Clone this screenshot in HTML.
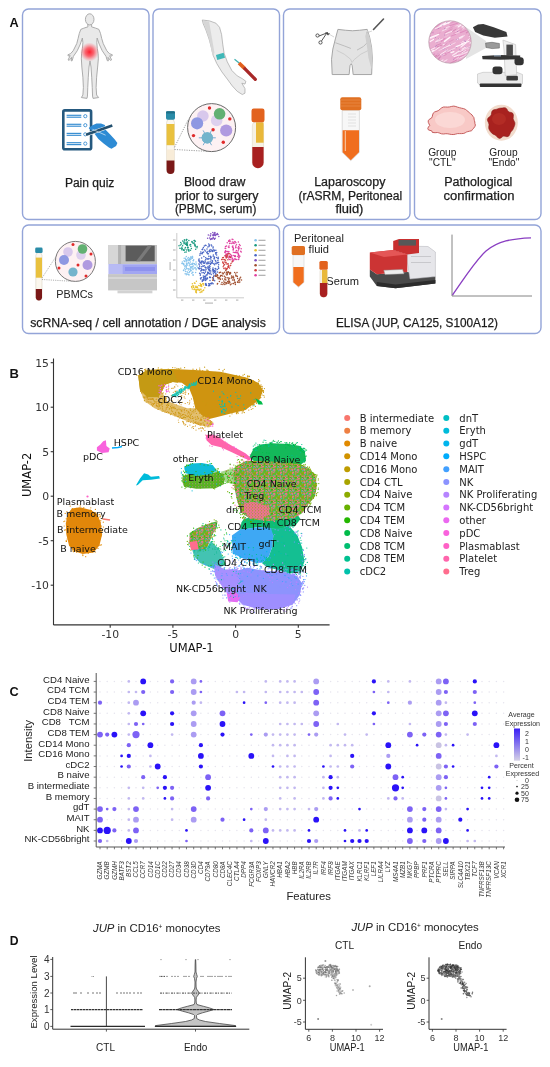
<!DOCTYPE html><html><head><meta charset="utf-8"><style>html,body{margin:0;padding:0;background:#fff;width:550px;height:1067px;overflow:hidden}svg{display:block}</style></head><body>
<svg width="550" height="1067" viewBox="0 0 550 1067">
<rect x="22.5" y="9" width="126.5" height="210.5" rx="6" fill="#fff" stroke="#93a4d8" stroke-width="1.4"/>
<rect x="153" y="9" width="126.5" height="210.5" rx="6" fill="#fff" stroke="#93a4d8" stroke-width="1.4"/>
<rect x="283.5" y="9" width="126.5" height="210.5" rx="6" fill="#fff" stroke="#93a4d8" stroke-width="1.4"/>
<rect x="414.5" y="9" width="126.5" height="210.5" rx="6" fill="#fff" stroke="#93a4d8" stroke-width="1.4"/>
<rect x="22.5" y="225" width="257.0" height="108.5" rx="6" fill="#fff" stroke="#93a4d8" stroke-width="1.4"/>
<rect x="283.5" y="225" width="257.5" height="108.5" rx="6" fill="#fff" stroke="#93a4d8" stroke-width="1.4"/>
<text x="9.6" y="27" font-size="12.5" text-anchor="start" font-family="Liberation Sans, Arial, sans-serif" font-weight="bold" fill="#111" textLength="9.2" lengthAdjust="spacingAndGlyphs">A</text>
<g transform="translate(62,10) scale(0.10183)"><polygon points="252.0,140.0 255.0,165.0 215.0,178.0 185.0,190.0 170.0,230.0 158.0,280.0 145.0,330.0 110.0,400.0 85.0,428.0 58.0,440.0 62.0,452.0 80.0,448.0 60.0,490.0 70.0,495.0 95.0,465.0 90.0,500.0 100.0,498.0 112.0,455.0 150.0,400.0 180.0,335.0 200.0,275.0 205.0,320.0 200.0,380.0 192.0,430.0 190.0,480.0 195.0,560.0 205.0,660.0 210.0,760.0 205.0,835.0 190.0,860.0 245.0,868.0 250.0,845.0 253.0,760.0 258.0,660.0 265.0,560.0 275.0,500.0 285.0,560.0 292.0,660.0 297.0,760.0 300.0,845.0 305.0,868.0 360.0,860.0 340.0,835.0 335.0,760.0 340.0,660.0 350.0,560.0 357.0,480.0 355.0,430.0 347.0,380.0 342.0,320.0 345.0,275.0 365.0,335.0 395.0,400.0 432.0,455.0 445.0,498.0 455.0,500.0 452.0,465.0 475.0,495.0 487.0,490.0 468.0,450.0 490.0,452.0 495.0,440.0 465.0,428.0 440.0,400.0 405.0,330.0 390.0,280.0 378.0,230.0 362.0,190.0 330.0,178.0 290.0,165.0 292.0,140.0" fill="#e9e9e9" stroke="#a5a5a5" stroke-width="9" stroke-linejoin="round"/><ellipse cx="272" cy="92" rx="42" ry="55" fill="#e9e9e9" stroke="#a5a5a5" stroke-width="9"/></g>
<defs><radialGradient id="glow"><stop offset="0" stop-color="#ff1e2e" stop-opacity="1"/><stop offset="0.45" stop-color="#ff3a48" stop-opacity="0.75"/><stop offset="1" stop-color="#ff6070" stop-opacity="0"/></radialGradient></defs>
<circle cx="89.5" cy="52" r="9.5" fill="url(#glow)"/>
<rect x="63.3" y="110.4" width="27.8" height="38.9" rx="1.5" fill="#fff" stroke="#25597f" stroke-width="2.6"/>
<line x1="66.6" y1="115.3" x2="81.3" y2="115.3" stroke="#3a8fd2" stroke-width="1.2"/>
<line x1="66.6" y1="117.2" x2="81.3" y2="117.2" stroke="#3a8fd2" stroke-width="1.2"/>
<circle cx="85.3" cy="116.2" r="1.6" fill="none" stroke="#3a8fd2" stroke-width="0.9"/>
<line x1="66.6" y1="124.3" x2="81.3" y2="124.3" stroke="#3a8fd2" stroke-width="1.2"/>
<line x1="66.6" y1="126.2" x2="81.3" y2="126.2" stroke="#3a8fd2" stroke-width="1.2"/>
<circle cx="85.3" cy="125.2" r="1.6" fill="none" stroke="#3a8fd2" stroke-width="0.9"/>
<line x1="66.6" y1="133.4" x2="81.3" y2="133.4" stroke="#3a8fd2" stroke-width="1.2"/>
<line x1="66.6" y1="135.3" x2="81.3" y2="135.3" stroke="#3a8fd2" stroke-width="1.2"/>
<circle cx="85.3" cy="134.3" r="1.6" fill="none" stroke="#3a8fd2" stroke-width="0.9"/>
<line x1="66.6" y1="142.7" x2="81.3" y2="142.7" stroke="#3a8fd2" stroke-width="1.2"/>
<line x1="66.6" y1="144.6" x2="81.3" y2="144.6" stroke="#3a8fd2" stroke-width="1.2"/>
<circle cx="85.3" cy="143.6" r="1.6" fill="none" stroke="#3a8fd2" stroke-width="0.9"/>
<polygon points="88.9,127.8 92.5,125.2 96.4,123.6 101.0,123.6 104.9,124.9 105.6,129.8 110.2,134.4 114.8,139.6 117.4,142.9 116.1,146.1 111.5,148.8 108.9,147.5 103.6,143.5 98.4,138.9 94.5,133.7 91.9,130.4 88.9,128.5" fill="#2e8bd4" stroke="none" stroke-width="0.8" stroke-linejoin="round"/>
<line x1="86" y1="134.8" x2="112.3" y2="125.6" stroke="#fff" stroke-width="3.6"/><line x1="86" y1="134.8" x2="112.3" y2="125.6" stroke="#23506f" stroke-width="2.6"/>
<line x1="92.5" y1="129.3" x2="105.6" y2="135.2" stroke="#fff" stroke-width="0.6"/>
<g transform="translate(155,10) scale(0.22727)"><polygon points="208.0,44.0 240.0,48.0 268.0,58.0 284.0,76.0 293.0,108.0 298.0,150.0 304.0,190.0 318.0,228.0 338.0,266.0 362.0,290.0 384.0,302.0 400.0,314.0 396.0,326.0 382.0,322.0 396.0,346.0 396.0,366.0 384.0,372.0 362.0,358.0 340.0,334.0 318.0,304.0 294.0,272.0 272.0,236.0 256.0,200.0 248.0,165.0 238.0,128.0 224.0,88.0 212.0,60.0" fill="#ececec" stroke="#a0a0a0" stroke-width="3" stroke-linejoin="round"/><polygon points="210,46 238,52 250,120 262,190 252,196 238,128 222,80" fill="#d6d6d6"/><polygon points="268,198 302,188 308,210 274,220" fill="#3fb8b8"/></g>
<line x1="234.5" y1="59.2" x2="239.5" y2="63.3" stroke="#3fb0b0" stroke-width="1.2"/>
<line x1="239" y1="63" x2="244.8" y2="68.6" stroke="#e2601e" stroke-width="3.6"/>
<line x1="245" y1="68.8" x2="255.3" y2="79.3" stroke="#a82828" stroke-width="3.3" stroke-linecap="round"/>
<rect x="166.6" y="119" width="7.8" height="54.5" rx="3.5" fill="#fbf7ee" stroke="#d0c8b8" stroke-width="0.5"/>
<rect x="166.6" y="124" width="7.8" height="21.2" fill="#e9c13e"/>
<rect x="166.6" y="149.5" width="7.8" height="11" fill="#f8ecd8"/>
<path d="M166.6,160.4 h7.8 v9.6 a3.9,3.9 0 0 1 -7.8,0 Z" fill="#7a1818"/>
<rect x="166" y="111.3" width="9" height="8.4" rx="1.6" fill="#2a8ca8"/><rect x="166" y="111.3" width="9" height="2.2" rx="1" fill="#1f6f88"/>
<line x1="174.5" y1="147.3" x2="188" y2="120" stroke="#777" stroke-width="0.7" stroke-dasharray="1.2,1.2"/>
<line x1="174.5" y1="149.5" x2="207" y2="151.3" stroke="#777" stroke-width="0.7" stroke-dasharray="1.2,1.2"/>
<circle cx="211.6" cy="127.6" r="24" fill="#fdf1f3" stroke="#6a6a6a" stroke-width="1"/>
<circle cx="202.9" cy="116" r="5.8" fill="#d8c8ec"/>
<circle cx="216.7" cy="120.4" r="5.8" fill="#ddd0ee"/>
<circle cx="219.6" cy="113.8" r="5.8" fill="#62b072"/>
<circle cx="197.1" cy="123.3" r="6.1" fill="#8e98e2"/>
<circle cx="226.2" cy="130.5" r="6.1" fill="#b09ae0"/>
<circle cx="207.3" cy="137.8" r="5.6" fill="#74b4cc"/>
<circle cx="209.5" cy="108" r="1.7" fill="#e02a2a"/>
<circle cx="229.8" cy="118.9" r="1.7" fill="#e02a2a"/>
<circle cx="213.1" cy="129.8" r="1.7" fill="#e02a2a"/>
<circle cx="193.5" cy="135.6" r="1.7" fill="#e02a2a"/>
<circle cx="223.3" cy="142.2" r="1.7" fill="#e02a2a"/>
<line x1="207.3" y1="137.8" x2="215.8" y2="137.8" stroke="#5a9ac8" stroke-width="0.8"/>
<line x1="207.3" y1="137.8" x2="211.6" y2="145.2" stroke="#5a9ac8" stroke-width="0.8"/>
<line x1="207.3" y1="137.8" x2="203.1" y2="145.2" stroke="#5a9ac8" stroke-width="0.8"/>
<line x1="207.3" y1="137.8" x2="198.8" y2="137.8" stroke="#5a9ac8" stroke-width="0.8"/>
<line x1="207.3" y1="137.8" x2="203.1" y2="130.4" stroke="#5a9ac8" stroke-width="0.8"/>
<line x1="207.3" y1="137.8" x2="211.6" y2="130.4" stroke="#5a9ac8" stroke-width="0.8"/>
<circle cx="207.3" cy="137.8" r="5.6" fill="#74b4cc"/>
<rect x="252.3" y="121" width="11.3" height="46.7" rx="5" fill="#f6f1e4" stroke="#d8d0c0" stroke-width="0.5"/>
<rect x="256" y="122.3" width="7.6" height="20.4" fill="#e9b83a"/>
<path d="M252.3,147 h11.3 v15.5 a5.65,5.65 0 0 1 -11.3,0 Z" fill="#a82020"/>
<rect x="251.5" y="108.6" width="13" height="13.7" rx="2.2" fill="#e2621e"/>
<g transform="translate(315,16) scale(0.12728)"><polygon points="180.0,105.0 240.0,112.0 295.0,116.0 350.0,112.0 410.0,105.0 430.0,170.0 445.0,250.0 450.0,330.0 445.0,460.0 300.0,460.0 292.0,390.0 285.0,375.0 275.0,390.0 268.0,460.0 135.0,460.0 130.0,340.0 140.0,260.0 160.0,180.0" fill="#e3e3e3" stroke="#9c9c9c" stroke-width="7" stroke-linejoin="round"/><polyline points="160,210 230,235 282,255" fill="none" stroke="#b0b0b0" stroke-width="6"/><polyline points="425,195 380,240 330,268" fill="none" stroke="#b0b0b0" stroke-width="6"/><polyline points="170,270 230,300 280,340 290,365" fill="none" stroke="#c0c0c0" stroke-width="5"/><polyline points="420,270 360,300 305,345 292,365" fill="none" stroke="#c0c0c0" stroke-width="5"/><polygon points="410,105 430,170 445,250 450,330 445,420 420,330 410,250 395,160" fill="#cfcfcf"/></g>
<g stroke="#444" stroke-width="0.9" fill="none"><circle cx="317.5" cy="35.5" r="1.6"/><circle cx="320.5" cy="42.5" r="1.6"/><line x1="319" y1="36" x2="328" y2="32.5"/><line x1="321.5" y1="41" x2="326.5" y2="33.5"/></g>
<path d="M325,32 L330,33.5 L328,35.5 Z" fill="#444"/><line x1="328" y1="33.5" x2="334" y2="37" stroke="#bbb" stroke-width="0.6"/>
<line x1="373.5" y1="29.5" x2="383.5" y2="19" stroke="#555" stroke-width="1.6" stroke-linecap="round"/><line x1="372" y1="31" x2="366" y2="33" stroke="#bbb" stroke-width="0.6"/>
<path d="M342.2,110.3 h17.2 v42 L350.8,160.7 L342.2,152.3 Z" fill="#f7f7f7" stroke="#c8c8c8" stroke-width="0.6"/>
<path d="M342.6,130.2 h16.4 v22.1 L350.8,160.2 L342.6,152.3 Z" fill="#f06e1e"/>
<line x1="345.3" y1="131" x2="345.3" y2="151" stroke="#fbd0b0" stroke-width="1"/>
<line x1="348" y1="114" x2="356" y2="114" stroke="#c8c8c8" stroke-width="0.5"/>
<line x1="348" y1="117" x2="356" y2="117" stroke="#c8c8c8" stroke-width="0.5"/>
<line x1="348" y1="120" x2="356" y2="120" stroke="#c8c8c8" stroke-width="0.5"/>
<line x1="348" y1="123" x2="356" y2="123" stroke="#c8c8c8" stroke-width="0.5"/>
<line x1="348" y1="126" x2="356" y2="126" stroke="#c8c8c8" stroke-width="0.5"/>
<rect x="340.3" y="97.3" width="21" height="13" rx="2" fill="#e07022"/>
<line x1="341" y1="100" x2="360.6" y2="100" stroke="#ea8a48" stroke-width="0.8"/>
<line x1="341" y1="103" x2="360.6" y2="103" stroke="#ea8a48" stroke-width="0.8"/>
<line x1="341" y1="106" x2="360.6" y2="106" stroke="#ea8a48" stroke-width="0.8"/>
<polygon points="463,25 486,41 486,48 466,59" fill="#e4e4e4"/>
<defs><clipPath id="tcl"><circle cx="450" cy="42" r="21.2"/></clipPath></defs><g clip-path="url(#tcl)"><rect x="428" y="20" width="44" height="44" fill="#eaaed0"/><line x1="433.9" y1="51.1" x2="439.5" y2="47.2" stroke="#fff4fa" stroke-width="0.9" stroke-linecap="round"/><line x1="464.8" y1="42.6" x2="469.4" y2="38.7" stroke="#fff4fa" stroke-width="0.7" stroke-linecap="round"/><line x1="470.8" y1="38.6" x2="474.5" y2="37.4" stroke="#e090c0" stroke-width="1.2" stroke-linecap="round"/><line x1="428.0" y1="65.9" x2="434.8" y2="62.7" stroke="#fbe8f3" stroke-width="1.3" stroke-linecap="round"/><line x1="471.9" y1="43.9" x2="478.8" y2="41.8" stroke="#fbe8f3" stroke-width="1.1" stroke-linecap="round"/><line x1="433.4" y1="57.2" x2="436.7" y2="55.4" stroke="#d98ab8" stroke-width="1.3" stroke-linecap="round"/><line x1="461.0" y1="37.3" x2="464.4" y2="35.4" stroke="#f6d2e6" stroke-width="1.1" stroke-linecap="round"/><line x1="429.6" y1="27.5" x2="436.0" y2="24.6" stroke="#d98ab8" stroke-width="1.2" stroke-linecap="round"/><line x1="473.5" y1="21.4" x2="478.9" y2="18.2" stroke="#fff4fa" stroke-width="1.0" stroke-linecap="round"/><line x1="470.3" y1="60.6" x2="475.1" y2="57.9" stroke="#fff4fa" stroke-width="0.8" stroke-linecap="round"/><line x1="441.3" y1="41.3" x2="445.0" y2="38.5" stroke="#e090c0" stroke-width="1.3" stroke-linecap="round"/><line x1="473.7" y1="41.8" x2="479.2" y2="39.6" stroke="#f6d2e6" stroke-width="1.0" stroke-linecap="round"/><line x1="453.4" y1="33.3" x2="461.5" y2="29.7" stroke="#e090c0" stroke-width="0.6" stroke-linecap="round"/><line x1="442.7" y1="62.5" x2="447.0" y2="59.8" stroke="#fbe8f3" stroke-width="1.0" stroke-linecap="round"/><line x1="434.1" y1="62.3" x2="437.4" y2="59.9" stroke="#fbe8f3" stroke-width="0.9" stroke-linecap="round"/><line x1="458.4" y1="61.1" x2="466.8" y2="58.7" stroke="#e090c0" stroke-width="0.9" stroke-linecap="round"/><line x1="454.3" y1="60.4" x2="459.3" y2="57.1" stroke="#f6d2e6" stroke-width="0.8" stroke-linecap="round"/><line x1="433.8" y1="21.3" x2="440.7" y2="17.6" stroke="#fff4fa" stroke-width="1.2" stroke-linecap="round"/><line x1="428.5" y1="30.4" x2="432.3" y2="27.6" stroke="#fbe8f3" stroke-width="0.9" stroke-linecap="round"/><line x1="467.8" y1="49.0" x2="471.4" y2="47.5" stroke="#fbe8f3" stroke-width="0.6" stroke-linecap="round"/><line x1="438.1" y1="64.0" x2="442.9" y2="60.1" stroke="#f6d2e6" stroke-width="1.2" stroke-linecap="round"/><line x1="469.2" y1="35.6" x2="472.8" y2="34.1" stroke="#fff4fa" stroke-width="0.8" stroke-linecap="round"/><line x1="453.9" y1="58.8" x2="457.9" y2="56.1" stroke="#e090c0" stroke-width="1.0" stroke-linecap="round"/><line x1="426.5" y1="50.9" x2="434.3" y2="47.1" stroke="#e090c0" stroke-width="0.5" stroke-linecap="round"/><line x1="438.0" y1="63.9" x2="443.1" y2="61.8" stroke="#f6d2e6" stroke-width="1.1" stroke-linecap="round"/><line x1="432.4" y1="22.6" x2="435.5" y2="20.8" stroke="#f6d2e6" stroke-width="0.5" stroke-linecap="round"/><line x1="429.5" y1="23.7" x2="433.9" y2="22.3" stroke="#fff4fa" stroke-width="0.8" stroke-linecap="round"/><line x1="449.7" y1="28.5" x2="453.1" y2="26.5" stroke="#e090c0" stroke-width="0.7" stroke-linecap="round"/><line x1="461.7" y1="54.3" x2="467.9" y2="51.8" stroke="#fbe8f3" stroke-width="1.0" stroke-linecap="round"/><line x1="464.0" y1="18.4" x2="469.3" y2="16.2" stroke="#f6d2e6" stroke-width="0.6" stroke-linecap="round"/><line x1="467.0" y1="29.2" x2="475.2" y2="25.9" stroke="#f6d2e6" stroke-width="1.0" stroke-linecap="round"/><line x1="444.7" y1="32.9" x2="452.1" y2="28.9" stroke="#d98ab8" stroke-width="0.8" stroke-linecap="round"/><line x1="449.5" y1="45.5" x2="455.2" y2="42.8" stroke="#fff4fa" stroke-width="0.6" stroke-linecap="round"/><line x1="472.4" y1="32.9" x2="478.9" y2="29.7" stroke="#fbe8f3" stroke-width="1.0" stroke-linecap="round"/><line x1="455.6" y1="33.6" x2="459.4" y2="31.9" stroke="#fff4fa" stroke-width="0.6" stroke-linecap="round"/><line x1="431.2" y1="21.7" x2="434.4" y2="20.4" stroke="#fff4fa" stroke-width="1.2" stroke-linecap="round"/><line x1="450.2" y1="63.5" x2="456.5" y2="60.1" stroke="#d98ab8" stroke-width="1.1" stroke-linecap="round"/><line x1="444.7" y1="37.3" x2="448.5" y2="35.1" stroke="#f6d2e6" stroke-width="0.5" stroke-linecap="round"/><line x1="439.2" y1="46.3" x2="444.3" y2="44.4" stroke="#fff4fa" stroke-width="0.9" stroke-linecap="round"/><line x1="444.5" y1="41.4" x2="449.9" y2="37.2" stroke="#fff4fa" stroke-width="1.4" stroke-linecap="round"/><line x1="434.3" y1="35.9" x2="440.1" y2="32.7" stroke="#e090c0" stroke-width="0.7" stroke-linecap="round"/><line x1="462.4" y1="50.1" x2="469.9" y2="46.8" stroke="#f6d2e6" stroke-width="1.1" stroke-linecap="round"/><line x1="449.1" y1="41.9" x2="453.4" y2="39.7" stroke="#e090c0" stroke-width="0.8" stroke-linecap="round"/><line x1="473.5" y1="18.3" x2="477.7" y2="15.8" stroke="#f6d2e6" stroke-width="0.8" stroke-linecap="round"/><line x1="430.4" y1="26.4" x2="435.6" y2="23.3" stroke="#e090c0" stroke-width="1.1" stroke-linecap="round"/><line x1="448.2" y1="23.2" x2="455.3" y2="18.2" stroke="#fff4fa" stroke-width="1.1" stroke-linecap="round"/><line x1="443.9" y1="45.9" x2="447.1" y2="43.3" stroke="#d98ab8" stroke-width="0.6" stroke-linecap="round"/><line x1="438.2" y1="58.6" x2="441.4" y2="56.3" stroke="#d98ab8" stroke-width="1.1" stroke-linecap="round"/><line x1="459.0" y1="52.4" x2="462.4" y2="50.4" stroke="#fff4fa" stroke-width="0.9" stroke-linecap="round"/><line x1="455.6" y1="31.5" x2="459.0" y2="29.2" stroke="#f6d2e6" stroke-width="0.8" stroke-linecap="round"/><line x1="472.8" y1="28.3" x2="477.6" y2="26.7" stroke="#fff4fa" stroke-width="1.1" stroke-linecap="round"/><line x1="426.9" y1="42.1" x2="429.9" y2="40.8" stroke="#f6d2e6" stroke-width="1.0" stroke-linecap="round"/><line x1="473.6" y1="63.2" x2="476.7" y2="60.9" stroke="#fff4fa" stroke-width="1.4" stroke-linecap="round"/><line x1="468.9" y1="35.8" x2="472.5" y2="34.4" stroke="#d98ab8" stroke-width="1.2" stroke-linecap="round"/><line x1="466.4" y1="32.8" x2="470.9" y2="29.7" stroke="#d98ab8" stroke-width="1.3" stroke-linecap="round"/><line x1="464.5" y1="58.5" x2="471.1" y2="53.0" stroke="#d98ab8" stroke-width="1.3" stroke-linecap="round"/><line x1="429.5" y1="38.9" x2="436.8" y2="35.6" stroke="#f6d2e6" stroke-width="1.4" stroke-linecap="round"/><line x1="428.9" y1="57.1" x2="434.7" y2="53.9" stroke="#e090c0" stroke-width="1.1" stroke-linecap="round"/><line x1="442.2" y1="30.9" x2="446.9" y2="28.8" stroke="#fbe8f3" stroke-width="0.8" stroke-linecap="round"/><line x1="458.1" y1="26.9" x2="461.1" y2="25.1" stroke="#fff4fa" stroke-width="1.2" stroke-linecap="round"/><line x1="428.8" y1="19.8" x2="434.3" y2="17.3" stroke="#f6d2e6" stroke-width="1.1" stroke-linecap="round"/><line x1="427.6" y1="29.2" x2="431.8" y2="26.2" stroke="#f6d2e6" stroke-width="0.7" stroke-linecap="round"/><line x1="460.9" y1="43.2" x2="463.8" y2="41.2" stroke="#fbe8f3" stroke-width="1.2" stroke-linecap="round"/><line x1="460.9" y1="47.1" x2="466.2" y2="42.8" stroke="#fff4fa" stroke-width="1.1" stroke-linecap="round"/><line x1="449.7" y1="25.8" x2="457.4" y2="23.2" stroke="#e090c0" stroke-width="1.2" stroke-linecap="round"/><line x1="428.7" y1="50.7" x2="434.9" y2="47.7" stroke="#fbe8f3" stroke-width="1.1" stroke-linecap="round"/><line x1="472.6" y1="36.7" x2="480.6" y2="33.6" stroke="#fbe8f3" stroke-width="1.3" stroke-linecap="round"/><line x1="469.8" y1="26.3" x2="473.8" y2="24.0" stroke="#e090c0" stroke-width="0.5" stroke-linecap="round"/><line x1="433.8" y1="62.7" x2="438.8" y2="59.1" stroke="#d98ab8" stroke-width="1.3" stroke-linecap="round"/><line x1="452.6" y1="55.2" x2="459.0" y2="51.4" stroke="#fbe8f3" stroke-width="1.3" stroke-linecap="round"/><line x1="437.5" y1="46.8" x2="442.3" y2="45.1" stroke="#d98ab8" stroke-width="1.1" stroke-linecap="round"/><line x1="432.3" y1="19.3" x2="436.6" y2="15.8" stroke="#e090c0" stroke-width="1.0" stroke-linecap="round"/><line x1="461.5" y1="53.6" x2="465.2" y2="51.4" stroke="#d98ab8" stroke-width="1.0" stroke-linecap="round"/><line x1="440.2" y1="25.7" x2="446.3" y2="22.4" stroke="#fff4fa" stroke-width="1.1" stroke-linecap="round"/><line x1="462.1" y1="49.2" x2="465.9" y2="46.9" stroke="#fff4fa" stroke-width="0.9" stroke-linecap="round"/><line x1="448.9" y1="19.9" x2="456.5" y2="17.0" stroke="#fff4fa" stroke-width="0.7" stroke-linecap="round"/><line x1="454.1" y1="56.5" x2="461.3" y2="54.5" stroke="#fff4fa" stroke-width="1.2" stroke-linecap="round"/><line x1="432.8" y1="19.6" x2="439.3" y2="15.4" stroke="#fff4fa" stroke-width="1.3" stroke-linecap="round"/><line x1="435.5" y1="28.9" x2="442.0" y2="25.4" stroke="#fbe8f3" stroke-width="1.2" stroke-linecap="round"/><line x1="427.3" y1="62.0" x2="430.5" y2="60.0" stroke="#d98ab8" stroke-width="0.8" stroke-linecap="round"/><line x1="456.2" y1="46.7" x2="462.8" y2="44.0" stroke="#fff4fa" stroke-width="1.3" stroke-linecap="round"/><line x1="457.5" y1="53.2" x2="462.9" y2="51.4" stroke="#d98ab8" stroke-width="0.6" stroke-linecap="round"/><line x1="466.7" y1="60.7" x2="469.8" y2="59.3" stroke="#f6d2e6" stroke-width="0.8" stroke-linecap="round"/><line x1="462.1" y1="62.9" x2="465.4" y2="61.4" stroke="#d98ab8" stroke-width="1.1" stroke-linecap="round"/><line x1="435.9" y1="41.9" x2="442.6" y2="39.0" stroke="#fff4fa" stroke-width="0.7" stroke-linecap="round"/><line x1="470.2" y1="43.1" x2="472.8" y2="41.4" stroke="#fff4fa" stroke-width="1.3" stroke-linecap="round"/><line x1="459.4" y1="37.9" x2="462.8" y2="36.3" stroke="#fbe8f3" stroke-width="1.3" stroke-linecap="round"/><line x1="473.8" y1="29.2" x2="480.3" y2="25.9" stroke="#d98ab8" stroke-width="0.9" stroke-linecap="round"/><line x1="443.9" y1="48.5" x2="449.7" y2="45.0" stroke="#fff4fa" stroke-width="0.8" stroke-linecap="round"/><line x1="456.5" y1="39.9" x2="462.2" y2="37.7" stroke="#fbe8f3" stroke-width="0.7" stroke-linecap="round"/><line x1="466.9" y1="61.1" x2="474.6" y2="58.5" stroke="#e090c0" stroke-width="1.2" stroke-linecap="round"/><line x1="430.2" y1="41.5" x2="433.5" y2="39.4" stroke="#fff4fa" stroke-width="1.2" stroke-linecap="round"/><line x1="440.4" y1="64.3" x2="444.8" y2="60.6" stroke="#f6d2e6" stroke-width="0.7" stroke-linecap="round"/><line x1="466.7" y1="28.6" x2="469.6" y2="26.4" stroke="#fff4fa" stroke-width="1.0" stroke-linecap="round"/><line x1="431.9" y1="23.9" x2="437.4" y2="19.4" stroke="#f6d2e6" stroke-width="0.7" stroke-linecap="round"/><line x1="436.5" y1="45.3" x2="440.7" y2="43.7" stroke="#d98ab8" stroke-width="0.9" stroke-linecap="round"/><line x1="459.5" y1="57.0" x2="464.6" y2="55.1" stroke="#e090c0" stroke-width="1.4" stroke-linecap="round"/><line x1="443.2" y1="55.7" x2="446.2" y2="54.6" stroke="#d98ab8" stroke-width="0.9" stroke-linecap="round"/><line x1="449.1" y1="19.8" x2="454.8" y2="16.0" stroke="#fff4fa" stroke-width="1.2" stroke-linecap="round"/><line x1="460.5" y1="43.5" x2="464.2" y2="41.8" stroke="#e090c0" stroke-width="0.8" stroke-linecap="round"/><line x1="438.7" y1="62.0" x2="443.0" y2="59.9" stroke="#fff4fa" stroke-width="0.6" stroke-linecap="round"/><line x1="441.6" y1="56.1" x2="447.9" y2="52.0" stroke="#fbe8f3" stroke-width="0.6" stroke-linecap="round"/><line x1="438.9" y1="50.5" x2="446.8" y2="47.3" stroke="#fff4fa" stroke-width="0.5" stroke-linecap="round"/><line x1="450.6" y1="23.1" x2="459.0" y2="20.3" stroke="#e090c0" stroke-width="0.7" stroke-linecap="round"/><line x1="435.5" y1="41.7" x2="439.5" y2="38.9" stroke="#fbe8f3" stroke-width="0.8" stroke-linecap="round"/><line x1="446.4" y1="27.6" x2="449.4" y2="26.6" stroke="#fff4fa" stroke-width="0.7" stroke-linecap="round"/><line x1="426.6" y1="55.1" x2="433.3" y2="50.6" stroke="#fff4fa" stroke-width="1.4" stroke-linecap="round"/><line x1="451.4" y1="36.0" x2="455.8" y2="34.4" stroke="#e090c0" stroke-width="1.0" stroke-linecap="round"/><line x1="443.7" y1="24.9" x2="448.4" y2="22.7" stroke="#fff4fa" stroke-width="1.3" stroke-linecap="round"/><line x1="458.6" y1="55.1" x2="465.3" y2="52.8" stroke="#f6d2e6" stroke-width="1.4" stroke-linecap="round"/><line x1="460.5" y1="32.6" x2="466.4" y2="30.3" stroke="#e090c0" stroke-width="1.2" stroke-linecap="round"/><line x1="445.0" y1="48.0" x2="449.3" y2="46.4" stroke="#d98ab8" stroke-width="0.7" stroke-linecap="round"/><line x1="462.8" y1="29.1" x2="465.9" y2="26.9" stroke="#fff4fa" stroke-width="0.5" stroke-linecap="round"/><line x1="473.0" y1="42.0" x2="479.9" y2="39.9" stroke="#e090c0" stroke-width="1.0" stroke-linecap="round"/><line x1="469.3" y1="36.3" x2="476.9" y2="32.3" stroke="#fbe8f3" stroke-width="1.2" stroke-linecap="round"/><line x1="432.6" y1="18.2" x2="435.9" y2="16.9" stroke="#fbe8f3" stroke-width="0.9" stroke-linecap="round"/><line x1="429.6" y1="33.7" x2="433.3" y2="32.1" stroke="#e090c0" stroke-width="1.0" stroke-linecap="round"/><line x1="440.0" y1="54.8" x2="447.3" y2="50.0" stroke="#fbe8f3" stroke-width="1.0" stroke-linecap="round"/><line x1="459.7" y1="58.1" x2="467.7" y2="54.3" stroke="#fff4fa" stroke-width="0.7" stroke-linecap="round"/><line x1="468.3" y1="30.7" x2="472.9" y2="28.6" stroke="#e090c0" stroke-width="1.0" stroke-linecap="round"/><line x1="442.9" y1="48.3" x2="450.3" y2="45.5" stroke="#fbe8f3" stroke-width="0.8" stroke-linecap="round"/><line x1="472.5" y1="20.1" x2="479.3" y2="16.5" stroke="#fbe8f3" stroke-width="1.1" stroke-linecap="round"/><line x1="464.6" y1="26.3" x2="470.6" y2="24.2" stroke="#fff4fa" stroke-width="1.0" stroke-linecap="round"/><line x1="455.8" y1="26.1" x2="463.0" y2="23.8" stroke="#fff4fa" stroke-width="0.6" stroke-linecap="round"/><line x1="445.8" y1="33.7" x2="452.7" y2="31.0" stroke="#fff4fa" stroke-width="0.8" stroke-linecap="round"/><line x1="461.8" y1="53.0" x2="465.6" y2="50.6" stroke="#fff4fa" stroke-width="0.8" stroke-linecap="round"/><line x1="462.9" y1="27.1" x2="471.2" y2="24.3" stroke="#fff4fa" stroke-width="1.1" stroke-linecap="round"/><line x1="448.1" y1="51.3" x2="455.1" y2="48.0" stroke="#fbe8f3" stroke-width="0.7" stroke-linecap="round"/><line x1="468.3" y1="61.8" x2="471.3" y2="60.1" stroke="#f6d2e6" stroke-width="1.1" stroke-linecap="round"/><line x1="465.2" y1="61.7" x2="471.5" y2="59.2" stroke="#fff4fa" stroke-width="0.5" stroke-linecap="round"/><line x1="451.0" y1="52.6" x2="453.9" y2="51.7" stroke="#fff4fa" stroke-width="1.3" stroke-linecap="round"/><line x1="430.3" y1="37.6" x2="438.6" y2="34.4" stroke="#fff4fa" stroke-width="1.3" stroke-linecap="round"/><line x1="462.0" y1="26.9" x2="465.9" y2="24.2" stroke="#fbe8f3" stroke-width="1.2" stroke-linecap="round"/><line x1="470.5" y1="24.8" x2="478.1" y2="21.0" stroke="#fff4fa" stroke-width="1.1" stroke-linecap="round"/><line x1="444.8" y1="53.7" x2="449.8" y2="52.1" stroke="#e090c0" stroke-width="1.0" stroke-linecap="round"/><line x1="435.7" y1="29.5" x2="440.5" y2="27.8" stroke="#e090c0" stroke-width="0.8" stroke-linecap="round"/><line x1="452.5" y1="31.4" x2="456.0" y2="29.2" stroke="#d98ab8" stroke-width="1.0" stroke-linecap="round"/><line x1="461.8" y1="43.6" x2="468.9" y2="41.4" stroke="#fff4fa" stroke-width="1.1" stroke-linecap="round"/><line x1="435.8" y1="26.6" x2="440.8" y2="23.0" stroke="#e090c0" stroke-width="1.4" stroke-linecap="round"/><line x1="434.9" y1="58.0" x2="439.8" y2="54.7" stroke="#d98ab8" stroke-width="1.0" stroke-linecap="round"/><circle cx="439.3" cy="58.1" r="0.45" fill="#9a70c0"/><circle cx="456.3" cy="47.7" r="0.45" fill="#9a70c0"/><circle cx="433.1" cy="32.9" r="0.45" fill="#9a70c0"/><circle cx="470.6" cy="28.9" r="0.45" fill="#9a70c0"/><circle cx="451.7" cy="50.6" r="0.45" fill="#9a70c0"/><circle cx="450.5" cy="44.4" r="0.45" fill="#9a70c0"/><circle cx="470.7" cy="54.4" r="0.45" fill="#9a70c0"/><circle cx="438.4" cy="38.9" r="0.45" fill="#9a70c0"/><circle cx="446.5" cy="50.1" r="0.45" fill="#9a70c0"/><circle cx="457.7" cy="31.5" r="0.45" fill="#9a70c0"/><circle cx="458.5" cy="39.0" r="0.45" fill="#9a70c0"/><circle cx="428.7" cy="32.8" r="0.45" fill="#9a70c0"/><circle cx="444.6" cy="28.7" r="0.45" fill="#9a70c0"/><circle cx="457.5" cy="63.7" r="0.45" fill="#9a70c0"/><circle cx="469.0" cy="47.7" r="0.45" fill="#9a70c0"/><circle cx="465.7" cy="41.6" r="0.45" fill="#9a70c0"/><circle cx="453.8" cy="59.3" r="0.45" fill="#9a70c0"/><circle cx="430.6" cy="35.9" r="0.45" fill="#9a70c0"/><circle cx="444.5" cy="35.0" r="0.45" fill="#9a70c0"/><circle cx="446.8" cy="22.5" r="0.45" fill="#9a70c0"/><circle cx="457.9" cy="62.1" r="0.45" fill="#9a70c0"/><circle cx="438.3" cy="28.2" r="0.45" fill="#9a70c0"/><circle cx="442.7" cy="55.0" r="0.45" fill="#9a70c0"/><circle cx="438.0" cy="53.9" r="0.45" fill="#9a70c0"/><circle cx="435.6" cy="46.2" r="0.45" fill="#9a70c0"/><circle cx="459.7" cy="49.6" r="0.45" fill="#9a70c0"/><circle cx="431.7" cy="62.1" r="0.45" fill="#9a70c0"/><circle cx="465.3" cy="41.2" r="0.45" fill="#9a70c0"/><circle cx="465.8" cy="46.4" r="0.45" fill="#9a70c0"/><circle cx="435.4" cy="37.5" r="0.45" fill="#9a70c0"/><circle cx="464.1" cy="40.4" r="0.45" fill="#9a70c0"/><circle cx="429.8" cy="27.3" r="0.45" fill="#9a70c0"/><circle cx="436.2" cy="45.8" r="0.45" fill="#9a70c0"/><circle cx="456.3" cy="39.7" r="0.45" fill="#9a70c0"/><circle cx="445.8" cy="62.4" r="0.45" fill="#9a70c0"/><circle cx="443.1" cy="49.6" r="0.45" fill="#9a70c0"/><circle cx="437.0" cy="42.6" r="0.45" fill="#9a70c0"/><circle cx="435.9" cy="25.0" r="0.45" fill="#9a70c0"/><circle cx="442.8" cy="25.1" r="0.45" fill="#9a70c0"/><circle cx="444.8" cy="48.7" r="0.45" fill="#9a70c0"/></g><circle cx="450" cy="42" r="21.2" fill="none" stroke="#b89aa8" stroke-width="0.7"/>
<polygon points="477.5,74.0 483.0,72.3 517.0,72.3 522.5,74.5 522.5,83.5 519.0,85.0 480.0,85.0 477.5,83.0" fill="#ececec" stroke="#b4b4b4" stroke-width="0.5" stroke-linejoin="round"/>
<rect x="479.8" y="83.4" width="41.6" height="3.6" rx="0.8" fill="#333"/>
<rect x="506.4" y="75.8" width="11.5" height="4.6" rx="1.2" fill="#3c3c3c"/>
<polygon points="502.9,40.0 515.6,44.6 516.7,74.7 505.2,75.8 504.0,50.0" fill="#efefef" stroke="#b4b4b4" stroke-width="0.5" stroke-linejoin="round"/>
<rect x="506.4" y="44.6" width="6.5" height="11" fill="#4a4a4a"/>
<rect x="492.5" y="66.6" width="10" height="7.6" rx="3" fill="#333"/>
<rect x="514.5" y="57.3" width="9.2" height="8" rx="3" fill="#333"/>
<polygon points="482.1,56.0 500.0,55.0 520.2,55.6 520.2,59.2 500.0,59.8 482.6,59.2" fill="#353535" stroke="none" stroke-width="0.8" stroke-linejoin="round"/>
<rect x="494" y="55.2" width="7" height="1.2" fill="#99aabb"/>
<polygon points="485.6,43.0 492.0,42.3 499.4,43.5 499.4,48.1 492.0,48.6 486.0,47.5" fill="#9a9a9a" stroke="#555" stroke-width="0.5" stroke-linejoin="round"/>
<polygon points="472.9,27.3 478.0,24.5 483.3,23.9 493.7,27.3 506.4,31.9 507.5,36.6 494.8,37.7 483.3,35.4 475.2,31.9" fill="#383838" stroke="none" stroke-width="0.8" stroke-linejoin="round"/>
<polygon points="474.9,123.5 475.4,125.0 474.9,126.5 474.0,127.9 473.2,128.6 472.5,129.3 472.3,130.1 471.3,130.8 469.6,131.2 467.8,131.6 466.3,132.1 465.2,132.8 463.8,133.4 461.7,133.6 459.5,133.6 457.5,133.6 455.7,134.1 453.8,134.5 451.7,134.5 449.7,134.2 447.8,133.8 445.8,133.7 443.5,134.0 441.4,133.8 439.9,133.2 438.8,132.8 437.4,132.5 435.1,132.7 433.0,132.5 432.0,132.1 431.9,131.4 431.7,130.8 430.0,130.4 428.4,129.9 427.8,128.5 428.4,127.0 429.7,125.5 429.1,124.0 428.3,122.4 428.2,120.8 429.3,119.3 431.4,118.2 432.2,116.8 432.6,115.0 433.2,113.2 434.7,111.9 437.0,111.2 438.8,110.3 440.2,109.0 441.7,107.8 443.5,107.0 445.6,107.0 447.7,107.1 449.7,106.9 451.7,106.4 453.8,106.1 455.8,106.5 457.7,107.2 459.6,107.7 461.5,108.2 463.5,108.6 465.3,109.3 466.7,110.4 468.1,111.5 469.4,112.7 470.7,113.8 472.0,114.9 472.9,116.3 473.9,117.6 474.1,119.1 474.4,120.6 474.8,122.0" fill="#f8c9c6" stroke="#c05050" stroke-width="0.9" stroke-linejoin="round"/>
<ellipse cx="450" cy="120" rx="15" ry="8" fill="#fbdcd8" opacity="0.8"/>
<defs><radialGradient id="endo"><stop offset="0.6" stop-color="#a01c1c"/><stop offset="0.8" stop-color="#b0402c"/><stop offset="1" stop-color="#f0d8c8" stop-opacity="0"/></radialGradient></defs>
<ellipse cx="501.3" cy="122.7" rx="16.5" ry="18" fill="#f2dccd"/>
<polygon points="514.9,122.7 514.9,124.3 514.5,125.8 513.9,127.3 513.3,128.7 512.6,130.0 511.6,131.1 510.7,132.2 510.1,133.6 509.4,135.2 508.3,136.4 506.9,136.7 505.2,136.3 503.8,136.0 502.6,136.6 501.3,137.7 499.8,138.4 498.4,138.1 497.2,136.9 496.1,135.7 495.0,134.9 493.7,134.4 492.4,133.7 491.4,132.7 490.4,131.6 489.6,130.3 488.9,128.9 488.7,127.3 488.9,125.7 489.0,124.2 488.5,122.7 487.7,121.1 487.4,119.4 488.1,117.9 489.5,116.8 490.7,115.8 491.3,114.5 491.5,112.8 492.0,111.2 493.1,110.1 494.6,109.6 496.0,109.4 497.3,109.0 498.6,108.5 499.9,108.2 501.3,108.1 502.7,107.9 504.1,107.7 505.6,107.9 506.8,108.9 507.6,110.4 508.5,111.6 509.7,112.2 511.4,112.5 512.8,113.3 513.4,114.9 513.3,116.7 513.1,118.4 513.5,119.8 514.2,121.2" fill="#a8221f" stroke="#8a1a1a" stroke-width="0.6" stroke-linejoin="round"/>
<ellipse cx="499" cy="119" rx="7" ry="6" fill="#b83028" opacity="0.7"/>
<text x="442.3" y="155.5" font-size="10.2" text-anchor="middle" font-family="Liberation Sans, Arial, sans-serif" fill="#222">Group</text>
<text x="442.3" y="165.6" font-size="10.2" text-anchor="middle" font-family="Liberation Sans, Arial, sans-serif" fill="#222">"CTL"</text>
<text x="503.4" y="155.5" font-size="10.2" text-anchor="middle" font-family="Liberation Sans, Arial, sans-serif" fill="#222">Group</text>
<text x="503.9" y="165.6" font-size="10.2" text-anchor="middle" font-family="Liberation Sans, Arial, sans-serif" fill="#222">"Endo"</text>
<rect x="35.8" y="252.6" width="6.2" height="47.7" rx="3" fill="#fbf7ee" stroke="#d0c8b8" stroke-width="0.5"/>
<rect x="35.8" y="257.6" width="6.2" height="20.1" fill="#e9c13e"/>
<path d="M35.8,289 h6.2 v8.3 a3.1,3.1 0 0 1 -6.2,0 Z" fill="#7a1818"/>
<rect x="35.2" y="247.6" width="7.4" height="5.4" rx="1.3" fill="#2a8ca8"/>
<line x1="42" y1="278" x2="57" y2="255" stroke="#777" stroke-width="0.6" stroke-dasharray="1.1,1.1"/>
<line x1="42" y1="279.5" x2="72" y2="281.3" stroke="#777" stroke-width="0.6" stroke-dasharray="1.1,1.1"/>
<circle cx="75.4" cy="261.4" r="20" fill="#fdf1f3" stroke="#6a6a6a" stroke-width="0.9"/>
<circle cx="68" cy="252" r="4.8" fill="#d8c8ec"/>
<circle cx="81" cy="255" r="4.8" fill="#ddd0ee"/>
<circle cx="82.5" cy="249" r="4.8" fill="#62b072"/>
<circle cx="64" cy="260" r="5" fill="#8e98e2"/>
<circle cx="87.5" cy="265" r="5" fill="#b09ae0"/>
<circle cx="73" cy="272" r="4.6" fill="#74b4cc"/>
<circle cx="73" cy="244.5" r="1.5" fill="#e02a2a"/>
<circle cx="91" cy="254" r="1.5" fill="#e02a2a"/>
<circle cx="78" cy="265" r="1.5" fill="#e02a2a"/>
<circle cx="59" cy="268" r="1.5" fill="#e02a2a"/>
<circle cx="86" cy="276" r="1.5" fill="#e02a2a"/>
<text x="74.6" y="298.4" font-size="10.8" text-anchor="middle" font-family="Liberation Sans, Arial, sans-serif" fill="#222">PBMCs</text>
<rect x="108.1" y="245" width="48.9" height="19.2" fill="#c4c4c4"/>
<rect x="108.1" y="245" width="10" height="19.2" fill="#d6d6d6"/>
<rect x="118.1" y="245" width="3" height="19.2" fill="#b0b0b0"/>
<rect x="125.6" y="245.6" width="29.1" height="15.7" fill="#5c5c5c"/>
<polygon points="136,261.3 148,245.6 152,245.6 140,261.3" fill="#7a7a7a"/>
<rect x="108.7" y="264.2" width="48.3" height="9.9" fill="#a2a6f2"/>
<rect x="108.7" y="264.2" width="14" height="9.9" fill="#b8bbf4"/>
<rect x="125" y="267" width="30" height="4" fill="#8e92ee"/>
<rect x="108.1" y="274.1" width="48.9" height="16.3" fill="#c6c6c6"/>
<rect x="108.1" y="277" width="48.9" height="2" fill="#d6d6d6"/>
<rect x="117.5" y="290.4" width="34.9" height="2.9" fill="#d2d2d2"/>
<line x1="176.8" y1="233" x2="176.8" y2="297.8" stroke="#999" stroke-width="0.5"/><line x1="176.8" y1="297.8" x2="244" y2="297.8" stroke="#999" stroke-width="0.5"/>
<circle cx="189.0" cy="251.1" r="0.75" fill="#1a9a80"/>
<circle cx="183.4" cy="250.0" r="0.75" fill="#1a9a80"/>
<circle cx="186.8" cy="244.7" r="0.75" fill="#1a9a80"/>
<circle cx="197.2" cy="246.5" r="0.75" fill="#1a9a80"/>
<circle cx="188.2" cy="249.4" r="0.75" fill="#1a9a80"/>
<circle cx="195.0" cy="245.9" r="0.75" fill="#1a9a80"/>
<circle cx="191.9" cy="241.9" r="0.75" fill="#1a9a80"/>
<circle cx="186.1" cy="243.9" r="0.75" fill="#1a9a80"/>
<circle cx="182.6" cy="241.1" r="0.75" fill="#1a9a80"/>
<circle cx="180.4" cy="245.1" r="0.75" fill="#1a9a80"/>
<circle cx="187.4" cy="244.4" r="0.75" fill="#1a9a80"/>
<circle cx="188.9" cy="240.6" r="0.75" fill="#1a9a80"/>
<circle cx="188.0" cy="247.2" r="0.75" fill="#1a9a80"/>
<circle cx="192.8" cy="242.4" r="0.75" fill="#1a9a80"/>
<circle cx="186.8" cy="239.6" r="0.75" fill="#1a9a80"/>
<circle cx="186.5" cy="239.5" r="0.75" fill="#1a9a80"/>
<circle cx="181.8" cy="249.8" r="0.75" fill="#1a9a80"/>
<circle cx="179.9" cy="248.3" r="0.75" fill="#1a9a80"/>
<circle cx="190.6" cy="244.5" r="0.75" fill="#1a9a80"/>
<circle cx="191.4" cy="248.5" r="0.75" fill="#1a9a80"/>
<circle cx="194.6" cy="245.0" r="0.75" fill="#1a9a80"/>
<circle cx="184.9" cy="243.3" r="0.75" fill="#1a9a80"/>
<circle cx="182.6" cy="245.8" r="0.75" fill="#1a9a80"/>
<circle cx="184.2" cy="250.3" r="0.75" fill="#1a9a80"/>
<circle cx="180.7" cy="242.6" r="0.75" fill="#1a9a80"/>
<circle cx="184.7" cy="239.9" r="0.75" fill="#1a9a80"/>
<circle cx="194.4" cy="240.5" r="0.75" fill="#1a9a80"/>
<circle cx="186.7" cy="243.5" r="0.75" fill="#1a9a80"/>
<circle cx="194.5" cy="240.7" r="0.75" fill="#1a9a80"/>
<circle cx="194.4" cy="243.0" r="0.75" fill="#1a9a80"/>
<circle cx="187.5" cy="242.9" r="0.75" fill="#1a9a80"/>
<circle cx="192.0" cy="241.4" r="0.75" fill="#1a9a80"/>
<circle cx="188.0" cy="247.7" r="0.75" fill="#1a9a80"/>
<circle cx="194.2" cy="240.5" r="0.75" fill="#1a9a80"/>
<circle cx="195.7" cy="249.3" r="0.75" fill="#1a9a80"/>
<circle cx="185.4" cy="247.4" r="0.75" fill="#1a9a80"/>
<circle cx="186.2" cy="251.9" r="0.75" fill="#1a9a80"/>
<circle cx="189.9" cy="244.9" r="0.75" fill="#1a9a80"/>
<circle cx="187.0" cy="245.0" r="0.75" fill="#1a9a80"/>
<circle cx="187.4" cy="242.1" r="0.75" fill="#1a9a80"/>
<circle cx="195.4" cy="241.3" r="0.75" fill="#1a9a80"/>
<circle cx="179.0" cy="245.8" r="0.75" fill="#1a9a80"/>
<circle cx="187.5" cy="247.8" r="0.75" fill="#1a9a80"/>
<circle cx="187.1" cy="245.3" r="0.75" fill="#1a9a80"/>
<circle cx="190.5" cy="250.2" r="0.75" fill="#1a9a80"/>
<circle cx="185.6" cy="244.2" r="0.75" fill="#1a9a80"/>
<circle cx="197.0" cy="247.7" r="0.75" fill="#1a9a80"/>
<circle cx="184.9" cy="252.3" r="0.75" fill="#1a9a80"/>
<circle cx="193.2" cy="243.4" r="0.75" fill="#1a9a80"/>
<circle cx="181.9" cy="247.2" r="0.75" fill="#1a9a80"/>
<circle cx="184.0" cy="241.8" r="0.75" fill="#1a9a80"/>
<circle cx="181.5" cy="244.0" r="0.75" fill="#1a9a80"/>
<circle cx="194.8" cy="244.2" r="0.75" fill="#1a9a80"/>
<circle cx="181.2" cy="248.5" r="0.75" fill="#1a9a80"/>
<circle cx="188.9" cy="249.8" r="0.75" fill="#1a9a80"/>
<circle cx="195.3" cy="245.3" r="0.75" fill="#1a9a80"/>
<circle cx="187.5" cy="245.8" r="0.75" fill="#1a9a80"/>
<circle cx="182.3" cy="248.7" r="0.75" fill="#1a9a80"/>
<circle cx="195.9" cy="246.7" r="0.75" fill="#1a9a80"/>
<circle cx="186.9" cy="244.7" r="0.75" fill="#1a9a80"/>
<circle cx="184.0" cy="242.6" r="0.75" fill="#1a9a80"/>
<circle cx="186.1" cy="242.2" r="0.75" fill="#1a9a80"/>
<circle cx="186.3" cy="240.2" r="0.75" fill="#1a9a80"/>
<circle cx="190.8" cy="246.2" r="0.75" fill="#1a9a80"/>
<circle cx="184.3" cy="239.9" r="0.75" fill="#1a9a80"/>
<circle cx="188.5" cy="250.7" r="0.75" fill="#1a9a80"/>
<circle cx="184.0" cy="243.8" r="0.75" fill="#1a9a80"/>
<circle cx="185.0" cy="249.0" r="0.75" fill="#1a9a80"/>
<circle cx="183.5" cy="250.0" r="0.75" fill="#1a9a80"/>
<circle cx="186.7" cy="250.1" r="0.75" fill="#1a9a80"/>
<circle cx="213.1" cy="235.8" r="0.75" fill="#8050c0"/>
<circle cx="208.3" cy="234.9" r="0.75" fill="#8050c0"/>
<circle cx="212.0" cy="238.5" r="0.75" fill="#8050c0"/>
<circle cx="214.0" cy="234.4" r="0.75" fill="#8050c0"/>
<circle cx="214.5" cy="239.2" r="0.75" fill="#8050c0"/>
<circle cx="212.4" cy="235.1" r="0.75" fill="#8050c0"/>
<circle cx="211.5" cy="238.8" r="0.75" fill="#8050c0"/>
<circle cx="215.0" cy="233.9" r="0.75" fill="#8050c0"/>
<circle cx="214.5" cy="235.0" r="0.75" fill="#8050c0"/>
<circle cx="210.5" cy="239.6" r="0.75" fill="#8050c0"/>
<circle cx="216.0" cy="234.5" r="0.75" fill="#8050c0"/>
<circle cx="213.3" cy="238.0" r="0.75" fill="#8050c0"/>
<circle cx="210.4" cy="236.1" r="0.75" fill="#8050c0"/>
<circle cx="214.9" cy="232.6" r="0.75" fill="#8050c0"/>
<circle cx="214.3" cy="238.7" r="0.75" fill="#8050c0"/>
<circle cx="214.7" cy="233.1" r="0.75" fill="#8050c0"/>
<circle cx="214.2" cy="234.0" r="0.75" fill="#8050c0"/>
<circle cx="215.2" cy="238.3" r="0.75" fill="#8050c0"/>
<circle cx="213.8" cy="234.2" r="0.75" fill="#8050c0"/>
<circle cx="210.8" cy="238.9" r="0.75" fill="#8050c0"/>
<circle cx="209.6" cy="237.9" r="0.75" fill="#8050c0"/>
<circle cx="215.1" cy="235.6" r="0.75" fill="#8050c0"/>
<circle cx="218.8" cy="236.6" r="0.75" fill="#8050c0"/>
<circle cx="217.3" cy="233.4" r="0.75" fill="#8050c0"/>
<circle cx="207.6" cy="238.3" r="0.75" fill="#8050c0"/>
<circle cx="215.5" cy="235.6" r="0.75" fill="#8050c0"/>
<circle cx="212.8" cy="232.4" r="0.75" fill="#8050c0"/>
<circle cx="210.8" cy="233.7" r="0.75" fill="#8050c0"/>
<circle cx="212.1" cy="239.0" r="0.75" fill="#8050c0"/>
<circle cx="213.2" cy="237.7" r="0.75" fill="#8050c0"/>
<circle cx="210.3" cy="235.2" r="0.75" fill="#8050c0"/>
<circle cx="213.5" cy="235.6" r="0.75" fill="#8050c0"/>
<circle cx="217.1" cy="234.4" r="0.75" fill="#8050c0"/>
<circle cx="218.0" cy="234.5" r="0.75" fill="#8050c0"/>
<circle cx="216.7" cy="234.5" r="0.75" fill="#8050c0"/>
<circle cx="240.7" cy="251.3" r="0.75" fill="#e040a0"/>
<circle cx="235.3" cy="256.1" r="0.75" fill="#e040a0"/>
<circle cx="229.6" cy="243.4" r="0.75" fill="#e040a0"/>
<circle cx="225.5" cy="256.2" r="0.75" fill="#e040a0"/>
<circle cx="229.0" cy="246.1" r="0.75" fill="#e040a0"/>
<circle cx="232.9" cy="261.2" r="0.75" fill="#e040a0"/>
<circle cx="225.1" cy="252.0" r="0.75" fill="#e040a0"/>
<circle cx="230.6" cy="254.6" r="0.75" fill="#e040a0"/>
<circle cx="225.1" cy="248.3" r="0.75" fill="#e040a0"/>
<circle cx="236.8" cy="259.5" r="0.75" fill="#e040a0"/>
<circle cx="240.1" cy="245.6" r="0.75" fill="#e040a0"/>
<circle cx="233.3" cy="249.6" r="0.75" fill="#e040a0"/>
<circle cx="227.2" cy="242.8" r="0.75" fill="#e040a0"/>
<circle cx="237.5" cy="252.3" r="0.75" fill="#e040a0"/>
<circle cx="232.2" cy="258.8" r="0.75" fill="#e040a0"/>
<circle cx="227.5" cy="254.2" r="0.75" fill="#e040a0"/>
<circle cx="233.1" cy="250.0" r="0.75" fill="#e040a0"/>
<circle cx="236.0" cy="251.9" r="0.75" fill="#e040a0"/>
<circle cx="234.7" cy="252.6" r="0.75" fill="#e040a0"/>
<circle cx="241.2" cy="248.8" r="0.75" fill="#e040a0"/>
<circle cx="238.5" cy="254.7" r="0.75" fill="#e040a0"/>
<circle cx="231.0" cy="256.4" r="0.75" fill="#e040a0"/>
<circle cx="228.7" cy="257.9" r="0.75" fill="#e040a0"/>
<circle cx="228.4" cy="246.9" r="0.75" fill="#e040a0"/>
<circle cx="234.9" cy="256.6" r="0.75" fill="#e040a0"/>
<circle cx="237.8" cy="256.5" r="0.75" fill="#e040a0"/>
<circle cx="231.8" cy="243.6" r="0.75" fill="#e040a0"/>
<circle cx="236.3" cy="252.8" r="0.75" fill="#e040a0"/>
<circle cx="228.1" cy="256.9" r="0.75" fill="#e040a0"/>
<circle cx="234.1" cy="243.6" r="0.75" fill="#e040a0"/>
<circle cx="235.2" cy="241.9" r="0.75" fill="#e040a0"/>
<circle cx="228.0" cy="253.4" r="0.75" fill="#e040a0"/>
<circle cx="225.5" cy="250.7" r="0.75" fill="#e040a0"/>
<circle cx="226.4" cy="255.1" r="0.75" fill="#e040a0"/>
<circle cx="228.7" cy="251.9" r="0.75" fill="#e040a0"/>
<circle cx="225.7" cy="248.4" r="0.75" fill="#e040a0"/>
<circle cx="238.3" cy="253.8" r="0.75" fill="#e040a0"/>
<circle cx="225.5" cy="255.3" r="0.75" fill="#e040a0"/>
<circle cx="238.1" cy="247.8" r="0.75" fill="#e040a0"/>
<circle cx="239.4" cy="244.4" r="0.75" fill="#e040a0"/>
<circle cx="232.5" cy="258.3" r="0.75" fill="#e040a0"/>
<circle cx="238.8" cy="257.7" r="0.75" fill="#e040a0"/>
<circle cx="228.6" cy="241.3" r="0.75" fill="#e040a0"/>
<circle cx="234.9" cy="241.4" r="0.75" fill="#e040a0"/>
<circle cx="232.3" cy="241.9" r="0.75" fill="#e040a0"/>
<circle cx="238.5" cy="255.8" r="0.75" fill="#e040a0"/>
<circle cx="236.4" cy="250.6" r="0.75" fill="#e040a0"/>
<circle cx="233.3" cy="248.1" r="0.75" fill="#e040a0"/>
<circle cx="235.4" cy="252.5" r="0.75" fill="#e040a0"/>
<circle cx="235.8" cy="247.2" r="0.75" fill="#e040a0"/>
<circle cx="241.2" cy="252.1" r="0.75" fill="#e040a0"/>
<circle cx="239.0" cy="257.8" r="0.75" fill="#e040a0"/>
<circle cx="229.2" cy="241.2" r="0.75" fill="#e040a0"/>
<circle cx="239.5" cy="247.9" r="0.75" fill="#e040a0"/>
<circle cx="233.5" cy="248.4" r="0.75" fill="#e040a0"/>
<circle cx="233.7" cy="242.3" r="0.75" fill="#e040a0"/>
<circle cx="232.4" cy="246.8" r="0.75" fill="#e040a0"/>
<circle cx="232.9" cy="239.4" r="0.75" fill="#e040a0"/>
<circle cx="237.8" cy="253.0" r="0.75" fill="#e040a0"/>
<circle cx="225.5" cy="246.4" r="0.75" fill="#e040a0"/>
<circle cx="233.2" cy="255.4" r="0.75" fill="#e040a0"/>
<circle cx="233.0" cy="259.5" r="0.75" fill="#e040a0"/>
<circle cx="233.1" cy="243.3" r="0.75" fill="#e040a0"/>
<circle cx="229.2" cy="255.9" r="0.75" fill="#e040a0"/>
<circle cx="229.6" cy="256.5" r="0.75" fill="#e040a0"/>
<circle cx="238.5" cy="254.6" r="0.75" fill="#e040a0"/>
<circle cx="238.7" cy="249.3" r="0.75" fill="#e040a0"/>
<circle cx="232.9" cy="245.9" r="0.75" fill="#e040a0"/>
<circle cx="230.2" cy="241.2" r="0.75" fill="#e040a0"/>
<circle cx="230.0" cy="243.2" r="0.75" fill="#e040a0"/>
<circle cx="225.8" cy="251.4" r="0.75" fill="#e040a0"/>
<circle cx="235.8" cy="247.8" r="0.75" fill="#e040a0"/>
<circle cx="239.4" cy="256.1" r="0.75" fill="#e040a0"/>
<circle cx="238.6" cy="246.4" r="0.75" fill="#e040a0"/>
<circle cx="225.9" cy="253.9" r="0.75" fill="#e040a0"/>
<circle cx="234.8" cy="256.0" r="0.75" fill="#e040a0"/>
<circle cx="235.2" cy="258.9" r="0.75" fill="#e040a0"/>
<circle cx="231.3" cy="255.6" r="0.75" fill="#e040a0"/>
<circle cx="229.8" cy="240.0" r="0.75" fill="#e040a0"/>
<circle cx="230.9" cy="259.8" r="0.75" fill="#e040a0"/>
<circle cx="225.9" cy="256.0" r="0.75" fill="#e040a0"/>
<circle cx="229.0" cy="247.5" r="0.75" fill="#e040a0"/>
<circle cx="233.3" cy="252.2" r="0.75" fill="#e040a0"/>
<circle cx="227.5" cy="251.4" r="0.75" fill="#e040a0"/>
<circle cx="235.5" cy="256.6" r="0.75" fill="#e040a0"/>
<circle cx="229.5" cy="259.6" r="0.75" fill="#e040a0"/>
<circle cx="238.6" cy="259.5" r="0.75" fill="#e040a0"/>
<circle cx="226.1" cy="251.6" r="0.75" fill="#e040a0"/>
<circle cx="224.9" cy="252.6" r="0.75" fill="#e040a0"/>
<circle cx="235.9" cy="242.8" r="0.75" fill="#e040a0"/>
<circle cx="225.4" cy="251.6" r="0.75" fill="#e040a0"/>
<circle cx="236.5" cy="244.8" r="0.75" fill="#e040a0"/>
<circle cx="232.1" cy="239.3" r="0.75" fill="#e040a0"/>
<circle cx="228.8" cy="251.6" r="0.75" fill="#e040a0"/>
<circle cx="233.7" cy="260.2" r="0.75" fill="#e040a0"/>
<circle cx="229.0" cy="240.5" r="0.75" fill="#e040a0"/>
<circle cx="235.7" cy="246.0" r="0.75" fill="#e040a0"/>
<circle cx="234.7" cy="255.9" r="0.75" fill="#e040a0"/>
<circle cx="235.9" cy="259.4" r="0.75" fill="#e040a0"/>
<circle cx="238.4" cy="242.0" r="0.75" fill="#e040a0"/>
<circle cx="232.7" cy="261.2" r="0.75" fill="#e040a0"/>
<circle cx="230.7" cy="257.4" r="0.75" fill="#e040a0"/>
<circle cx="232.7" cy="247.2" r="0.75" fill="#e040a0"/>
<circle cx="239.9" cy="256.3" r="0.75" fill="#e040a0"/>
<circle cx="231.6" cy="257.1" r="0.75" fill="#e040a0"/>
<circle cx="226.5" cy="245.9" r="0.75" fill="#e040a0"/>
<circle cx="238.2" cy="250.8" r="0.75" fill="#e040a0"/>
<circle cx="227.2" cy="253.6" r="0.75" fill="#e040a0"/>
<circle cx="234.7" cy="259.0" r="0.75" fill="#e040a0"/>
<circle cx="238.4" cy="248.5" r="0.75" fill="#e040a0"/>
<circle cx="186.9" cy="265.0" r="0.75" fill="#88c4ec"/>
<circle cx="188.7" cy="274.5" r="0.75" fill="#88c4ec"/>
<circle cx="195.6" cy="272.4" r="0.75" fill="#88c4ec"/>
<circle cx="191.9" cy="264.2" r="0.75" fill="#88c4ec"/>
<circle cx="194.4" cy="263.7" r="0.75" fill="#88c4ec"/>
<circle cx="190.7" cy="257.0" r="0.75" fill="#88c4ec"/>
<circle cx="187.8" cy="274.3" r="0.75" fill="#88c4ec"/>
<circle cx="185.5" cy="258.2" r="0.75" fill="#88c4ec"/>
<circle cx="189.0" cy="275.1" r="0.75" fill="#88c4ec"/>
<circle cx="196.3" cy="263.9" r="0.75" fill="#88c4ec"/>
<circle cx="187.0" cy="265.2" r="0.75" fill="#88c4ec"/>
<circle cx="184.8" cy="266.2" r="0.75" fill="#88c4ec"/>
<circle cx="188.3" cy="257.5" r="0.75" fill="#88c4ec"/>
<circle cx="186.5" cy="264.2" r="0.75" fill="#88c4ec"/>
<circle cx="185.7" cy="259.4" r="0.75" fill="#88c4ec"/>
<circle cx="193.1" cy="274.9" r="0.75" fill="#88c4ec"/>
<circle cx="188.1" cy="262.9" r="0.75" fill="#88c4ec"/>
<circle cx="192.5" cy="264.4" r="0.75" fill="#88c4ec"/>
<circle cx="186.2" cy="273.8" r="0.75" fill="#88c4ec"/>
<circle cx="184.6" cy="261.5" r="0.75" fill="#88c4ec"/>
<circle cx="186.3" cy="260.3" r="0.75" fill="#88c4ec"/>
<circle cx="188.4" cy="270.1" r="0.75" fill="#88c4ec"/>
<circle cx="196.1" cy="269.7" r="0.75" fill="#88c4ec"/>
<circle cx="189.9" cy="258.3" r="0.75" fill="#88c4ec"/>
<circle cx="189.4" cy="259.7" r="0.75" fill="#88c4ec"/>
<circle cx="189.2" cy="272.5" r="0.75" fill="#88c4ec"/>
<circle cx="190.9" cy="264.5" r="0.75" fill="#88c4ec"/>
<circle cx="185.6" cy="265.8" r="0.75" fill="#88c4ec"/>
<circle cx="190.3" cy="259.8" r="0.75" fill="#88c4ec"/>
<circle cx="187.1" cy="271.8" r="0.75" fill="#88c4ec"/>
<circle cx="182.7" cy="263.6" r="0.75" fill="#88c4ec"/>
<circle cx="185.1" cy="273.7" r="0.75" fill="#88c4ec"/>
<circle cx="193.0" cy="269.5" r="0.75" fill="#88c4ec"/>
<circle cx="192.0" cy="268.1" r="0.75" fill="#88c4ec"/>
<circle cx="191.0" cy="257.2" r="0.75" fill="#88c4ec"/>
<circle cx="191.1" cy="270.2" r="0.75" fill="#88c4ec"/>
<circle cx="183.5" cy="270.5" r="0.75" fill="#88c4ec"/>
<circle cx="192.6" cy="257.7" r="0.75" fill="#88c4ec"/>
<circle cx="187.0" cy="263.8" r="0.75" fill="#88c4ec"/>
<circle cx="186.8" cy="268.8" r="0.75" fill="#88c4ec"/>
<circle cx="183.5" cy="264.6" r="0.75" fill="#88c4ec"/>
<circle cx="190.9" cy="271.0" r="0.75" fill="#88c4ec"/>
<circle cx="190.0" cy="264.2" r="0.75" fill="#88c4ec"/>
<circle cx="192.3" cy="256.6" r="0.75" fill="#88c4ec"/>
<circle cx="194.6" cy="264.0" r="0.75" fill="#88c4ec"/>
<circle cx="183.7" cy="263.4" r="0.75" fill="#88c4ec"/>
<circle cx="184.2" cy="258.3" r="0.75" fill="#88c4ec"/>
<circle cx="187.9" cy="260.7" r="0.75" fill="#88c4ec"/>
<circle cx="193.4" cy="260.4" r="0.75" fill="#88c4ec"/>
<circle cx="184.0" cy="260.7" r="0.75" fill="#88c4ec"/>
<circle cx="197.0" cy="266.1" r="0.75" fill="#88c4ec"/>
<circle cx="186.6" cy="259.7" r="0.75" fill="#88c4ec"/>
<circle cx="184.1" cy="264.9" r="0.75" fill="#88c4ec"/>
<circle cx="191.8" cy="273.2" r="0.75" fill="#88c4ec"/>
<circle cx="195.4" cy="267.7" r="0.75" fill="#88c4ec"/>
<circle cx="186.3" cy="260.4" r="0.75" fill="#88c4ec"/>
<circle cx="182.3" cy="261.9" r="0.75" fill="#88c4ec"/>
<circle cx="192.1" cy="263.6" r="0.75" fill="#88c4ec"/>
<circle cx="191.4" cy="258.0" r="0.75" fill="#88c4ec"/>
<circle cx="194.4" cy="268.0" r="0.75" fill="#88c4ec"/>
<circle cx="189.9" cy="268.9" r="0.75" fill="#88c4ec"/>
<circle cx="181.9" cy="263.6" r="0.75" fill="#88c4ec"/>
<circle cx="186.3" cy="274.8" r="0.75" fill="#88c4ec"/>
<circle cx="188.7" cy="262.4" r="0.75" fill="#88c4ec"/>
<circle cx="193.7" cy="259.7" r="0.75" fill="#88c4ec"/>
<circle cx="196.0" cy="262.1" r="0.75" fill="#88c4ec"/>
<circle cx="189.4" cy="259.9" r="0.75" fill="#88c4ec"/>
<circle cx="192.5" cy="256.5" r="0.75" fill="#88c4ec"/>
<circle cx="193.2" cy="260.7" r="0.75" fill="#88c4ec"/>
<circle cx="189.9" cy="258.7" r="0.75" fill="#88c4ec"/>
<circle cx="191.0" cy="267.4" r="0.75" fill="#88c4ec"/>
<circle cx="193.0" cy="268.2" r="0.75" fill="#88c4ec"/>
<circle cx="192.8" cy="272.3" r="0.75" fill="#88c4ec"/>
<circle cx="187.8" cy="258.7" r="0.75" fill="#88c4ec"/>
<circle cx="183.8" cy="270.0" r="0.75" fill="#88c4ec"/>
<circle cx="187.8" cy="272.7" r="0.75" fill="#88c4ec"/>
<circle cx="189.9" cy="259.4" r="0.75" fill="#88c4ec"/>
<circle cx="193.0" cy="275.0" r="0.75" fill="#88c4ec"/>
<circle cx="188.7" cy="259.8" r="0.75" fill="#88c4ec"/>
<circle cx="185.5" cy="271.5" r="0.75" fill="#88c4ec"/>
<circle cx="186.5" cy="263.2" r="0.75" fill="#88c4ec"/>
<circle cx="193.5" cy="266.1" r="0.75" fill="#88c4ec"/>
<circle cx="190.4" cy="262.1" r="0.75" fill="#88c4ec"/>
<circle cx="186.1" cy="267.2" r="0.75" fill="#88c4ec"/>
<circle cx="190.6" cy="270.2" r="0.75" fill="#88c4ec"/>
<circle cx="186.9" cy="268.4" r="0.75" fill="#88c4ec"/>
<circle cx="192.4" cy="266.6" r="0.75" fill="#88c4ec"/>
<circle cx="192.6" cy="272.4" r="0.75" fill="#88c4ec"/>
<circle cx="190.9" cy="266.6" r="0.75" fill="#88c4ec"/>
<circle cx="184.7" cy="268.2" r="0.75" fill="#88c4ec"/>
<circle cx="189.2" cy="263.7" r="0.75" fill="#88c4ec"/>
<circle cx="185.4" cy="269.8" r="0.75" fill="#88c4ec"/>
<circle cx="197.7" cy="267.7" r="0.75" fill="#88c4ec"/>
<circle cx="190.2" cy="269.2" r="0.75" fill="#88c4ec"/>
<circle cx="186.4" cy="266.7" r="0.75" fill="#88c4ec"/>
<circle cx="186.2" cy="261.7" r="0.75" fill="#88c4ec"/>
<circle cx="191.0" cy="267.7" r="0.75" fill="#88c4ec"/>
<circle cx="189.1" cy="260.5" r="0.75" fill="#88c4ec"/>
<circle cx="191.0" cy="259.0" r="0.75" fill="#88c4ec"/>
<circle cx="193.9" cy="263.6" r="0.75" fill="#88c4ec"/>
<circle cx="189.7" cy="271.4" r="0.75" fill="#88c4ec"/>
<circle cx="192.3" cy="258.3" r="0.75" fill="#88c4ec"/>
<circle cx="188.3" cy="268.7" r="0.75" fill="#88c4ec"/>
<circle cx="186.3" cy="256.6" r="0.75" fill="#88c4ec"/>
<circle cx="189.3" cy="265.7" r="0.75" fill="#88c4ec"/>
<circle cx="192.2" cy="266.6" r="0.75" fill="#88c4ec"/>
<circle cx="190.5" cy="267.8" r="0.75" fill="#88c4ec"/>
<circle cx="196.0" cy="268.8" r="0.75" fill="#88c4ec"/>
<circle cx="192.7" cy="263.2" r="0.75" fill="#88c4ec"/>
<circle cx="195.4" cy="264.8" r="0.75" fill="#88c4ec"/>
<circle cx="211.8" cy="246.0" r="0.75" fill="#4a66c4"/>
<circle cx="210.3" cy="263.6" r="0.75" fill="#4a66c4"/>
<circle cx="205.7" cy="280.4" r="0.75" fill="#4a66c4"/>
<circle cx="211.4" cy="262.9" r="0.75" fill="#4a66c4"/>
<circle cx="205.9" cy="283.6" r="0.75" fill="#4a66c4"/>
<circle cx="213.4" cy="273.7" r="0.75" fill="#4a66c4"/>
<circle cx="204.1" cy="280.0" r="0.75" fill="#4a66c4"/>
<circle cx="212.5" cy="261.2" r="0.75" fill="#4a66c4"/>
<circle cx="207.9" cy="247.0" r="0.75" fill="#4a66c4"/>
<circle cx="212.5" cy="251.6" r="0.75" fill="#4a66c4"/>
<circle cx="214.1" cy="259.1" r="0.75" fill="#4a66c4"/>
<circle cx="204.2" cy="270.1" r="0.75" fill="#4a66c4"/>
<circle cx="209.8" cy="250.7" r="0.75" fill="#4a66c4"/>
<circle cx="208.0" cy="273.6" r="0.75" fill="#4a66c4"/>
<circle cx="207.0" cy="248.9" r="0.75" fill="#4a66c4"/>
<circle cx="206.9" cy="252.3" r="0.75" fill="#4a66c4"/>
<circle cx="204.4" cy="265.7" r="0.75" fill="#4a66c4"/>
<circle cx="208.1" cy="261.9" r="0.75" fill="#4a66c4"/>
<circle cx="199.6" cy="268.8" r="0.75" fill="#4a66c4"/>
<circle cx="207.1" cy="259.1" r="0.75" fill="#4a66c4"/>
<circle cx="209.3" cy="284.2" r="0.75" fill="#4a66c4"/>
<circle cx="202.3" cy="249.6" r="0.75" fill="#4a66c4"/>
<circle cx="213.4" cy="254.9" r="0.75" fill="#4a66c4"/>
<circle cx="215.7" cy="254.1" r="0.75" fill="#4a66c4"/>
<circle cx="205.3" cy="276.0" r="0.75" fill="#4a66c4"/>
<circle cx="214.5" cy="270.8" r="0.75" fill="#4a66c4"/>
<circle cx="211.8" cy="263.1" r="0.75" fill="#4a66c4"/>
<circle cx="205.3" cy="262.1" r="0.75" fill="#4a66c4"/>
<circle cx="215.9" cy="273.2" r="0.75" fill="#4a66c4"/>
<circle cx="208.6" cy="269.6" r="0.75" fill="#4a66c4"/>
<circle cx="213.3" cy="278.8" r="0.75" fill="#4a66c4"/>
<circle cx="207.5" cy="263.8" r="0.75" fill="#4a66c4"/>
<circle cx="209.8" cy="285.5" r="0.75" fill="#4a66c4"/>
<circle cx="210.0" cy="280.5" r="0.75" fill="#4a66c4"/>
<circle cx="200.4" cy="274.0" r="0.75" fill="#4a66c4"/>
<circle cx="201.1" cy="253.6" r="0.75" fill="#4a66c4"/>
<circle cx="204.1" cy="263.0" r="0.75" fill="#4a66c4"/>
<circle cx="209.8" cy="270.3" r="0.75" fill="#4a66c4"/>
<circle cx="210.1" cy="258.7" r="0.75" fill="#4a66c4"/>
<circle cx="218.7" cy="268.1" r="0.75" fill="#4a66c4"/>
<circle cx="211.6" cy="283.8" r="0.75" fill="#4a66c4"/>
<circle cx="214.6" cy="272.4" r="0.75" fill="#4a66c4"/>
<circle cx="210.1" cy="283.8" r="0.75" fill="#4a66c4"/>
<circle cx="202.2" cy="253.8" r="0.75" fill="#4a66c4"/>
<circle cx="209.2" cy="245.4" r="0.75" fill="#4a66c4"/>
<circle cx="203.9" cy="278.4" r="0.75" fill="#4a66c4"/>
<circle cx="205.2" cy="267.3" r="0.75" fill="#4a66c4"/>
<circle cx="212.6" cy="251.1" r="0.75" fill="#4a66c4"/>
<circle cx="210.4" cy="256.2" r="0.75" fill="#4a66c4"/>
<circle cx="201.6" cy="261.5" r="0.75" fill="#4a66c4"/>
<circle cx="208.1" cy="259.2" r="0.75" fill="#4a66c4"/>
<circle cx="204.3" cy="277.0" r="0.75" fill="#4a66c4"/>
<circle cx="215.5" cy="271.8" r="0.75" fill="#4a66c4"/>
<circle cx="207.9" cy="251.4" r="0.75" fill="#4a66c4"/>
<circle cx="203.6" cy="251.9" r="0.75" fill="#4a66c4"/>
<circle cx="209.9" cy="277.1" r="0.75" fill="#4a66c4"/>
<circle cx="214.6" cy="264.7" r="0.75" fill="#4a66c4"/>
<circle cx="205.7" cy="267.6" r="0.75" fill="#4a66c4"/>
<circle cx="209.4" cy="273.4" r="0.75" fill="#4a66c4"/>
<circle cx="216.6" cy="257.5" r="0.75" fill="#4a66c4"/>
<circle cx="215.9" cy="250.2" r="0.75" fill="#4a66c4"/>
<circle cx="200.8" cy="251.9" r="0.75" fill="#4a66c4"/>
<circle cx="201.9" cy="262.0" r="0.75" fill="#4a66c4"/>
<circle cx="218.0" cy="258.6" r="0.75" fill="#4a66c4"/>
<circle cx="215.4" cy="260.4" r="0.75" fill="#4a66c4"/>
<circle cx="209.5" cy="251.7" r="0.75" fill="#4a66c4"/>
<circle cx="218.6" cy="264.7" r="0.75" fill="#4a66c4"/>
<circle cx="205.9" cy="284.6" r="0.75" fill="#4a66c4"/>
<circle cx="209.8" cy="271.0" r="0.75" fill="#4a66c4"/>
<circle cx="207.5" cy="253.8" r="0.75" fill="#4a66c4"/>
<circle cx="200.2" cy="263.0" r="0.75" fill="#4a66c4"/>
<circle cx="217.3" cy="269.6" r="0.75" fill="#4a66c4"/>
<circle cx="207.4" cy="278.6" r="0.75" fill="#4a66c4"/>
<circle cx="203.4" cy="280.0" r="0.75" fill="#4a66c4"/>
<circle cx="208.4" cy="253.7" r="0.75" fill="#4a66c4"/>
<circle cx="213.1" cy="271.9" r="0.75" fill="#4a66c4"/>
<circle cx="206.0" cy="268.1" r="0.75" fill="#4a66c4"/>
<circle cx="213.7" cy="280.1" r="0.75" fill="#4a66c4"/>
<circle cx="205.3" cy="245.2" r="0.75" fill="#4a66c4"/>
<circle cx="218.2" cy="262.5" r="0.75" fill="#4a66c4"/>
<circle cx="205.6" cy="271.1" r="0.75" fill="#4a66c4"/>
<circle cx="205.8" cy="278.2" r="0.75" fill="#4a66c4"/>
<circle cx="200.9" cy="262.5" r="0.75" fill="#4a66c4"/>
<circle cx="202.3" cy="280.0" r="0.75" fill="#4a66c4"/>
<circle cx="206.9" cy="278.9" r="0.75" fill="#4a66c4"/>
<circle cx="215.6" cy="252.7" r="0.75" fill="#4a66c4"/>
<circle cx="207.0" cy="274.9" r="0.75" fill="#4a66c4"/>
<circle cx="208.9" cy="263.0" r="0.75" fill="#4a66c4"/>
<circle cx="213.7" cy="276.3" r="0.75" fill="#4a66c4"/>
<circle cx="204.3" cy="263.1" r="0.75" fill="#4a66c4"/>
<circle cx="213.0" cy="267.9" r="0.75" fill="#4a66c4"/>
<circle cx="209.4" cy="250.8" r="0.75" fill="#4a66c4"/>
<circle cx="217.7" cy="262.6" r="0.75" fill="#4a66c4"/>
<circle cx="210.5" cy="264.5" r="0.75" fill="#4a66c4"/>
<circle cx="209.0" cy="267.2" r="0.75" fill="#4a66c4"/>
<circle cx="202.9" cy="270.0" r="0.75" fill="#4a66c4"/>
<circle cx="215.9" cy="269.9" r="0.75" fill="#4a66c4"/>
<circle cx="213.4" cy="271.5" r="0.75" fill="#4a66c4"/>
<circle cx="208.7" cy="283.8" r="0.75" fill="#4a66c4"/>
<circle cx="203.8" cy="270.3" r="0.75" fill="#4a66c4"/>
<circle cx="215.1" cy="268.8" r="0.75" fill="#4a66c4"/>
<circle cx="202.5" cy="252.6" r="0.75" fill="#4a66c4"/>
<circle cx="216.6" cy="255.1" r="0.75" fill="#4a66c4"/>
<circle cx="208.6" cy="272.7" r="0.75" fill="#4a66c4"/>
<circle cx="209.0" cy="246.4" r="0.75" fill="#4a66c4"/>
<circle cx="198.9" cy="263.9" r="0.75" fill="#4a66c4"/>
<circle cx="203.2" cy="261.4" r="0.75" fill="#4a66c4"/>
<circle cx="209.2" cy="267.4" r="0.75" fill="#4a66c4"/>
<circle cx="202.3" cy="249.4" r="0.75" fill="#4a66c4"/>
<circle cx="214.5" cy="257.0" r="0.75" fill="#4a66c4"/>
<circle cx="203.4" cy="247.6" r="0.75" fill="#4a66c4"/>
<circle cx="211.7" cy="250.0" r="0.75" fill="#4a66c4"/>
<circle cx="202.0" cy="272.7" r="0.75" fill="#4a66c4"/>
<circle cx="210.6" cy="272.9" r="0.75" fill="#4a66c4"/>
<circle cx="204.3" cy="245.9" r="0.75" fill="#4a66c4"/>
<circle cx="202.1" cy="261.1" r="0.75" fill="#4a66c4"/>
<circle cx="204.3" cy="276.4" r="0.75" fill="#4a66c4"/>
<circle cx="210.8" cy="251.6" r="0.75" fill="#4a66c4"/>
<circle cx="212.5" cy="262.9" r="0.75" fill="#4a66c4"/>
<circle cx="205.5" cy="278.9" r="0.75" fill="#4a66c4"/>
<circle cx="200.3" cy="275.2" r="0.75" fill="#4a66c4"/>
<circle cx="213.2" cy="247.1" r="0.75" fill="#4a66c4"/>
<circle cx="207.1" cy="262.6" r="0.75" fill="#4a66c4"/>
<circle cx="201.6" cy="258.0" r="0.75" fill="#4a66c4"/>
<circle cx="203.0" cy="265.9" r="0.75" fill="#4a66c4"/>
<circle cx="206.0" cy="245.6" r="0.75" fill="#4a66c4"/>
<circle cx="215.4" cy="275.3" r="0.75" fill="#4a66c4"/>
<circle cx="203.3" cy="275.9" r="0.75" fill="#4a66c4"/>
<circle cx="216.7" cy="252.5" r="0.75" fill="#4a66c4"/>
<circle cx="205.6" cy="257.7" r="0.75" fill="#4a66c4"/>
<circle cx="212.4" cy="260.7" r="0.75" fill="#4a66c4"/>
<circle cx="201.4" cy="277.8" r="0.75" fill="#4a66c4"/>
<circle cx="206.3" cy="275.0" r="0.75" fill="#4a66c4"/>
<circle cx="218.2" cy="258.7" r="0.75" fill="#4a66c4"/>
<circle cx="205.8" cy="277.0" r="0.75" fill="#4a66c4"/>
<circle cx="207.7" cy="272.5" r="0.75" fill="#4a66c4"/>
<circle cx="208.5" cy="285.8" r="0.75" fill="#4a66c4"/>
<circle cx="212.9" cy="269.8" r="0.75" fill="#4a66c4"/>
<circle cx="209.4" cy="270.6" r="0.75" fill="#4a66c4"/>
<circle cx="199.6" cy="262.0" r="0.75" fill="#4a66c4"/>
<circle cx="212.9" cy="250.8" r="0.75" fill="#4a66c4"/>
<circle cx="208.8" cy="263.6" r="0.75" fill="#4a66c4"/>
<circle cx="206.4" cy="285.2" r="0.75" fill="#4a66c4"/>
<circle cx="213.4" cy="269.6" r="0.75" fill="#4a66c4"/>
<circle cx="203.1" cy="266.2" r="0.75" fill="#4a66c4"/>
<circle cx="206.3" cy="263.7" r="0.75" fill="#4a66c4"/>
<circle cx="209.4" cy="285.5" r="0.75" fill="#4a66c4"/>
<circle cx="214.7" cy="280.7" r="0.75" fill="#4a66c4"/>
<circle cx="213.1" cy="283.8" r="0.75" fill="#4a66c4"/>
<circle cx="204.6" cy="250.0" r="0.75" fill="#4a66c4"/>
<circle cx="210.0" cy="268.8" r="0.75" fill="#4a66c4"/>
<circle cx="208.8" cy="256.2" r="0.75" fill="#4a66c4"/>
<circle cx="212.0" cy="282.7" r="0.75" fill="#4a66c4"/>
<circle cx="210.1" cy="261.7" r="0.75" fill="#4a66c4"/>
<circle cx="215.9" cy="261.3" r="0.75" fill="#4a66c4"/>
<circle cx="206.0" cy="269.6" r="0.75" fill="#4a66c4"/>
<circle cx="200.5" cy="278.3" r="0.75" fill="#4a66c4"/>
<circle cx="207.8" cy="272.5" r="0.75" fill="#4a66c4"/>
<circle cx="210.8" cy="270.9" r="0.75" fill="#4a66c4"/>
<circle cx="202.5" cy="281.1" r="0.75" fill="#4a66c4"/>
<circle cx="212.6" cy="269.3" r="0.75" fill="#4a66c4"/>
<circle cx="218.2" cy="257.2" r="0.75" fill="#4a66c4"/>
<circle cx="213.7" cy="263.7" r="0.75" fill="#4a66c4"/>
<circle cx="202.3" cy="281.2" r="0.75" fill="#4a66c4"/>
<circle cx="199.7" cy="266.7" r="0.75" fill="#4a66c4"/>
<circle cx="207.9" cy="267.8" r="0.75" fill="#4a66c4"/>
<circle cx="203.4" cy="280.0" r="0.75" fill="#4a66c4"/>
<circle cx="210.1" cy="249.5" r="0.75" fill="#4a66c4"/>
<circle cx="201.0" cy="268.4" r="0.75" fill="#4a66c4"/>
<circle cx="201.3" cy="270.4" r="0.75" fill="#4a66c4"/>
<circle cx="210.8" cy="256.8" r="0.75" fill="#4a66c4"/>
<circle cx="200.1" cy="253.7" r="0.75" fill="#4a66c4"/>
<circle cx="211.1" cy="257.7" r="0.75" fill="#4a66c4"/>
<circle cx="217.9" cy="260.6" r="0.75" fill="#4a66c4"/>
<circle cx="211.2" cy="274.4" r="0.75" fill="#4a66c4"/>
<circle cx="209.2" cy="269.6" r="0.75" fill="#4a66c4"/>
<circle cx="215.2" cy="263.2" r="0.75" fill="#4a66c4"/>
<circle cx="211.0" cy="259.9" r="0.75" fill="#4a66c4"/>
<circle cx="218.3" cy="266.7" r="0.75" fill="#4a66c4"/>
<circle cx="211.4" cy="244.9" r="0.75" fill="#4a66c4"/>
<circle cx="205.5" cy="251.0" r="0.75" fill="#4a66c4"/>
<circle cx="208.8" cy="258.6" r="0.75" fill="#4a66c4"/>
<circle cx="201.7" cy="261.5" r="0.75" fill="#4a66c4"/>
<circle cx="213.4" cy="277.9" r="0.75" fill="#4a66c4"/>
<circle cx="205.2" cy="278.4" r="0.75" fill="#4a66c4"/>
<circle cx="204.4" cy="273.5" r="0.75" fill="#4a66c4"/>
<circle cx="203.4" cy="277.6" r="0.75" fill="#4a66c4"/>
<circle cx="218.6" cy="262.5" r="0.75" fill="#4a66c4"/>
<circle cx="214.7" cy="250.4" r="0.75" fill="#4a66c4"/>
<circle cx="206.1" cy="285.2" r="0.75" fill="#4a66c4"/>
<circle cx="208.0" cy="272.3" r="0.75" fill="#4a66c4"/>
<circle cx="199.5" cy="264.9" r="0.75" fill="#4a66c4"/>
<circle cx="203.9" cy="279.2" r="0.75" fill="#4a66c4"/>
<circle cx="206.4" cy="285.2" r="0.75" fill="#4a66c4"/>
<circle cx="201.6" cy="269.2" r="0.75" fill="#4a66c4"/>
<circle cx="198.9" cy="261.1" r="0.75" fill="#4a66c4"/>
<circle cx="216.1" cy="263.7" r="0.75" fill="#4a66c4"/>
<circle cx="200.8" cy="270.9" r="0.75" fill="#4a66c4"/>
<circle cx="214.7" cy="270.8" r="0.75" fill="#4a66c4"/>
<circle cx="213.8" cy="249.8" r="0.75" fill="#4a66c4"/>
<circle cx="217.5" cy="272.1" r="0.75" fill="#4a66c4"/>
<circle cx="200.7" cy="278.9" r="0.75" fill="#4a66c4"/>
<circle cx="205.2" cy="272.2" r="0.75" fill="#4a66c4"/>
<circle cx="199.1" cy="259.1" r="0.75" fill="#4a66c4"/>
<circle cx="199.6" cy="273.2" r="0.75" fill="#4a66c4"/>
<circle cx="207.0" cy="252.7" r="0.75" fill="#4a66c4"/>
<circle cx="206.2" cy="279.2" r="0.75" fill="#4a66c4"/>
<circle cx="203.3" cy="272.6" r="0.75" fill="#4a66c4"/>
<circle cx="202.8" cy="249.0" r="0.75" fill="#4a66c4"/>
<circle cx="205.0" cy="260.9" r="0.75" fill="#4a66c4"/>
<circle cx="209.7" cy="277.6" r="0.75" fill="#4a66c4"/>
<circle cx="205.6" cy="259.8" r="0.75" fill="#4a66c4"/>
<circle cx="213.7" cy="270.8" r="0.75" fill="#4a66c4"/>
<circle cx="208.1" cy="268.5" r="0.75" fill="#4a66c4"/>
<circle cx="198.7" cy="260.1" r="0.75" fill="#4a66c4"/>
<circle cx="199.7" cy="261.1" r="0.75" fill="#4a66c4"/>
<circle cx="213.0" cy="248.1" r="0.75" fill="#4a66c4"/>
<circle cx="214.5" cy="257.7" r="0.75" fill="#4a66c4"/>
<circle cx="207.0" cy="258.4" r="0.75" fill="#4a66c4"/>
<circle cx="213.2" cy="256.2" r="0.75" fill="#4a66c4"/>
<circle cx="198.7" cy="268.1" r="0.75" fill="#4a66c4"/>
<circle cx="207.5" cy="273.9" r="0.75" fill="#4a66c4"/>
<circle cx="212.1" cy="250.5" r="0.75" fill="#4a66c4"/>
<circle cx="210.0" cy="266.8" r="0.75" fill="#4a66c4"/>
<circle cx="208.0" cy="266.5" r="0.75" fill="#4a66c4"/>
<circle cx="210.7" cy="257.2" r="0.75" fill="#4a66c4"/>
<circle cx="207.5" cy="277.9" r="0.75" fill="#4a66c4"/>
<circle cx="201.6" cy="264.0" r="0.75" fill="#4a66c4"/>
<circle cx="202.6" cy="252.7" r="0.75" fill="#4a66c4"/>
<circle cx="205.5" cy="267.6" r="0.75" fill="#4a66c4"/>
<circle cx="217.2" cy="262.7" r="0.75" fill="#4a66c4"/>
<circle cx="214.5" cy="272.0" r="0.75" fill="#4a66c4"/>
<circle cx="208.7" cy="244.1" r="0.75" fill="#4a66c4"/>
<circle cx="209.4" cy="265.8" r="0.75" fill="#4a66c4"/>
<circle cx="201.7" cy="266.7" r="0.75" fill="#4a66c4"/>
<circle cx="216.0" cy="253.2" r="0.75" fill="#4a66c4"/>
<circle cx="205.2" cy="276.8" r="0.75" fill="#4a66c4"/>
<circle cx="199.9" cy="255.2" r="0.75" fill="#4a66c4"/>
<circle cx="210.5" cy="277.6" r="0.75" fill="#4a66c4"/>
<circle cx="215.6" cy="273.9" r="0.75" fill="#4a66c4"/>
<circle cx="218.5" cy="268.4" r="0.75" fill="#4a66c4"/>
<circle cx="200.6" cy="262.6" r="0.75" fill="#4a66c4"/>
<circle cx="212.9" cy="270.2" r="0.75" fill="#4a66c4"/>
<circle cx="199.0" cy="268.8" r="0.75" fill="#4a66c4"/>
<circle cx="203.1" cy="262.3" r="0.75" fill="#4a66c4"/>
<circle cx="217.0" cy="263.1" r="0.75" fill="#4a66c4"/>
<circle cx="203.9" cy="263.3" r="0.75" fill="#4a66c4"/>
<circle cx="205.5" cy="284.0" r="0.75" fill="#4a66c4"/>
<circle cx="213.6" cy="276.3" r="0.75" fill="#4a66c4"/>
<circle cx="203.9" cy="256.4" r="0.75" fill="#4a66c4"/>
<circle cx="209.7" cy="245.1" r="0.75" fill="#4a66c4"/>
<circle cx="214.1" cy="250.9" r="0.75" fill="#4a66c4"/>
<circle cx="209.2" cy="269.9" r="0.75" fill="#4a66c4"/>
<circle cx="203.1" cy="269.8" r="0.75" fill="#4a66c4"/>
<circle cx="211.9" cy="283.4" r="0.75" fill="#4a66c4"/>
<circle cx="210.5" cy="283.6" r="0.75" fill="#4a66c4"/>
<circle cx="211.9" cy="262.2" r="0.75" fill="#4a66c4"/>
<circle cx="214.2" cy="258.2" r="0.75" fill="#4a66c4"/>
<circle cx="209.6" cy="273.8" r="0.75" fill="#4a66c4"/>
<circle cx="215.7" cy="268.5" r="0.75" fill="#4a66c4"/>
<circle cx="223.2" cy="266.7" r="0.75" fill="#d04040"/>
<circle cx="227.9" cy="259.7" r="0.75" fill="#d04040"/>
<circle cx="224.3" cy="264.6" r="0.75" fill="#d04040"/>
<circle cx="228.5" cy="265.3" r="0.75" fill="#d04040"/>
<circle cx="226.8" cy="268.6" r="0.75" fill="#d04040"/>
<circle cx="226.2" cy="263.9" r="0.75" fill="#d04040"/>
<circle cx="227.9" cy="267.1" r="0.75" fill="#d04040"/>
<circle cx="224.6" cy="259.8" r="0.75" fill="#d04040"/>
<circle cx="226.4" cy="257.8" r="0.75" fill="#d04040"/>
<circle cx="225.0" cy="255.7" r="0.75" fill="#d04040"/>
<circle cx="229.5" cy="268.1" r="0.75" fill="#d04040"/>
<circle cx="223.8" cy="265.4" r="0.75" fill="#d04040"/>
<circle cx="223.4" cy="257.6" r="0.75" fill="#d04040"/>
<circle cx="225.9" cy="262.2" r="0.75" fill="#d04040"/>
<circle cx="228.4" cy="253.8" r="0.75" fill="#d04040"/>
<circle cx="222.8" cy="261.9" r="0.75" fill="#d04040"/>
<circle cx="226.6" cy="269.5" r="0.75" fill="#d04040"/>
<circle cx="226.1" cy="257.8" r="0.75" fill="#d04040"/>
<circle cx="229.6" cy="253.8" r="0.75" fill="#d04040"/>
<circle cx="223.9" cy="268.5" r="0.75" fill="#d04040"/>
<circle cx="224.8" cy="261.9" r="0.75" fill="#d04040"/>
<circle cx="226.5" cy="256.7" r="0.75" fill="#d04040"/>
<circle cx="226.7" cy="255.0" r="0.75" fill="#d04040"/>
<circle cx="230.5" cy="265.4" r="0.75" fill="#d04040"/>
<circle cx="229.6" cy="256.8" r="0.75" fill="#d04040"/>
<circle cx="222.0" cy="259.6" r="0.75" fill="#d04040"/>
<circle cx="223.4" cy="263.5" r="0.75" fill="#d04040"/>
<circle cx="222.6" cy="257.7" r="0.75" fill="#d04040"/>
<circle cx="227.7" cy="264.0" r="0.75" fill="#d04040"/>
<circle cx="227.5" cy="255.2" r="0.75" fill="#d04040"/>
<circle cx="225.4" cy="269.1" r="0.75" fill="#d04040"/>
<circle cx="230.4" cy="257.4" r="0.75" fill="#d04040"/>
<circle cx="232.5" cy="260.9" r="0.75" fill="#d04040"/>
<circle cx="227.2" cy="256.9" r="0.75" fill="#d04040"/>
<circle cx="232.0" cy="262.0" r="0.75" fill="#d04040"/>
<circle cx="226.9" cy="256.5" r="0.75" fill="#d04040"/>
<circle cx="222.9" cy="262.4" r="0.75" fill="#d04040"/>
<circle cx="227.2" cy="268.6" r="0.75" fill="#d04040"/>
<circle cx="223.9" cy="259.5" r="0.75" fill="#d04040"/>
<circle cx="230.5" cy="265.5" r="0.75" fill="#d04040"/>
<circle cx="225.1" cy="268.1" r="0.75" fill="#d04040"/>
<circle cx="228.9" cy="266.2" r="0.75" fill="#d04040"/>
<circle cx="228.4" cy="266.6" r="0.75" fill="#d04040"/>
<circle cx="225.5" cy="260.2" r="0.75" fill="#d04040"/>
<circle cx="231.0" cy="263.5" r="0.75" fill="#d04040"/>
<circle cx="228.4" cy="267.3" r="0.75" fill="#d04040"/>
<circle cx="228.1" cy="263.8" r="0.75" fill="#d04040"/>
<circle cx="221.8" cy="259.6" r="0.75" fill="#d04040"/>
<circle cx="230.0" cy="257.0" r="0.75" fill="#d04040"/>
<circle cx="226.0" cy="262.8" r="0.75" fill="#d04040"/>
<circle cx="225.9" cy="282.4" r="0.75" fill="#a05030"/>
<circle cx="232.1" cy="277.0" r="0.75" fill="#a05030"/>
<circle cx="237.1" cy="276.2" r="0.75" fill="#a05030"/>
<circle cx="220.3" cy="279.6" r="0.75" fill="#a05030"/>
<circle cx="233.6" cy="277.2" r="0.75" fill="#a05030"/>
<circle cx="217.6" cy="275.5" r="0.75" fill="#a05030"/>
<circle cx="229.5" cy="281.6" r="0.75" fill="#a05030"/>
<circle cx="240.6" cy="277.3" r="0.75" fill="#a05030"/>
<circle cx="225.8" cy="270.4" r="0.75" fill="#a05030"/>
<circle cx="237.5" cy="281.9" r="0.75" fill="#a05030"/>
<circle cx="227.3" cy="274.2" r="0.75" fill="#a05030"/>
<circle cx="213.0" cy="280.1" r="0.75" fill="#a05030"/>
<circle cx="221.2" cy="284.2" r="0.75" fill="#a05030"/>
<circle cx="233.5" cy="283.6" r="0.75" fill="#a05030"/>
<circle cx="226.0" cy="283.7" r="0.75" fill="#a05030"/>
<circle cx="217.6" cy="283.4" r="0.75" fill="#a05030"/>
<circle cx="227.0" cy="272.3" r="0.75" fill="#a05030"/>
<circle cx="223.5" cy="273.2" r="0.75" fill="#a05030"/>
<circle cx="229.8" cy="274.2" r="0.75" fill="#a05030"/>
<circle cx="216.3" cy="276.3" r="0.75" fill="#a05030"/>
<circle cx="224.8" cy="279.1" r="0.75" fill="#a05030"/>
<circle cx="233.1" cy="283.6" r="0.75" fill="#a05030"/>
<circle cx="230.4" cy="284.8" r="0.75" fill="#a05030"/>
<circle cx="212.7" cy="277.8" r="0.75" fill="#a05030"/>
<circle cx="234.7" cy="272.4" r="0.75" fill="#a05030"/>
<circle cx="225.1" cy="279.2" r="0.75" fill="#a05030"/>
<circle cx="215.2" cy="275.6" r="0.75" fill="#a05030"/>
<circle cx="233.2" cy="276.3" r="0.75" fill="#a05030"/>
<circle cx="235.4" cy="284.6" r="0.75" fill="#a05030"/>
<circle cx="226.6" cy="272.4" r="0.75" fill="#a05030"/>
<circle cx="226.9" cy="274.9" r="0.75" fill="#a05030"/>
<circle cx="215.5" cy="276.2" r="0.75" fill="#a05030"/>
<circle cx="222.5" cy="276.1" r="0.75" fill="#a05030"/>
<circle cx="235.0" cy="282.8" r="0.75" fill="#a05030"/>
<circle cx="231.5" cy="276.0" r="0.75" fill="#a05030"/>
<circle cx="231.6" cy="278.1" r="0.75" fill="#a05030"/>
<circle cx="229.4" cy="273.1" r="0.75" fill="#a05030"/>
<circle cx="212.9" cy="280.2" r="0.75" fill="#a05030"/>
<circle cx="221.4" cy="275.4" r="0.75" fill="#a05030"/>
<circle cx="227.1" cy="277.7" r="0.75" fill="#a05030"/>
<circle cx="224.8" cy="284.6" r="0.75" fill="#a05030"/>
<circle cx="228.6" cy="279.3" r="0.75" fill="#a05030"/>
<circle cx="218.8" cy="277.5" r="0.75" fill="#a05030"/>
<circle cx="232.0" cy="277.5" r="0.75" fill="#a05030"/>
<circle cx="230.3" cy="273.3" r="0.75" fill="#a05030"/>
<circle cx="230.7" cy="273.0" r="0.75" fill="#a05030"/>
<circle cx="223.0" cy="274.0" r="0.75" fill="#a05030"/>
<circle cx="228.9" cy="283.3" r="0.75" fill="#a05030"/>
<circle cx="230.0" cy="273.5" r="0.75" fill="#a05030"/>
<circle cx="228.5" cy="283.1" r="0.75" fill="#a05030"/>
<circle cx="234.2" cy="280.5" r="0.75" fill="#a05030"/>
<circle cx="217.4" cy="275.4" r="0.75" fill="#a05030"/>
<circle cx="220.7" cy="275.5" r="0.75" fill="#a05030"/>
<circle cx="229.7" cy="278.2" r="0.75" fill="#a05030"/>
<circle cx="223.8" cy="281.0" r="0.75" fill="#a05030"/>
<circle cx="220.3" cy="276.3" r="0.75" fill="#a05030"/>
<circle cx="228.2" cy="271.8" r="0.75" fill="#a05030"/>
<circle cx="220.6" cy="272.2" r="0.75" fill="#a05030"/>
<circle cx="217.6" cy="277.3" r="0.75" fill="#a05030"/>
<circle cx="225.9" cy="279.9" r="0.75" fill="#a05030"/>
<circle cx="230.2" cy="272.6" r="0.75" fill="#a05030"/>
<circle cx="239.0" cy="282.5" r="0.75" fill="#a05030"/>
<circle cx="217.0" cy="274.9" r="0.75" fill="#a05030"/>
<circle cx="222.4" cy="279.1" r="0.75" fill="#a05030"/>
<circle cx="233.5" cy="278.0" r="0.75" fill="#a05030"/>
<circle cx="217.3" cy="284.0" r="0.75" fill="#a05030"/>
<circle cx="234.9" cy="281.9" r="0.75" fill="#a05030"/>
<circle cx="219.9" cy="278.5" r="0.75" fill="#a05030"/>
<circle cx="235.9" cy="275.7" r="0.75" fill="#a05030"/>
<circle cx="237.6" cy="278.4" r="0.75" fill="#a05030"/>
<circle cx="239.9" cy="278.2" r="0.75" fill="#a05030"/>
<circle cx="237.0" cy="272.4" r="0.75" fill="#a05030"/>
<circle cx="239.1" cy="279.9" r="0.75" fill="#a05030"/>
<circle cx="223.8" cy="283.2" r="0.75" fill="#a05030"/>
<circle cx="224.7" cy="282.2" r="0.75" fill="#a05030"/>
<circle cx="235.3" cy="282.7" r="0.75" fill="#a05030"/>
<circle cx="239.8" cy="282.1" r="0.75" fill="#a05030"/>
<circle cx="241.5" cy="280.1" r="0.75" fill="#a05030"/>
<circle cx="228.9" cy="280.2" r="0.75" fill="#a05030"/>
<circle cx="226.9" cy="272.2" r="0.75" fill="#a05030"/>
<circle cx="228.6" cy="272.3" r="0.75" fill="#a05030"/>
<circle cx="224.4" cy="276.3" r="0.75" fill="#a05030"/>
<circle cx="222.4" cy="272.9" r="0.75" fill="#a05030"/>
<circle cx="228.4" cy="277.9" r="0.75" fill="#a05030"/>
<circle cx="238.5" cy="280.7" r="0.75" fill="#a05030"/>
<circle cx="236.0" cy="275.7" r="0.75" fill="#a05030"/>
<circle cx="224.6" cy="272.2" r="0.75" fill="#a05030"/>
<circle cx="219.4" cy="281.5" r="0.75" fill="#a05030"/>
<circle cx="225.3" cy="277.2" r="0.75" fill="#a05030"/>
<circle cx="222.9" cy="284.5" r="0.75" fill="#a05030"/>
<circle cx="226.8" cy="283.5" r="0.75" fill="#a05030"/>
<circle cx="226.9" cy="282.8" r="0.75" fill="#a05030"/>
<circle cx="219.7" cy="272.4" r="0.75" fill="#a05030"/>
<circle cx="237.3" cy="276.5" r="0.75" fill="#a05030"/>
<circle cx="229.8" cy="282.4" r="0.75" fill="#a05030"/>
<circle cx="234.2" cy="279.4" r="0.75" fill="#a05030"/>
<circle cx="217.2" cy="274.8" r="0.75" fill="#a05030"/>
<circle cx="227.6" cy="281.4" r="0.75" fill="#a05030"/>
<circle cx="232.5" cy="280.0" r="0.75" fill="#a05030"/>
<circle cx="219.7" cy="278.0" r="0.75" fill="#a05030"/>
<circle cx="235.7" cy="274.0" r="0.75" fill="#a05030"/>
<circle cx="222.0" cy="282.4" r="0.75" fill="#a05030"/>
<circle cx="239.7" cy="279.7" r="0.75" fill="#a05030"/>
<circle cx="227.4" cy="273.2" r="0.75" fill="#a05030"/>
<circle cx="226.1" cy="273.9" r="0.75" fill="#a05030"/>
<circle cx="228.7" cy="281.8" r="0.75" fill="#a05030"/>
<circle cx="231.1" cy="283.9" r="0.75" fill="#a05030"/>
<circle cx="219.3" cy="272.7" r="0.75" fill="#a05030"/>
<circle cx="237.7" cy="282.2" r="0.75" fill="#a05030"/>
<circle cx="218.2" cy="278.7" r="0.75" fill="#a05030"/>
<circle cx="193.4" cy="286.9" r="0.75" fill="#e8c030"/>
<circle cx="199.4" cy="290.6" r="0.75" fill="#e8c030"/>
<circle cx="194.4" cy="283.0" r="0.75" fill="#e8c030"/>
<circle cx="200.7" cy="285.7" r="0.75" fill="#e8c030"/>
<circle cx="202.8" cy="283.6" r="0.75" fill="#e8c030"/>
<circle cx="196.4" cy="281.2" r="0.75" fill="#e8c030"/>
<circle cx="202.0" cy="291.0" r="0.75" fill="#e8c030"/>
<circle cx="200.0" cy="285.8" r="0.75" fill="#e8c030"/>
<circle cx="192.4" cy="283.7" r="0.75" fill="#e8c030"/>
<circle cx="196.3" cy="292.3" r="0.75" fill="#e8c030"/>
<circle cx="201.8" cy="284.8" r="0.75" fill="#e8c030"/>
<circle cx="200.0" cy="289.2" r="0.75" fill="#e8c030"/>
<circle cx="200.2" cy="283.6" r="0.75" fill="#e8c030"/>
<circle cx="196.1" cy="290.7" r="0.75" fill="#e8c030"/>
<circle cx="201.2" cy="285.7" r="0.75" fill="#e8c030"/>
<circle cx="204.8" cy="287.7" r="0.75" fill="#e8c030"/>
<circle cx="196.2" cy="290.4" r="0.75" fill="#e8c030"/>
<circle cx="201.7" cy="286.5" r="0.75" fill="#e8c030"/>
<circle cx="203.7" cy="289.9" r="0.75" fill="#e8c030"/>
<circle cx="198.1" cy="289.8" r="0.75" fill="#e8c030"/>
<circle cx="201.1" cy="285.9" r="0.75" fill="#e8c030"/>
<circle cx="201.3" cy="285.0" r="0.75" fill="#e8c030"/>
<circle cx="196.9" cy="289.6" r="0.75" fill="#e8c030"/>
<circle cx="192.9" cy="285.8" r="0.75" fill="#e8c030"/>
<circle cx="194.0" cy="289.5" r="0.75" fill="#e8c030"/>
<circle cx="196.1" cy="292.2" r="0.75" fill="#e8c030"/>
<circle cx="203.6" cy="284.9" r="0.75" fill="#e8c030"/>
<circle cx="198.8" cy="285.6" r="0.75" fill="#e8c030"/>
<circle cx="198.0" cy="289.7" r="0.75" fill="#e8c030"/>
<circle cx="201.9" cy="291.9" r="0.75" fill="#e8c030"/>
<circle cx="203.5" cy="283.8" r="0.75" fill="#e8c030"/>
<circle cx="195.8" cy="286.3" r="0.75" fill="#e8c030"/>
<circle cx="196.5" cy="287.6" r="0.75" fill="#e8c030"/>
<circle cx="201.0" cy="285.3" r="0.75" fill="#e8c030"/>
<circle cx="196.4" cy="292.7" r="0.75" fill="#e8c030"/>
<circle cx="200.1" cy="292.5" r="0.75" fill="#e8c030"/>
<circle cx="195.9" cy="291.5" r="0.75" fill="#e8c030"/>
<circle cx="203.2" cy="290.5" r="0.75" fill="#e8c030"/>
<circle cx="194.7" cy="289.1" r="0.75" fill="#e8c030"/>
<circle cx="195.0" cy="283.2" r="0.75" fill="#e8c030"/>
<circle cx="198.0" cy="289.1" r="0.75" fill="#e8c030"/>
<circle cx="197.0" cy="286.6" r="0.75" fill="#e8c030"/>
<circle cx="200.8" cy="284.5" r="0.75" fill="#e8c030"/>
<circle cx="199.9" cy="290.0" r="0.75" fill="#e8c030"/>
<circle cx="201.0" cy="289.2" r="0.75" fill="#e8c030"/>
<circle cx="193.7" cy="286.0" r="0.75" fill="#e8c030"/>
<circle cx="196.1" cy="289.8" r="0.75" fill="#e8c030"/>
<circle cx="191.8" cy="287.4" r="0.75" fill="#e8c030"/>
<circle cx="192.3" cy="289.0" r="0.75" fill="#e8c030"/>
<circle cx="195.6" cy="287.2" r="0.75" fill="#e8c030"/>
<circle cx="201.1" cy="291.8" r="0.75" fill="#e8c030"/>
<circle cx="193.7" cy="287.5" r="0.75" fill="#e8c030"/>
<circle cx="191.6" cy="286.5" r="0.75" fill="#e8c030"/>
<circle cx="195.0" cy="289.5" r="0.75" fill="#e8c030"/>
<circle cx="197.5" cy="287.5" r="0.75" fill="#e8c030"/>
<rect x="181" y="299.5" width="2.4" height="1.2" fill="#bbb"/>
<rect x="192" y="299.5" width="2.4" height="1.2" fill="#bbb"/>
<rect x="203" y="299.5" width="2.4" height="1.2" fill="#bbb"/>
<rect x="214" y="299.5" width="2.4" height="1.2" fill="#bbb"/>
<rect x="225" y="299.5" width="2.4" height="1.2" fill="#bbb"/>
<rect x="236" y="299.5" width="2.4" height="1.2" fill="#bbb"/>
<rect x="173" y="239.4" width="2.6" height="1.2" fill="#bbb"/>
<rect x="173" y="249.4" width="2.6" height="1.2" fill="#bbb"/>
<rect x="173" y="259.4" width="2.6" height="1.2" fill="#bbb"/>
<rect x="173" y="269.4" width="2.6" height="1.2" fill="#bbb"/>
<rect x="173" y="279.4" width="2.6" height="1.2" fill="#bbb"/>
<rect x="173" y="289.4" width="2.6" height="1.2" fill="#bbb"/>
<rect x="205" y="302.5" width="8" height="1.2" fill="#bbb"/><rect x="169.5" y="262" width="1.2" height="8" fill="#bbb"/>
<circle cx="255.6" cy="240.3" r="1.3" fill="#88c4ec"/><rect x="258.5" y="239.70000000000002" width="7" height="1.3" fill="#b4b4b4"/>
<circle cx="255.6" cy="245.3" r="1.3" fill="#1a9a80"/><rect x="258.5" y="244.70000000000002" width="7" height="1.3" fill="#b4b4b4"/>
<circle cx="255.6" cy="250.3" r="1.3" fill="#e8c030"/><rect x="258.5" y="249.70000000000002" width="7" height="1.3" fill="#b4b4b4"/>
<circle cx="255.6" cy="255.3" r="1.3" fill="#4a66c4"/><rect x="258.5" y="254.70000000000002" width="7" height="1.3" fill="#b4b4b4"/>
<circle cx="255.6" cy="260.3" r="1.3" fill="#8050c0"/><rect x="258.5" y="259.7" width="7" height="1.3" fill="#b4b4b4"/>
<circle cx="255.6" cy="265.3" r="1.3" fill="#a05030"/><rect x="258.5" y="264.7" width="7" height="1.3" fill="#b4b4b4"/>
<circle cx="255.6" cy="270.3" r="1.3" fill="#d04040"/><rect x="258.5" y="269.7" width="7" height="1.3" fill="#b4b4b4"/>
<circle cx="255.6" cy="275.3" r="1.3" fill="#e040a0"/><rect x="258.5" y="274.7" width="7" height="1.3" fill="#b4b4b4"/>
<text x="318.9" y="242.1" font-size="11.1" text-anchor="middle" font-family="Liberation Sans, Arial, sans-serif" fill="#222">Peritoneal</text>
<text x="318.8" y="253" font-size="11.1" text-anchor="middle" font-family="Liberation Sans, Arial, sans-serif" fill="#222">fluid</text>
<text x="342.7" y="284.9" font-size="11.1" text-anchor="middle" font-family="Liberation Sans, Arial, sans-serif" fill="#222">Serum</text>
<path d="M293,255 h11 v27.3 L298.5,287.2 L293,282.3 Z" fill="#f7f7f7" stroke="#c8c8c8" stroke-width="0.5"/>
<path d="M293.3,267 h10.4 v15.3 L298.5,286.8 L293.3,282.3 Z" fill="#f06e1e"/>
<rect x="291.7" y="246" width="13.3" height="9" rx="1.6" fill="#e07022"/>
<rect x="319.9" y="268" width="7.4" height="29.2" rx="3.4" fill="#f6f1e4" stroke="#d8d0c0" stroke-width="0.4"/>
<rect x="322" y="270" width="5.3" height="13" fill="#e9b83a"/>
<path d="M319.9,283 h7.4 v10.5 a3.7,3.7 0 0 1 -7.4,0 Z" fill="#a82020"/>
<rect x="319.4" y="261" width="8.4" height="8.8" rx="1.5" fill="#e2621e"/>
<polygon points="369.8,269.6 376.8,274.2 407.3,271.9 435.4,276.6 435.4,283.6 395.6,288.3 376.8,286.0 369.8,276.6" fill="#4a4a4a" stroke="none" stroke-width="0.8" stroke-linejoin="round"/>
<polygon points="376.8,282.0 395.6,284.5 435.4,280.0 435.4,283.6 395.6,288.3 376.8,286.0" fill="#2c2c2c" stroke="none" stroke-width="0.8" stroke-linejoin="round"/>
<polygon points="407.3,246.1 428.0,246.5 435.4,252.0 435.4,276.6 410.0,279.0 407.3,262.0" fill="#e6e6ea" stroke="#b0b0b6" stroke-width="0.5" stroke-linejoin="round"/>
<rect x="411" y="256" width="20" height="1" fill="#c8c8cc"/><rect x="411" y="262" width="20" height="1" fill="#c8c8cc"/>
<polygon points="369.8,252.5 393.2,250.0 407.3,254.5 407.3,271.9 376.8,274.2 369.8,269.6" fill="#cc3434" stroke="none" stroke-width="0.8" stroke-linejoin="round"/>
<polygon points="369.8,252.5 393.2,250.0 407.3,254.5 384.0,257.0" fill="#e45656" stroke="none" stroke-width="0.8" stroke-linejoin="round"/>
<polygon points="393.2,241.0 399.0,239.1 419.0,239.1 419.0,253.1 407.3,254.5 393.2,250.0" fill="#c83030" stroke="none" stroke-width="0.8" stroke-linejoin="round"/>
<rect x="398.5" y="240" width="17.5" height="5.6" fill="#585858"/>
<polygon points="383.8,270.3 402.6,269.4 404.0,273.8 385.0,274.6" fill="#eeeeee" stroke="#999" stroke-width="0.5" stroke-linejoin="round"/>
<line x1="452" y1="234.6" x2="452" y2="296" stroke="#666" stroke-width="0.8"/><line x1="452" y1="296" x2="532" y2="296" stroke="#666" stroke-width="0.8"/>
<path d="M452.5,295 C462,282 474,262 486,251 C498,241 512,238.5 531,237.8" fill="none" stroke="#8a3fc2" stroke-width="1.3"/>
<text x="64.9" y="187" font-size="12" font-family="Liberation Sans, Arial, sans-serif" fill="#1c1c1c" stroke="#1c1c1c" stroke-width="0.25" textLength="49.5" lengthAdjust="spacingAndGlyphs">Pain quiz</text>
<text x="183.9" y="186.3" font-size="12" font-family="Liberation Sans, Arial, sans-serif" fill="#1c1c1c" stroke="#1c1c1c" stroke-width="0.25" textLength="61.5" lengthAdjust="spacingAndGlyphs">Blood draw</text>
<text x="174.9" y="199.5" font-size="12" font-family="Liberation Sans, Arial, sans-serif" fill="#1c1c1c" stroke="#1c1c1c" stroke-width="0.25" textLength="83.5" lengthAdjust="spacingAndGlyphs">prior to surgery</text>
<text x="174.9" y="212.7" font-size="12" font-family="Liberation Sans, Arial, sans-serif" fill="#1c1c1c" stroke="#1c1c1c" stroke-width="0.25" textLength="81.5" lengthAdjust="spacingAndGlyphs">(PBMC, serum)</text>
<text x="314.2" y="186.3" font-size="12" font-family="Liberation Sans, Arial, sans-serif" fill="#1c1c1c" stroke="#1c1c1c" stroke-width="0.25" textLength="71.2" lengthAdjust="spacingAndGlyphs">Laparoscopy</text>
<text x="298.4" y="199.5" font-size="12" font-family="Liberation Sans, Arial, sans-serif" fill="#1c1c1c" stroke="#1c1c1c" stroke-width="0.25" textLength="103.8" lengthAdjust="spacingAndGlyphs">(rASRM, Peritoneal</text>
<text x="335.4" y="212.7" font-size="12" font-family="Liberation Sans, Arial, sans-serif" fill="#1c1c1c" stroke="#1c1c1c" stroke-width="0.25" textLength="28.0" lengthAdjust="spacingAndGlyphs">fluid)</text>
<text x="444.2" y="186.3" font-size="12" font-family="Liberation Sans, Arial, sans-serif" fill="#1c1c1c" stroke="#1c1c1c" stroke-width="0.25" textLength="68.2" lengthAdjust="spacingAndGlyphs">Pathological</text>
<text x="443.4" y="199.5" font-size="12" font-family="Liberation Sans, Arial, sans-serif" fill="#1c1c1c" stroke="#1c1c1c" stroke-width="0.25" textLength="71.0" lengthAdjust="spacingAndGlyphs">confirmation</text>
<text x="30.2" y="327" font-size="12" font-family="Liberation Sans, Arial, sans-serif" fill="#1c1c1c" stroke="#1c1c1c" stroke-width="0.25" textLength="235.7" lengthAdjust="spacingAndGlyphs">scRNA-seq / cell annotation / DGE analysis</text>
<text x="335.9" y="327" font-size="12" font-family="Liberation Sans, Arial, sans-serif" fill="#1c1c1c" stroke="#1c1c1c" stroke-width="0.25" textLength="162.0" lengthAdjust="spacingAndGlyphs">ELISA (JUP, CA125, S100A12)</text>
<text x="9.4" y="378.2" font-size="12.5" text-anchor="start" font-family="Liberation Sans, Arial, sans-serif" font-weight="bold" fill="#111" textLength="9.4" lengthAdjust="spacingAndGlyphs">B</text>
<line x1="53.5" y1="358.5" x2="53.5" y2="624.9" stroke="#333" stroke-width="1.1"/>
<line x1="53.5" y1="624.9" x2="329.6" y2="624.9" stroke="#333" stroke-width="1.1"/>
<line x1="50.7" y1="362.7" x2="53.5" y2="362.7" stroke="#333" stroke-width="1.1"/>
<text x="49.0" y="366.59999999999997" font-size="10.8" text-anchor="end" font-family="DejaVu Sans, sans-serif" font-weight="normal" fill="#333">15</text>
<line x1="50.7" y1="407.2" x2="53.5" y2="407.2" stroke="#333" stroke-width="1.1"/>
<text x="49.0" y="411.09999999999997" font-size="10.8" text-anchor="end" font-family="DejaVu Sans, sans-serif" font-weight="normal" fill="#333">10</text>
<line x1="50.7" y1="451.7" x2="53.5" y2="451.7" stroke="#333" stroke-width="1.1"/>
<text x="49.0" y="455.59999999999997" font-size="10.8" text-anchor="end" font-family="DejaVu Sans, sans-serif" font-weight="normal" fill="#333">5</text>
<line x1="50.7" y1="496.2" x2="53.5" y2="496.2" stroke="#333" stroke-width="1.1"/>
<text x="49.0" y="500.09999999999997" font-size="10.8" text-anchor="end" font-family="DejaVu Sans, sans-serif" font-weight="normal" fill="#333">0</text>
<line x1="50.7" y1="540.7" x2="53.5" y2="540.7" stroke="#333" stroke-width="1.1"/>
<text x="49.0" y="544.6" font-size="10.8" text-anchor="end" font-family="DejaVu Sans, sans-serif" font-weight="normal" fill="#333">-5</text>
<line x1="50.7" y1="585.2" x2="53.5" y2="585.2" stroke="#333" stroke-width="1.1"/>
<text x="49.0" y="589.1" font-size="10.8" text-anchor="end" font-family="DejaVu Sans, sans-serif" font-weight="normal" fill="#333">-10</text>
<line x1="110.2" y1="624.9" x2="110.2" y2="627.6999999999999" stroke="#333" stroke-width="1.1"/>
<text x="110.2" y="637.9" font-size="10.8" text-anchor="middle" font-family="DejaVu Sans, sans-serif" font-weight="normal" fill="#333">-10</text>
<line x1="172.9" y1="624.9" x2="172.9" y2="627.6999999999999" stroke="#333" stroke-width="1.1"/>
<text x="172.9" y="637.9" font-size="10.8" text-anchor="middle" font-family="DejaVu Sans, sans-serif" font-weight="normal" fill="#333">-5</text>
<line x1="235.6" y1="624.9" x2="235.6" y2="627.6999999999999" stroke="#333" stroke-width="1.1"/>
<text x="235.6" y="637.9" font-size="10.8" text-anchor="middle" font-family="DejaVu Sans, sans-serif" font-weight="normal" fill="#333">0</text>
<line x1="298.3" y1="624.9" x2="298.3" y2="627.6999999999999" stroke="#333" stroke-width="1.1"/>
<text x="298.3" y="637.9" font-size="10.8" text-anchor="middle" font-family="DejaVu Sans, sans-serif" font-weight="normal" fill="#333">5</text>
<text x="191.5" y="651.5" font-size="11.5" text-anchor="middle" font-family="DejaVu Sans, sans-serif" font-weight="normal" fill="#111">UMAP-1</text>
<text x="0" y="0" font-size="11.5" text-anchor="middle" font-family="DejaVu Sans, sans-serif" fill="#111" transform="translate(30.8,474.9) rotate(-90)">UMAP-2</text>
<circle cx="347.2" cy="418.0" r="3" fill="#f8766d"/>
<text x="359.7" y="421.6" font-size="10" text-anchor="start" font-family="DejaVu Sans, sans-serif" font-weight="normal" fill="#222">B intermediate</text>
<circle cx="347.2" cy="430.79" r="3" fill="#ee8043"/>
<text x="359.7" y="434.39000000000004" font-size="10" text-anchor="start" font-family="DejaVu Sans, sans-serif" font-weight="normal" fill="#222">B memory</text>
<circle cx="347.2" cy="443.58" r="3" fill="#e18a00"/>
<text x="359.7" y="447.18" font-size="10" text-anchor="start" font-family="DejaVu Sans, sans-serif" font-weight="normal" fill="#222">B naive</text>
<circle cx="347.2" cy="456.37" r="3" fill="#d19300"/>
<text x="359.7" y="459.97" font-size="10" text-anchor="start" font-family="DejaVu Sans, sans-serif" font-weight="normal" fill="#222">CD14 Mono</text>
<circle cx="347.2" cy="469.15999999999997" r="3" fill="#be9c00"/>
<text x="359.7" y="472.76" font-size="10" text-anchor="start" font-family="DejaVu Sans, sans-serif" font-weight="normal" fill="#222">CD16 Mono</text>
<circle cx="347.2" cy="481.95" r="3" fill="#a8a400"/>
<text x="359.7" y="485.55" font-size="10" text-anchor="start" font-family="DejaVu Sans, sans-serif" font-weight="normal" fill="#222">CD4 CTL</text>
<circle cx="347.2" cy="494.74" r="3" fill="#8cab00"/>
<text x="359.7" y="498.34000000000003" font-size="10" text-anchor="start" font-family="DejaVu Sans, sans-serif" font-weight="normal" fill="#222">CD4 Naive</text>
<circle cx="347.2" cy="507.53" r="3" fill="#68b100"/>
<text x="359.7" y="511.13" font-size="10" text-anchor="start" font-family="DejaVu Sans, sans-serif" font-weight="normal" fill="#222">CD4 TCM</text>
<circle cx="347.2" cy="520.3199999999999" r="3" fill="#24b700"/>
<text x="359.7" y="523.92" font-size="10" text-anchor="start" font-family="DejaVu Sans, sans-serif" font-weight="normal" fill="#222">CD4 TEM</text>
<circle cx="347.2" cy="533.11" r="3" fill="#00bb49"/>
<text x="359.7" y="536.71" font-size="10" text-anchor="start" font-family="DejaVu Sans, sans-serif" font-weight="normal" fill="#222">CD8 Naive</text>
<circle cx="347.2" cy="545.9" r="3" fill="#00be70"/>
<text x="359.7" y="549.5" font-size="10" text-anchor="start" font-family="DejaVu Sans, sans-serif" font-weight="normal" fill="#222">CD8 TCM</text>
<circle cx="347.2" cy="558.69" r="3" fill="#00c090"/>
<text x="359.7" y="562.2900000000001" font-size="10" text-anchor="start" font-family="DejaVu Sans, sans-serif" font-weight="normal" fill="#222">CD8 TEM</text>
<circle cx="347.2" cy="571.48" r="3" fill="#00c1ab"/>
<text x="359.7" y="575.08" font-size="10" text-anchor="start" font-family="DejaVu Sans, sans-serif" font-weight="normal" fill="#222">cDC2</text>
<circle cx="446.3" cy="418.0" r="3" fill="#00bfc4"/>
<text x="459.3" y="421.6" font-size="10" text-anchor="start" font-family="DejaVu Sans, sans-serif" font-weight="normal" fill="#222">dnT</text>
<circle cx="446.3" cy="430.79" r="3" fill="#00bbda"/>
<text x="459.3" y="434.39000000000004" font-size="10" text-anchor="start" font-family="DejaVu Sans, sans-serif" font-weight="normal" fill="#222">Eryth</text>
<circle cx="446.3" cy="443.58" r="3" fill="#00b5ed"/>
<text x="459.3" y="447.18" font-size="10" text-anchor="start" font-family="DejaVu Sans, sans-serif" font-weight="normal" fill="#222">gdT</text>
<circle cx="446.3" cy="456.37" r="3" fill="#00acfc"/>
<text x="459.3" y="459.97" font-size="10" text-anchor="start" font-family="DejaVu Sans, sans-serif" font-weight="normal" fill="#222">HSPC</text>
<circle cx="446.3" cy="469.15999999999997" r="3" fill="#42a0ff"/>
<text x="459.3" y="472.76" font-size="10" text-anchor="start" font-family="DejaVu Sans, sans-serif" font-weight="normal" fill="#222">MAIT</text>
<circle cx="446.3" cy="481.95" r="3" fill="#8b93ff"/>
<text x="459.3" y="485.55" font-size="10" text-anchor="start" font-family="DejaVu Sans, sans-serif" font-weight="normal" fill="#222">NK</text>
<circle cx="446.3" cy="494.74" r="3" fill="#b684ff"/>
<text x="459.3" y="498.34000000000003" font-size="10" text-anchor="start" font-family="DejaVu Sans, sans-serif" font-weight="normal" fill="#222">NK Proliferating</text>
<circle cx="446.3" cy="507.53" r="3" fill="#d575fe"/>
<text x="459.3" y="511.13" font-size="10" text-anchor="start" font-family="DejaVu Sans, sans-serif" font-weight="normal" fill="#222">NK-CD56bright</text>
<circle cx="446.3" cy="520.3199999999999" r="3" fill="#eb69f0"/>
<text x="459.3" y="523.92" font-size="10" text-anchor="start" font-family="DejaVu Sans, sans-serif" font-weight="normal" fill="#222">other</text>
<circle cx="446.3" cy="533.11" r="3" fill="#f962dd"/>
<text x="459.3" y="536.71" font-size="10" text-anchor="start" font-family="DejaVu Sans, sans-serif" font-weight="normal" fill="#222">pDC</text>
<circle cx="446.3" cy="545.9" r="3" fill="#ff61c6"/>
<text x="459.3" y="549.5" font-size="10" text-anchor="start" font-family="DejaVu Sans, sans-serif" font-weight="normal" fill="#222">Plasmablast</text>
<circle cx="446.3" cy="558.69" r="3" fill="#ff65ac"/>
<text x="459.3" y="562.2900000000001" font-size="10" text-anchor="start" font-family="DejaVu Sans, sans-serif" font-weight="normal" fill="#222">Platelet</text>
<circle cx="446.3" cy="571.48" r="3" fill="#ff6d8e"/>
<text x="459.3" y="575.08" font-size="10" text-anchor="start" font-family="DejaVu Sans, sans-serif" font-weight="normal" fill="#222">Treg</text>
<defs><pattern id="tpat2" width="3" height="3" patternUnits="userSpaceOnUse"><rect width="3" height="3" fill="#4cb428"/><circle cx="0.7" cy="0.8" r="0.5" fill="#f07a8a"/><circle cx="2.2" cy="2.1" r="0.6" fill="#8cab00"/></pattern><pattern id="ppat" width="3" height="3" patternUnits="userSpaceOnUse"><rect width="3" height="3" fill="#f4728e"/><circle cx="0.7" cy="0.8" r="0.5" fill="#68b100"/><circle cx="2.2" cy="2.1" r="0.45" fill="#00bb49"/></pattern><pattern id="tpat" width="12" height="12" patternUnits="userSpaceOnUse"><rect width="12" height="12" fill="#58bc30"/><circle cx="4.6" cy="7.2" r="0.53" fill="#3ab8c8"/><circle cx="9.1" cy="3.0" r="0.58" fill="#f2708a"/><circle cx="1.1" cy="7.5" r="0.52" fill="#68b100"/><circle cx="9.5" cy="9.5" r="0.74" fill="#ee7890"/><circle cx="1.8" cy="7.9" r="0.75" fill="#ee7890"/><circle cx="1.0" cy="8.6" r="0.69" fill="#24b700"/><circle cx="5.6" cy="4.8" r="0.54" fill="#f2708a"/><circle cx="5.1" cy="4.4" r="0.78" fill="#f2708a"/><circle cx="5.5" cy="10.8" r="0.66" fill="#f2708a"/><circle cx="4.3" cy="2.6" r="0.77" fill="#f2708a"/><circle cx="9.0" cy="5.3" r="0.77" fill="#f2708a"/><circle cx="11.3" cy="7.9" r="0.46" fill="#f2708a"/><circle cx="2.1" cy="8.2" r="0.60" fill="#f2708a"/><circle cx="7.6" cy="1.7" r="0.67" fill="#3ab8c8"/><circle cx="4.0" cy="6.3" r="0.52" fill="#3ab8c8"/><circle cx="7.7" cy="5.3" r="0.64" fill="#f2708a"/><circle cx="4.2" cy="8.3" r="0.77" fill="#f2708a"/><circle cx="8.9" cy="8.6" r="0.72" fill="#f2708a"/><circle cx="7.3" cy="4.9" r="0.48" fill="#f2708a"/><circle cx="3.6" cy="11.9" r="0.59" fill="#f2708a"/><circle cx="10.6" cy="3.8" r="0.62" fill="#ee7890"/><circle cx="10.2" cy="1.4" r="0.74" fill="#ee7890"/><circle cx="8.1" cy="6.0" r="0.45" fill="#f2708a"/><circle cx="4.0" cy="4.5" r="0.57" fill="#f2708a"/><circle cx="4.6" cy="9.8" r="0.64" fill="#3ab8c8"/><circle cx="10.6" cy="11.1" r="0.70" fill="#f2708a"/><circle cx="9.2" cy="2.8" r="0.75" fill="#3ab8c8"/><circle cx="7.8" cy="3.7" r="0.76" fill="#ee7890"/><circle cx="2.6" cy="9.7" r="0.69" fill="#24b700"/><circle cx="4.6" cy="5.3" r="0.79" fill="#ee7890"/><circle cx="5.1" cy="10.9" r="0.47" fill="#f2708a"/><circle cx="10.9" cy="10.5" r="0.73" fill="#8cab00"/><circle cx="1.5" cy="10.8" r="0.60" fill="#68b100"/><circle cx="4.9" cy="7.9" r="0.66" fill="#8cab00"/><circle cx="4.5" cy="8.1" r="0.75" fill="#8cab00"/><circle cx="2.3" cy="4.0" r="0.52" fill="#f2708a"/><circle cx="8.0" cy="8.3" r="0.79" fill="#f2708a"/><circle cx="10.7" cy="8.0" r="0.73" fill="#ee7890"/><circle cx="7.9" cy="8.9" r="0.75" fill="#8cab00"/><circle cx="4.9" cy="10.3" r="0.68" fill="#ee7890"/><circle cx="1.3" cy="6.4" r="0.45" fill="#f2708a"/><circle cx="11.4" cy="11.7" r="0.80" fill="#8cab00"/><circle cx="9.4" cy="5.3" r="0.52" fill="#68b100"/><circle cx="5.6" cy="6.4" r="0.67" fill="#3ab8c8"/><circle cx="2.4" cy="0.2" r="0.49" fill="#8cab00"/><circle cx="0.9" cy="0.4" r="0.47" fill="#8cab00"/><circle cx="4.4" cy="6.7" r="0.78" fill="#8cab00"/><circle cx="2.3" cy="1.2" r="0.75" fill="#8cab00"/><circle cx="4.8" cy="2.1" r="0.61" fill="#3ab8c8"/><circle cx="10.5" cy="10.8" r="0.75" fill="#f2708a"/><circle cx="5.0" cy="11.5" r="0.51" fill="#3ab8c8"/><circle cx="2.5" cy="5.6" r="0.75" fill="#8cab00"/><circle cx="2.2" cy="11.0" r="0.80" fill="#3ab8c8"/><circle cx="8.0" cy="11.8" r="0.64" fill="#f2708a"/><circle cx="6.3" cy="1.4" r="0.73" fill="#f2708a"/><circle cx="4.0" cy="8.8" r="0.65" fill="#f2708a"/><circle cx="3.3" cy="0.1" r="0.56" fill="#68b100"/><circle cx="2.0" cy="7.1" r="0.47" fill="#8cab00"/><circle cx="0.6" cy="6.1" r="0.64" fill="#f2708a"/><circle cx="1.9" cy="5.3" r="0.69" fill="#8cab00"/><circle cx="2.8" cy="2.3" r="0.62" fill="#3ab8c8"/><circle cx="3.3" cy="4.4" r="0.65" fill="#8cab00"/><circle cx="9.3" cy="2.1" r="0.57" fill="#ee7890"/><circle cx="1.0" cy="8.1" r="0.70" fill="#68b100"/><circle cx="1.8" cy="1.0" r="0.72" fill="#f2708a"/><circle cx="2.0" cy="10.5" r="0.70" fill="#3ab8c8"/><circle cx="4.1" cy="0.6" r="0.57" fill="#f2708a"/><circle cx="2.3" cy="2.2" r="0.49" fill="#3ab8c8"/><circle cx="7.7" cy="6.3" r="0.78" fill="#f2708a"/><circle cx="4.5" cy="8.2" r="0.48" fill="#ee7890"/><circle cx="6.8" cy="8.8" r="0.66" fill="#ee7890"/><circle cx="10.5" cy="1.9" r="0.76" fill="#f2708a"/><circle cx="9.3" cy="4.5" r="0.56" fill="#f2708a"/><circle cx="7.0" cy="0.2" r="0.78" fill="#f2708a"/><circle cx="11.3" cy="10.6" r="0.73" fill="#f2708a"/><circle cx="3.5" cy="5.9" r="0.73" fill="#8cab00"/><circle cx="4.2" cy="7.3" r="0.56" fill="#f2708a"/><circle cx="8.0" cy="9.7" r="0.79" fill="#24b700"/><circle cx="9.8" cy="7.3" r="0.64" fill="#3ab8c8"/><circle cx="9.2" cy="11.3" r="0.71" fill="#f2708a"/><circle cx="6.1" cy="10.8" r="0.53" fill="#3ab8c8"/><circle cx="4.9" cy="0.7" r="0.53" fill="#68b100"/><circle cx="2.0" cy="6.8" r="0.60" fill="#8cab00"/><circle cx="10.1" cy="1.6" r="0.78" fill="#f2708a"/><circle cx="0.7" cy="10.6" r="0.51" fill="#8cab00"/><circle cx="1.8" cy="11.2" r="0.46" fill="#3ab8c8"/><circle cx="11.2" cy="11.7" r="0.48" fill="#3ab8c8"/><circle cx="4.1" cy="1.6" r="0.77" fill="#ee7890"/><circle cx="4.4" cy="1.9" r="0.71" fill="#f2708a"/><circle cx="2.5" cy="10.3" r="0.60" fill="#f2708a"/><circle cx="10.9" cy="2.1" r="0.62" fill="#ee7890"/><circle cx="2.1" cy="8.2" r="0.51" fill="#ee7890"/><circle cx="8.1" cy="6.1" r="0.75" fill="#68b100"/><circle cx="0.9" cy="2.9" r="0.53" fill="#68b100"/><circle cx="4.7" cy="6.7" r="0.53" fill="#3ab8c8"/></pattern></defs>
<path d="M140.0,390.0 L147.3,397.3 L158.2,397.3 L161.8,391.8 L167.3,400.9 L176.4,404.5 L187.3,408.2 L195.3,408.2 L201.8,415.5 L209.1,419.1 L213.5,423.5 L209.1,427.1 L198.2,424.9 L183.6,419.8 L169.1,414.0 L154.5,408.2 L144.4,400.9Z" fill="#d4a02c"  opacity="0.68"/>
<circle cx="163.8" cy="410.9" r="0.6" fill="#c99a10"/>
<circle cx="144.6" cy="397.0" r="0.6" fill="#cf9410"/>
<circle cx="154.4" cy="403.5" r="0.6" fill="#cf9410"/>
<circle cx="162.4" cy="399.7" r="0.6" fill="#c99a10"/>
<circle cx="165.2" cy="399.5" r="0.6" fill="#cf9410"/>
<circle cx="202.0" cy="417.0" r="0.6" fill="#c99a10"/>
<circle cx="196.4" cy="423.5" r="0.6" fill="#c99a10"/>
<circle cx="164.0" cy="402.8" r="0.6" fill="#cf9410"/>
<circle cx="160.1" cy="399.0" r="0.6" fill="#cf9410"/>
<circle cx="156.1" cy="402.1" r="0.6" fill="#cf9410"/>
<circle cx="159.9" cy="401.4" r="0.6" fill="#d8a030"/>
<circle cx="157.9" cy="406.4" r="0.6" fill="#c99a10"/>
<circle cx="178.3" cy="412.3" r="0.6" fill="#c99a10"/>
<circle cx="196.2" cy="423.5" r="0.6" fill="#d8a030"/>
<circle cx="195.4" cy="408.9" r="0.6" fill="#cf9410"/>
<circle cx="184.4" cy="409.8" r="0.6" fill="#cf9410"/>
<circle cx="164.9" cy="412.1" r="0.6" fill="#d8a030"/>
<circle cx="188.3" cy="411.5" r="0.6" fill="#cf9410"/>
<circle cx="148.9" cy="401.9" r="0.6" fill="#cf9410"/>
<circle cx="201.5" cy="420.4" r="0.6" fill="#d8a030"/>
<circle cx="161.1" cy="396.6" r="0.6" fill="#c99a10"/>
<circle cx="147.1" cy="400.0" r="0.6" fill="#d8a030"/>
<circle cx="193.4" cy="417.9" r="0.6" fill="#d8a030"/>
<circle cx="162.5" cy="406.6" r="0.6" fill="#d8a030"/>
<circle cx="158.6" cy="396.8" r="0.6" fill="#c99a10"/>
<circle cx="150.9" cy="402.2" r="0.6" fill="#cf9410"/>
<circle cx="166.1" cy="409.1" r="0.6" fill="#cf9410"/>
<circle cx="146.1" cy="397.2" r="0.6" fill="#cf9410"/>
<circle cx="180.8" cy="413.8" r="0.6" fill="#cf9410"/>
<circle cx="169.7" cy="408.7" r="0.6" fill="#c99a10"/>
<circle cx="209.3" cy="423.9" r="0.6" fill="#cf9410"/>
<circle cx="199.6" cy="413.3" r="0.6" fill="#d8a030"/>
<circle cx="171.2" cy="407.7" r="0.6" fill="#cf9410"/>
<circle cx="184.3" cy="410.7" r="0.6" fill="#d8a030"/>
<circle cx="161.5" cy="403.5" r="0.6" fill="#d8a030"/>
<circle cx="190.6" cy="417.0" r="0.6" fill="#c99a10"/>
<circle cx="171.1" cy="413.6" r="0.6" fill="#cf9410"/>
<circle cx="163.0" cy="398.8" r="0.6" fill="#cf9410"/>
<circle cx="205.1" cy="421.2" r="0.6" fill="#c99a10"/>
<circle cx="180.3" cy="409.8" r="0.6" fill="#cf9410"/>
<circle cx="158.1" cy="409.4" r="0.6" fill="#cf9410"/>
<circle cx="159.5" cy="406.1" r="0.6" fill="#c99a10"/>
<circle cx="173.7" cy="413.6" r="0.6" fill="#cf9410"/>
<circle cx="211.3" cy="424.0" r="0.6" fill="#d8a030"/>
<circle cx="185.9" cy="415.5" r="0.6" fill="#d8a030"/>
<circle cx="168.9" cy="403.8" r="0.6" fill="#c99a10"/>
<circle cx="153.0" cy="399.4" r="0.6" fill="#cf9410"/>
<circle cx="168.6" cy="405.3" r="0.6" fill="#c99a10"/>
<circle cx="156.3" cy="399.5" r="0.6" fill="#c99a10"/>
<circle cx="177.0" cy="410.6" r="0.6" fill="#d8a030"/>
<circle cx="164.1" cy="398.0" r="0.6" fill="#cf9410"/>
<circle cx="195.7" cy="419.5" r="0.6" fill="#c99a10"/>
<circle cx="151.5" cy="399.1" r="0.6" fill="#c99a10"/>
<circle cx="159.2" cy="402.6" r="0.6" fill="#cf9410"/>
<circle cx="181.8" cy="415.6" r="0.6" fill="#cf9410"/>
<circle cx="174.1" cy="406.9" r="0.6" fill="#d8a030"/>
<circle cx="175.8" cy="412.1" r="0.6" fill="#d8a030"/>
<circle cx="172.8" cy="407.2" r="0.6" fill="#cf9410"/>
<circle cx="171.6" cy="410.1" r="0.6" fill="#cf9410"/>
<circle cx="173.9" cy="407.7" r="0.6" fill="#c99a10"/>
<circle cx="210.2" cy="420.5" r="0.6" fill="#cf9410"/>
<circle cx="198.5" cy="418.6" r="0.6" fill="#c99a10"/>
<circle cx="174.6" cy="414.3" r="0.6" fill="#d8a030"/>
<circle cx="175.3" cy="408.3" r="0.6" fill="#c99a10"/>
<circle cx="208.6" cy="425.3" r="0.6" fill="#d8a030"/>
<circle cx="152.8" cy="403.3" r="0.6" fill="#d8a030"/>
<circle cx="164.9" cy="400.0" r="0.6" fill="#c99a10"/>
<circle cx="207.4" cy="423.2" r="0.6" fill="#c99a10"/>
<circle cx="168.7" cy="412.4" r="0.6" fill="#cf9410"/>
<circle cx="188.9" cy="421.0" r="0.6" fill="#d8a030"/>
<circle cx="154.9" cy="402.8" r="0.6" fill="#c99a10"/>
<circle cx="211.8" cy="421.8" r="0.6" fill="#cf9410"/>
<circle cx="141.7" cy="392.3" r="0.6" fill="#cf9410"/>
<circle cx="162.4" cy="403.1" r="0.6" fill="#cf9410"/>
<circle cx="144.4" cy="400.7" r="0.6" fill="#c99a10"/>
<circle cx="208.3" cy="420.2" r="0.6" fill="#c99a10"/>
<circle cx="178.1" cy="416.5" r="0.6" fill="#c99a10"/>
<circle cx="207.6" cy="419.6" r="0.6" fill="#c99a10"/>
<circle cx="152.6" cy="405.8" r="0.6" fill="#cf9410"/>
<circle cx="185.3" cy="415.2" r="0.6" fill="#c99a10"/>
<circle cx="185.5" cy="417.6" r="0.6" fill="#c99a10"/>
<circle cx="195.2" cy="417.8" r="0.6" fill="#d8a030"/>
<circle cx="160.4" cy="398.2" r="0.6" fill="#d8a030"/>
<circle cx="183.6" cy="417.1" r="0.6" fill="#c99a10"/>
<circle cx="160.4" cy="399.5" r="0.6" fill="#cf9410"/>
<circle cx="195.2" cy="409.4" r="0.6" fill="#c99a10"/>
<circle cx="195.9" cy="421.4" r="0.6" fill="#d8a030"/>
<circle cx="153.3" cy="403.8" r="0.6" fill="#cf9410"/>
<circle cx="200.8" cy="419.5" r="0.6" fill="#cf9410"/>
<circle cx="175.4" cy="412.5" r="0.6" fill="#c99a10"/>
<circle cx="162.4" cy="408.8" r="0.6" fill="#c99a10"/>
<circle cx="197.1" cy="422.5" r="0.6" fill="#d8a030"/>
<circle cx="189.8" cy="413.9" r="0.6" fill="#cf9410"/>
<circle cx="198.0" cy="417.7" r="0.6" fill="#d8a030"/>
<circle cx="201.6" cy="423.9" r="0.6" fill="#d8a030"/>
<circle cx="144.2" cy="397.7" r="0.6" fill="#cf9410"/>
<circle cx="146.1" cy="396.8" r="0.6" fill="#c99a10"/>
<circle cx="169.3" cy="409.0" r="0.6" fill="#c99a10"/>
<circle cx="193.7" cy="411.8" r="0.6" fill="#d8a030"/>
<circle cx="184.4" cy="417.2" r="0.6" fill="#c99a10"/>
<circle cx="150.0" cy="398.6" r="0.6" fill="#c99a10"/>
<circle cx="167.5" cy="404.1" r="0.6" fill="#cf9410"/>
<circle cx="176.0" cy="415.1" r="0.6" fill="#cf9410"/>
<circle cx="179.0" cy="415.0" r="0.6" fill="#cf9410"/>
<circle cx="156.5" cy="399.2" r="0.6" fill="#d8a030"/>
<circle cx="156.5" cy="404.2" r="0.6" fill="#d8a030"/>
<circle cx="188.4" cy="415.8" r="0.6" fill="#d8a030"/>
<circle cx="196.4" cy="413.5" r="0.6" fill="#cf9410"/>
<circle cx="163.2" cy="401.9" r="0.6" fill="#c99a10"/>
<circle cx="161.7" cy="403.7" r="0.6" fill="#c99a10"/>
<circle cx="143.3" cy="396.9" r="0.6" fill="#c99a10"/>
<circle cx="182.0" cy="411.1" r="0.6" fill="#d8a030"/>
<circle cx="150.5" cy="399.5" r="0.6" fill="#c99a10"/>
<circle cx="162.8" cy="409.1" r="0.6" fill="#d8a030"/>
<circle cx="208.3" cy="420.1" r="0.6" fill="#d8a030"/>
<circle cx="197.4" cy="416.7" r="0.6" fill="#c99a10"/>
<circle cx="203.9" cy="418.5" r="0.6" fill="#cf9410"/>
<circle cx="162.1" cy="393.6" r="0.6" fill="#c99a10"/>
<circle cx="192.2" cy="411.7" r="0.6" fill="#c99a10"/>
<circle cx="144.9" cy="398.5" r="0.6" fill="#d8a030"/>
<circle cx="183.3" cy="417.6" r="0.6" fill="#c99a10"/>
<circle cx="156.7" cy="405.9" r="0.6" fill="#cf9410"/>
<circle cx="159.0" cy="403.8" r="0.6" fill="#d8a030"/>
<circle cx="156.4" cy="405.6" r="0.6" fill="#d8a030"/>
<circle cx="184.7" cy="412.5" r="0.6" fill="#d8a030"/>
<circle cx="154.9" cy="401.4" r="0.6" fill="#c99a10"/>
<circle cx="184.2" cy="409.3" r="0.6" fill="#d8a030"/>
<circle cx="175.8" cy="413.8" r="0.6" fill="#cf9410"/>
<circle cx="167.4" cy="411.5" r="0.6" fill="#d8a030"/>
<circle cx="170.7" cy="414.6" r="0.6" fill="#c99a10"/>
<circle cx="159.1" cy="400.7" r="0.6" fill="#c99a10"/>
<circle cx="181.3" cy="411.6" r="0.6" fill="#d8a030"/>
<circle cx="147.9" cy="401.7" r="0.6" fill="#d8a030"/>
<circle cx="157.0" cy="401.4" r="0.6" fill="#d8a030"/>
<circle cx="179.0" cy="413.6" r="0.6" fill="#c99a10"/>
<circle cx="207.1" cy="423.0" r="0.6" fill="#d8a030"/>
<circle cx="153.9" cy="400.7" r="0.6" fill="#c99a10"/>
<circle cx="185.3" cy="408.5" r="0.6" fill="#d8a030"/>
<circle cx="204.4" cy="420.8" r="0.6" fill="#cf9410"/>
<circle cx="183.8" cy="414.4" r="0.6" fill="#cf9410"/>
<circle cx="156.6" cy="403.2" r="0.6" fill="#d8a030"/>
<circle cx="194.9" cy="422.4" r="0.6" fill="#cf9410"/>
<circle cx="177.9" cy="416.4" r="0.6" fill="#cf9410"/>
<circle cx="166.3" cy="412.4" r="0.6" fill="#cf9410"/>
<circle cx="172.8" cy="411.8" r="0.6" fill="#d8a030"/>
<circle cx="197.0" cy="419.0" r="0.6" fill="#c99a10"/>
<circle cx="165.7" cy="402.1" r="0.6" fill="#cf9410"/>
<circle cx="162.2" cy="411.2" r="0.6" fill="#c99a10"/>
<circle cx="198.2" cy="424.5" r="0.6" fill="#d8a030"/>
<circle cx="191.2" cy="421.3" r="0.6" fill="#d8a030"/>
<circle cx="140.7" cy="391.5" r="0.6" fill="#c99a10"/>
<circle cx="162.2" cy="396.4" r="0.6" fill="#c99a10"/>
<circle cx="188.2" cy="416.2" r="0.6" fill="#cf9410"/>
<circle cx="171.9" cy="405.3" r="0.6" fill="#d8a030"/>
<circle cx="189.7" cy="412.3" r="0.6" fill="#d8a030"/>
<circle cx="177.1" cy="409.5" r="0.6" fill="#c99a10"/>
<circle cx="158.4" cy="397.0" r="0.6" fill="#cf9410"/>
<circle cx="210.8" cy="424.4" r="0.6" fill="#c99a10"/>
<circle cx="166.8" cy="405.5" r="0.6" fill="#cf9410"/>
<circle cx="189.5" cy="417.2" r="0.6" fill="#c99a10"/>
<circle cx="147.1" cy="398.9" r="0.6" fill="#c99a10"/>
<circle cx="180.4" cy="416.9" r="0.6" fill="#cf9410"/>
<circle cx="200.0" cy="424.9" r="0.6" fill="#cf9410"/>
<circle cx="167.3" cy="406.9" r="0.6" fill="#cf9410"/>
<circle cx="151.3" cy="399.0" r="0.6" fill="#cf9410"/>
<circle cx="191.3" cy="414.5" r="0.6" fill="#c99a10"/>
<circle cx="198.9" cy="422.2" r="0.6" fill="#d8a030"/>
<circle cx="187.1" cy="416.7" r="0.6" fill="#c99a10"/>
<circle cx="159.5" cy="402.3" r="0.6" fill="#cf9410"/>
<circle cx="199.0" cy="423.4" r="0.6" fill="#d8a030"/>
<circle cx="162.0" cy="404.7" r="0.6" fill="#cf9410"/>
<circle cx="158.3" cy="407.8" r="0.6" fill="#d8a030"/>
<circle cx="212.9" cy="423.0" r="0.6" fill="#cf9410"/>
<circle cx="161.7" cy="396.4" r="0.6" fill="#d8a030"/>
<circle cx="200.9" cy="425.0" r="0.6" fill="#cf9410"/>
<circle cx="157.9" cy="405.6" r="0.6" fill="#d8a030"/>
<circle cx="141.9" cy="393.1" r="0.6" fill="#cf9410"/>
<circle cx="210.6" cy="422.2" r="0.6" fill="#c99a10"/>
<circle cx="211.0" cy="421.7" r="0.6" fill="#c99a10"/>
<circle cx="187.6" cy="413.8" r="0.6" fill="#d8a030"/>
<circle cx="205.5" cy="418.1" r="0.6" fill="#c99a10"/>
<circle cx="179.4" cy="418.0" r="0.6" fill="#d8a030"/>
<circle cx="182.6" cy="414.7" r="0.6" fill="#cf9410"/>
<circle cx="165.3" cy="410.8" r="0.6" fill="#d8a030"/>
<circle cx="175.0" cy="408.7" r="0.6" fill="#c99a10"/>
<circle cx="170.6" cy="406.3" r="0.6" fill="#c99a10"/>
<circle cx="171.7" cy="408.2" r="0.6" fill="#c99a10"/>
<circle cx="167.0" cy="405.0" r="0.6" fill="#c99a10"/>
<circle cx="210.2" cy="424.4" r="0.6" fill="#d8a030"/>
<circle cx="204.4" cy="425.5" r="0.6" fill="#d8a030"/>
<circle cx="167.9" cy="407.3" r="0.6" fill="#d8a030"/>
<circle cx="172.1" cy="411.3" r="0.6" fill="#c99a10"/>
<circle cx="158.6" cy="402.9" r="0.6" fill="#cf9410"/>
<circle cx="208.9" cy="426.8" r="0.6" fill="#d8a030"/>
<circle cx="150.7" cy="399.1" r="0.6" fill="#d8a030"/>
<circle cx="203.9" cy="424.7" r="0.6" fill="#c99a10"/>
<circle cx="182.0" cy="409.3" r="0.6" fill="#d8a030"/>
<circle cx="153.4" cy="404.3" r="0.6" fill="#cf9410"/>
<circle cx="195.3" cy="411.1" r="0.6" fill="#cf9410"/>
<circle cx="174.8" cy="414.3" r="0.6" fill="#d8a030"/>
<circle cx="152.6" cy="398.6" r="0.6" fill="#d8a030"/>
<circle cx="147.6" cy="397.6" r="0.6" fill="#c99a10"/>
<circle cx="190.5" cy="410.3" r="0.6" fill="#c99a10"/>
<circle cx="181.6" cy="418.2" r="0.6" fill="#cf9410"/>
<circle cx="193.7" cy="410.3" r="0.6" fill="#c99a10"/>
<circle cx="190.8" cy="418.3" r="0.6" fill="#cf9410"/>
<circle cx="140.6" cy="390.8" r="0.6" fill="#cf9410"/>
<circle cx="160.1" cy="408.1" r="0.6" fill="#c99a10"/>
<circle cx="180.3" cy="415.0" r="0.6" fill="#c99a10"/>
<circle cx="160.9" cy="405.1" r="0.6" fill="#cf9410"/>
<circle cx="191.8" cy="413.2" r="0.6" fill="#d8a030"/>
<circle cx="156.4" cy="405.5" r="0.6" fill="#cf9410"/>
<circle cx="166.3" cy="407.7" r="0.6" fill="#d8a030"/>
<circle cx="200.4" cy="420.4" r="0.6" fill="#cf9410"/>
<circle cx="186.6" cy="416.0" r="0.6" fill="#d8a030"/>
<circle cx="178.9" cy="412.3" r="0.6" fill="#c99a10"/>
<circle cx="147.6" cy="398.6" r="0.6" fill="#d8a030"/>
<circle cx="200.2" cy="420.4" r="0.6" fill="#d8a030"/>
<circle cx="195.3" cy="416.9" r="0.6" fill="#d8a030"/>
<circle cx="200.8" cy="423.3" r="0.6" fill="#cf9410"/>
<circle cx="181.6" cy="410.7" r="0.6" fill="#c99a10"/>
<circle cx="188.3" cy="412.7" r="0.6" fill="#c99a10"/>
<circle cx="152.8" cy="398.6" r="0.6" fill="#cf9410"/>
<circle cx="197.4" cy="423.4" r="0.6" fill="#d8a030"/>
<circle cx="211.0" cy="423.7" r="0.6" fill="#c99a10"/>
<circle cx="200.9" cy="423.8" r="0.6" fill="#d8a030"/>
<circle cx="174.9" cy="415.8" r="0.6" fill="#d8a030"/>
<circle cx="190.4" cy="415.3" r="0.6" fill="#c99a10"/>
<circle cx="165.6" cy="398.2" r="0.6" fill="#cf9410"/>
<circle cx="159.0" cy="404.7" r="0.6" fill="#cf9410"/>
<circle cx="186.7" cy="410.7" r="0.6" fill="#cf9410"/>
<circle cx="188.8" cy="419.3" r="0.6" fill="#d8a030"/>
<circle cx="211.8" cy="424.3" r="0.6" fill="#c99a10"/>
<circle cx="182.6" cy="418.3" r="0.6" fill="#cf9410"/>
<circle cx="192.6" cy="418.4" r="0.6" fill="#c99a10"/>
<circle cx="151.7" cy="404.2" r="0.6" fill="#cf9410"/>
<circle cx="173.2" cy="408.0" r="0.6" fill="#cf9410"/>
<circle cx="146.2" cy="402.1" r="0.6" fill="#c99a10"/>
<circle cx="200.9" cy="418.1" r="0.6" fill="#cf9410"/>
<circle cx="157.8" cy="403.5" r="0.6" fill="#d8a030"/>
<circle cx="153.1" cy="399.2" r="0.6" fill="#c99a10"/>
<circle cx="203.3" cy="416.5" r="0.6" fill="#cf9410"/>
<circle cx="179.0" cy="409.1" r="0.6" fill="#c99a10"/>
<circle cx="193.4" cy="420.8" r="0.6" fill="#c99a10"/>
<circle cx="193.9" cy="412.8" r="0.6" fill="#d8a030"/>
<circle cx="203.1" cy="416.8" r="0.6" fill="#cf9410"/>
<circle cx="203.1" cy="422.9" r="0.6" fill="#c99a10"/>
<circle cx="159.4" cy="405.8" r="0.6" fill="#c99a10"/>
<circle cx="201.5" cy="419.6" r="0.6" fill="#cf9410"/>
<circle cx="190.2" cy="408.9" r="0.6" fill="#c99a10"/>
<circle cx="192.4" cy="416.5" r="0.6" fill="#cf9410"/>
<circle cx="149.0" cy="399.4" r="0.6" fill="#cf9410"/>
<circle cx="179.2" cy="413.4" r="0.6" fill="#c99a10"/>
<circle cx="166.5" cy="407.8" r="0.6" fill="#d8a030"/>
<circle cx="163.3" cy="400.5" r="0.6" fill="#c99a10"/>
<circle cx="176.5" cy="404.8" r="0.6" fill="#d8a030"/>
<circle cx="164.5" cy="396.4" r="0.6" fill="#cf9410"/>
<circle cx="168.5" cy="405.3" r="0.6" fill="#c99a10"/>
<circle cx="162.3" cy="406.8" r="0.6" fill="#cf9410"/>
<circle cx="148.6" cy="399.2" r="0.6" fill="#cf9410"/>
<circle cx="181.4" cy="392.7" r="0.55" fill="#d8a030"/>
<circle cx="176.3" cy="394.0" r="0.55" fill="#d8a030"/>
<circle cx="177.8" cy="386.0" r="0.55" fill="#cf9410"/>
<circle cx="182.3" cy="402.4" r="0.55" fill="#d8a030"/>
<circle cx="166.0" cy="397.7" r="0.55" fill="#cf9410"/>
<circle cx="189.8" cy="402.1" r="0.55" fill="#d8a030"/>
<circle cx="181.1" cy="404.7" r="0.55" fill="#cf9410"/>
<circle cx="184.2" cy="396.9" r="0.55" fill="#cf9410"/>
<circle cx="189.7" cy="400.2" r="0.55" fill="#d8a030"/>
<circle cx="168.7" cy="388.3" r="0.55" fill="#d8a030"/>
<circle cx="179.5" cy="403.6" r="0.55" fill="#cf9410"/>
<circle cx="182.9" cy="393.2" r="0.55" fill="#cf9410"/>
<circle cx="181.8" cy="391.9" r="0.55" fill="#d8a030"/>
<circle cx="193.6" cy="406.7" r="0.55" fill="#cf9410"/>
<circle cx="185.7" cy="390.9" r="0.55" fill="#cf9410"/>
<circle cx="168.1" cy="389.4" r="0.55" fill="#d8a030"/>
<circle cx="184.9" cy="392.5" r="0.55" fill="#d8a030"/>
<circle cx="180.7" cy="396.3" r="0.55" fill="#cf9410"/>
<circle cx="181.8" cy="395.6" r="0.55" fill="#cf9410"/>
<circle cx="188.4" cy="394.1" r="0.55" fill="#d8a030"/>
<circle cx="180.5" cy="393.6" r="0.55" fill="#cf9410"/>
<circle cx="180.3" cy="402.4" r="0.55" fill="#d8a030"/>
<circle cx="185.0" cy="398.2" r="0.55" fill="#d8a030"/>
<circle cx="168.7" cy="385.1" r="0.55" fill="#cf9410"/>
<circle cx="173.3" cy="392.3" r="0.55" fill="#cf9410"/>
<circle cx="172.3" cy="401.2" r="0.55" fill="#cf9410"/>
<circle cx="182.4" cy="385.5" r="0.55" fill="#d8a030"/>
<circle cx="166.4" cy="389.5" r="0.55" fill="#d8a030"/>
<circle cx="178.2" cy="392.0" r="0.55" fill="#d8a030"/>
<circle cx="185.2" cy="403.5" r="0.55" fill="#cf9410"/>
<circle cx="171.3" cy="395.4" r="0.55" fill="#cf9410"/>
<circle cx="166.7" cy="391.0" r="0.55" fill="#cf9410"/>
<circle cx="174.7" cy="386.5" r="0.55" fill="#cf9410"/>
<circle cx="187.7" cy="402.6" r="0.55" fill="#cf9410"/>
<circle cx="194.1" cy="403.7" r="0.55" fill="#d8a030"/>
<circle cx="186.2" cy="387.0" r="0.55" fill="#d8a030"/>
<circle cx="166.2" cy="398.3" r="0.55" fill="#d8a030"/>
<circle cx="189.1" cy="404.3" r="0.55" fill="#d8a030"/>
<circle cx="176.1" cy="384.8" r="0.55" fill="#cf9410"/>
<circle cx="181.7" cy="397.4" r="0.55" fill="#cf9410"/>
<circle cx="181.2" cy="391.9" r="0.55" fill="#d8a030"/>
<circle cx="185.8" cy="392.2" r="0.55" fill="#cf9410"/>
<circle cx="183.3" cy="391.6" r="0.55" fill="#cf9410"/>
<circle cx="163.3" cy="392.9" r="0.55" fill="#cf9410"/>
<circle cx="181.5" cy="390.2" r="0.55" fill="#cf9410"/>
<circle cx="171.0" cy="400.2" r="0.55" fill="#d8a030"/>
<circle cx="189.5" cy="403.3" r="0.55" fill="#d8a030"/>
<circle cx="172.9" cy="403.1" r="0.55" fill="#d8a030"/>
<circle cx="179.5" cy="391.6" r="0.55" fill="#d8a030"/>
<circle cx="191.5" cy="398.9" r="0.55" fill="#d8a030"/>
<circle cx="165.6" cy="397.8" r="0.55" fill="#cf9410"/>
<circle cx="188.6" cy="393.5" r="0.55" fill="#cf9410"/>
<circle cx="172.0" cy="400.5" r="0.55" fill="#d8a030"/>
<circle cx="185.4" cy="387.9" r="0.55" fill="#d8a030"/>
<circle cx="176.5" cy="393.6" r="0.55" fill="#cf9410"/>
<circle cx="172.2" cy="397.0" r="0.55" fill="#d8a030"/>
<circle cx="182.8" cy="387.9" r="0.55" fill="#d8a030"/>
<circle cx="183.8" cy="393.3" r="0.55" fill="#d8a030"/>
<circle cx="188.1" cy="389.8" r="0.55" fill="#d8a030"/>
<circle cx="169.5" cy="400.5" r="0.55" fill="#d8a030"/>
<circle cx="185.8" cy="387.7" r="0.55" fill="#cf9410"/>
<circle cx="169.4" cy="392.0" r="0.55" fill="#d8a030"/>
<circle cx="177.0" cy="390.8" r="0.55" fill="#d8a030"/>
<circle cx="178.1" cy="392.4" r="0.55" fill="#cf9410"/>
<circle cx="178.1" cy="400.0" r="0.55" fill="#d8a030"/>
<circle cx="180.9" cy="402.5" r="0.55" fill="#d8a030"/>
<circle cx="180.8" cy="388.5" r="0.55" fill="#cf9410"/>
<circle cx="174.8" cy="387.6" r="0.55" fill="#d8a030"/>
<circle cx="171.8" cy="388.4" r="0.55" fill="#cf9410"/>
<circle cx="165.7" cy="393.9" r="0.55" fill="#d8a030"/>
<circle cx="198.8" cy="424.5" r="0.55" fill="#cf9410"/>
<circle cx="188.4" cy="421.6" r="0.55" fill="#cf9410"/>
<circle cx="185.0" cy="425.2" r="0.55" fill="#d8a030"/>
<circle cx="195.6" cy="422.6" r="0.55" fill="#cf9410"/>
<circle cx="193.8" cy="426.5" r="0.55" fill="#cf9410"/>
<circle cx="185.8" cy="424.3" r="0.55" fill="#d8a030"/>
<circle cx="198.2" cy="423.5" r="0.55" fill="#d8a030"/>
<circle cx="195.5" cy="425.9" r="0.55" fill="#d8a030"/>
<circle cx="202.7" cy="428.2" r="0.55" fill="#cf9410"/>
<circle cx="178.7" cy="422.2" r="0.55" fill="#cf9410"/>
<circle cx="198.9" cy="428.7" r="0.55" fill="#d8a030"/>
<circle cx="201.1" cy="428.3" r="0.55" fill="#d8a030"/>
<circle cx="207.3" cy="426.8" r="0.55" fill="#cf9410"/>
<circle cx="192.5" cy="426.7" r="0.55" fill="#d8a030"/>
<circle cx="204.3" cy="425.4" r="0.55" fill="#cf9410"/>
<circle cx="205.0" cy="426.9" r="0.55" fill="#cf9410"/>
<circle cx="196.0" cy="430.1" r="0.55" fill="#d8a030"/>
<circle cx="183.7" cy="423.9" r="0.55" fill="#d8a030"/>
<circle cx="190.3" cy="422.5" r="0.55" fill="#cf9410"/>
<circle cx="193.5" cy="428.4" r="0.55" fill="#d8a030"/>
<circle cx="186.8" cy="421.8" r="0.55" fill="#cf9410"/>
<circle cx="187.5" cy="426.3" r="0.55" fill="#cf9410"/>
<circle cx="203.5" cy="428.9" r="0.55" fill="#d8a030"/>
<circle cx="185.2" cy="424.5" r="0.55" fill="#d8a030"/>
<circle cx="183.3" cy="422.4" r="0.55" fill="#cf9410"/>
<circle cx="189.9" cy="425.1" r="0.55" fill="#d8a030"/>
<circle cx="182.8" cy="421.4" r="0.55" fill="#cf9410"/>
<circle cx="193.3" cy="423.5" r="0.55" fill="#cf9410"/>
<circle cx="178.3" cy="420.0" r="0.55" fill="#d8a030"/>
<circle cx="191.9" cy="427.8" r="0.55" fill="#cf9410"/>
<circle cx="204.2" cy="424.3" r="0.55" fill="#d8a030"/>
<circle cx="208.7" cy="431.3" r="0.55" fill="#d8a030"/>
<circle cx="200.7" cy="427.9" r="0.55" fill="#d8a030"/>
<circle cx="199.0" cy="428.6" r="0.55" fill="#d8a030"/>
<circle cx="183.2" cy="421.8" r="0.55" fill="#d8a030"/>
<circle cx="187.3" cy="421.3" r="0.55" fill="#d8a030"/>
<circle cx="204.9" cy="430.5" r="0.55" fill="#cf9410"/>
<circle cx="201.3" cy="430.9" r="0.55" fill="#d8a030"/>
<circle cx="183.9" cy="423.5" r="0.55" fill="#cf9410"/>
<circle cx="202.3" cy="427.5" r="0.55" fill="#cf9410"/>
<path d="M138.2,375.5 L147.3,370.0 L172.7,368.9 L194.5,370.0 L220.0,371.8 L245.5,377.3 L258.2,382.7 L262.9,390.0 L260.0,399.1 L252.7,404.5 L245.5,410.0 L230.9,413.6 L216.4,417.3 L209.1,419.1 L201.8,415.5 L195.3,408.2 L192.7,397.3 L189.1,388.2 L181.8,382.7 L172.7,382.0 L165.5,384.5 L161.8,391.8 L158.2,397.3 L147.3,397.3 L140.0,390.0Z" fill="#cf9410"/>
<path d="M138.2,375.5 L147.3,370.0 L172.7,368.9 L178.2,382.7 L172.7,382.0 L165.5,384.5 L161.8,391.8 L158.2,397.3 L147.3,397.3 L140.0,390.0Z" fill="#c49a14"/>
<circle cx="250.6" cy="407.0" r="0.6" fill="#c99a10"/>
<circle cx="223.0" cy="370.8" r="0.6" fill="#c99a10"/>
<circle cx="260.7" cy="385.9" r="0.6" fill="#cf9410"/>
<circle cx="159.7" cy="380.9" r="0.6" fill="#cf9410"/>
<circle cx="253.0" cy="400.4" r="0.6" fill="#cf9410"/>
<circle cx="262.5" cy="390.6" r="0.6" fill="#c99a10"/>
<circle cx="248.9" cy="376.2" r="0.6" fill="#cf9410"/>
<circle cx="258.5" cy="381.8" r="0.6" fill="#c99a10"/>
<circle cx="159.7" cy="384.2" r="0.6" fill="#cf9410"/>
<circle cx="258.7" cy="399.1" r="0.6" fill="#cf9410"/>
<circle cx="252.4" cy="404.7" r="0.6" fill="#cf9410"/>
<circle cx="257.4" cy="394.6" r="0.6" fill="#cf9410"/>
<circle cx="239.2" cy="407.5" r="0.6" fill="#cf9410"/>
<circle cx="257.1" cy="401.1" r="0.6" fill="#cf9410"/>
<circle cx="208.2" cy="370.8" r="0.6" fill="#cf9410"/>
<circle cx="250.3" cy="403.9" r="0.6" fill="#c99a10"/>
<circle cx="236.8" cy="413.7" r="0.6" fill="#cf9410"/>
<circle cx="252.8" cy="403.9" r="0.6" fill="#cf9410"/>
<circle cx="248.9" cy="379.9" r="0.6" fill="#cf9410"/>
<circle cx="245.8" cy="407.5" r="0.6" fill="#c99a10"/>
<circle cx="203.2" cy="401.5" r="0.6" fill="#c99a10"/>
<circle cx="140.4" cy="376.7" r="0.6" fill="#c99a10"/>
<circle cx="145.4" cy="369.9" r="0.6" fill="#c99a10"/>
<circle cx="175.0" cy="367.8" r="0.6" fill="#c99a10"/>
<circle cx="182.6" cy="372.8" r="0.6" fill="#c99a10"/>
<circle cx="261.1" cy="386.7" r="0.6" fill="#c99a10"/>
<circle cx="257.8" cy="397.3" r="0.6" fill="#c99a10"/>
<circle cx="258.5" cy="383.7" r="0.6" fill="#cf9410"/>
<circle cx="263.0" cy="391.4" r="0.6" fill="#cf9410"/>
<circle cx="204.6" cy="367.2" r="0.6" fill="#c99a10"/>
<circle cx="155.9" cy="371.6" r="0.6" fill="#cf9410"/>
<circle cx="258.6" cy="379.7" r="0.6" fill="#cf9410"/>
<circle cx="212.4" cy="406.5" r="0.6" fill="#c99a10"/>
<circle cx="253.0" cy="401.2" r="0.6" fill="#c99a10"/>
<circle cx="224.3" cy="369.3" r="0.6" fill="#c99a10"/>
<circle cx="193.0" cy="369.2" r="0.6" fill="#cf9410"/>
<circle cx="238.4" cy="413.1" r="0.6" fill="#cf9410"/>
<circle cx="254.7" cy="398.0" r="0.6" fill="#c99a10"/>
<circle cx="253.6" cy="380.9" r="0.6" fill="#c99a10"/>
<circle cx="237.6" cy="411.8" r="0.6" fill="#c99a10"/>
<circle cx="243.4" cy="410.6" r="0.6" fill="#c99a10"/>
<circle cx="217.7" cy="407.0" r="0.6" fill="#cf9410"/>
<circle cx="215.4" cy="372.8" r="0.6" fill="#cf9410"/>
<circle cx="147.2" cy="373.1" r="0.6" fill="#cf9410"/>
<circle cx="214.7" cy="374.0" r="0.6" fill="#c99a10"/>
<circle cx="252.6" cy="381.3" r="0.6" fill="#c99a10"/>
<circle cx="158.3" cy="371.4" r="0.6" fill="#c99a10"/>
<circle cx="247.5" cy="376.3" r="0.6" fill="#c99a10"/>
<circle cx="204.5" cy="371.6" r="0.6" fill="#cf9410"/>
<circle cx="136.9" cy="375.5" r="0.6" fill="#cf9410"/>
<circle cx="259.2" cy="385.8" r="0.6" fill="#cf9410"/>
<circle cx="189.9" cy="372.8" r="0.6" fill="#c99a10"/>
<circle cx="179.3" cy="369.1" r="0.6" fill="#c99a10"/>
<circle cx="161.0" cy="369.2" r="0.6" fill="#c99a10"/>
<circle cx="254.5" cy="404.1" r="0.6" fill="#cf9410"/>
<circle cx="244.4" cy="412.6" r="0.6" fill="#c99a10"/>
<circle cx="232.0" cy="413.8" r="0.6" fill="#c99a10"/>
<circle cx="230.0" cy="410.7" r="0.6" fill="#cf9410"/>
<circle cx="247.2" cy="407.3" r="0.6" fill="#cf9410"/>
<circle cx="263.4" cy="392.4" r="0.6" fill="#c99a10"/>
<circle cx="227.2" cy="412.8" r="0.6" fill="#c99a10"/>
<circle cx="158.3" cy="367.9" r="0.6" fill="#c99a10"/>
<circle cx="242.9" cy="411.1" r="0.6" fill="#cf9410"/>
<circle cx="252.9" cy="408.6" r="0.6" fill="#c99a10"/>
<circle cx="207.6" cy="370.2" r="0.6" fill="#c99a10"/>
<circle cx="257.2" cy="401.5" r="0.6" fill="#c99a10"/>
<circle cx="247.7" cy="377.9" r="0.6" fill="#c99a10"/>
<circle cx="212.5" cy="409.9" r="0.6" fill="#cf9410"/>
<circle cx="153.2" cy="370.6" r="0.6" fill="#cf9410"/>
<circle cx="260.1" cy="386.5" r="0.6" fill="#cf9410"/>
<circle cx="264.3" cy="397.1" r="0.6" fill="#c99a10"/>
<circle cx="180.8" cy="368.2" r="0.6" fill="#c99a10"/>
<circle cx="139.9" cy="374.8" r="0.6" fill="#c99a10"/>
<circle cx="148.5" cy="371.0" r="0.6" fill="#c99a10"/>
<circle cx="255.9" cy="385.1" r="0.6" fill="#cf9410"/>
<circle cx="259.7" cy="380.9" r="0.6" fill="#c99a10"/>
<circle cx="175.5" cy="391.7" r="0.6" fill="#cf9410"/>
<circle cx="148.1" cy="369.4" r="0.6" fill="#c99a10"/>
<circle cx="254.9" cy="401.6" r="0.6" fill="#c99a10"/>
<circle cx="243.0" cy="412.0" r="0.6" fill="#cf9410"/>
<circle cx="263.8" cy="395.5" r="0.6" fill="#c99a10"/>
<circle cx="261.0" cy="384.8" r="0.6" fill="#cf9410"/>
<circle cx="242.1" cy="413.0" r="0.6" fill="#c99a10"/>
<circle cx="160.6" cy="372.1" r="0.6" fill="#cf9410"/>
<circle cx="207.6" cy="373.6" r="0.6" fill="#cf9410"/>
<circle cx="254.7" cy="382.0" r="0.6" fill="#cf9410"/>
<circle cx="199.9" cy="370.2" r="0.6" fill="#cf9410"/>
<circle cx="223.0" cy="373.2" r="0.6" fill="#cf9410"/>
<circle cx="259.2" cy="395.8" r="0.6" fill="#c99a10"/>
<circle cx="217.5" cy="373.6" r="0.6" fill="#c99a10"/>
<circle cx="225.5" cy="373.3" r="0.6" fill="#c99a10"/>
<circle cx="262.4" cy="388.2" r="0.6" fill="#cf9410"/>
<circle cx="226.1" cy="374.3" r="0.6" fill="#cf9410"/>
<circle cx="204.4" cy="372.5" r="0.6" fill="#cf9410"/>
<circle cx="264.4" cy="388.6" r="0.6" fill="#c99a10"/>
<circle cx="139.7" cy="376.9" r="0.6" fill="#c99a10"/>
<circle cx="199.2" cy="371.7" r="0.6" fill="#cf9410"/>
<circle cx="249.0" cy="376.7" r="0.6" fill="#cf9410"/>
<circle cx="248.1" cy="379.9" r="0.6" fill="#c99a10"/>
<circle cx="158.1" cy="369.5" r="0.6" fill="#c99a10"/>
<circle cx="236.4" cy="413.5" r="0.6" fill="#cf9410"/>
<circle cx="247.6" cy="375.9" r="0.6" fill="#c99a10"/>
<circle cx="207.8" cy="372.4" r="0.6" fill="#cf9410"/>
<circle cx="263.6" cy="391.0" r="0.6" fill="#c99a10"/>
<circle cx="248.8" cy="410.1" r="0.6" fill="#cf9410"/>
<circle cx="178.2" cy="368.6" r="0.6" fill="#c99a10"/>
<circle cx="239.5" cy="376.3" r="0.6" fill="#c99a10"/>
<circle cx="236.4" cy="409.7" r="0.6" fill="#c99a10"/>
<circle cx="263.4" cy="390.6" r="0.6" fill="#cf9410"/>
<circle cx="254.4" cy="381.8" r="0.6" fill="#cf9410"/>
<circle cx="257.4" cy="399.9" r="0.6" fill="#cf9410"/>
<circle cx="220.0" cy="410.2" r="0.6" fill="#c99a10"/>
<circle cx="249.5" cy="379.4" r="0.6" fill="#cf9410"/>
<circle cx="139.7" cy="372.6" r="0.6" fill="#cf9410"/>
<circle cx="222.9" cy="371.0" r="0.6" fill="#c99a10"/>
<circle cx="251.0" cy="381.6" r="0.6" fill="#c99a10"/>
<circle cx="221.5" cy="372.9" r="0.6" fill="#c99a10"/>
<circle cx="141.7" cy="373.7" r="0.6" fill="#cf9410"/>
<circle cx="258.3" cy="403.0" r="0.6" fill="#cf9410"/>
<circle cx="245.8" cy="409.0" r="0.6" fill="#c99a10"/>
<circle cx="234.4" cy="375.8" r="0.6" fill="#c99a10"/>
<circle cx="256.4" cy="403.5" r="0.6" fill="#cf9410"/>
<circle cx="260.8" cy="388.5" r="0.6" fill="#c99a10"/>
<circle cx="253.5" cy="404.2" r="0.6" fill="#cf9410"/>
<circle cx="185.4" cy="394.2" r="0.6" fill="#cf9410"/>
<circle cx="244.7" cy="378.7" r="0.6" fill="#cf9410"/>
<circle cx="257.3" cy="400.0" r="0.6" fill="#cf9410"/>
<circle cx="239.6" cy="375.9" r="0.6" fill="#cf9410"/>
<circle cx="253.2" cy="404.2" r="0.6" fill="#c99a10"/>
<circle cx="164.1" cy="385.4" r="0.6" fill="#cf9410"/>
<circle cx="185.3" cy="371.6" r="0.6" fill="#cf9410"/>
<circle cx="199.8" cy="369.9" r="0.6" fill="#c99a10"/>
<circle cx="237.4" cy="412.6" r="0.6" fill="#c99a10"/>
<circle cx="144.6" cy="369.7" r="0.6" fill="#cf9410"/>
<circle cx="229.0" cy="411.1" r="0.6" fill="#cf9410"/>
<circle cx="206.5" cy="370.1" r="0.6" fill="#c99a10"/>
<circle cx="195.7" cy="371.2" r="0.6" fill="#c99a10"/>
<circle cx="153.4" cy="370.2" r="0.6" fill="#cf9410"/>
<circle cx="258.4" cy="383.6" r="0.6" fill="#cf9410"/>
<circle cx="173.1" cy="388.2" r="0.6" fill="#cf9410"/>
<circle cx="252.3" cy="382.4" r="0.6" fill="#cf9410"/>
<circle cx="184.6" cy="367.6" r="0.6" fill="#c99a10"/>
<circle cx="236.2" cy="375.4" r="0.6" fill="#c99a10"/>
<circle cx="168.2" cy="369.2" r="0.6" fill="#c99a10"/>
<circle cx="206.4" cy="405.2" r="0.6" fill="#cf9410"/>
<circle cx="244.4" cy="374.3" r="0.6" fill="#c99a10"/>
<circle cx="241.7" cy="410.7" r="0.6" fill="#c99a10"/>
<circle cx="161.9" cy="369.1" r="0.6" fill="#c99a10"/>
<circle cx="252.9" cy="405.8" r="0.6" fill="#cf9410"/>
<circle cx="229.9" cy="416.1" r="0.6" fill="#c99a10"/>
<circle cx="258.9" cy="387.8" r="0.6" fill="#cf9410"/>
<circle cx="207.3" cy="403.1" r="0.6" fill="#c99a10"/>
<circle cx="191.7" cy="372.4" r="0.6" fill="#c99a10"/>
<circle cx="215.1" cy="372.4" r="0.6" fill="#c99a10"/>
<circle cx="175.1" cy="391.1" r="0.6" fill="#c99a10"/>
<circle cx="254.9" cy="402.4" r="0.6" fill="#cf9410"/>
<circle cx="260.3" cy="397.8" r="0.6" fill="#cf9410"/>
<circle cx="236.5" cy="412.3" r="0.6" fill="#cf9410"/>
<circle cx="243.0" cy="375.2" r="0.6" fill="#c99a10"/>
<circle cx="249.5" cy="376.3" r="0.6" fill="#c99a10"/>
<circle cx="194.1" cy="370.4" r="0.6" fill="#cf9410"/>
<circle cx="150.2" cy="371.4" r="0.6" fill="#cf9410"/>
<circle cx="175.4" cy="370.2" r="0.6" fill="#c99a10"/>
<circle cx="261.7" cy="393.3" r="0.6" fill="#c99a10"/>
<circle cx="172.7" cy="367.6" r="0.6" fill="#cf9410"/>
<circle cx="255.4" cy="383.5" r="0.6" fill="#c99a10"/>
<circle cx="152.8" cy="381.1" r="0.6" fill="#cf9410"/>
<circle cx="251.3" cy="409.3" r="0.6" fill="#c99a10"/>
<circle cx="262.1" cy="386.4" r="0.6" fill="#cf9410"/>
<circle cx="164.7" cy="384.8" r="0.6" fill="#cf9410"/>
<circle cx="237.8" cy="377.0" r="0.6" fill="#c99a10"/>
<circle cx="141.9" cy="370.6" r="0.6" fill="#c99a10"/>
<circle cx="199.7" cy="368.0" r="0.6" fill="#cf9410"/>
<circle cx="173.3" cy="370.7" r="0.6" fill="#c99a10"/>
<circle cx="221.2" cy="373.0" r="0.6" fill="#cf9410"/>
<circle cx="178.9" cy="369.1" r="0.6" fill="#c99a10"/>
<circle cx="176.9" cy="368.3" r="0.6" fill="#c99a10"/>
<circle cx="179.5" cy="391.9" r="0.6" fill="#c99a10"/>
<circle cx="202.5" cy="371.0" r="0.6" fill="#c99a10"/>
<circle cx="196.6" cy="369.3" r="0.6" fill="#cf9410"/>
<circle cx="251.0" cy="404.7" r="0.6" fill="#c99a10"/>
<circle cx="258.7" cy="385.2" r="0.6" fill="#c99a10"/>
<circle cx="202.8" cy="370.9" r="0.6" fill="#cf9410"/>
<circle cx="237.5" cy="409.1" r="0.6" fill="#cf9410"/>
<circle cx="219.1" cy="369.4" r="0.6" fill="#cf9410"/>
<circle cx="252.5" cy="401.5" r="0.6" fill="#cf9410"/>
<circle cx="247.3" cy="379.7" r="0.6" fill="#cf9410"/>
<circle cx="253.8" cy="400.6" r="0.6" fill="#c99a10"/>
<circle cx="247.5" cy="406.7" r="0.6" fill="#c99a10"/>
<circle cx="244.1" cy="409.1" r="0.6" fill="#cf9410"/>
<circle cx="260.8" cy="397.4" r="0.6" fill="#cf9410"/>
<circle cx="252.8" cy="380.7" r="0.6" fill="#cf9410"/>
<circle cx="145.9" cy="369.0" r="0.6" fill="#cf9410"/>
<circle cx="145.5" cy="370.7" r="0.6" fill="#cf9410"/>
<circle cx="256.7" cy="402.6" r="0.6" fill="#c99a10"/>
<circle cx="262.2" cy="395.0" r="0.6" fill="#c99a10"/>
<circle cx="258.6" cy="384.6" r="0.6" fill="#c99a10"/>
<circle cx="255.4" cy="406.4" r="0.6" fill="#c99a10"/>
<circle cx="177.0" cy="370.2" r="0.6" fill="#c99a10"/>
<circle cx="251.7" cy="380.1" r="0.6" fill="#cf9410"/>
<circle cx="179.4" cy="390.4" r="0.65" fill="#14c0b0"/>
<circle cx="181.0" cy="389.5" r="0.65" fill="#00c1ab"/>
<circle cx="180.1" cy="393.2" r="0.65" fill="#14c0b0"/>
<circle cx="196.5" cy="381.3" r="0.65" fill="#00c1ab"/>
<circle cx="179.6" cy="389.9" r="0.65" fill="#00c1ab"/>
<circle cx="188.8" cy="386.2" r="0.65" fill="#14c0b0"/>
<circle cx="180.3" cy="391.2" r="0.65" fill="#14c0b0"/>
<circle cx="178.7" cy="394.5" r="0.65" fill="#00c1ab"/>
<circle cx="173.1" cy="394.6" r="0.65" fill="#14c0b0"/>
<circle cx="191.3" cy="383.5" r="0.65" fill="#14c0b0"/>
<circle cx="196.5" cy="384.2" r="0.65" fill="#00bfc4"/>
<circle cx="189.7" cy="385.6" r="0.65" fill="#14c0b0"/>
<circle cx="184.0" cy="389.0" r="0.65" fill="#00bfc4"/>
<circle cx="184.1" cy="390.2" r="0.65" fill="#14c0b0"/>
<circle cx="181.5" cy="390.6" r="0.65" fill="#00bfc4"/>
<circle cx="184.7" cy="386.8" r="0.65" fill="#00bfc4"/>
<circle cx="181.6" cy="392.6" r="0.65" fill="#00bfc4"/>
<circle cx="194.9" cy="385.2" r="0.65" fill="#14c0b0"/>
<circle cx="180.3" cy="392.2" r="0.65" fill="#00bfc4"/>
<circle cx="188.8" cy="387.3" r="0.65" fill="#14c0b0"/>
<circle cx="192.6" cy="384.9" r="0.65" fill="#00bfc4"/>
<circle cx="185.0" cy="389.4" r="0.65" fill="#14c0b0"/>
<circle cx="176.3" cy="393.3" r="0.65" fill="#00c1ab"/>
<circle cx="181.6" cy="388.9" r="0.65" fill="#00bfc4"/>
<circle cx="187.3" cy="388.0" r="0.65" fill="#00c1ab"/>
<circle cx="175.2" cy="395.9" r="0.65" fill="#00c1ab"/>
<circle cx="174.3" cy="394.2" r="0.65" fill="#00c1ab"/>
<circle cx="185.8" cy="386.5" r="0.65" fill="#00bfc4"/>
<circle cx="173.0" cy="394.7" r="0.65" fill="#14c0b0"/>
<circle cx="181.2" cy="389.8" r="0.65" fill="#00bfc4"/>
<circle cx="172.4" cy="395.6" r="0.65" fill="#00bfc4"/>
<circle cx="176.9" cy="391.9" r="0.65" fill="#00c1ab"/>
<circle cx="189.5" cy="387.1" r="0.65" fill="#14c0b0"/>
<circle cx="193.6" cy="384.5" r="0.65" fill="#00bfc4"/>
<circle cx="195.9" cy="383.4" r="0.65" fill="#14c0b0"/>
<circle cx="192.2" cy="384.1" r="0.65" fill="#14c0b0"/>
<circle cx="179.3" cy="390.0" r="0.65" fill="#00bfc4"/>
<circle cx="193.6" cy="382.6" r="0.65" fill="#00c1ab"/>
<circle cx="175.4" cy="395.1" r="0.65" fill="#00bfc4"/>
<circle cx="188.8" cy="386.4" r="0.65" fill="#00bfc4"/>
<circle cx="188.3" cy="388.4" r="0.65" fill="#14c0b0"/>
<circle cx="195.9" cy="382.5" r="0.65" fill="#14c0b0"/>
<circle cx="189.6" cy="386.7" r="0.65" fill="#14c0b0"/>
<circle cx="175.3" cy="393.2" r="0.65" fill="#00c1ab"/>
<circle cx="179.0" cy="391.1" r="0.65" fill="#00bfc4"/>
<circle cx="175.7" cy="396.6" r="0.65" fill="#00bfc4"/>
<circle cx="174.3" cy="394.3" r="0.65" fill="#14c0b0"/>
<circle cx="195.2" cy="384.9" r="0.65" fill="#00c1ab"/>
<circle cx="172.0" cy="395.9" r="0.65" fill="#14c0b0"/>
<circle cx="189.3" cy="384.9" r="0.65" fill="#00bfc4"/>
<circle cx="174.4" cy="395.3" r="0.65" fill="#14c0b0"/>
<circle cx="195.2" cy="384.9" r="0.65" fill="#14c0b0"/>
<circle cx="176.2" cy="395.0" r="0.65" fill="#14c0b0"/>
<circle cx="177.6" cy="393.7" r="0.65" fill="#14c0b0"/>
<circle cx="186.8" cy="387.4" r="0.65" fill="#00bfc4"/>
<circle cx="176.7" cy="392.2" r="0.65" fill="#14c0b0"/>
<circle cx="181.1" cy="389.1" r="0.65" fill="#14c0b0"/>
<circle cx="189.4" cy="384.2" r="0.65" fill="#00bfc4"/>
<circle cx="173.2" cy="395.9" r="0.65" fill="#14c0b0"/>
<circle cx="177.5" cy="395.5" r="0.65" fill="#00bfc4"/>
<circle cx="175.3" cy="395.8" r="0.65" fill="#00bfc4"/>
<circle cx="194.0" cy="383.8" r="0.65" fill="#00c1ab"/>
<circle cx="185.0" cy="387.3" r="0.65" fill="#00c1ab"/>
<circle cx="177.7" cy="392.2" r="0.65" fill="#00bfc4"/>
<circle cx="192.9" cy="385.0" r="0.65" fill="#14c0b0"/>
<circle cx="193.8" cy="384.8" r="0.65" fill="#00bfc4"/>
<circle cx="189.8" cy="387.8" r="0.65" fill="#14c0b0"/>
<circle cx="182.0" cy="391.4" r="0.65" fill="#00bfc4"/>
<circle cx="184.9" cy="387.9" r="0.65" fill="#00bfc4"/>
<circle cx="188.8" cy="388.0" r="0.65" fill="#00bfc4"/>
<path d="M172.7,395.8 L184.4,387.8 L196.4,382.0 L197.5,383.1 L185.8,388.9 L173.8,396.9Z" fill="#14c0b0"  opacity="0.8"/>
<circle cx="223.0" cy="412.8" r="0.6" fill="#00bfc4"/>
<circle cx="224.5" cy="409.6" r="0.6" fill="#00bfc4"/>
<circle cx="224.9" cy="403.5" r="0.6" fill="#00c1ab"/>
<circle cx="221.6" cy="411.4" r="0.6" fill="#00c1ab"/>
<circle cx="225.0" cy="406.3" r="0.6" fill="#00c1ab"/>
<circle cx="224.7" cy="404.7" r="0.6" fill="#00bfc4"/>
<circle cx="224.7" cy="413.4" r="0.6" fill="#00c1ab"/>
<circle cx="221.9" cy="407.2" r="0.6" fill="#00bfc4"/>
<circle cx="221.6" cy="412.7" r="0.6" fill="#00bfc4"/>
<circle cx="225.8" cy="410.6" r="0.6" fill="#00bfc4"/>
<circle cx="225.2" cy="410.9" r="0.6" fill="#00bfc4"/>
<circle cx="223.6" cy="409.4" r="0.6" fill="#00bfc4"/>
<circle cx="221.5" cy="404.5" r="0.6" fill="#00bfc4"/>
<circle cx="222.1" cy="401.8" r="0.6" fill="#00c1ab"/>
<circle cx="222.1" cy="400.9" r="0.6" fill="#00bfc4"/>
<circle cx="222.2" cy="411.3" r="0.6" fill="#00c1ab"/>
<circle cx="223.3" cy="409.0" r="0.6" fill="#00c1ab"/>
<circle cx="224.4" cy="405.9" r="0.6" fill="#00bfc4"/>
<circle cx="221.4" cy="407.0" r="0.6" fill="#00bfc4"/>
<circle cx="224.5" cy="404.9" r="0.6" fill="#00bfc4"/>
<circle cx="222.3" cy="401.2" r="0.6" fill="#00c1ab"/>
<circle cx="222.3" cy="403.0" r="0.6" fill="#00c1ab"/>
<circle cx="222.6" cy="405.8" r="0.6" fill="#00c1ab"/>
<circle cx="223.1" cy="409.5" r="0.6" fill="#00bfc4"/>
<circle cx="223.3" cy="406.5" r="0.6" fill="#00c1ab"/>
<circle cx="239.9" cy="398.5" r="0.6" fill="#00c1ab"/>
<circle cx="224.0" cy="394.5" r="0.6" fill="#00bfc4"/>
<circle cx="219.6" cy="397.0" r="0.6" fill="#00c1ab"/>
<circle cx="235.8" cy="392.3" r="0.6" fill="#00bfc4"/>
<circle cx="213.5" cy="391.2" r="0.6" fill="#00bfc4"/>
<circle cx="254.0" cy="405.6" r="0.6" fill="#00c1ab"/>
<circle cx="223.2" cy="393.3" r="0.6" fill="#00c1ab"/>
<circle cx="230.6" cy="396.1" r="0.6" fill="#00bfc4"/>
<circle cx="243.8" cy="404.8" r="0.6" fill="#00bfc4"/>
<circle cx="228.9" cy="401.4" r="0.6" fill="#00bfc4"/>
<circle cx="222.0" cy="391.8" r="0.6" fill="#00bfc4"/>
<circle cx="230.8" cy="395.5" r="0.6" fill="#00bfc4"/>
<circle cx="219.6" cy="404.3" r="0.6" fill="#00c1ab"/>
<circle cx="231.9" cy="406.9" r="0.6" fill="#00c1ab"/>
<circle cx="250.8" cy="392.9" r="0.6" fill="#00c1ab"/>
<circle cx="220.1" cy="396.9" r="0.6" fill="#00c1ab"/>
<circle cx="230.6" cy="403.1" r="0.6" fill="#00bfc4"/>
<circle cx="220.4" cy="406.6" r="0.6" fill="#00c1ab"/>
<circle cx="240.6" cy="395.9" r="0.6" fill="#00bfc4"/>
<circle cx="221.9" cy="410.6" r="0.6" fill="#00bfc4"/>
<circle cx="238.0" cy="398.4" r="0.6" fill="#00c1ab"/>
<circle cx="254.2" cy="399.5" r="0.6" fill="#00bfc4"/>
<circle cx="229.5" cy="401.9" r="0.6" fill="#00c1ab"/>
<circle cx="235.9" cy="404.1" r="0.6" fill="#00bfc4"/>
<circle cx="237.1" cy="396.0" r="0.6" fill="#00c1ab"/>
<circle cx="226.5" cy="408.9" r="0.6" fill="#00bfc4"/>
<circle cx="227.5" cy="397.7" r="0.6" fill="#00bfc4"/>
<circle cx="218.9" cy="400.5" r="0.6" fill="#00bfc4"/>
<circle cx="238.1" cy="405.6" r="0.6" fill="#00bfc4"/>
<circle cx="244.5" cy="408.3" r="0.6" fill="#00bfc4"/>
<circle cx="161.8" cy="385.2" r="0.7" fill="#eb69f0"/>
<circle cx="160.7" cy="390.8" r="0.7" fill="#eb69f0"/>
<circle cx="160.4" cy="388.5" r="0.7" fill="#eb69f0"/>
<circle cx="160.3" cy="393.2" r="0.7" fill="#f962dd"/>
<circle cx="161.0" cy="391.2" r="0.7" fill="#f962dd"/>
<circle cx="160.5" cy="386.1" r="0.7" fill="#f962dd"/>
<circle cx="168.5" cy="386.7" r="0.7" fill="#eb69f0"/>
<circle cx="166.2" cy="390.2" r="0.7" fill="#f962dd"/>
<circle cx="159.2" cy="390.1" r="0.7" fill="#eb69f0"/>
<circle cx="159.2" cy="392.4" r="0.7" fill="#eb69f0"/>
<circle cx="168.5" cy="391.0" r="0.7" fill="#f962dd"/>
<circle cx="163.5" cy="388.0" r="0.7" fill="#f962dd"/>
<circle cx="166.6" cy="391.3" r="0.7" fill="#f962dd"/>
<circle cx="167.0" cy="391.6" r="0.7" fill="#f962dd"/>
<circle cx="164.6" cy="384.7" r="0.7" fill="#f962dd"/>
<circle cx="166.6" cy="391.7" r="0.7" fill="#eb69f0"/>
<circle cx="166.3" cy="387.2" r="0.7" fill="#f962dd"/>
<circle cx="159.0" cy="385.7" r="0.7" fill="#eb69f0"/>
<circle cx="208.1" cy="420.7" r="0.7" fill="#f962dd"/>
<circle cx="212.9" cy="424.3" r="0.7" fill="#f962dd"/>
<circle cx="205.8" cy="420.0" r="0.7" fill="#f962dd"/>
<circle cx="212.4" cy="424.3" r="0.7" fill="#f962dd"/>
<circle cx="209.8" cy="421.1" r="0.7" fill="#ff65ac"/>
<circle cx="212.7" cy="426.1" r="0.7" fill="#ff65ac"/>
<circle cx="210.8" cy="426.3" r="0.7" fill="#f962dd"/>
<circle cx="208.0" cy="417.9" r="0.7" fill="#ff65ac"/>
<circle cx="207.4" cy="424.6" r="0.7" fill="#f962dd"/>
<circle cx="212.6" cy="424.5" r="0.7" fill="#f962dd"/>
<path d="M255.3,398.3 L261.5,401.4 L263.0,404.5 L258.4,404.5Z" fill="#00bb49"/>
<path d="M205.9,435.0 L211.4,434.2 L218.2,436.4 L225.0,441.8 L234.5,447.3 L245.4,453.3 L251.4,458.2 L249.5,460.4 L242.7,457.6 L231.8,452.2 L220.9,447.3 L211.4,445.1 L206.7,440.5Z" fill="#ff65ac"/>
<circle cx="213.4" cy="435.0" r="0.6" fill="#f962dd"/>
<circle cx="247.1" cy="460.9" r="0.6" fill="#ff65ac"/>
<circle cx="225.2" cy="441.9" r="0.6" fill="#ff65ac"/>
<circle cx="212.1" cy="446.4" r="0.6" fill="#f962dd"/>
<circle cx="223.4" cy="449.8" r="0.6" fill="#f962dd"/>
<circle cx="239.3" cy="452.3" r="0.6" fill="#ff65ac"/>
<circle cx="248.9" cy="461.6" r="0.6" fill="#f962dd"/>
<circle cx="250.5" cy="460.2" r="0.6" fill="#ff65ac"/>
<circle cx="209.8" cy="445.8" r="0.6" fill="#ff65ac"/>
<circle cx="226.8" cy="442.9" r="0.6" fill="#f962dd"/>
<circle cx="242.4" cy="459.5" r="0.6" fill="#f962dd"/>
<circle cx="234.2" cy="447.4" r="0.6" fill="#f962dd"/>
<circle cx="207.2" cy="439.7" r="0.6" fill="#ff65ac"/>
<circle cx="247.9" cy="461.3" r="0.6" fill="#f962dd"/>
<circle cx="233.9" cy="446.6" r="0.6" fill="#f962dd"/>
<circle cx="245.0" cy="457.7" r="0.6" fill="#f962dd"/>
<circle cx="208.7" cy="441.2" r="0.6" fill="#ff65ac"/>
<circle cx="248.1" cy="459.7" r="0.6" fill="#ff65ac"/>
<circle cx="236.2" cy="448.4" r="0.6" fill="#f962dd"/>
<circle cx="206.6" cy="436.8" r="0.6" fill="#ff65ac"/>
<circle cx="250.3" cy="454.5" r="0.6" fill="#f962dd"/>
<circle cx="244.9" cy="454.6" r="0.6" fill="#f962dd"/>
<circle cx="237.1" cy="456.5" r="0.6" fill="#ff65ac"/>
<circle cx="207.1" cy="436.4" r="0.6" fill="#ff65ac"/>
<circle cx="223.0" cy="438.3" r="0.6" fill="#f962dd"/>
<circle cx="228.6" cy="446.1" r="0.6" fill="#f962dd"/>
<circle cx="214.2" cy="436.3" r="0.6" fill="#ff65ac"/>
<circle cx="220.2" cy="439.6" r="0.6" fill="#f962dd"/>
<circle cx="219.9" cy="439.0" r="0.6" fill="#ff65ac"/>
<circle cx="246.1" cy="457.0" r="0.6" fill="#f962dd"/>
<circle cx="206.2" cy="438.6" r="0.6" fill="#f962dd"/>
<circle cx="217.2" cy="434.6" r="0.6" fill="#f962dd"/>
<circle cx="205.6" cy="435.0" r="0.6" fill="#ff65ac"/>
<circle cx="230.5" cy="449.3" r="0.6" fill="#f962dd"/>
<circle cx="222.5" cy="448.2" r="0.6" fill="#ff65ac"/>
<circle cx="206.3" cy="437.6" r="0.6" fill="#f962dd"/>
<circle cx="222.0" cy="440.3" r="0.6" fill="#ff65ac"/>
<circle cx="250.1" cy="457.4" r="0.6" fill="#f962dd"/>
<circle cx="233.8" cy="451.9" r="0.6" fill="#ff65ac"/>
<circle cx="248.4" cy="459.8" r="0.6" fill="#ff65ac"/>
<path d="M182.7,475.9 L190.9,473.2 L210.0,473.2 L218.2,471.8 L223.6,474.5 L224.2,484.1 L215.5,488.2 L196.4,488.7 L184.1,486.8 L182.2,481.4Z" fill="url(#tpat2)"/>
<path d="M184.1,466.4 L190.9,463.6 L201.8,463.1 L212.7,465.0 L216.8,470.4 L210.0,474.5 L196.4,475.9 L185.5,473.2Z" fill="#10bcd8"/>
<circle cx="200.4" cy="487.9" r="0.6" fill="#68b100"/>
<circle cx="212.7" cy="471.9" r="0.6" fill="#24b700"/>
<circle cx="217.9" cy="469.0" r="0.6" fill="#68b100"/>
<circle cx="189.3" cy="461.4" r="0.6" fill="#68b100"/>
<circle cx="211.4" cy="472.5" r="0.6" fill="#00bbda"/>
<circle cx="210.2" cy="473.9" r="0.6" fill="#24b700"/>
<circle cx="197.4" cy="475.2" r="0.6" fill="#68b100"/>
<circle cx="186.0" cy="487.5" r="0.6" fill="#24b700"/>
<circle cx="190.3" cy="487.4" r="0.6" fill="#68b100"/>
<circle cx="189.0" cy="465.3" r="0.6" fill="#00bbda"/>
<circle cx="185.0" cy="468.9" r="0.6" fill="#00bbda"/>
<circle cx="194.0" cy="474.3" r="0.6" fill="#24b700"/>
<circle cx="188.7" cy="476.7" r="0.6" fill="#68b100"/>
<circle cx="192.6" cy="463.5" r="0.6" fill="#24b700"/>
<circle cx="181.9" cy="487.1" r="0.6" fill="#24b700"/>
<circle cx="215.9" cy="469.0" r="0.6" fill="#68b100"/>
<circle cx="207.3" cy="461.8" r="0.6" fill="#68b100"/>
<circle cx="184.6" cy="472.7" r="0.6" fill="#68b100"/>
<circle cx="188.6" cy="465.4" r="0.6" fill="#24b700"/>
<circle cx="192.1" cy="475.6" r="0.6" fill="#68b100"/>
<circle cx="219.6" cy="471.6" r="0.6" fill="#00bbda"/>
<circle cx="184.8" cy="476.6" r="0.6" fill="#68b100"/>
<circle cx="185.7" cy="474.9" r="0.6" fill="#24b700"/>
<circle cx="215.3" cy="469.8" r="0.6" fill="#24b700"/>
<circle cx="220.3" cy="485.8" r="0.6" fill="#00bbda"/>
<circle cx="196.0" cy="471.6" r="0.6" fill="#24b700"/>
<circle cx="220.1" cy="485.6" r="0.6" fill="#24b700"/>
<circle cx="200.3" cy="464.0" r="0.6" fill="#68b100"/>
<circle cx="212.2" cy="473.4" r="0.6" fill="#24b700"/>
<circle cx="185.6" cy="481.6" r="0.6" fill="#00bbda"/>
<circle cx="210.8" cy="463.8" r="0.6" fill="#00bbda"/>
<circle cx="185.7" cy="466.6" r="0.6" fill="#68b100"/>
<circle cx="190.1" cy="486.8" r="0.6" fill="#00bbda"/>
<circle cx="219.4" cy="472.3" r="0.6" fill="#00bbda"/>
<circle cx="218.5" cy="474.3" r="0.6" fill="#24b700"/>
<circle cx="181.3" cy="473.1" r="0.6" fill="#00bbda"/>
<circle cx="193.9" cy="460.1" r="0.6" fill="#24b700"/>
<circle cx="209.5" cy="461.0" r="0.6" fill="#24b700"/>
<circle cx="213.5" cy="488.3" r="0.6" fill="#68b100"/>
<circle cx="214.6" cy="488.8" r="0.6" fill="#68b100"/>
<circle cx="218.0" cy="471.7" r="0.6" fill="#24b700"/>
<circle cx="181.8" cy="480.8" r="0.6" fill="#24b700"/>
<circle cx="208.0" cy="465.1" r="0.6" fill="#24b700"/>
<circle cx="184.3" cy="482.6" r="0.6" fill="#24b700"/>
<circle cx="192.1" cy="490.8" r="0.6" fill="#00bbda"/>
<circle cx="200.9" cy="475.0" r="0.6" fill="#24b700"/>
<circle cx="221.9" cy="476.4" r="0.6" fill="#00bbda"/>
<circle cx="182.6" cy="474.7" r="0.6" fill="#24b700"/>
<circle cx="187.0" cy="464.8" r="0.6" fill="#24b700"/>
<circle cx="211.6" cy="463.5" r="0.6" fill="#24b700"/>
<circle cx="184.6" cy="472.5" r="0.6" fill="#24b700"/>
<circle cx="181.4" cy="468.5" r="0.6" fill="#00bbda"/>
<circle cx="185.7" cy="466.5" r="0.6" fill="#68b100"/>
<circle cx="186.2" cy="471.5" r="0.6" fill="#68b100"/>
<circle cx="224.0" cy="478.9" r="0.6" fill="#68b100"/>
<circle cx="224.2" cy="479.7" r="0.6" fill="#24b700"/>
<circle cx="185.0" cy="488.6" r="0.6" fill="#68b100"/>
<circle cx="222.1" cy="481.3" r="0.6" fill="#24b700"/>
<circle cx="190.7" cy="487.7" r="0.6" fill="#68b100"/>
<circle cx="211.5" cy="471.4" r="0.6" fill="#68b100"/>
<circle cx="213.0" cy="486.8" r="0.6" fill="#68b100"/>
<circle cx="217.5" cy="470.9" r="0.6" fill="#68b100"/>
<circle cx="184.7" cy="477.9" r="0.6" fill="#00bbda"/>
<circle cx="204.9" cy="464.8" r="0.6" fill="#00bbda"/>
<circle cx="211.7" cy="473.7" r="0.6" fill="#00bbda"/>
<circle cx="207.2" cy="466.3" r="0.6" fill="#00bbda"/>
<circle cx="215.9" cy="471.0" r="0.6" fill="#68b100"/>
<circle cx="213.2" cy="471.5" r="0.6" fill="#24b700"/>
<circle cx="218.0" cy="471.6" r="0.6" fill="#68b100"/>
<circle cx="186.7" cy="465.4" r="0.6" fill="#24b700"/>
<circle cx="210.0" cy="463.7" r="0.6" fill="#00bbda"/>
<circle cx="204.1" cy="465.0" r="0.6" fill="#24b700"/>
<circle cx="181.4" cy="472.0" r="0.6" fill="#00bbda"/>
<circle cx="211.2" cy="473.2" r="0.6" fill="#00bbda"/>
<circle cx="218.1" cy="468.6" r="0.6" fill="#68b100"/>
<circle cx="183.3" cy="475.2" r="0.6" fill="#24b700"/>
<circle cx="182.2" cy="475.1" r="0.6" fill="#00bbda"/>
<circle cx="181.8" cy="478.0" r="0.6" fill="#24b700"/>
<circle cx="185.1" cy="486.3" r="0.6" fill="#68b100"/>
<circle cx="183.7" cy="471.2" r="0.6" fill="#24b700"/>
<circle cx="225.1" cy="483.4" r="0.6" fill="#24b700"/>
<circle cx="205.1" cy="466.2" r="0.6" fill="#00bbda"/>
<circle cx="190.5" cy="464.1" r="0.6" fill="#68b100"/>
<circle cx="216.2" cy="471.2" r="0.6" fill="#00bbda"/>
<circle cx="186.5" cy="483.6" r="0.6" fill="#68b100"/>
<circle cx="216.6" cy="484.1" r="0.6" fill="#00bbda"/>
<circle cx="213.0" cy="469.1" r="0.6" fill="#00bbda"/>
<circle cx="204.8" cy="472.6" r="0.6" fill="#68b100"/>
<circle cx="196.3" cy="474.9" r="0.6" fill="#00bbda"/>
<circle cx="202.9" cy="475.7" r="0.6" fill="#68b100"/>
<path d="M220.9,471.8 L234.5,467.7 L245.4,466.4 L248.2,482.7 L237.3,485.4 L223.6,481.4Z" fill="#5cb43a"  opacity="0.55"/>
<circle cx="247.2" cy="481.6" r="0.6" fill="#8cab00"/>
<circle cx="227.5" cy="477.9" r="0.6" fill="#24b700"/>
<circle cx="247.9" cy="482.5" r="0.6" fill="#24b700"/>
<circle cx="234.9" cy="470.6" r="0.6" fill="#68b100"/>
<circle cx="244.6" cy="471.1" r="0.6" fill="#68b100"/>
<circle cx="240.7" cy="467.7" r="0.6" fill="#24b700"/>
<circle cx="246.2" cy="476.1" r="0.6" fill="#68b100"/>
<circle cx="231.5" cy="482.0" r="0.6" fill="#24b700"/>
<circle cx="225.8" cy="473.9" r="0.6" fill="#8cab00"/>
<circle cx="245.5" cy="477.1" r="0.6" fill="#8cab00"/>
<circle cx="243.1" cy="471.3" r="0.6" fill="#24b700"/>
<circle cx="237.1" cy="484.8" r="0.6" fill="#24b700"/>
<circle cx="228.6" cy="479.6" r="0.6" fill="#68b100"/>
<circle cx="232.4" cy="474.8" r="0.6" fill="#68b100"/>
<circle cx="228.1" cy="475.6" r="0.6" fill="#68b100"/>
<circle cx="238.1" cy="483.2" r="0.6" fill="#24b700"/>
<circle cx="237.0" cy="476.0" r="0.6" fill="#24b700"/>
<circle cx="236.9" cy="481.4" r="0.6" fill="#8cab00"/>
<circle cx="243.6" cy="468.4" r="0.6" fill="#8cab00"/>
<circle cx="226.3" cy="474.4" r="0.6" fill="#24b700"/>
<circle cx="232.2" cy="478.8" r="0.6" fill="#8cab00"/>
<circle cx="237.1" cy="484.2" r="0.6" fill="#68b100"/>
<circle cx="225.9" cy="472.1" r="0.6" fill="#68b100"/>
<circle cx="233.6" cy="483.0" r="0.6" fill="#8cab00"/>
<circle cx="235.2" cy="471.9" r="0.6" fill="#8cab00"/>
<circle cx="228.2" cy="473.2" r="0.6" fill="#68b100"/>
<circle cx="236.7" cy="478.6" r="0.6" fill="#68b100"/>
<circle cx="235.6" cy="469.8" r="0.6" fill="#68b100"/>
<circle cx="228.5" cy="476.1" r="0.6" fill="#68b100"/>
<circle cx="231.6" cy="481.5" r="0.6" fill="#8cab00"/>
<circle cx="246.2" cy="480.7" r="0.6" fill="#24b700"/>
<circle cx="227.7" cy="481.1" r="0.6" fill="#24b700"/>
<circle cx="232.3" cy="470.0" r="0.6" fill="#68b100"/>
<circle cx="231.1" cy="482.8" r="0.6" fill="#24b700"/>
<circle cx="243.0" cy="483.6" r="0.6" fill="#68b100"/>
<circle cx="240.1" cy="472.4" r="0.6" fill="#68b100"/>
<circle cx="238.5" cy="484.7" r="0.6" fill="#8cab00"/>
<circle cx="240.9" cy="468.5" r="0.6" fill="#8cab00"/>
<circle cx="247.4" cy="481.3" r="0.6" fill="#68b100"/>
<circle cx="235.2" cy="468.4" r="0.6" fill="#24b700"/>
<circle cx="245.3" cy="479.6" r="0.6" fill="#24b700"/>
<circle cx="243.6" cy="476.1" r="0.6" fill="#24b700"/>
<circle cx="226.6" cy="471.5" r="0.6" fill="#68b100"/>
<circle cx="244.4" cy="467.9" r="0.6" fill="#68b100"/>
<circle cx="222.1" cy="473.8" r="0.6" fill="#68b100"/>
<circle cx="223.3" cy="474.6" r="0.6" fill="#24b700"/>
<circle cx="240.2" cy="481.3" r="0.6" fill="#24b700"/>
<circle cx="227.3" cy="476.3" r="0.6" fill="#24b700"/>
<circle cx="241.1" cy="475.6" r="0.6" fill="#24b700"/>
<circle cx="240.5" cy="468.8" r="0.6" fill="#24b700"/>
<circle cx="245.7" cy="477.8" r="0.6" fill="#24b700"/>
<circle cx="230.9" cy="474.3" r="0.6" fill="#24b700"/>
<circle cx="225.6" cy="473.4" r="0.6" fill="#24b700"/>
<circle cx="244.7" cy="472.7" r="0.6" fill="#68b100"/>
<circle cx="236.4" cy="481.4" r="0.6" fill="#8cab00"/>
<circle cx="224.0" cy="474.4" r="0.6" fill="#68b100"/>
<circle cx="240.0" cy="473.9" r="0.6" fill="#24b700"/>
<circle cx="239.5" cy="478.7" r="0.6" fill="#68b100"/>
<circle cx="230.9" cy="482.5" r="0.6" fill="#8cab00"/>
<circle cx="239.2" cy="473.5" r="0.6" fill="#68b100"/>
<circle cx="231.7" cy="482.4" r="0.6" fill="#24b700"/>
<circle cx="241.5" cy="476.7" r="0.6" fill="#24b700"/>
<circle cx="236.1" cy="477.5" r="0.6" fill="#68b100"/>
<circle cx="242.9" cy="470.1" r="0.6" fill="#24b700"/>
<circle cx="229.4" cy="477.6" r="0.6" fill="#24b700"/>
<circle cx="236.0" cy="470.9" r="0.6" fill="#8cab00"/>
<circle cx="226.5" cy="471.1" r="0.6" fill="#24b700"/>
<circle cx="222.1" cy="475.7" r="0.6" fill="#68b100"/>
<circle cx="223.5" cy="479.8" r="0.6" fill="#8cab00"/>
<circle cx="245.9" cy="473.4" r="0.6" fill="#24b700"/>
<path d="M249.5,456.8 L253.6,448.6 L260.4,444.5 L272.7,443.2 L289.1,444.0 L300.0,445.9 L304.9,451.4 L306.0,460.9 L300.0,465.0 L275.4,463.6 L256.4,463.6Z" fill="#14b95a"/>
<circle cx="306.6" cy="450.1" r="0.6" fill="#00bb49"/>
<circle cx="259.4" cy="444.6" r="0.6" fill="#00bb49"/>
<circle cx="291.9" cy="443.5" r="0.6" fill="#00bb49"/>
<circle cx="300.8" cy="446.8" r="0.6" fill="#00bb49"/>
<circle cx="303.8" cy="450.6" r="0.6" fill="#00c090"/>
<circle cx="301.8" cy="444.5" r="0.6" fill="#00c090"/>
<circle cx="270.5" cy="443.4" r="0.6" fill="#00bb49"/>
<circle cx="279.6" cy="442.5" r="0.6" fill="#00bb49"/>
<circle cx="293.9" cy="445.7" r="0.6" fill="#00bb49"/>
<circle cx="303.2" cy="452.5" r="0.6" fill="#00bb49"/>
<circle cx="278.4" cy="440.9" r="0.6" fill="#00bb49"/>
<circle cx="255.9" cy="443.1" r="0.6" fill="#00c090"/>
<circle cx="256.9" cy="450.2" r="0.6" fill="#00c090"/>
<circle cx="292.2" cy="443.2" r="0.6" fill="#00bb49"/>
<circle cx="305.0" cy="456.1" r="0.6" fill="#00bb49"/>
<circle cx="285.7" cy="444.1" r="0.6" fill="#00bb49"/>
<circle cx="293.4" cy="457.8" r="0.6" fill="#00c090"/>
<circle cx="300.9" cy="448.5" r="0.6" fill="#00bb49"/>
<circle cx="255.6" cy="450.4" r="0.6" fill="#00c090"/>
<circle cx="271.4" cy="443.8" r="0.6" fill="#00bb49"/>
<circle cx="269.0" cy="453.1" r="0.6" fill="#00bb49"/>
<circle cx="281.1" cy="441.6" r="0.6" fill="#00bb49"/>
<circle cx="274.8" cy="441.4" r="0.6" fill="#00bb49"/>
<circle cx="253.3" cy="446.1" r="0.6" fill="#00c090"/>
<circle cx="272.0" cy="443.9" r="0.6" fill="#00bb49"/>
<circle cx="305.0" cy="451.2" r="0.6" fill="#00c090"/>
<circle cx="301.3" cy="449.6" r="0.6" fill="#00bb49"/>
<circle cx="263.8" cy="444.6" r="0.6" fill="#00c090"/>
<circle cx="277.1" cy="442.5" r="0.6" fill="#00c090"/>
<circle cx="303.4" cy="461.3" r="0.6" fill="#00c090"/>
<circle cx="271.3" cy="442.3" r="0.6" fill="#00bb49"/>
<circle cx="292.0" cy="455.5" r="0.6" fill="#00c090"/>
<circle cx="257.0" cy="448.1" r="0.6" fill="#00bb49"/>
<circle cx="300.3" cy="446.7" r="0.6" fill="#00c090"/>
<circle cx="303.4" cy="448.5" r="0.6" fill="#00bb49"/>
<circle cx="287.6" cy="444.7" r="0.6" fill="#00bb49"/>
<circle cx="262.5" cy="445.4" r="0.6" fill="#00bb49"/>
<circle cx="304.0" cy="448.7" r="0.6" fill="#00c090"/>
<circle cx="255.1" cy="448.2" r="0.6" fill="#00c090"/>
<circle cx="304.2" cy="459.4" r="0.6" fill="#00bb49"/>
<circle cx="304.1" cy="452.5" r="0.6" fill="#00bb49"/>
<circle cx="304.8" cy="459.6" r="0.6" fill="#00c090"/>
<circle cx="305.2" cy="449.9" r="0.6" fill="#00bb49"/>
<circle cx="270.1" cy="443.3" r="0.6" fill="#00bb49"/>
<circle cx="293.4" cy="446.9" r="0.6" fill="#00bb49"/>
<circle cx="292.5" cy="445.1" r="0.6" fill="#00c090"/>
<circle cx="260.5" cy="446.3" r="0.6" fill="#00bb49"/>
<circle cx="294.9" cy="444.3" r="0.6" fill="#00bb49"/>
<circle cx="295.4" cy="444.5" r="0.6" fill="#00bb49"/>
<circle cx="277.1" cy="442.1" r="0.6" fill="#00bb49"/>
<circle cx="300.6" cy="450.3" r="0.6" fill="#00bb49"/>
<circle cx="289.7" cy="442.5" r="0.6" fill="#00bb49"/>
<circle cx="293.8" cy="445.8" r="0.6" fill="#00bb49"/>
<circle cx="264.1" cy="440.2" r="0.6" fill="#00c090"/>
<circle cx="266.6" cy="452.8" r="0.6" fill="#00bb49"/>
<circle cx="293.5" cy="446.7" r="0.6" fill="#00c090"/>
<circle cx="272.1" cy="442.3" r="0.6" fill="#00c090"/>
<circle cx="265.8" cy="440.5" r="0.6" fill="#00c090"/>
<circle cx="293.6" cy="444.9" r="0.6" fill="#00bb49"/>
<circle cx="256.6" cy="447.8" r="0.6" fill="#00c090"/>
<circle cx="268.2" cy="444.4" r="0.6" fill="#00c090"/>
<circle cx="257.6" cy="448.6" r="0.6" fill="#00bb49"/>
<circle cx="297.6" cy="449.3" r="0.6" fill="#00c090"/>
<circle cx="288.5" cy="445.5" r="0.6" fill="#00bb49"/>
<circle cx="273.1" cy="441.5" r="0.6" fill="#00bb49"/>
<circle cx="295.4" cy="444.5" r="0.6" fill="#00bb49"/>
<circle cx="301.4" cy="450.3" r="0.6" fill="#00bb49"/>
<circle cx="289.6" cy="443.9" r="0.6" fill="#00bb49"/>
<circle cx="304.6" cy="461.9" r="0.6" fill="#00bb49"/>
<circle cx="305.4" cy="456.8" r="0.6" fill="#00bb49"/>
<circle cx="289.8" cy="446.0" r="0.6" fill="#00bb49"/>
<circle cx="289.6" cy="455.3" r="0.6" fill="#00c090"/>
<circle cx="285.0" cy="442.5" r="0.6" fill="#00bb49"/>
<circle cx="280.9" cy="441.6" r="0.6" fill="#00bb49"/>
<circle cx="299.9" cy="460.6" r="0.6" fill="#00bb49"/>
<circle cx="265.7" cy="444.8" r="0.6" fill="#00bb49"/>
<circle cx="286.3" cy="443.2" r="0.6" fill="#00c090"/>
<circle cx="300.4" cy="452.6" r="0.6" fill="#00c090"/>
<circle cx="270.1" cy="442.7" r="0.6" fill="#00bb49"/>
<circle cx="269.1" cy="445.9" r="0.6" fill="#00c090"/>
<circle cx="253.1" cy="449.3" r="0.6" fill="#00c090"/>
<circle cx="302.3" cy="450.2" r="0.6" fill="#00c090"/>
<circle cx="303.5" cy="450.1" r="0.6" fill="#00bb49"/>
<circle cx="303.2" cy="448.1" r="0.6" fill="#00c090"/>
<circle cx="286.8" cy="442.6" r="0.6" fill="#00bb49"/>
<circle cx="297.4" cy="442.6" r="0.6" fill="#00c090"/>
<circle cx="306.4" cy="456.0" r="0.6" fill="#00bb49"/>
<circle cx="285.7" cy="444.3" r="0.6" fill="#00bb49"/>
<circle cx="257.8" cy="444.8" r="0.6" fill="#00c090"/>
<circle cx="304.7" cy="448.3" r="0.6" fill="#00bb49"/>
<circle cx="296.3" cy="443.2" r="0.6" fill="#00bb49"/>
<circle cx="253.6" cy="449.2" r="0.6" fill="#00bb49"/>
<circle cx="304.4" cy="451.9" r="0.6" fill="#00bb49"/>
<circle cx="260.7" cy="449.2" r="0.6" fill="#00bb49"/>
<circle cx="305.0" cy="458.7" r="0.6" fill="#00bb49"/>
<circle cx="254.9" cy="444.9" r="0.6" fill="#00bb49"/>
<circle cx="260.0" cy="445.5" r="0.6" fill="#00c090"/>
<circle cx="263.1" cy="442.2" r="0.6" fill="#00bb49"/>
<circle cx="293.5" cy="444.4" r="0.6" fill="#00bb49"/>
<circle cx="289.2" cy="456.4" r="0.6" fill="#00bb49"/>
<circle cx="262.6" cy="452.5" r="0.6" fill="#00bb49"/>
<circle cx="302.5" cy="449.2" r="0.6" fill="#00bb49"/>
<circle cx="300.0" cy="450.0" r="0.6" fill="#00bb49"/>
<circle cx="287.9" cy="443.9" r="0.6" fill="#00bb49"/>
<circle cx="296.8" cy="456.1" r="0.6" fill="#00c090"/>
<circle cx="276.1" cy="445.6" r="0.6" fill="#00c090"/>
<circle cx="285.7" cy="447.8" r="0.6" fill="#00bb49"/>
<circle cx="268.6" cy="446.4" r="0.6" fill="#00c090"/>
<circle cx="301.0" cy="448.3" r="0.6" fill="#00bb49"/>
<circle cx="262.6" cy="445.8" r="0.6" fill="#00c090"/>
<circle cx="278.0" cy="443.1" r="0.6" fill="#00bb49"/>
<circle cx="302.2" cy="451.4" r="0.6" fill="#00bb49"/>
<circle cx="266.0" cy="442.8" r="0.6" fill="#00bb49"/>
<circle cx="273.3" cy="440.3" r="0.6" fill="#00bb49"/>
<circle cx="256.0" cy="447.3" r="0.6" fill="#00bb49"/>
<circle cx="299.6" cy="448.1" r="0.6" fill="#00c090"/>
<circle cx="266.9" cy="445.8" r="0.6" fill="#00bb49"/>
<circle cx="294.5" cy="445.8" r="0.6" fill="#00bb49"/>
<circle cx="296.9" cy="459.9" r="0.6" fill="#00c090"/>
<circle cx="292.7" cy="442.8" r="0.6" fill="#00bb49"/>
<path d="M243.7,518.9 L261.5,514.7 L278.0,513.7 L294.6,510.6 L300.5,518.9 L294.6,526.5 L289.8,526.5 L278.0,529.3 L259.1,527.0 L240.2,530.0 L241.4,522.5Z" fill="#10bb72"/>
<path d="M235.9,466.4 L245.4,460.9 L261.8,460.9 L283.6,462.3 L300.0,464.2 L308.2,467.7 L315.0,474.5 L316.9,485.4 L315.0,496.4 L308.2,504.5 L302.7,512.7 L294.5,518.2 L270.0,520.9 L250.9,519.5 L241.4,512.7 L237.3,501.8 L234.5,488.2 L233.2,474.5Z" fill="url(#tpat)"/>
<circle cx="251.4" cy="521.7" r="0.6" fill="#24b700"/>
<circle cx="255.4" cy="524.3" r="0.6" fill="#24b700"/>
<circle cx="243.6" cy="512.1" r="0.6" fill="#ff6d8e"/>
<circle cx="263.9" cy="522.7" r="0.6" fill="#ff6d8e"/>
<circle cx="249.6" cy="515.8" r="0.6" fill="#68b100"/>
<circle cx="245.5" cy="517.7" r="0.6" fill="#24b700"/>
<circle cx="238.3" cy="477.9" r="0.6" fill="#8cab00"/>
<circle cx="251.7" cy="472.8" r="0.6" fill="#ff6d8e"/>
<circle cx="232.4" cy="475.4" r="0.6" fill="#ff6d8e"/>
<circle cx="239.8" cy="464.1" r="0.6" fill="#8cab00"/>
<circle cx="235.9" cy="486.1" r="0.6" fill="#68b100"/>
<circle cx="243.8" cy="517.7" r="0.6" fill="#24b700"/>
<circle cx="244.4" cy="514.7" r="0.6" fill="#8cab00"/>
<circle cx="250.1" cy="484.7" r="0.6" fill="#24b700"/>
<circle cx="241.3" cy="492.6" r="0.6" fill="#ff6d8e"/>
<circle cx="251.9" cy="517.9" r="0.6" fill="#ff6d8e"/>
<circle cx="236.6" cy="512.5" r="0.6" fill="#24b700"/>
<circle cx="262.5" cy="518.2" r="0.6" fill="#ff6d8e"/>
<circle cx="232.4" cy="493.5" r="0.6" fill="#8cab00"/>
<circle cx="231.9" cy="487.6" r="0.6" fill="#ff6d8e"/>
<circle cx="243.0" cy="512.2" r="0.6" fill="#ff6d8e"/>
<circle cx="240.8" cy="514.7" r="0.6" fill="#24b700"/>
<circle cx="229.0" cy="480.6" r="0.6" fill="#68b100"/>
<circle cx="230.2" cy="464.6" r="0.6" fill="#ff6d8e"/>
<circle cx="240.2" cy="467.3" r="0.6" fill="#68b100"/>
<circle cx="245.7" cy="513.7" r="0.6" fill="#24b700"/>
<circle cx="227.0" cy="482.7" r="0.6" fill="#24b700"/>
<circle cx="239.9" cy="506.5" r="0.6" fill="#8cab00"/>
<circle cx="234.6" cy="472.1" r="0.6" fill="#24b700"/>
<circle cx="240.6" cy="494.3" r="0.6" fill="#24b700"/>
<circle cx="243.7" cy="464.9" r="0.6" fill="#68b100"/>
<circle cx="237.3" cy="465.9" r="0.6" fill="#8cab00"/>
<circle cx="234.4" cy="487.1" r="0.6" fill="#ff6d8e"/>
<circle cx="230.1" cy="464.2" r="0.6" fill="#24b700"/>
<circle cx="256.9" cy="514.5" r="0.6" fill="#24b700"/>
<circle cx="241.6" cy="507.6" r="0.6" fill="#ff6d8e"/>
<circle cx="243.8" cy="516.4" r="0.6" fill="#24b700"/>
<circle cx="230.1" cy="468.1" r="0.6" fill="#8cab00"/>
<circle cx="268.7" cy="515.6" r="0.6" fill="#68b100"/>
<circle cx="241.3" cy="459.9" r="0.6" fill="#68b100"/>
<circle cx="236.4" cy="470.3" r="0.6" fill="#24b700"/>
<circle cx="228.1" cy="470.2" r="0.6" fill="#8cab00"/>
<circle cx="241.0" cy="503.9" r="0.6" fill="#8cab00"/>
<circle cx="257.5" cy="516.5" r="0.6" fill="#68b100"/>
<circle cx="253.6" cy="520.1" r="0.6" fill="#68b100"/>
<circle cx="243.8" cy="510.2" r="0.6" fill="#24b700"/>
<circle cx="237.5" cy="460.0" r="0.6" fill="#68b100"/>
<circle cx="263.4" cy="519.5" r="0.6" fill="#ff6d8e"/>
<circle cx="238.5" cy="474.9" r="0.6" fill="#24b700"/>
<circle cx="236.6" cy="507.5" r="0.6" fill="#68b100"/>
<circle cx="256.2" cy="519.4" r="0.6" fill="#8cab00"/>
<circle cx="231.9" cy="498.1" r="0.6" fill="#8cab00"/>
<circle cx="233.8" cy="465.0" r="0.6" fill="#68b100"/>
<circle cx="228.9" cy="475.6" r="0.6" fill="#ff6d8e"/>
<circle cx="231.8" cy="475.6" r="0.6" fill="#8cab00"/>
<circle cx="239.8" cy="513.2" r="0.6" fill="#24b700"/>
<circle cx="244.6" cy="519.9" r="0.6" fill="#8cab00"/>
<circle cx="232.4" cy="478.0" r="0.6" fill="#24b700"/>
<circle cx="260.9" cy="526.3" r="0.6" fill="#8cab00"/>
<circle cx="235.3" cy="468.7" r="0.6" fill="#68b100"/>
<circle cx="237.5" cy="491.1" r="0.6" fill="#ff6d8e"/>
<circle cx="235.7" cy="479.7" r="0.6" fill="#24b700"/>
<circle cx="249.8" cy="528.6" r="0.6" fill="#ff6d8e"/>
<circle cx="265.7" cy="511.4" r="0.6" fill="#ff6d8e"/>
<circle cx="226.2" cy="470.9" r="0.6" fill="#ff6d8e"/>
<circle cx="248.1" cy="519.9" r="0.6" fill="#68b100"/>
<circle cx="259.7" cy="526.3" r="0.6" fill="#68b100"/>
<circle cx="244.1" cy="503.9" r="0.6" fill="#24b700"/>
<circle cx="244.1" cy="500.3" r="0.6" fill="#ff6d8e"/>
<circle cx="227.7" cy="491.7" r="0.6" fill="#8cab00"/>
<circle cx="234.5" cy="482.9" r="0.6" fill="#24b700"/>
<circle cx="229.7" cy="474.5" r="0.6" fill="#24b700"/>
<circle cx="244.4" cy="518.2" r="0.6" fill="#68b100"/>
<circle cx="236.8" cy="497.5" r="0.6" fill="#68b100"/>
<circle cx="238.1" cy="465.0" r="0.6" fill="#68b100"/>
<circle cx="228.7" cy="477.5" r="0.6" fill="#24b700"/>
<circle cx="234.8" cy="510.2" r="0.6" fill="#24b700"/>
<circle cx="235.6" cy="483.4" r="0.6" fill="#24b700"/>
<circle cx="246.6" cy="512.2" r="0.6" fill="#68b100"/>
<circle cx="240.8" cy="467.8" r="0.6" fill="#68b100"/>
<circle cx="240.4" cy="467.8" r="0.6" fill="#ff6d8e"/>
<circle cx="247.8" cy="467.0" r="0.6" fill="#8cab00"/>
<circle cx="235.3" cy="467.1" r="0.6" fill="#24b700"/>
<circle cx="235.0" cy="505.2" r="0.6" fill="#ff6d8e"/>
<circle cx="232.9" cy="485.3" r="0.6" fill="#ff6d8e"/>
<circle cx="235.7" cy="465.9" r="0.6" fill="#8cab00"/>
<circle cx="261.7" cy="499.7" r="0.6" fill="#ff6d8e"/>
<circle cx="243.3" cy="508.4" r="0.6" fill="#8cab00"/>
<circle cx="250.6" cy="521.9" r="0.6" fill="#8cab00"/>
<circle cx="267.1" cy="520.1" r="0.6" fill="#ff6d8e"/>
<circle cx="263.5" cy="520.4" r="0.6" fill="#ff6d8e"/>
<circle cx="273.9" cy="520.8" r="0.6" fill="#ff6d8e"/>
<circle cx="239.5" cy="490.0" r="0.6" fill="#24b700"/>
<circle cx="238.7" cy="467.2" r="0.6" fill="#ff6d8e"/>
<circle cx="240.6" cy="517.6" r="0.6" fill="#24b700"/>
<circle cx="247.5" cy="479.3" r="0.6" fill="#68b100"/>
<circle cx="259.0" cy="491.3" r="0.6" fill="#24b700"/>
<circle cx="231.0" cy="472.3" r="0.6" fill="#24b700"/>
<circle cx="235.1" cy="489.6" r="0.6" fill="#68b100"/>
<circle cx="239.3" cy="462.6" r="0.6" fill="#8cab00"/>
<circle cx="252.8" cy="496.7" r="0.6" fill="#68b100"/>
<circle cx="237.1" cy="506.3" r="0.6" fill="#ff6d8e"/>
<circle cx="244.8" cy="472.8" r="0.6" fill="#68b100"/>
<circle cx="268.4" cy="507.4" r="0.6" fill="#ff6d8e"/>
<circle cx="242.3" cy="514.4" r="0.6" fill="#8cab00"/>
<circle cx="270.9" cy="519.0" r="0.6" fill="#8cab00"/>
<circle cx="245.4" cy="509.3" r="0.6" fill="#8cab00"/>
<circle cx="266.2" cy="516.6" r="0.6" fill="#8cab00"/>
<circle cx="269.9" cy="510.4" r="0.6" fill="#68b100"/>
<circle cx="274.5" cy="521.4" r="0.6" fill="#ff6d8e"/>
<circle cx="240.1" cy="462.5" r="0.6" fill="#68b100"/>
<circle cx="247.3" cy="513.9" r="0.6" fill="#24b700"/>
<circle cx="228.3" cy="482.1" r="0.6" fill="#8cab00"/>
<circle cx="253.3" cy="518.9" r="0.6" fill="#24b700"/>
<circle cx="240.5" cy="493.3" r="0.6" fill="#24b700"/>
<circle cx="265.6" cy="513.0" r="0.6" fill="#24b700"/>
<circle cx="237.0" cy="466.5" r="0.6" fill="#24b700"/>
<circle cx="264.8" cy="522.7" r="0.6" fill="#24b700"/>
<circle cx="236.4" cy="492.2" r="0.6" fill="#ff6d8e"/>
<circle cx="247.2" cy="509.7" r="0.6" fill="#8cab00"/>
<circle cx="234.6" cy="484.4" r="0.6" fill="#ff6d8e"/>
<circle cx="236.7" cy="468.3" r="0.6" fill="#8cab00"/>
<circle cx="231.7" cy="494.4" r="0.6" fill="#ff6d8e"/>
<circle cx="242.2" cy="460.1" r="0.6" fill="#8cab00"/>
<circle cx="244.0" cy="468.5" r="0.6" fill="#68b100"/>
<circle cx="236.1" cy="474.1" r="0.6" fill="#68b100"/>
<circle cx="234.4" cy="482.8" r="0.6" fill="#24b700"/>
<circle cx="233.6" cy="485.5" r="0.6" fill="#68b100"/>
<circle cx="235.6" cy="471.1" r="0.6" fill="#8cab00"/>
<circle cx="245.1" cy="518.2" r="0.6" fill="#ff6d8e"/>
<circle cx="249.9" cy="514.1" r="0.6" fill="#24b700"/>
<circle cx="239.1" cy="506.7" r="0.6" fill="#24b700"/>
<circle cx="238.6" cy="459.5" r="0.6" fill="#24b700"/>
<circle cx="258.9" cy="519.4" r="0.6" fill="#ff6d8e"/>
<circle cx="237.2" cy="462.7" r="0.6" fill="#ff6d8e"/>
<circle cx="241.0" cy="456.1" r="0.6" fill="#8cab00"/>
<circle cx="252.1" cy="517.0" r="0.6" fill="#68b100"/>
<circle cx="233.0" cy="503.3" r="0.6" fill="#24b700"/>
<circle cx="246.8" cy="495.4" r="0.6" fill="#8cab00"/>
<circle cx="239.9" cy="502.5" r="0.6" fill="#ff6d8e"/>
<circle cx="272.4" cy="512.0" r="0.6" fill="#68b100"/>
<circle cx="243.5" cy="466.2" r="0.6" fill="#ff6d8e"/>
<circle cx="233.8" cy="502.5" r="0.6" fill="#68b100"/>
<circle cx="240.9" cy="506.7" r="0.6" fill="#ff6d8e"/>
<circle cx="243.4" cy="506.9" r="0.6" fill="#8cab00"/>
<circle cx="244.1" cy="466.4" r="0.6" fill="#8cab00"/>
<circle cx="265.5" cy="521.1" r="0.6" fill="#24b700"/>
<circle cx="245.8" cy="509.2" r="0.6" fill="#24b700"/>
<circle cx="242.0" cy="508.6" r="0.6" fill="#ff6d8e"/>
<circle cx="238.9" cy="503.4" r="0.6" fill="#8cab00"/>
<circle cx="245.8" cy="505.4" r="0.6" fill="#24b700"/>
<circle cx="252.2" cy="523.4" r="0.6" fill="#68b100"/>
<circle cx="243.8" cy="513.2" r="0.6" fill="#24b700"/>
<circle cx="233.3" cy="473.7" r="0.6" fill="#8cab00"/>
<circle cx="259.4" cy="506.4" r="0.6" fill="#68b100"/>
<circle cx="261.9" cy="500.2" r="0.6" fill="#68b100"/>
<circle cx="224.5" cy="478.0" r="0.6" fill="#68b100"/>
<circle cx="235.0" cy="471.3" r="0.6" fill="#ff6d8e"/>
<circle cx="236.9" cy="474.7" r="0.6" fill="#24b700"/>
<circle cx="243.7" cy="461.2" r="0.6" fill="#ff6d8e"/>
<circle cx="242.7" cy="517.7" r="0.6" fill="#8cab00"/>
<circle cx="235.8" cy="488.8" r="0.6" fill="#68b100"/>
<circle cx="238.2" cy="508.7" r="0.6" fill="#68b100"/>
<circle cx="230.5" cy="480.2" r="0.6" fill="#68b100"/>
<circle cx="243.3" cy="456.6" r="0.6" fill="#8cab00"/>
<circle cx="247.1" cy="471.2" r="0.6" fill="#ff6d8e"/>
<circle cx="229.4" cy="492.7" r="0.6" fill="#24b700"/>
<circle cx="235.1" cy="479.2" r="0.6" fill="#68b100"/>
<circle cx="239.5" cy="461.3" r="0.6" fill="#8cab00"/>
<circle cx="238.3" cy="501.9" r="0.6" fill="#24b700"/>
<circle cx="234.8" cy="474.5" r="0.6" fill="#8cab00"/>
<circle cx="240.0" cy="504.4" r="0.6" fill="#68b100"/>
<circle cx="251.5" cy="461.5" r="0.6" fill="#68b100"/>
<circle cx="237.8" cy="484.0" r="0.6" fill="#8cab00"/>
<circle cx="241.7" cy="511.8" r="0.6" fill="#8cab00"/>
<circle cx="230.4" cy="473.7" r="0.6" fill="#24b700"/>
<circle cx="251.4" cy="521.5" r="0.6" fill="#68b100"/>
<circle cx="231.5" cy="493.7" r="0.6" fill="#24b700"/>
<circle cx="242.1" cy="489.8" r="0.6" fill="#24b700"/>
<circle cx="252.8" cy="516.0" r="0.6" fill="#ff6d8e"/>
<circle cx="233.2" cy="488.8" r="0.6" fill="#8cab00"/>
<circle cx="237.3" cy="475.2" r="0.6" fill="#68b100"/>
<circle cx="240.5" cy="499.3" r="0.6" fill="#68b100"/>
<circle cx="235.6" cy="485.0" r="0.6" fill="#68b100"/>
<circle cx="250.5" cy="521.7" r="0.6" fill="#24b700"/>
<circle cx="246.8" cy="513.8" r="0.6" fill="#8cab00"/>
<circle cx="250.4" cy="473.8" r="0.6" fill="#ff6d8e"/>
<circle cx="229.1" cy="476.4" r="0.6" fill="#ff6d8e"/>
<circle cx="250.4" cy="515.1" r="0.6" fill="#24b700"/>
<circle cx="242.6" cy="518.1" r="0.6" fill="#8cab00"/>
<circle cx="232.3" cy="467.8" r="0.6" fill="#ff6d8e"/>
<circle cx="233.6" cy="470.9" r="0.6" fill="#ff6d8e"/>
<circle cx="231.3" cy="496.7" r="0.6" fill="#24b700"/>
<circle cx="247.2" cy="511.2" r="0.6" fill="#ff6d8e"/>
<circle cx="233.4" cy="502.9" r="0.6" fill="#8cab00"/>
<circle cx="237.4" cy="510.7" r="0.6" fill="#24b700"/>
<circle cx="250.3" cy="466.2" r="0.6" fill="#24b700"/>
<circle cx="239.9" cy="508.2" r="0.6" fill="#ff6d8e"/>
<circle cx="239.0" cy="498.2" r="0.6" fill="#ff6d8e"/>
<circle cx="238.2" cy="500.2" r="0.6" fill="#8cab00"/>
<circle cx="311.5" cy="499.6" r="0.6" fill="#68b100"/>
<circle cx="309.4" cy="467.2" r="0.6" fill="#8cab00"/>
<circle cx="299.5" cy="464.8" r="0.6" fill="#8cab00"/>
<circle cx="285.4" cy="470.2" r="0.6" fill="#8cab00"/>
<circle cx="313.5" cy="474.8" r="0.6" fill="#68b100"/>
<circle cx="317.8" cy="492.6" r="0.6" fill="#68b100"/>
<circle cx="313.3" cy="498.2" r="0.6" fill="#68b100"/>
<circle cx="318.3" cy="478.8" r="0.6" fill="#8cab00"/>
<circle cx="310.6" cy="499.9" r="0.6" fill="#68b100"/>
<circle cx="309.8" cy="505.3" r="0.6" fill="#68b100"/>
<circle cx="301.7" cy="465.3" r="0.6" fill="#8cab00"/>
<circle cx="316.0" cy="488.8" r="0.6" fill="#68b100"/>
<circle cx="310.0" cy="503.4" r="0.6" fill="#8cab00"/>
<circle cx="305.8" cy="501.0" r="0.6" fill="#68b100"/>
<circle cx="309.6" cy="471.1" r="0.6" fill="#8cab00"/>
<circle cx="310.5" cy="469.2" r="0.6" fill="#8cab00"/>
<circle cx="299.7" cy="495.0" r="0.6" fill="#68b100"/>
<circle cx="290.3" cy="463.1" r="0.6" fill="#68b100"/>
<circle cx="315.8" cy="479.7" r="0.6" fill="#8cab00"/>
<circle cx="304.9" cy="465.8" r="0.6" fill="#8cab00"/>
<circle cx="286.8" cy="464.1" r="0.6" fill="#8cab00"/>
<circle cx="294.8" cy="477.4" r="0.6" fill="#68b100"/>
<circle cx="318.3" cy="489.3" r="0.6" fill="#68b100"/>
<circle cx="311.1" cy="503.0" r="0.6" fill="#68b100"/>
<circle cx="307.5" cy="505.8" r="0.6" fill="#68b100"/>
<circle cx="297.6" cy="490.0" r="0.6" fill="#8cab00"/>
<circle cx="315.5" cy="474.5" r="0.6" fill="#68b100"/>
<circle cx="284.2" cy="468.3" r="0.6" fill="#8cab00"/>
<circle cx="297.0" cy="485.4" r="0.6" fill="#68b100"/>
<circle cx="299.6" cy="493.9" r="0.6" fill="#68b100"/>
<circle cx="309.8" cy="503.2" r="0.6" fill="#68b100"/>
<circle cx="290.0" cy="464.2" r="0.6" fill="#8cab00"/>
<circle cx="310.9" cy="470.5" r="0.6" fill="#68b100"/>
<circle cx="318.8" cy="483.6" r="0.6" fill="#68b100"/>
<circle cx="291.0" cy="463.7" r="0.6" fill="#68b100"/>
<circle cx="307.3" cy="502.0" r="0.6" fill="#68b100"/>
<circle cx="293.0" cy="475.0" r="0.6" fill="#8cab00"/>
<circle cx="285.3" cy="461.3" r="0.6" fill="#68b100"/>
<circle cx="300.5" cy="493.0" r="0.6" fill="#68b100"/>
<circle cx="310.8" cy="498.0" r="0.6" fill="#8cab00"/>
<circle cx="309.1" cy="468.1" r="0.6" fill="#68b100"/>
<circle cx="318.4" cy="488.0" r="0.6" fill="#68b100"/>
<circle cx="303.6" cy="464.9" r="0.6" fill="#68b100"/>
<circle cx="313.7" cy="473.9" r="0.6" fill="#68b100"/>
<circle cx="313.1" cy="472.8" r="0.6" fill="#68b100"/>
<circle cx="312.3" cy="472.5" r="0.6" fill="#8cab00"/>
<circle cx="292.9" cy="459.9" r="0.6" fill="#8cab00"/>
<circle cx="288.1" cy="471.5" r="0.6" fill="#8cab00"/>
<circle cx="307.7" cy="469.8" r="0.6" fill="#68b100"/>
<circle cx="309.9" cy="469.5" r="0.6" fill="#8cab00"/>
<circle cx="314.4" cy="495.4" r="0.6" fill="#68b100"/>
<circle cx="291.8" cy="481.7" r="0.6" fill="#68b100"/>
<circle cx="316.8" cy="475.8" r="0.6" fill="#68b100"/>
<circle cx="315.7" cy="486.7" r="0.6" fill="#68b100"/>
<circle cx="315.2" cy="475.9" r="0.6" fill="#8cab00"/>
<circle cx="316.7" cy="483.5" r="0.6" fill="#68b100"/>
<circle cx="316.4" cy="485.4" r="0.6" fill="#8cab00"/>
<circle cx="316.5" cy="493.6" r="0.6" fill="#8cab00"/>
<circle cx="313.6" cy="474.5" r="0.6" fill="#8cab00"/>
<circle cx="307.6" cy="466.8" r="0.6" fill="#8cab00"/>
<circle cx="292.8" cy="465.9" r="0.6" fill="#8cab00"/>
<circle cx="306.7" cy="469.4" r="0.6" fill="#8cab00"/>
<circle cx="297.9" cy="462.9" r="0.6" fill="#68b100"/>
<circle cx="299.3" cy="464.7" r="0.6" fill="#8cab00"/>
<circle cx="290.9" cy="462.1" r="0.6" fill="#8cab00"/>
<circle cx="315.7" cy="480.5" r="0.6" fill="#8cab00"/>
<circle cx="305.2" cy="464.4" r="0.6" fill="#68b100"/>
<circle cx="313.5" cy="498.0" r="0.6" fill="#8cab00"/>
<circle cx="302.4" cy="465.6" r="0.6" fill="#68b100"/>
<circle cx="289.8" cy="477.1" r="0.6" fill="#8cab00"/>
<circle cx="309.7" cy="502.0" r="0.6" fill="#68b100"/>
<circle cx="294.9" cy="462.1" r="0.6" fill="#68b100"/>
<circle cx="293.8" cy="463.5" r="0.6" fill="#68b100"/>
<circle cx="286.3" cy="463.2" r="0.6" fill="#8cab00"/>
<circle cx="310.3" cy="504.2" r="0.6" fill="#68b100"/>
<circle cx="315.7" cy="483.2" r="0.6" fill="#68b100"/>
<circle cx="314.3" cy="474.4" r="0.6" fill="#68b100"/>
<circle cx="315.9" cy="478.1" r="0.6" fill="#68b100"/>
<circle cx="316.6" cy="484.9" r="0.6" fill="#8cab00"/>
<circle cx="294.2" cy="465.4" r="0.6" fill="#68b100"/>
<circle cx="316.9" cy="474.9" r="0.6" fill="#8cab00"/>
<circle cx="316.4" cy="495.7" r="0.6" fill="#68b100"/>
<circle cx="304.8" cy="498.8" r="0.6" fill="#8cab00"/>
<circle cx="300.8" cy="464.5" r="0.6" fill="#68b100"/>
<circle cx="308.7" cy="506.6" r="0.6" fill="#68b100"/>
<circle cx="316.2" cy="476.8" r="0.6" fill="#68b100"/>
<circle cx="310.6" cy="472.2" r="0.6" fill="#8cab00"/>
<circle cx="290.0" cy="479.3" r="0.6" fill="#68b100"/>
<circle cx="296.2" cy="482.3" r="0.6" fill="#8cab00"/>
<circle cx="316.5" cy="495.0" r="0.6" fill="#8cab00"/>
<circle cx="316.1" cy="477.0" r="0.6" fill="#8cab00"/>
<circle cx="300.2" cy="491.5" r="0.6" fill="#8cab00"/>
<circle cx="318.3" cy="480.0" r="0.6" fill="#8cab00"/>
<circle cx="310.3" cy="472.7" r="0.6" fill="#8cab00"/>
<circle cx="310.0" cy="498.2" r="0.6" fill="#68b100"/>
<circle cx="308.5" cy="469.8" r="0.6" fill="#68b100"/>
<circle cx="315.3" cy="491.6" r="0.6" fill="#68b100"/>
<circle cx="305.3" cy="497.6" r="0.6" fill="#68b100"/>
<circle cx="296.6" cy="463.2" r="0.6" fill="#68b100"/>
<circle cx="287.9" cy="474.7" r="0.6" fill="#8cab00"/>
<path d="M244.1,503.2 L253.6,501.8 L267.3,505.9 L270.0,514.1 L261.8,518.7 L249.5,518.2 L244.1,511.4Z" fill="url(#ppat)"/>
<path d="M268.6,527.9 L278.0,528.4 L289.8,526.5 L297.4,535.5 L302.1,547.3 L304.5,561.5 L300.9,570.9 L289.8,573.8 L278.0,570.0 L266.2,566.7 L261.9,562.9 L268.6,556.7 L272.1,547.3 L273.3,535.5Z" fill="#14bf92"/>
<circle cx="292.3" cy="568.6" r="0.6" fill="#00c090"/>
<circle cx="277.9" cy="541.2" r="0.6" fill="#8b93ff"/>
<circle cx="298.2" cy="571.7" r="0.6" fill="#8b93ff"/>
<circle cx="289.7" cy="530.6" r="0.6" fill="#8b93ff"/>
<circle cx="296.9" cy="572.1" r="0.6" fill="#00c090"/>
<circle cx="297.3" cy="536.7" r="0.6" fill="#00c090"/>
<circle cx="294.4" cy="542.1" r="0.6" fill="#8b93ff"/>
<circle cx="298.9" cy="542.8" r="0.6" fill="#00c090"/>
<circle cx="304.1" cy="568.6" r="0.6" fill="#00c1ab"/>
<circle cx="296.1" cy="570.2" r="0.6" fill="#00c1ab"/>
<circle cx="304.6" cy="567.7" r="0.6" fill="#00c1ab"/>
<circle cx="301.9" cy="533.6" r="0.6" fill="#8b93ff"/>
<circle cx="293.0" cy="527.2" r="0.6" fill="#00c1ab"/>
<circle cx="285.8" cy="554.0" r="0.6" fill="#8b93ff"/>
<circle cx="301.1" cy="566.9" r="0.6" fill="#00c1ab"/>
<circle cx="297.3" cy="531.8" r="0.6" fill="#00c1ab"/>
<circle cx="300.4" cy="546.8" r="0.6" fill="#00c090"/>
<circle cx="295.2" cy="542.7" r="0.6" fill="#00c1ab"/>
<circle cx="295.6" cy="534.8" r="0.6" fill="#00c1ab"/>
<circle cx="292.7" cy="536.5" r="0.6" fill="#00c090"/>
<circle cx="284.9" cy="554.2" r="0.6" fill="#00c090"/>
<circle cx="306.7" cy="573.3" r="0.6" fill="#00c1ab"/>
<circle cx="301.0" cy="540.3" r="0.6" fill="#00c090"/>
<circle cx="293.8" cy="571.6" r="0.6" fill="#00c090"/>
<circle cx="298.0" cy="535.7" r="0.6" fill="#8b93ff"/>
<circle cx="287.9" cy="530.6" r="0.6" fill="#00c1ab"/>
<circle cx="292.3" cy="575.6" r="0.6" fill="#00c1ab"/>
<circle cx="300.3" cy="537.9" r="0.6" fill="#00c090"/>
<circle cx="288.7" cy="526.1" r="0.6" fill="#8b93ff"/>
<circle cx="305.6" cy="559.7" r="0.6" fill="#8b93ff"/>
<circle cx="304.3" cy="559.6" r="0.6" fill="#00c090"/>
<circle cx="300.5" cy="568.0" r="0.6" fill="#00c090"/>
<circle cx="301.9" cy="571.7" r="0.6" fill="#8b93ff"/>
<circle cx="284.5" cy="545.8" r="0.6" fill="#8b93ff"/>
<circle cx="307.3" cy="562.4" r="0.6" fill="#00c090"/>
<circle cx="298.7" cy="543.5" r="0.6" fill="#8b93ff"/>
<circle cx="303.3" cy="571.9" r="0.6" fill="#00c090"/>
<circle cx="300.3" cy="543.0" r="0.6" fill="#00c1ab"/>
<circle cx="285.1" cy="562.1" r="0.6" fill="#00c090"/>
<circle cx="303.7" cy="565.6" r="0.6" fill="#00c090"/>
<circle cx="299.6" cy="572.0" r="0.6" fill="#00c1ab"/>
<circle cx="290.1" cy="566.8" r="0.6" fill="#00c090"/>
<circle cx="293.7" cy="531.3" r="0.6" fill="#00c1ab"/>
<circle cx="300.2" cy="565.3" r="0.6" fill="#8b93ff"/>
<circle cx="301.8" cy="560.0" r="0.6" fill="#8b93ff"/>
<circle cx="285.7" cy="569.2" r="0.6" fill="#8b93ff"/>
<circle cx="289.7" cy="577.4" r="0.6" fill="#8b93ff"/>
<circle cx="289.7" cy="527.4" r="0.6" fill="#8b93ff"/>
<circle cx="291.9" cy="570.2" r="0.6" fill="#8b93ff"/>
<circle cx="273.9" cy="525.2" r="0.6" fill="#00c1ab"/>
<circle cx="280.4" cy="525.1" r="0.6" fill="#00c090"/>
<circle cx="296.1" cy="532.2" r="0.6" fill="#8b93ff"/>
<circle cx="289.4" cy="570.5" r="0.6" fill="#00c1ab"/>
<circle cx="302.9" cy="549.4" r="0.6" fill="#00c090"/>
<circle cx="296.5" cy="574.6" r="0.6" fill="#00c090"/>
<circle cx="295.8" cy="573.6" r="0.6" fill="#00c090"/>
<circle cx="300.3" cy="573.6" r="0.6" fill="#00c090"/>
<circle cx="302.8" cy="561.2" r="0.6" fill="#8b93ff"/>
<circle cx="289.4" cy="573.3" r="0.6" fill="#00c1ab"/>
<circle cx="300.8" cy="565.0" r="0.6" fill="#8b93ff"/>
<circle cx="286.5" cy="527.8" r="0.6" fill="#00c1ab"/>
<circle cx="278.1" cy="530.1" r="0.6" fill="#8b93ff"/>
<circle cx="305.8" cy="558.7" r="0.6" fill="#00c090"/>
<circle cx="292.2" cy="569.0" r="0.6" fill="#8b93ff"/>
<circle cx="287.8" cy="555.6" r="0.6" fill="#00c090"/>
<circle cx="299.0" cy="572.8" r="0.6" fill="#00c090"/>
<circle cx="304.3" cy="556.7" r="0.6" fill="#00c090"/>
<circle cx="298.1" cy="530.8" r="0.6" fill="#00c090"/>
<circle cx="285.9" cy="527.7" r="0.6" fill="#00c1ab"/>
<circle cx="300.7" cy="575.0" r="0.6" fill="#00c1ab"/>
<circle cx="303.4" cy="550.4" r="0.6" fill="#8b93ff"/>
<circle cx="281.7" cy="542.5" r="0.6" fill="#00c1ab"/>
<circle cx="288.1" cy="526.6" r="0.6" fill="#00c090"/>
<circle cx="294.2" cy="574.3" r="0.6" fill="#8b93ff"/>
<circle cx="276.7" cy="543.2" r="0.6" fill="#00c090"/>
<circle cx="304.5" cy="554.7" r="0.6" fill="#8b93ff"/>
<circle cx="290.9" cy="568.0" r="0.6" fill="#00c090"/>
<circle cx="299.3" cy="574.1" r="0.6" fill="#8b93ff"/>
<circle cx="297.7" cy="566.4" r="0.6" fill="#8b93ff"/>
<circle cx="303.8" cy="555.8" r="0.6" fill="#8b93ff"/>
<circle cx="305.5" cy="564.7" r="0.6" fill="#00c1ab"/>
<circle cx="290.1" cy="529.3" r="0.6" fill="#00c1ab"/>
<circle cx="278.9" cy="551.7" r="0.6" fill="#00c090"/>
<circle cx="275.1" cy="529.6" r="0.6" fill="#8b93ff"/>
<circle cx="301.2" cy="559.4" r="0.6" fill="#00c090"/>
<circle cx="302.2" cy="570.5" r="0.6" fill="#00c1ab"/>
<circle cx="287.0" cy="569.7" r="0.6" fill="#8b93ff"/>
<circle cx="300.4" cy="571.6" r="0.6" fill="#00c1ab"/>
<circle cx="301.2" cy="533.3" r="0.6" fill="#00c1ab"/>
<circle cx="301.7" cy="560.3" r="0.6" fill="#00c1ab"/>
<circle cx="299.0" cy="573.8" r="0.6" fill="#00c090"/>
<circle cx="296.2" cy="570.7" r="0.6" fill="#00c090"/>
<circle cx="294.5" cy="533.3" r="0.6" fill="#00c090"/>
<circle cx="284.0" cy="543.2" r="0.6" fill="#00c090"/>
<circle cx="298.9" cy="574.0" r="0.6" fill="#8b93ff"/>
<circle cx="286.8" cy="526.2" r="0.6" fill="#8b93ff"/>
<circle cx="289.1" cy="523.2" r="0.6" fill="#8b93ff"/>
<circle cx="293.9" cy="534.8" r="0.6" fill="#00c1ab"/>
<circle cx="298.8" cy="565.6" r="0.6" fill="#00c090"/>
<circle cx="274.7" cy="534.5" r="0.6" fill="#8b93ff"/>
<circle cx="295.4" cy="564.5" r="0.6" fill="#00c1ab"/>
<circle cx="282.2" cy="536.6" r="0.6" fill="#00c1ab"/>
<circle cx="295.5" cy="569.6" r="0.6" fill="#00c090"/>
<circle cx="296.9" cy="540.9" r="0.6" fill="#00c090"/>
<circle cx="291.0" cy="578.2" r="0.6" fill="#8b93ff"/>
<circle cx="294.8" cy="532.9" r="0.6" fill="#8b93ff"/>
<circle cx="295.4" cy="572.4" r="0.6" fill="#00c1ab"/>
<circle cx="301.7" cy="535.9" r="0.6" fill="#8b93ff"/>
<circle cx="285.4" cy="530.0" r="0.6" fill="#8b93ff"/>
<circle cx="301.5" cy="554.8" r="0.6" fill="#8b93ff"/>
<circle cx="301.7" cy="543.1" r="0.6" fill="#00c1ab"/>
<circle cx="288.5" cy="529.4" r="0.6" fill="#00c090"/>
<circle cx="306.8" cy="548.0" r="0.6" fill="#00c090"/>
<circle cx="302.7" cy="562.7" r="0.6" fill="#00c1ab"/>
<circle cx="294.8" cy="571.6" r="0.6" fill="#8b93ff"/>
<circle cx="281.1" cy="553.5" r="0.6" fill="#00c1ab"/>
<circle cx="300.5" cy="571.7" r="0.6" fill="#00c090"/>
<circle cx="290.3" cy="532.2" r="0.6" fill="#00c090"/>
<circle cx="296.2" cy="531.9" r="0.6" fill="#8b93ff"/>
<circle cx="297.8" cy="534.0" r="0.6" fill="#00c1ab"/>
<path d="M231.9,535.5 L240.2,529.6 L259.1,527.0 L270.9,527.9 L273.3,535.5 L272.1,547.3 L268.6,556.7 L262.9,562.4 L255.8,562.9 L243.0,558.2 L232.6,553.4Z" fill="#3ea8f4"/>
<circle cx="230.1" cy="543.9" r="0.6" fill="#00b5ed"/>
<circle cx="244.5" cy="562.2" r="0.6" fill="#42a0ff"/>
<circle cx="264.0" cy="557.6" r="0.6" fill="#00b5ed"/>
<circle cx="244.2" cy="547.2" r="0.6" fill="#00b5ed"/>
<circle cx="238.7" cy="560.0" r="0.6" fill="#42a0ff"/>
<circle cx="236.8" cy="549.6" r="0.6" fill="#00b5ed"/>
<circle cx="234.2" cy="548.5" r="0.6" fill="#42a0ff"/>
<circle cx="259.3" cy="560.2" r="0.6" fill="#42a0ff"/>
<circle cx="256.7" cy="558.9" r="0.6" fill="#00c090"/>
<circle cx="260.0" cy="568.9" r="0.6" fill="#00b5ed"/>
<circle cx="231.6" cy="540.6" r="0.6" fill="#00b5ed"/>
<circle cx="266.8" cy="551.7" r="0.6" fill="#00b5ed"/>
<circle cx="231.5" cy="550.3" r="0.6" fill="#00b5ed"/>
<circle cx="260.7" cy="557.8" r="0.6" fill="#00b5ed"/>
<circle cx="258.9" cy="562.1" r="0.6" fill="#42a0ff"/>
<circle cx="235.6" cy="555.1" r="0.6" fill="#00b5ed"/>
<circle cx="258.2" cy="560.8" r="0.6" fill="#00b5ed"/>
<circle cx="240.7" cy="562.6" r="0.6" fill="#00b5ed"/>
<circle cx="250.8" cy="542.6" r="0.6" fill="#42a0ff"/>
<circle cx="235.4" cy="557.5" r="0.6" fill="#00c090"/>
<circle cx="260.9" cy="561.8" r="0.6" fill="#00b5ed"/>
<circle cx="252.4" cy="559.8" r="0.6" fill="#00b5ed"/>
<circle cx="239.8" cy="556.5" r="0.6" fill="#42a0ff"/>
<circle cx="240.3" cy="558.0" r="0.6" fill="#42a0ff"/>
<circle cx="243.9" cy="559.9" r="0.6" fill="#42a0ff"/>
<circle cx="232.2" cy="556.1" r="0.6" fill="#00b5ed"/>
<circle cx="244.8" cy="554.2" r="0.6" fill="#00b5ed"/>
<circle cx="265.4" cy="556.6" r="0.6" fill="#42a0ff"/>
<circle cx="257.8" cy="561.0" r="0.6" fill="#00c090"/>
<circle cx="252.1" cy="555.9" r="0.6" fill="#00c090"/>
<circle cx="265.9" cy="559.7" r="0.6" fill="#00c090"/>
<circle cx="248.8" cy="557.9" r="0.6" fill="#00b5ed"/>
<circle cx="253.4" cy="550.0" r="0.6" fill="#00b5ed"/>
<circle cx="249.5" cy="554.3" r="0.6" fill="#00c090"/>
<circle cx="241.3" cy="557.5" r="0.6" fill="#00b5ed"/>
<circle cx="229.6" cy="534.6" r="0.6" fill="#42a0ff"/>
<circle cx="245.1" cy="562.0" r="0.6" fill="#42a0ff"/>
<circle cx="253.3" cy="564.1" r="0.6" fill="#42a0ff"/>
<circle cx="235.2" cy="540.5" r="0.6" fill="#00c090"/>
<circle cx="269.0" cy="560.4" r="0.6" fill="#00b5ed"/>
<circle cx="263.3" cy="560.6" r="0.6" fill="#00c090"/>
<circle cx="240.3" cy="557.2" r="0.6" fill="#00b5ed"/>
<circle cx="260.2" cy="566.2" r="0.6" fill="#00c090"/>
<circle cx="248.6" cy="560.9" r="0.6" fill="#00b5ed"/>
<circle cx="261.4" cy="555.2" r="0.6" fill="#00c090"/>
<circle cx="264.0" cy="556.2" r="0.6" fill="#00c090"/>
<circle cx="253.3" cy="564.4" r="0.6" fill="#42a0ff"/>
<circle cx="237.5" cy="552.3" r="0.6" fill="#42a0ff"/>
<circle cx="228.4" cy="545.7" r="0.6" fill="#00b5ed"/>
<circle cx="264.2" cy="557.6" r="0.6" fill="#00c090"/>
<circle cx="249.4" cy="560.1" r="0.6" fill="#00c090"/>
<circle cx="242.0" cy="561.3" r="0.6" fill="#42a0ff"/>
<circle cx="266.1" cy="560.4" r="0.6" fill="#00b5ed"/>
<circle cx="240.3" cy="534.4" r="0.6" fill="#00b5ed"/>
<circle cx="228.2" cy="554.0" r="0.6" fill="#00b5ed"/>
<circle cx="231.7" cy="552.1" r="0.6" fill="#00b5ed"/>
<circle cx="234.4" cy="545.1" r="0.6" fill="#42a0ff"/>
<circle cx="256.1" cy="563.3" r="0.6" fill="#00c090"/>
<circle cx="231.9" cy="541.1" r="0.6" fill="#00c090"/>
<circle cx="257.3" cy="562.0" r="0.6" fill="#00c090"/>
<circle cx="244.3" cy="568.4" r="0.6" fill="#00b5ed"/>
<circle cx="236.5" cy="557.6" r="0.6" fill="#00b5ed"/>
<circle cx="228.9" cy="546.8" r="0.6" fill="#42a0ff"/>
<circle cx="263.6" cy="557.4" r="0.6" fill="#42a0ff"/>
<circle cx="249.3" cy="564.6" r="0.6" fill="#00b5ed"/>
<circle cx="253.7" cy="563.2" r="0.6" fill="#00b5ed"/>
<circle cx="226.3" cy="544.9" r="0.6" fill="#42a0ff"/>
<circle cx="263.4" cy="553.0" r="0.6" fill="#42a0ff"/>
<circle cx="256.6" cy="565.1" r="0.6" fill="#00b5ed"/>
<circle cx="266.9" cy="555.8" r="0.6" fill="#42a0ff"/>
<circle cx="257.9" cy="563.0" r="0.6" fill="#00b5ed"/>
<circle cx="257.1" cy="559.2" r="0.6" fill="#00b5ed"/>
<circle cx="268.6" cy="554.9" r="0.6" fill="#42a0ff"/>
<circle cx="243.3" cy="558.9" r="0.6" fill="#42a0ff"/>
<circle cx="231.5" cy="547.4" r="0.6" fill="#00c090"/>
<circle cx="229.7" cy="545.3" r="0.6" fill="#42a0ff"/>
<circle cx="256.9" cy="557.8" r="0.6" fill="#00b5ed"/>
<circle cx="244.8" cy="561.7" r="0.6" fill="#42a0ff"/>
<circle cx="235.0" cy="537.6" r="0.6" fill="#00b5ed"/>
<circle cx="250.2" cy="556.5" r="0.6" fill="#42a0ff"/>
<circle cx="257.8" cy="564.8" r="0.6" fill="#00b5ed"/>
<circle cx="237.6" cy="558.2" r="0.6" fill="#00c090"/>
<circle cx="257.2" cy="562.3" r="0.6" fill="#00b5ed"/>
<circle cx="229.3" cy="542.5" r="0.6" fill="#42a0ff"/>
<circle cx="265.3" cy="558.4" r="0.6" fill="#00b5ed"/>
<circle cx="227.7" cy="541.7" r="0.6" fill="#00b5ed"/>
<circle cx="233.9" cy="539.9" r="0.6" fill="#42a0ff"/>
<circle cx="266.6" cy="558.9" r="0.6" fill="#00c090"/>
<circle cx="233.5" cy="553.7" r="0.6" fill="#00b5ed"/>
<circle cx="248.4" cy="547.7" r="0.6" fill="#00c090"/>
<circle cx="262.4" cy="559.9" r="0.6" fill="#00b5ed"/>
<circle cx="263.0" cy="559.0" r="0.6" fill="#42a0ff"/>
<circle cx="233.0" cy="540.7" r="0.6" fill="#00c090"/>
<circle cx="236.7" cy="543.6" r="0.6" fill="#00b5ed"/>
<circle cx="261.5" cy="560.9" r="0.6" fill="#00c090"/>
<circle cx="256.5" cy="554.5" r="0.6" fill="#00c090"/>
<circle cx="247.0" cy="563.0" r="0.6" fill="#42a0ff"/>
<circle cx="229.5" cy="549.6" r="0.6" fill="#00c090"/>
<circle cx="266.4" cy="557.4" r="0.6" fill="#00c090"/>
<circle cx="242.6" cy="557.3" r="0.6" fill="#42a0ff"/>
<circle cx="253.0" cy="563.2" r="0.6" fill="#42a0ff"/>
<circle cx="246.7" cy="543.4" r="0.6" fill="#42a0ff"/>
<circle cx="249.6" cy="547.5" r="0.6" fill="#00b5ed"/>
<circle cx="255.4" cy="565.3" r="0.6" fill="#42a0ff"/>
<circle cx="253.3" cy="547.7" r="0.6" fill="#00c090"/>
<circle cx="240.0" cy="556.4" r="0.6" fill="#00b5ed"/>
<circle cx="274.6" cy="554.8" r="0.6" fill="#00b5ed"/>
<circle cx="238.8" cy="544.5" r="0.6" fill="#00b5ed"/>
<circle cx="240.0" cy="558.0" r="0.6" fill="#00c090"/>
<circle cx="253.8" cy="565.2" r="0.6" fill="#00b5ed"/>
<circle cx="239.9" cy="551.3" r="0.6" fill="#42a0ff"/>
<circle cx="258.3" cy="561.4" r="0.6" fill="#00c090"/>
<circle cx="247.0" cy="562.8" r="0.6" fill="#00c090"/>
<circle cx="236.1" cy="557.0" r="0.6" fill="#42a0ff"/>
<circle cx="257.3" cy="559.2" r="0.6" fill="#00c090"/>
<circle cx="270.3" cy="557.8" r="0.6" fill="#42a0ff"/>
<circle cx="250.4" cy="558.6" r="0.6" fill="#42a0ff"/>
<circle cx="248.7" cy="558.6" r="0.6" fill="#00c090"/>
<circle cx="239.1" cy="550.4" r="0.6" fill="#42a0ff"/>
<circle cx="231.2" cy="540.3" r="0.6" fill="#42a0ff"/>
<path d="M235.5,570.9 L247.3,567.8 L266.2,570.9 L282.7,571.4 L296.9,576.1 L302.1,583.2 L299.8,595.0 L292.7,604.5 L278.0,609.2 L259.1,609.2 L242.6,604.5 L233.1,595.0 L237.8,585.6Z" fill="#8d93fd"/>
<circle cx="231.9" cy="579.1" r="0.6" fill="#8b93ff"/>
<circle cx="243.2" cy="571.1" r="0.6" fill="#b684ff"/>
<circle cx="290.8" cy="579.5" r="0.6" fill="#8b93ff"/>
<circle cx="296.7" cy="576.3" r="0.6" fill="#8b93ff"/>
<circle cx="298.1" cy="584.1" r="0.6" fill="#42a0ff"/>
<circle cx="268.0" cy="573.4" r="0.6" fill="#42a0ff"/>
<circle cx="294.6" cy="574.8" r="0.6" fill="#8b93ff"/>
<circle cx="273.4" cy="564.4" r="0.6" fill="#b684ff"/>
<circle cx="303.8" cy="579.8" r="0.6" fill="#b684ff"/>
<circle cx="290.6" cy="570.6" r="0.6" fill="#b684ff"/>
<circle cx="276.1" cy="571.8" r="0.6" fill="#b684ff"/>
<circle cx="284.8" cy="575.6" r="0.6" fill="#42a0ff"/>
<circle cx="269.7" cy="577.4" r="0.6" fill="#b684ff"/>
<circle cx="287.8" cy="578.6" r="0.6" fill="#b684ff"/>
<circle cx="303.6" cy="579.6" r="0.6" fill="#42a0ff"/>
<circle cx="295.2" cy="576.2" r="0.6" fill="#8b93ff"/>
<circle cx="241.4" cy="568.1" r="0.6" fill="#b684ff"/>
<circle cx="280.2" cy="569.1" r="0.6" fill="#42a0ff"/>
<circle cx="302.7" cy="584.9" r="0.6" fill="#42a0ff"/>
<circle cx="261.5" cy="566.5" r="0.6" fill="#b684ff"/>
<circle cx="251.0" cy="574.9" r="0.6" fill="#b684ff"/>
<circle cx="282.5" cy="581.6" r="0.6" fill="#42a0ff"/>
<circle cx="240.8" cy="568.9" r="0.6" fill="#b684ff"/>
<circle cx="240.8" cy="567.1" r="0.6" fill="#b684ff"/>
<circle cx="292.7" cy="585.5" r="0.6" fill="#42a0ff"/>
<circle cx="240.5" cy="573.5" r="0.6" fill="#42a0ff"/>
<circle cx="268.6" cy="575.0" r="0.6" fill="#b684ff"/>
<circle cx="305.0" cy="579.5" r="0.6" fill="#42a0ff"/>
<circle cx="281.7" cy="567.2" r="0.6" fill="#42a0ff"/>
<circle cx="289.9" cy="576.7" r="0.6" fill="#8b93ff"/>
<circle cx="263.5" cy="571.1" r="0.6" fill="#8b93ff"/>
<circle cx="282.6" cy="562.9" r="0.6" fill="#b684ff"/>
<circle cx="298.9" cy="581.2" r="0.6" fill="#8b93ff"/>
<circle cx="294.7" cy="574.8" r="0.6" fill="#b684ff"/>
<circle cx="285.5" cy="575.6" r="0.6" fill="#42a0ff"/>
<circle cx="232.6" cy="558.6" r="0.6" fill="#42a0ff"/>
<circle cx="285.1" cy="571.8" r="0.6" fill="#8b93ff"/>
<circle cx="251.0" cy="576.7" r="0.6" fill="#8b93ff"/>
<circle cx="268.1" cy="575.2" r="0.6" fill="#b684ff"/>
<circle cx="240.5" cy="564.4" r="0.6" fill="#8b93ff"/>
<circle cx="236.8" cy="578.5" r="0.6" fill="#b684ff"/>
<circle cx="292.9" cy="574.9" r="0.6" fill="#8b93ff"/>
<circle cx="260.1" cy="576.5" r="0.6" fill="#b684ff"/>
<circle cx="287.5" cy="587.6" r="0.6" fill="#b684ff"/>
<circle cx="258.5" cy="573.6" r="0.6" fill="#42a0ff"/>
<circle cx="284.0" cy="570.1" r="0.6" fill="#b684ff"/>
<circle cx="298.1" cy="578.1" r="0.6" fill="#8b93ff"/>
<circle cx="269.1" cy="567.8" r="0.6" fill="#42a0ff"/>
<circle cx="264.4" cy="577.0" r="0.6" fill="#b684ff"/>
<circle cx="249.9" cy="568.0" r="0.6" fill="#42a0ff"/>
<circle cx="284.4" cy="566.1" r="0.6" fill="#b684ff"/>
<circle cx="232.6" cy="561.1" r="0.6" fill="#8b93ff"/>
<circle cx="293.9" cy="573.9" r="0.6" fill="#b684ff"/>
<circle cx="293.2" cy="574.5" r="0.6" fill="#8b93ff"/>
<circle cx="284.7" cy="575.5" r="0.6" fill="#42a0ff"/>
<circle cx="297.4" cy="569.7" r="0.6" fill="#b684ff"/>
<circle cx="254.4" cy="566.5" r="0.6" fill="#b684ff"/>
<circle cx="296.8" cy="582.5" r="0.6" fill="#8b93ff"/>
<circle cx="249.2" cy="572.4" r="0.6" fill="#b684ff"/>
<circle cx="296.0" cy="572.1" r="0.6" fill="#42a0ff"/>
<circle cx="244.2" cy="568.1" r="0.6" fill="#8b93ff"/>
<circle cx="294.1" cy="569.3" r="0.6" fill="#b684ff"/>
<circle cx="263.4" cy="578.4" r="0.6" fill="#42a0ff"/>
<circle cx="239.2" cy="565.4" r="0.6" fill="#42a0ff"/>
<circle cx="279.9" cy="568.8" r="0.6" fill="#42a0ff"/>
<circle cx="293.3" cy="571.0" r="0.6" fill="#42a0ff"/>
<circle cx="257.8" cy="575.8" r="0.6" fill="#42a0ff"/>
<circle cx="278.6" cy="571.9" r="0.6" fill="#b684ff"/>
<circle cx="271.9" cy="578.2" r="0.6" fill="#b684ff"/>
<circle cx="253.4" cy="567.1" r="0.6" fill="#8b93ff"/>
<circle cx="266.0" cy="571.8" r="0.6" fill="#8b93ff"/>
<circle cx="292.3" cy="574.7" r="0.6" fill="#b684ff"/>
<circle cx="300.2" cy="576.2" r="0.6" fill="#b684ff"/>
<circle cx="237.0" cy="566.9" r="0.6" fill="#b684ff"/>
<circle cx="264.3" cy="573.6" r="0.6" fill="#b684ff"/>
<circle cx="259.9" cy="570.3" r="0.6" fill="#b684ff"/>
<circle cx="294.6" cy="576.9" r="0.6" fill="#42a0ff"/>
<circle cx="258.1" cy="575.0" r="0.6" fill="#8b93ff"/>
<circle cx="299.8" cy="577.8" r="0.6" fill="#b684ff"/>
<circle cx="247.4" cy="576.3" r="0.6" fill="#42a0ff"/>
<circle cx="300.0" cy="576.5" r="0.6" fill="#8b93ff"/>
<circle cx="302.0" cy="583.7" r="0.6" fill="#8b93ff"/>
<circle cx="294.3" cy="578.8" r="0.6" fill="#8b93ff"/>
<circle cx="296.9" cy="582.4" r="0.6" fill="#b684ff"/>
<circle cx="271.5" cy="572.4" r="0.6" fill="#42a0ff"/>
<circle cx="236.2" cy="562.5" r="0.6" fill="#8b93ff"/>
<circle cx="303.5" cy="583.4" r="0.6" fill="#b684ff"/>
<circle cx="258.5" cy="561.9" r="0.6" fill="#b684ff"/>
<circle cx="296.3" cy="581.9" r="0.6" fill="#b684ff"/>
<circle cx="294.1" cy="578.7" r="0.6" fill="#8b93ff"/>
<circle cx="247.4" cy="558.4" r="0.6" fill="#8b93ff"/>
<circle cx="298.0" cy="573.5" r="0.6" fill="#b684ff"/>
<circle cx="247.1" cy="570.5" r="0.6" fill="#8b93ff"/>
<circle cx="305.7" cy="569.6" r="0.6" fill="#8b93ff"/>
<circle cx="288.2" cy="577.6" r="0.6" fill="#42a0ff"/>
<circle cx="258.8" cy="573.6" r="0.6" fill="#b684ff"/>
<circle cx="237.4" cy="568.7" r="0.6" fill="#b684ff"/>
<circle cx="296.1" cy="578.5" r="0.6" fill="#42a0ff"/>
<circle cx="285.0" cy="575.1" r="0.6" fill="#42a0ff"/>
<circle cx="292.7" cy="573.5" r="0.6" fill="#8b93ff"/>
<circle cx="272.0" cy="575.5" r="0.6" fill="#42a0ff"/>
<circle cx="270.0" cy="580.7" r="0.6" fill="#b684ff"/>
<circle cx="277.1" cy="579.3" r="0.6" fill="#42a0ff"/>
<circle cx="301.3" cy="586.5" r="0.6" fill="#8b93ff"/>
<circle cx="292.6" cy="569.9" r="0.6" fill="#42a0ff"/>
<circle cx="261.7" cy="568.0" r="0.6" fill="#42a0ff"/>
<circle cx="304.2" cy="581.7" r="0.6" fill="#42a0ff"/>
<circle cx="295.9" cy="572.0" r="0.6" fill="#42a0ff"/>
<circle cx="250.5" cy="566.7" r="0.6" fill="#b684ff"/>
<circle cx="303.0" cy="581.7" r="0.6" fill="#b684ff"/>
<circle cx="237.8" cy="572.5" r="0.6" fill="#b684ff"/>
<circle cx="290.1" cy="568.7" r="0.6" fill="#42a0ff"/>
<circle cx="257.2" cy="568.5" r="0.6" fill="#42a0ff"/>
<circle cx="243.0" cy="566.9" r="0.6" fill="#42a0ff"/>
<circle cx="304.1" cy="572.1" r="0.6" fill="#b684ff"/>
<circle cx="302.9" cy="576.4" r="0.6" fill="#8b93ff"/>
<circle cx="300.2" cy="577.8" r="0.6" fill="#42a0ff"/>
<circle cx="236.0" cy="567.9" r="0.6" fill="#42a0ff"/>
<circle cx="249.7" cy="563.4" r="0.6" fill="#42a0ff"/>
<circle cx="251.4" cy="572.0" r="0.6" fill="#42a0ff"/>
<circle cx="270.8" cy="572.5" r="0.6" fill="#8b93ff"/>
<circle cx="268.1" cy="568.8" r="0.6" fill="#8b93ff"/>
<circle cx="243.9" cy="572.4" r="0.6" fill="#8b93ff"/>
<circle cx="247.5" cy="571.9" r="0.6" fill="#b684ff"/>
<circle cx="296.2" cy="584.5" r="0.6" fill="#b684ff"/>
<circle cx="270.5" cy="568.1" r="0.6" fill="#8b93ff"/>
<circle cx="285.0" cy="574.9" r="0.6" fill="#8b93ff"/>
<circle cx="280.8" cy="568.5" r="0.6" fill="#b684ff"/>
<circle cx="300.5" cy="577.9" r="0.6" fill="#b684ff"/>
<circle cx="261.0" cy="567.2" r="0.6" fill="#42a0ff"/>
<circle cx="282.6" cy="571.1" r="0.6" fill="#42a0ff"/>
<circle cx="267.1" cy="572.0" r="0.6" fill="#b684ff"/>
<circle cx="279.0" cy="580.7" r="0.6" fill="#8b93ff"/>
<circle cx="273.7" cy="573.8" r="0.6" fill="#8b93ff"/>
<circle cx="289.1" cy="578.2" r="0.6" fill="#42a0ff"/>
<circle cx="294.5" cy="569.4" r="0.6" fill="#b684ff"/>
<circle cx="291.7" cy="583.8" r="0.6" fill="#42a0ff"/>
<circle cx="277.7" cy="577.1" r="0.6" fill="#8b93ff"/>
<circle cx="275.8" cy="570.4" r="0.6" fill="#8b93ff"/>
<circle cx="277.8" cy="570.5" r="0.6" fill="#8b93ff"/>
<circle cx="243.5" cy="565.1" r="0.6" fill="#42a0ff"/>
<circle cx="277.2" cy="580.2" r="0.6" fill="#b684ff"/>
<circle cx="291.4" cy="580.0" r="0.6" fill="#42a0ff"/>
<circle cx="291.6" cy="579.6" r="0.6" fill="#8b93ff"/>
<circle cx="234.7" cy="567.7" r="0.6" fill="#42a0ff"/>
<circle cx="242.1" cy="581.3" r="0.6" fill="#42a0ff"/>
<circle cx="297.5" cy="575.9" r="0.6" fill="#b684ff"/>
<circle cx="243.9" cy="568.4" r="0.6" fill="#42a0ff"/>
<circle cx="275.6" cy="573.3" r="0.6" fill="#8b93ff"/>
<circle cx="296.3" cy="579.2" r="0.6" fill="#8b93ff"/>
<circle cx="269.0" cy="568.0" r="0.6" fill="#b684ff"/>
<circle cx="292.3" cy="576.5" r="0.6" fill="#8b93ff"/>
<circle cx="271.4" cy="578.7" r="0.6" fill="#8b93ff"/>
<circle cx="250.3" cy="569.8" r="0.6" fill="#b684ff"/>
<circle cx="249.4" cy="562.9" r="0.6" fill="#b684ff"/>
<circle cx="272.2" cy="577.2" r="0.6" fill="#b684ff"/>
<circle cx="292.1" cy="579.9" r="0.6" fill="#8b93ff"/>
<circle cx="307.5" cy="587.1" r="0.6" fill="#b684ff"/>
<circle cx="295.5" cy="589.7" r="0.6" fill="#b684ff"/>
<circle cx="302.1" cy="583.1" r="0.6" fill="#42a0ff"/>
<circle cx="239.7" cy="572.1" r="0.6" fill="#b684ff"/>
<circle cx="277.4" cy="569.9" r="0.6" fill="#42a0ff"/>
<circle cx="252.9" cy="569.9" r="0.6" fill="#42a0ff"/>
<circle cx="296.1" cy="578.0" r="0.6" fill="#42a0ff"/>
<circle cx="265.2" cy="564.8" r="0.6" fill="#b684ff"/>
<circle cx="287.8" cy="573.4" r="0.6" fill="#42a0ff"/>
<circle cx="280.0" cy="569.6" r="0.6" fill="#8b93ff"/>
<circle cx="286.4" cy="571.0" r="0.6" fill="#42a0ff"/>
<circle cx="293.2" cy="575.1" r="0.6" fill="#8b93ff"/>
<circle cx="251.1" cy="578.0" r="0.6" fill="#8b93ff"/>
<circle cx="300.4" cy="586.0" r="0.6" fill="#8b93ff"/>
<circle cx="260.9" cy="566.6" r="0.6" fill="#8b93ff"/>
<circle cx="306.4" cy="575.9" r="0.6" fill="#42a0ff"/>
<circle cx="299.2" cy="577.1" r="0.6" fill="#8b93ff"/>
<circle cx="285.9" cy="573.7" r="0.6" fill="#8b93ff"/>
<circle cx="269.8" cy="574.0" r="0.6" fill="#42a0ff"/>
<circle cx="302.4" cy="588.3" r="0.6" fill="#8b93ff"/>
<circle cx="252.6" cy="570.6" r="0.6" fill="#42a0ff"/>
<circle cx="276.2" cy="567.7" r="0.6" fill="#b684ff"/>
<circle cx="252.8" cy="569.9" r="0.6" fill="#42a0ff"/>
<circle cx="294.3" cy="575.7" r="0.6" fill="#b684ff"/>
<circle cx="244.2" cy="571.0" r="0.6" fill="#b684ff"/>
<circle cx="301.5" cy="586.1" r="0.6" fill="#b684ff"/>
<circle cx="300.2" cy="565.9" r="0.6" fill="#8b93ff"/>
<circle cx="250.8" cy="567.0" r="0.6" fill="#42a0ff"/>
<circle cx="300.5" cy="569.3" r="0.6" fill="#b684ff"/>
<circle cx="284.4" cy="576.9" r="0.6" fill="#8b93ff"/>
<circle cx="284.3" cy="577.0" r="0.6" fill="#8b93ff"/>
<circle cx="270.9" cy="567.2" r="0.6" fill="#42a0ff"/>
<circle cx="276.4" cy="573.9" r="0.6" fill="#42a0ff"/>
<circle cx="263.1" cy="570.4" r="0.6" fill="#b684ff"/>
<circle cx="276.1" cy="578.1" r="0.6" fill="#8b93ff"/>
<circle cx="253.6" cy="580.0" r="0.6" fill="#8b93ff"/>
<circle cx="289.8" cy="585.5" r="0.6" fill="#b684ff"/>
<circle cx="291.6" cy="575.7" r="0.6" fill="#8b93ff"/>
<circle cx="272.9" cy="572.7" r="0.6" fill="#42a0ff"/>
<circle cx="279.2" cy="572.7" r="0.6" fill="#8b93ff"/>
<circle cx="295.0" cy="573.9" r="0.6" fill="#8b93ff"/>
<circle cx="285.9" cy="581.9" r="0.6" fill="#42a0ff"/>
<circle cx="265.5" cy="571.4" r="0.6" fill="#42a0ff"/>
<circle cx="246.2" cy="608.5" r="0.6" fill="#b684ff"/>
<circle cx="235.0" cy="597.1" r="0.6" fill="#b684ff"/>
<circle cx="247.9" cy="608.2" r="0.6" fill="#b684ff"/>
<circle cx="233.8" cy="596.8" r="0.6" fill="#8b93ff"/>
<circle cx="280.0" cy="586.9" r="0.6" fill="#8b93ff"/>
<circle cx="300.2" cy="594.6" r="0.6" fill="#8b93ff"/>
<circle cx="239.8" cy="604.3" r="0.6" fill="#8b93ff"/>
<circle cx="273.8" cy="609.0" r="0.6" fill="#b684ff"/>
<circle cx="249.7" cy="605.6" r="0.6" fill="#8b93ff"/>
<circle cx="254.2" cy="609.6" r="0.6" fill="#8b93ff"/>
<circle cx="237.0" cy="587.8" r="0.6" fill="#b684ff"/>
<circle cx="239.3" cy="603.3" r="0.6" fill="#b684ff"/>
<circle cx="265.0" cy="607.6" r="0.6" fill="#8b93ff"/>
<circle cx="254.5" cy="608.1" r="0.6" fill="#b684ff"/>
<circle cx="279.0" cy="606.9" r="0.6" fill="#b684ff"/>
<circle cx="238.7" cy="583.8" r="0.6" fill="#8b93ff"/>
<circle cx="268.7" cy="610.0" r="0.6" fill="#8b93ff"/>
<circle cx="233.3" cy="592.4" r="0.6" fill="#b684ff"/>
<circle cx="254.1" cy="609.1" r="0.6" fill="#b684ff"/>
<circle cx="282.2" cy="583.8" r="0.6" fill="#b684ff"/>
<circle cx="270.0" cy="610.1" r="0.6" fill="#8b93ff"/>
<circle cx="242.1" cy="603.9" r="0.6" fill="#b684ff"/>
<circle cx="287.3" cy="607.8" r="0.6" fill="#b684ff"/>
<circle cx="277.8" cy="611.1" r="0.6" fill="#b684ff"/>
<circle cx="300.3" cy="595.5" r="0.6" fill="#8b93ff"/>
<circle cx="292.3" cy="584.0" r="0.6" fill="#b684ff"/>
<circle cx="241.6" cy="588.1" r="0.6" fill="#8b93ff"/>
<circle cx="298.0" cy="587.9" r="0.6" fill="#8b93ff"/>
<circle cx="285.4" cy="602.8" r="0.6" fill="#8b93ff"/>
<circle cx="235.2" cy="590.7" r="0.6" fill="#8b93ff"/>
<circle cx="237.7" cy="586.1" r="0.6" fill="#8b93ff"/>
<circle cx="284.9" cy="606.6" r="0.6" fill="#b684ff"/>
<circle cx="235.9" cy="593.3" r="0.6" fill="#8b93ff"/>
<circle cx="303.3" cy="591.9" r="0.6" fill="#8b93ff"/>
<circle cx="239.4" cy="599.7" r="0.6" fill="#8b93ff"/>
<circle cx="296.6" cy="592.1" r="0.6" fill="#8b93ff"/>
<circle cx="240.1" cy="590.7" r="0.6" fill="#8b93ff"/>
<circle cx="291.8" cy="607.9" r="0.6" fill="#8b93ff"/>
<circle cx="269.8" cy="611.6" r="0.6" fill="#b684ff"/>
<circle cx="277.7" cy="607.3" r="0.6" fill="#8b93ff"/>
<circle cx="290.2" cy="600.8" r="0.6" fill="#8b93ff"/>
<circle cx="296.8" cy="598.8" r="0.6" fill="#b684ff"/>
<circle cx="238.2" cy="600.1" r="0.6" fill="#8b93ff"/>
<circle cx="235.0" cy="598.1" r="0.6" fill="#b684ff"/>
<circle cx="247.8" cy="605.4" r="0.6" fill="#8b93ff"/>
<circle cx="237.6" cy="592.9" r="0.6" fill="#b684ff"/>
<circle cx="239.7" cy="600.6" r="0.6" fill="#8b93ff"/>
<circle cx="297.0" cy="600.2" r="0.6" fill="#b684ff"/>
<circle cx="237.2" cy="596.8" r="0.6" fill="#b684ff"/>
<circle cx="249.4" cy="607.8" r="0.6" fill="#b684ff"/>
<circle cx="251.2" cy="606.7" r="0.6" fill="#b684ff"/>
<circle cx="242.3" cy="601.9" r="0.6" fill="#b684ff"/>
<circle cx="282.9" cy="609.8" r="0.6" fill="#b684ff"/>
<circle cx="236.6" cy="588.1" r="0.6" fill="#b684ff"/>
<circle cx="283.1" cy="582.9" r="0.6" fill="#b684ff"/>
<circle cx="292.4" cy="606.5" r="0.6" fill="#b684ff"/>
<circle cx="302.8" cy="589.3" r="0.6" fill="#8b93ff"/>
<circle cx="283.6" cy="610.8" r="0.6" fill="#b684ff"/>
<circle cx="304.8" cy="585.4" r="0.6" fill="#8b93ff"/>
<circle cx="303.2" cy="588.3" r="0.6" fill="#b684ff"/>
<circle cx="232.8" cy="590.7" r="0.6" fill="#8b93ff"/>
<circle cx="296.3" cy="598.7" r="0.6" fill="#8b93ff"/>
<circle cx="281.4" cy="607.6" r="0.6" fill="#8b93ff"/>
<circle cx="294.4" cy="602.2" r="0.6" fill="#b684ff"/>
<circle cx="297.2" cy="599.3" r="0.6" fill="#8b93ff"/>
<circle cx="285.9" cy="611.5" r="0.6" fill="#b684ff"/>
<circle cx="248.2" cy="601.8" r="0.6" fill="#b684ff"/>
<circle cx="292.0" cy="606.1" r="0.6" fill="#8b93ff"/>
<circle cx="288.5" cy="606.5" r="0.6" fill="#b684ff"/>
<circle cx="251.8" cy="611.7" r="0.6" fill="#b684ff"/>
<circle cx="303.7" cy="587.8" r="0.6" fill="#8b93ff"/>
<circle cx="239.9" cy="603.1" r="0.6" fill="#8b93ff"/>
<circle cx="245.2" cy="607.9" r="0.6" fill="#b684ff"/>
<circle cx="299.1" cy="601.5" r="0.6" fill="#b684ff"/>
<circle cx="236.2" cy="586.4" r="0.6" fill="#b684ff"/>
<circle cx="247.6" cy="608.6" r="0.6" fill="#b684ff"/>
<circle cx="244.0" cy="605.8" r="0.6" fill="#8b93ff"/>
<circle cx="300.8" cy="595.3" r="0.6" fill="#8b93ff"/>
<circle cx="299.1" cy="598.5" r="0.6" fill="#8b93ff"/>
<circle cx="299.8" cy="600.0" r="0.6" fill="#8b93ff"/>
<circle cx="240.0" cy="598.5" r="0.6" fill="#8b93ff"/>
<circle cx="290.8" cy="608.2" r="0.6" fill="#8b93ff"/>
<circle cx="298.7" cy="593.8" r="0.6" fill="#8b93ff"/>
<circle cx="239.4" cy="599.9" r="0.6" fill="#8b93ff"/>
<circle cx="298.4" cy="594.4" r="0.6" fill="#8b93ff"/>
<circle cx="295.1" cy="603.6" r="0.6" fill="#8b93ff"/>
<circle cx="300.8" cy="591.8" r="0.6" fill="#b684ff"/>
<circle cx="235.2" cy="598.3" r="0.6" fill="#8b93ff"/>
<circle cx="229.8" cy="602.1" r="0.6" fill="#b684ff"/>
<circle cx="245.0" cy="607.7" r="0.6" fill="#b684ff"/>
<circle cx="296.7" cy="605.7" r="0.6" fill="#8b93ff"/>
<circle cx="254.4" cy="612.4" r="0.6" fill="#8b93ff"/>
<circle cx="254.2" cy="607.5" r="0.6" fill="#8b93ff"/>
<circle cx="235.3" cy="596.8" r="0.6" fill="#b684ff"/>
<circle cx="241.1" cy="600.3" r="0.6" fill="#b684ff"/>
<circle cx="298.4" cy="593.1" r="0.6" fill="#b684ff"/>
<circle cx="281.9" cy="583.6" r="0.6" fill="#8b93ff"/>
<circle cx="302.7" cy="582.2" r="0.6" fill="#8b93ff"/>
<circle cx="237.3" cy="592.5" r="0.6" fill="#8b93ff"/>
<circle cx="272.4" cy="582.6" r="0.6" fill="#b684ff"/>
<circle cx="236.1" cy="595.3" r="0.6" fill="#8b93ff"/>
<circle cx="252.6" cy="609.3" r="0.6" fill="#b684ff"/>
<circle cx="277.9" cy="611.0" r="0.6" fill="#b684ff"/>
<circle cx="280.5" cy="607.7" r="0.6" fill="#b684ff"/>
<circle cx="277.6" cy="585.6" r="0.6" fill="#8b93ff"/>
<circle cx="236.2" cy="598.8" r="0.6" fill="#8b93ff"/>
<circle cx="239.7" cy="598.4" r="0.6" fill="#8b93ff"/>
<circle cx="302.7" cy="581.8" r="0.6" fill="#8b93ff"/>
<circle cx="237.8" cy="585.8" r="0.6" fill="#8b93ff"/>
<circle cx="234.6" cy="596.4" r="0.6" fill="#8b93ff"/>
<circle cx="290.4" cy="582.5" r="0.6" fill="#b684ff"/>
<circle cx="232.1" cy="588.9" r="0.6" fill="#8b93ff"/>
<circle cx="286.5" cy="608.7" r="0.6" fill="#b684ff"/>
<circle cx="237.1" cy="599.8" r="0.6" fill="#8b93ff"/>
<circle cx="263.9" cy="586.5" r="0.6" fill="#b684ff"/>
<circle cx="233.7" cy="597.2" r="0.6" fill="#8b93ff"/>
<circle cx="298.7" cy="603.0" r="0.6" fill="#b684ff"/>
<circle cx="267.8" cy="611.4" r="0.6" fill="#8b93ff"/>
<circle cx="233.5" cy="588.8" r="0.6" fill="#8b93ff"/>
<circle cx="230.6" cy="597.2" r="0.6" fill="#b684ff"/>
<path d="M233.1,595.0 L247.3,592.7 L270.9,594.1 L295.7,594.6 L292.7,604.5 L278.0,609.2 L259.1,609.2 L242.6,604.5Z" fill="#a48cff"  opacity="0.75"/>
<path d="M189.6,532.9 L197.8,528.0 L207.6,523.9 L217.5,521.1 L216.6,528.0 L212.5,534.5 L209.3,542.7 L206.0,549.3 L199.5,550.9 L191.3,549.3 L189.3,542.7Z" fill="url(#tpat)"/>
<circle cx="195.3" cy="549.3" r="0.6" fill="#8cab00"/>
<circle cx="209.4" cy="545.5" r="0.6" fill="#00c090"/>
<circle cx="215.7" cy="535.6" r="0.6" fill="#00c090"/>
<circle cx="211.9" cy="523.2" r="0.6" fill="#24b700"/>
<circle cx="199.7" cy="548.1" r="0.6" fill="#00c090"/>
<circle cx="215.2" cy="530.0" r="0.6" fill="#8cab00"/>
<circle cx="203.0" cy="525.8" r="0.6" fill="#00c090"/>
<circle cx="211.6" cy="542.0" r="0.6" fill="#24b700"/>
<circle cx="189.7" cy="546.3" r="0.6" fill="#00c090"/>
<circle cx="209.7" cy="547.3" r="0.6" fill="#00c090"/>
<circle cx="211.2" cy="537.9" r="0.6" fill="#8cab00"/>
<circle cx="194.7" cy="552.0" r="0.6" fill="#00c090"/>
<circle cx="214.3" cy="535.2" r="0.6" fill="#68b100"/>
<circle cx="215.1" cy="531.7" r="0.6" fill="#68b100"/>
<circle cx="212.2" cy="530.2" r="0.6" fill="#68b100"/>
<circle cx="203.0" cy="523.6" r="0.6" fill="#00c090"/>
<circle cx="216.5" cy="526.1" r="0.6" fill="#00c090"/>
<circle cx="204.2" cy="547.7" r="0.6" fill="#8cab00"/>
<circle cx="194.4" cy="546.9" r="0.6" fill="#24b700"/>
<circle cx="211.4" cy="541.6" r="0.6" fill="#00c090"/>
<circle cx="216.2" cy="526.2" r="0.6" fill="#00c090"/>
<circle cx="199.2" cy="528.3" r="0.6" fill="#68b100"/>
<circle cx="200.6" cy="551.0" r="0.6" fill="#00c090"/>
<circle cx="208.6" cy="550.1" r="0.6" fill="#00c090"/>
<circle cx="214.0" cy="536.3" r="0.6" fill="#8cab00"/>
<circle cx="187.3" cy="541.4" r="0.6" fill="#68b100"/>
<circle cx="188.3" cy="544.8" r="0.6" fill="#68b100"/>
<circle cx="187.6" cy="544.5" r="0.6" fill="#68b100"/>
<circle cx="205.6" cy="547.7" r="0.6" fill="#00c090"/>
<circle cx="199.0" cy="551.6" r="0.6" fill="#68b100"/>
<circle cx="190.5" cy="541.7" r="0.6" fill="#68b100"/>
<circle cx="192.4" cy="548.4" r="0.6" fill="#00c090"/>
<circle cx="198.8" cy="549.1" r="0.6" fill="#24b700"/>
<circle cx="189.1" cy="542.3" r="0.6" fill="#68b100"/>
<circle cx="207.2" cy="546.1" r="0.6" fill="#68b100"/>
<circle cx="216.4" cy="523.2" r="0.6" fill="#00c090"/>
<circle cx="206.0" cy="547.4" r="0.6" fill="#00c090"/>
<circle cx="189.0" cy="543.5" r="0.6" fill="#00c090"/>
<circle cx="194.2" cy="550.2" r="0.6" fill="#00c090"/>
<circle cx="192.7" cy="531.5" r="0.6" fill="#68b100"/>
<circle cx="202.1" cy="525.3" r="0.6" fill="#24b700"/>
<circle cx="194.3" cy="549.2" r="0.6" fill="#00c090"/>
<circle cx="190.9" cy="550.2" r="0.6" fill="#8cab00"/>
<circle cx="216.4" cy="523.5" r="0.6" fill="#24b700"/>
<circle cx="187.4" cy="535.9" r="0.6" fill="#24b700"/>
<circle cx="197.8" cy="551.9" r="0.6" fill="#8cab00"/>
<circle cx="216.0" cy="520.5" r="0.6" fill="#24b700"/>
<circle cx="189.5" cy="549.3" r="0.6" fill="#68b100"/>
<circle cx="209.4" cy="537.1" r="0.6" fill="#00c090"/>
<circle cx="219.2" cy="527.4" r="0.6" fill="#68b100"/>
<circle cx="193.6" cy="528.2" r="0.6" fill="#24b700"/>
<circle cx="217.3" cy="527.9" r="0.6" fill="#24b700"/>
<circle cx="196.3" cy="529.2" r="0.6" fill="#00c090"/>
<circle cx="204.8" cy="547.1" r="0.6" fill="#00c090"/>
<circle cx="208.7" cy="547.9" r="0.6" fill="#68b100"/>
<circle cx="203.5" cy="548.2" r="0.6" fill="#8cab00"/>
<circle cx="192.3" cy="545.2" r="0.6" fill="#24b700"/>
<circle cx="192.4" cy="531.9" r="0.6" fill="#24b700"/>
<circle cx="214.2" cy="519.8" r="0.6" fill="#8cab00"/>
<circle cx="207.8" cy="548.3" r="0.6" fill="#00c090"/>
<circle cx="203.3" cy="551.2" r="0.6" fill="#68b100"/>
<circle cx="218.8" cy="525.1" r="0.6" fill="#24b700"/>
<circle cx="191.4" cy="536.4" r="0.6" fill="#24b700"/>
<circle cx="195.4" cy="549.8" r="0.6" fill="#24b700"/>
<circle cx="214.4" cy="534.8" r="0.6" fill="#24b700"/>
<circle cx="191.7" cy="539.1" r="0.6" fill="#00c090"/>
<circle cx="212.3" cy="537.2" r="0.6" fill="#8cab00"/>
<circle cx="205.8" cy="524.4" r="0.6" fill="#24b700"/>
<circle cx="198.6" cy="549.8" r="0.6" fill="#00c090"/>
<circle cx="209.5" cy="521.5" r="0.6" fill="#8cab00"/>
<circle cx="212.3" cy="541.4" r="0.55" fill="#00bb49"/>
<circle cx="214.1" cy="541.8" r="0.55" fill="#24b700"/>
<circle cx="224.1" cy="539.0" r="0.55" fill="#00c090"/>
<circle cx="231.1" cy="542.7" r="0.55" fill="#00bb49"/>
<circle cx="225.6" cy="550.4" r="0.55" fill="#00c090"/>
<circle cx="214.5" cy="554.3" r="0.55" fill="#00bb49"/>
<circle cx="219.4" cy="550.7" r="0.55" fill="#00c090"/>
<circle cx="224.8" cy="548.8" r="0.55" fill="#00bb49"/>
<circle cx="212.7" cy="548.2" r="0.55" fill="#00bb49"/>
<circle cx="227.8" cy="546.4" r="0.55" fill="#24b700"/>
<circle cx="225.0" cy="540.8" r="0.55" fill="#00bb49"/>
<circle cx="216.7" cy="553.1" r="0.55" fill="#00c090"/>
<circle cx="222.5" cy="555.3" r="0.55" fill="#24b700"/>
<circle cx="218.1" cy="548.6" r="0.55" fill="#24b700"/>
<circle cx="218.6" cy="547.7" r="0.55" fill="#00bb49"/>
<circle cx="230.4" cy="543.0" r="0.55" fill="#24b700"/>
<circle cx="218.0" cy="547.9" r="0.55" fill="#00c090"/>
<circle cx="216.5" cy="545.1" r="0.55" fill="#00bb49"/>
<circle cx="221.0" cy="541.6" r="0.55" fill="#00bb49"/>
<circle cx="219.4" cy="548.7" r="0.55" fill="#00c090"/>
<circle cx="227.0" cy="540.5" r="0.55" fill="#00bb49"/>
<circle cx="225.5" cy="529.8" r="0.55" fill="#00bb49"/>
<circle cx="226.4" cy="532.9" r="0.55" fill="#24b700"/>
<circle cx="214.5" cy="549.0" r="0.55" fill="#24b700"/>
<circle cx="216.4" cy="551.9" r="0.55" fill="#00bb49"/>
<circle cx="212.8" cy="549.2" r="0.55" fill="#24b700"/>
<circle cx="223.9" cy="550.7" r="0.55" fill="#00c090"/>
<circle cx="227.9" cy="541.1" r="0.55" fill="#00c090"/>
<circle cx="223.3" cy="544.0" r="0.55" fill="#00bb49"/>
<circle cx="220.7" cy="549.0" r="0.55" fill="#00bb49"/>
<circle cx="224.8" cy="549.3" r="0.55" fill="#24b700"/>
<circle cx="212.4" cy="534.6" r="0.55" fill="#00c090"/>
<circle cx="220.1" cy="546.5" r="0.55" fill="#24b700"/>
<circle cx="220.9" cy="529.9" r="0.55" fill="#00c090"/>
<circle cx="222.5" cy="545.4" r="0.55" fill="#00c090"/>
<circle cx="224.3" cy="534.7" r="0.55" fill="#24b700"/>
<circle cx="221.1" cy="551.2" r="0.55" fill="#00c090"/>
<circle cx="215.1" cy="547.2" r="0.55" fill="#00bb49"/>
<circle cx="227.9" cy="545.3" r="0.55" fill="#24b700"/>
<circle cx="226.8" cy="534.1" r="0.55" fill="#00c090"/>
<circle cx="223.6" cy="538.0" r="0.55" fill="#00c090"/>
<circle cx="218.2" cy="549.0" r="0.55" fill="#24b700"/>
<circle cx="227.0" cy="543.1" r="0.55" fill="#00bb49"/>
<circle cx="215.7" cy="549.3" r="0.55" fill="#00bb49"/>
<circle cx="222.8" cy="543.8" r="0.55" fill="#24b700"/>
<path d="M192.0,549.0 L206.0,549.0 L211.0,541.0 L220.0,550.0 L226.0,565.0 L214.0,569.0 L200.0,563.0 L194.0,556.0Z" fill="#22b8a4"  opacity="0.85"/>
<circle cx="193.0" cy="549.4" r="0.6" fill="#42a0ff"/>
<circle cx="215.8" cy="566.6" r="0.6" fill="#24b700"/>
<circle cx="210.6" cy="544.8" r="0.6" fill="#00c090"/>
<circle cx="223.5" cy="557.2" r="0.6" fill="#00c090"/>
<circle cx="198.0" cy="555.4" r="0.6" fill="#24b700"/>
<circle cx="209.5" cy="569.0" r="0.6" fill="#00c090"/>
<circle cx="205.6" cy="550.1" r="0.6" fill="#24b700"/>
<circle cx="192.4" cy="548.3" r="0.6" fill="#24b700"/>
<circle cx="212.4" cy="538.3" r="0.6" fill="#00c090"/>
<circle cx="220.9" cy="565.6" r="0.6" fill="#42a0ff"/>
<circle cx="193.4" cy="550.0" r="0.6" fill="#42a0ff"/>
<circle cx="217.9" cy="549.0" r="0.6" fill="#00c090"/>
<circle cx="212.7" cy="539.5" r="0.6" fill="#00c090"/>
<circle cx="198.4" cy="563.0" r="0.6" fill="#00c090"/>
<circle cx="218.6" cy="568.7" r="0.6" fill="#24b700"/>
<circle cx="209.3" cy="544.1" r="0.6" fill="#00c090"/>
<circle cx="224.8" cy="563.2" r="0.6" fill="#00c090"/>
<circle cx="215.9" cy="569.5" r="0.6" fill="#00c090"/>
<circle cx="196.3" cy="560.6" r="0.6" fill="#42a0ff"/>
<circle cx="205.0" cy="567.2" r="0.6" fill="#24b700"/>
<circle cx="220.2" cy="567.5" r="0.6" fill="#00c090"/>
<circle cx="203.1" cy="562.0" r="0.6" fill="#24b700"/>
<circle cx="218.4" cy="568.8" r="0.6" fill="#24b700"/>
<circle cx="191.0" cy="553.0" r="0.6" fill="#42a0ff"/>
<circle cx="207.9" cy="541.5" r="0.6" fill="#00c090"/>
<circle cx="200.1" cy="550.1" r="0.6" fill="#24b700"/>
<circle cx="193.7" cy="555.9" r="0.6" fill="#24b700"/>
<circle cx="195.8" cy="547.9" r="0.6" fill="#24b700"/>
<circle cx="193.9" cy="548.4" r="0.6" fill="#42a0ff"/>
<circle cx="220.6" cy="552.7" r="0.6" fill="#42a0ff"/>
<circle cx="194.4" cy="550.8" r="0.6" fill="#00c090"/>
<circle cx="196.8" cy="549.5" r="0.6" fill="#00c090"/>
<circle cx="200.4" cy="547.9" r="0.6" fill="#00c090"/>
<circle cx="224.2" cy="564.5" r="0.6" fill="#24b700"/>
<circle cx="205.0" cy="549.2" r="0.6" fill="#00c090"/>
<circle cx="214.1" cy="544.2" r="0.6" fill="#24b700"/>
<circle cx="193.6" cy="546.8" r="0.6" fill="#42a0ff"/>
<circle cx="204.2" cy="564.2" r="0.6" fill="#42a0ff"/>
<circle cx="211.0" cy="565.4" r="0.6" fill="#24b700"/>
<circle cx="194.2" cy="557.6" r="0.6" fill="#00c090"/>
<circle cx="194.6" cy="558.9" r="0.6" fill="#42a0ff"/>
<circle cx="197.9" cy="559.7" r="0.6" fill="#42a0ff"/>
<circle cx="208.8" cy="546.7" r="0.6" fill="#00c090"/>
<circle cx="221.6" cy="562.3" r="0.6" fill="#42a0ff"/>
<circle cx="209.5" cy="547.2" r="0.6" fill="#00c090"/>
<circle cx="224.7" cy="563.8" r="0.6" fill="#00c090"/>
<circle cx="224.8" cy="556.8" r="0.6" fill="#00c090"/>
<circle cx="216.7" cy="570.4" r="0.6" fill="#42a0ff"/>
<circle cx="197.4" cy="558.0" r="0.6" fill="#24b700"/>
<circle cx="194.4" cy="559.2" r="0.6" fill="#00c090"/>
<circle cx="195.7" cy="559.1" r="0.6" fill="#42a0ff"/>
<circle cx="202.2" cy="565.1" r="0.6" fill="#24b700"/>
<circle cx="220.0" cy="566.5" r="0.6" fill="#00c090"/>
<circle cx="224.0" cy="561.2" r="0.6" fill="#00c090"/>
<circle cx="205.6" cy="564.9" r="0.6" fill="#42a0ff"/>
<circle cx="198.1" cy="549.5" r="0.6" fill="#42a0ff"/>
<circle cx="219.0" cy="566.0" r="0.6" fill="#42a0ff"/>
<circle cx="199.4" cy="546.7" r="0.6" fill="#24b700"/>
<circle cx="222.3" cy="552.4" r="0.6" fill="#42a0ff"/>
<circle cx="224.4" cy="562.9" r="0.6" fill="#24b700"/>
<path d="M213.6,563.8 L225.3,569.6 L237.5,569.1 L240.4,581.3 L240.4,592.9 L228.2,594.7 L220.9,584.8 L215.1,575.5Z" fill="#a690ff"/>
<path d="M189.3,542.0 L197.0,541.0 L198.5,549.5 L191.0,550.0Z" fill="#ff6d8e"/>
<path d="M226.7,592.9 L235.7,591.7 L240.4,597.3 L237.5,602.2 L228.2,601.6Z" fill="#e56cf2"/>
<circle cx="214.3" cy="571.7" r="0.6" fill="#42a0ff"/>
<circle cx="217.7" cy="564.1" r="0.6" fill="#42a0ff"/>
<circle cx="211.0" cy="573.7" r="0.6" fill="#42a0ff"/>
<circle cx="229.1" cy="568.5" r="0.6" fill="#b684ff"/>
<circle cx="224.5" cy="568.9" r="0.6" fill="#00c090"/>
<circle cx="221.6" cy="588.0" r="0.6" fill="#8b93ff"/>
<circle cx="233.0" cy="593.9" r="0.6" fill="#00c090"/>
<circle cx="237.2" cy="580.1" r="0.6" fill="#b684ff"/>
<circle cx="237.0" cy="592.0" r="0.6" fill="#00c090"/>
<circle cx="240.1" cy="582.6" r="0.6" fill="#00c090"/>
<circle cx="235.3" cy="574.7" r="0.6" fill="#b684ff"/>
<circle cx="231.5" cy="589.6" r="0.6" fill="#b684ff"/>
<circle cx="217.1" cy="583.9" r="0.6" fill="#8b93ff"/>
<circle cx="230.1" cy="567.6" r="0.6" fill="#8b93ff"/>
<circle cx="241.7" cy="585.6" r="0.6" fill="#8b93ff"/>
<circle cx="229.3" cy="593.3" r="0.6" fill="#b684ff"/>
<circle cx="238.7" cy="591.7" r="0.6" fill="#42a0ff"/>
<circle cx="225.0" cy="592.2" r="0.6" fill="#b684ff"/>
<circle cx="239.7" cy="578.5" r="0.6" fill="#42a0ff"/>
<circle cx="236.7" cy="589.7" r="0.6" fill="#b684ff"/>
<circle cx="216.1" cy="578.9" r="0.6" fill="#b684ff"/>
<circle cx="222.5" cy="587.5" r="0.6" fill="#b684ff"/>
<circle cx="233.5" cy="597.3" r="0.6" fill="#00c090"/>
<circle cx="215.2" cy="565.9" r="0.6" fill="#b684ff"/>
<circle cx="238.1" cy="568.7" r="0.6" fill="#b684ff"/>
<circle cx="239.7" cy="586.5" r="0.6" fill="#8b93ff"/>
<circle cx="210.8" cy="566.7" r="0.6" fill="#42a0ff"/>
<circle cx="236.9" cy="587.0" r="0.6" fill="#8b93ff"/>
<circle cx="237.4" cy="576.0" r="0.6" fill="#b684ff"/>
<circle cx="215.3" cy="562.5" r="0.6" fill="#42a0ff"/>
<circle cx="239.7" cy="596.0" r="0.6" fill="#b684ff"/>
<circle cx="226.6" cy="597.8" r="0.6" fill="#42a0ff"/>
<circle cx="221.9" cy="573.4" r="0.6" fill="#8b93ff"/>
<circle cx="229.6" cy="597.6" r="0.6" fill="#8b93ff"/>
<circle cx="238.6" cy="596.2" r="0.6" fill="#42a0ff"/>
<circle cx="218.4" cy="570.0" r="0.6" fill="#42a0ff"/>
<circle cx="214.3" cy="578.1" r="0.6" fill="#42a0ff"/>
<circle cx="226.3" cy="573.6" r="0.6" fill="#42a0ff"/>
<circle cx="214.5" cy="564.7" r="0.6" fill="#42a0ff"/>
<circle cx="234.2" cy="566.8" r="0.6" fill="#b684ff"/>
<circle cx="238.3" cy="573.8" r="0.6" fill="#00c090"/>
<circle cx="212.6" cy="566.3" r="0.6" fill="#42a0ff"/>
<circle cx="230.7" cy="596.2" r="0.6" fill="#42a0ff"/>
<circle cx="238.4" cy="580.6" r="0.6" fill="#8b93ff"/>
<circle cx="219.7" cy="583.2" r="0.6" fill="#b684ff"/>
<circle cx="216.4" cy="569.6" r="0.6" fill="#8b93ff"/>
<circle cx="234.5" cy="568.3" r="0.6" fill="#42a0ff"/>
<circle cx="215.9" cy="563.4" r="0.6" fill="#00c090"/>
<circle cx="212.3" cy="567.2" r="0.6" fill="#b684ff"/>
<circle cx="229.4" cy="589.4" r="0.6" fill="#b684ff"/>
<circle cx="221.5" cy="579.7" r="0.6" fill="#00c090"/>
<circle cx="214.5" cy="566.4" r="0.6" fill="#8b93ff"/>
<circle cx="233.1" cy="595.4" r="0.6" fill="#b684ff"/>
<circle cx="233.2" cy="588.1" r="0.6" fill="#8b93ff"/>
<circle cx="212.0" cy="566.6" r="0.6" fill="#42a0ff"/>
<circle cx="222.1" cy="563.9" r="0.6" fill="#00c090"/>
<circle cx="224.7" cy="567.6" r="0.6" fill="#42a0ff"/>
<circle cx="215.1" cy="567.3" r="0.6" fill="#42a0ff"/>
<circle cx="222.0" cy="584.4" r="0.6" fill="#b684ff"/>
<circle cx="232.7" cy="592.2" r="0.6" fill="#00c090"/>
<circle cx="225.5" cy="590.8" r="0.6" fill="#b684ff"/>
<circle cx="223.9" cy="568.2" r="0.6" fill="#8b93ff"/>
<circle cx="216.5" cy="584.1" r="0.6" fill="#42a0ff"/>
<circle cx="238.5" cy="577.4" r="0.6" fill="#8b93ff"/>
<circle cx="232.4" cy="563.5" r="0.6" fill="#42a0ff"/>
<circle cx="223.8" cy="579.2" r="0.6" fill="#8b93ff"/>
<circle cx="237.3" cy="590.8" r="0.6" fill="#42a0ff"/>
<circle cx="222.8" cy="595.1" r="0.6" fill="#8b93ff"/>
<circle cx="232.3" cy="588.7" r="0.6" fill="#00c090"/>
<circle cx="216.0" cy="563.6" r="0.6" fill="#b684ff"/>
<circle cx="242.7" cy="580.9" r="0.6" fill="#42a0ff"/>
<circle cx="243.4" cy="579.2" r="0.6" fill="#8b93ff"/>
<circle cx="208.4" cy="565.8" r="0.6" fill="#00c090"/>
<circle cx="229.8" cy="569.6" r="0.6" fill="#b684ff"/>
<circle cx="243.7" cy="596.6" r="0.6" fill="#b684ff"/>
<circle cx="241.7" cy="563.6" r="0.6" fill="#b684ff"/>
<circle cx="215.6" cy="581.6" r="0.6" fill="#b684ff"/>
<circle cx="223.0" cy="598.1" r="0.6" fill="#8b93ff"/>
<circle cx="223.4" cy="586.9" r="0.6" fill="#b684ff"/>
<circle cx="239.0" cy="586.7" r="0.6" fill="#42a0ff"/>
<circle cx="245.5" cy="575.5" r="0.6" fill="#8b93ff"/>
<circle cx="243.6" cy="585.9" r="0.6" fill="#00c090"/>
<circle cx="217.5" cy="586.2" r="0.6" fill="#8b93ff"/>
<circle cx="209.0" cy="568.9" r="0.6" fill="#00c090"/>
<circle cx="240.6" cy="576.4" r="0.6" fill="#8b93ff"/>
<circle cx="214.2" cy="565.8" r="0.6" fill="#00c090"/>
<circle cx="211.0" cy="571.3" r="0.6" fill="#8b93ff"/>
<circle cx="220.1" cy="566.8" r="0.6" fill="#8b93ff"/>
<circle cx="216.0" cy="577.7" r="0.6" fill="#8b93ff"/>
<circle cx="237.3" cy="589.1" r="0.6" fill="#b684ff"/>
<circle cx="236.3" cy="571.4" r="0.6" fill="#42a0ff"/>
<circle cx="236.6" cy="573.5" r="0.6" fill="#8b93ff"/>
<circle cx="239.0" cy="566.4" r="0.6" fill="#42a0ff"/>
<circle cx="212.6" cy="570.9" r="0.6" fill="#42a0ff"/>
<circle cx="227.2" cy="575.1" r="0.6" fill="#42a0ff"/>
<circle cx="233.4" cy="571.5" r="0.6" fill="#00c090"/>
<circle cx="240.1" cy="587.1" r="0.6" fill="#42a0ff"/>
<circle cx="232.2" cy="575.2" r="0.6" fill="#42a0ff"/>
<circle cx="233.1" cy="589.2" r="0.6" fill="#42a0ff"/>
<circle cx="212.9" cy="562.1" r="0.6" fill="#8b93ff"/>
<circle cx="221.2" cy="587.9" r="0.6" fill="#00c090"/>
<circle cx="215.1" cy="566.0" r="0.6" fill="#42a0ff"/>
<circle cx="218.3" cy="580.8" r="0.6" fill="#8b93ff"/>
<circle cx="243.5" cy="593.1" r="0.6" fill="#8b93ff"/>
<circle cx="224.6" cy="595.0" r="0.6" fill="#8b93ff"/>
<circle cx="221.3" cy="591.8" r="0.6" fill="#42a0ff"/>
<circle cx="225.4" cy="590.8" r="0.6" fill="#42a0ff"/>
<circle cx="242.2" cy="574.9" r="0.6" fill="#b684ff"/>
<circle cx="236.1" cy="574.3" r="0.6" fill="#b684ff"/>
<circle cx="221.9" cy="575.7" r="0.6" fill="#42a0ff"/>
<circle cx="216.8" cy="573.2" r="0.6" fill="#b684ff"/>
<circle cx="217.5" cy="566.9" r="0.6" fill="#8b93ff"/>
<circle cx="246.8" cy="593.6" r="0.6" fill="#b684ff"/>
<circle cx="235.2" cy="596.6" r="0.6" fill="#42a0ff"/>
<circle cx="230.9" cy="600.1" r="0.6" fill="#b684ff"/>
<circle cx="217.3" cy="585.0" r="0.6" fill="#8b93ff"/>
<circle cx="236.1" cy="596.1" r="0.6" fill="#b684ff"/>
<circle cx="220.8" cy="587.5" r="0.6" fill="#b684ff"/>
<circle cx="213.3" cy="571.4" r="0.6" fill="#b684ff"/>
<circle cx="234.2" cy="592.4" r="0.6" fill="#8b93ff"/>
<circle cx="238.4" cy="596.9" r="0.6" fill="#8b93ff"/>
<circle cx="244.0" cy="587.1" r="0.6" fill="#8b93ff"/>
<circle cx="213.2" cy="575.0" r="0.6" fill="#00c090"/>
<circle cx="223.6" cy="589.5" r="0.6" fill="#00c090"/>
<circle cx="232.3" cy="569.2" r="0.6" fill="#42a0ff"/>
<circle cx="237.5" cy="582.8" r="0.6" fill="#8b93ff"/>
<circle cx="220.2" cy="562.1" r="0.6" fill="#b684ff"/>
<circle cx="216.4" cy="582.9" r="0.6" fill="#8b93ff"/>
<circle cx="233.3" cy="595.8" r="0.6" fill="#b684ff"/>
<circle cx="218.9" cy="566.2" r="0.6" fill="#b684ff"/>
<circle cx="211.0" cy="573.7" r="0.6" fill="#b684ff"/>
<circle cx="222.5" cy="573.5" r="0.6" fill="#8b93ff"/>
<circle cx="225.9" cy="573.1" r="0.6" fill="#b684ff"/>
<circle cx="237.8" cy="593.3" r="0.6" fill="#8b93ff"/>
<circle cx="241.0" cy="581.2" r="0.6" fill="#00c090"/>
<circle cx="240.9" cy="586.5" r="0.6" fill="#8b93ff"/>
<circle cx="225.8" cy="595.1" r="0.6" fill="#8b93ff"/>
<circle cx="239.0" cy="583.7" r="0.6" fill="#00c090"/>
<circle cx="240.8" cy="581.8" r="0.6" fill="#42a0ff"/>
<circle cx="217.9" cy="579.6" r="0.6" fill="#42a0ff"/>
<circle cx="236.0" cy="573.1" r="0.6" fill="#42a0ff"/>
<circle cx="220.7" cy="576.0" r="0.6" fill="#8b93ff"/>
<circle cx="227.8" cy="574.1" r="0.6" fill="#b684ff"/>
<circle cx="228.9" cy="593.2" r="0.6" fill="#42a0ff"/>
<circle cx="237.6" cy="576.3" r="0.6" fill="#8b93ff"/>
<circle cx="245.0" cy="587.3" r="0.6" fill="#8b93ff"/>
<circle cx="218.5" cy="563.8" r="0.6" fill="#b684ff"/>
<circle cx="237.1" cy="576.0" r="0.6" fill="#8b93ff"/>
<circle cx="229.7" cy="587.4" r="0.6" fill="#00c090"/>
<circle cx="216.9" cy="567.5" r="0.6" fill="#b684ff"/>
<path d="M96.9,447.3 L100.4,444.5 L103.2,441.3 L105.9,440.2 L106.4,445.9 L109.7,448.6 L108.6,452.2 L101.8,453.0 L96.9,450.5Z" fill="#f962dd"/>
<path d="M112,448 L118,447.5 L122,446.5" stroke="#00acfc" stroke-width="1.4" fill="none"/>
<path d="M135.9,485.4 L140.0,478.6 L144.1,473.2 L148.2,474.5 L150.9,476.7 L159.1,475.9 L159.9,478.6 L150.9,479.7 L142.7,480.3 L137.8,484.9Z" fill="#00bbda"/>
<path d="M67.7,514.1 L71.8,508.6 L80.0,507.3 L90.9,510.0 L96.9,514.1 L100.7,522.3 L102.1,534.5 L99.4,545.4 L93.6,552.5 L82.7,553.9 L74.5,551.2 L69.1,545.7 L66.4,534.8 L65.8,523.6Z" fill="#e2870a"/>
<circle cx="65.1" cy="529.7" r="0.6" fill="#e18a00"/>
<circle cx="77.7" cy="504.6" r="0.6" fill="#e18a00"/>
<circle cx="95.4" cy="512.7" r="0.6" fill="#e18a00"/>
<circle cx="95.4" cy="509.4" r="0.6" fill="#e18a00"/>
<circle cx="73.9" cy="550.8" r="0.6" fill="#e18a00"/>
<circle cx="91.4" cy="510.7" r="0.6" fill="#e18a00"/>
<circle cx="67.2" cy="517.5" r="0.6" fill="#e18a00"/>
<circle cx="98.5" cy="525.3" r="0.6" fill="#e18a00"/>
<circle cx="103.3" cy="522.2" r="0.6" fill="#e18a00"/>
<circle cx="66.5" cy="541.4" r="0.6" fill="#e18a00"/>
<circle cx="97.7" cy="516.3" r="0.6" fill="#e18a00"/>
<circle cx="73.6" cy="551.7" r="0.6" fill="#e18a00"/>
<circle cx="80.2" cy="505.9" r="0.6" fill="#e18a00"/>
<circle cx="96.2" cy="546.9" r="0.6" fill="#e18a00"/>
<circle cx="100.3" cy="538.8" r="0.6" fill="#e18a00"/>
<circle cx="93.8" cy="512.6" r="0.6" fill="#e18a00"/>
<circle cx="83.8" cy="507.7" r="0.6" fill="#e18a00"/>
<circle cx="99.0" cy="514.8" r="0.6" fill="#e18a00"/>
<circle cx="66.4" cy="540.8" r="0.6" fill="#e18a00"/>
<circle cx="102.3" cy="530.8" r="0.6" fill="#e18a00"/>
<circle cx="74.1" cy="509.6" r="0.6" fill="#e18a00"/>
<circle cx="90.5" cy="510.0" r="0.6" fill="#e18a00"/>
<circle cx="70.2" cy="506.1" r="0.6" fill="#e18a00"/>
<circle cx="99.3" cy="529.8" r="0.6" fill="#e18a00"/>
<circle cx="100.6" cy="516.1" r="0.6" fill="#e18a00"/>
<circle cx="72.4" cy="508.6" r="0.6" fill="#e18a00"/>
<circle cx="85.9" cy="511.5" r="0.6" fill="#e18a00"/>
<circle cx="94.4" cy="549.3" r="0.6" fill="#e18a00"/>
<circle cx="102.8" cy="529.6" r="0.6" fill="#e18a00"/>
<circle cx="98.3" cy="517.9" r="0.6" fill="#e18a00"/>
<circle cx="66.2" cy="518.8" r="0.6" fill="#e18a00"/>
<circle cx="67.1" cy="518.8" r="0.6" fill="#e18a00"/>
<circle cx="101.6" cy="526.0" r="0.6" fill="#e18a00"/>
<circle cx="82.8" cy="554.8" r="0.6" fill="#e18a00"/>
<circle cx="103.5" cy="527.0" r="0.6" fill="#e18a00"/>
<circle cx="101.0" cy="535.4" r="0.6" fill="#e18a00"/>
<circle cx="65.2" cy="513.4" r="0.6" fill="#e18a00"/>
<circle cx="95.2" cy="552.1" r="0.6" fill="#e18a00"/>
<circle cx="70.1" cy="544.3" r="0.6" fill="#e18a00"/>
<circle cx="82.9" cy="511.0" r="0.6" fill="#e18a00"/>
<circle cx="82.9" cy="555.6" r="0.6" fill="#e18a00"/>
<circle cx="67.0" cy="532.9" r="0.6" fill="#e18a00"/>
<circle cx="101.5" cy="544.8" r="0.6" fill="#e18a00"/>
<circle cx="67.1" cy="539.0" r="0.6" fill="#e18a00"/>
<circle cx="76.7" cy="508.3" r="0.6" fill="#e18a00"/>
<circle cx="67.2" cy="527.1" r="0.6" fill="#e18a00"/>
<circle cx="99.7" cy="545.0" r="0.6" fill="#e18a00"/>
<circle cx="64.2" cy="526.0" r="0.6" fill="#e18a00"/>
<circle cx="64.8" cy="521.1" r="0.6" fill="#e18a00"/>
<circle cx="63.9" cy="521.6" r="0.6" fill="#e18a00"/>
<circle cx="68.5" cy="535.1" r="0.6" fill="#e18a00"/>
<circle cx="64.8" cy="530.5" r="0.6" fill="#e18a00"/>
<circle cx="99.9" cy="516.9" r="0.6" fill="#e18a00"/>
<circle cx="98.5" cy="520.8" r="0.6" fill="#e18a00"/>
<circle cx="85.7" cy="556.7" r="0.6" fill="#e18a00"/>
<circle cx="97.1" cy="514.0" r="0.6" fill="#e18a00"/>
<circle cx="70.7" cy="545.4" r="0.6" fill="#e18a00"/>
<circle cx="99.8" cy="514.5" r="0.6" fill="#e18a00"/>
<circle cx="100.8" cy="520.7" r="0.6" fill="#e18a00"/>
<circle cx="96.6" cy="514.3" r="0.6" fill="#e18a00"/>
<circle cx="66.0" cy="541.0" r="0.6" fill="#e18a00"/>
<circle cx="80.4" cy="509.3" r="0.6" fill="#e18a00"/>
<circle cx="97.7" cy="521.7" r="0.6" fill="#e18a00"/>
<circle cx="83.4" cy="509.0" r="0.6" fill="#e18a00"/>
<circle cx="66.9" cy="511.6" r="0.6" fill="#e18a00"/>
<circle cx="90.8" cy="507.8" r="0.6" fill="#e18a00"/>
<circle cx="100.3" cy="545.1" r="0.6" fill="#e18a00"/>
<circle cx="71.1" cy="544.9" r="0.6" fill="#e18a00"/>
<circle cx="88.2" cy="553.5" r="0.6" fill="#e18a00"/>
<circle cx="72.7" cy="549.5" r="0.6" fill="#e18a00"/>
<circle cx="98.0" cy="548.4" r="0.6" fill="#e18a00"/>
<circle cx="100.9" cy="536.1" r="0.6" fill="#e18a00"/>
<circle cx="72.2" cy="547.0" r="0.6" fill="#e18a00"/>
<circle cx="102.3" cy="518.8" r="0.6" fill="#e18a00"/>
<circle cx="95.0" cy="549.1" r="0.6" fill="#e18a00"/>
<circle cx="68.5" cy="526.6" r="0.6" fill="#e18a00"/>
<circle cx="72.8" cy="550.8" r="0.6" fill="#e18a00"/>
<circle cx="76.6" cy="552.2" r="0.6" fill="#e18a00"/>
<circle cx="68.7" cy="514.2" r="0.6" fill="#e18a00"/>
<circle cx="92.4" cy="551.9" r="0.6" fill="#e18a00"/>
<path d="M103,519 L110,520" stroke="#f8766d" stroke-width="1.6"/>
<circle cx="87.5" cy="496.5" r="1.1" fill="#ff61c6"/>
<text x="9.5" y="695.8" font-size="12.5" text-anchor="start" font-family="Liberation Sans, Arial, sans-serif" font-weight="bold" fill="#111" textLength="9.2" lengthAdjust="spacingAndGlyphs">C</text>
<line x1="96.2" y1="673" x2="96.2" y2="847" stroke="#555" stroke-width="1"/>
<line x1="96.2" y1="847" x2="505" y2="847" stroke="#555" stroke-width="1"/>
<line x1="93.7" y1="681.4" x2="96.2" y2="681.4" stroke="#555" stroke-width="0.8"/>
<text x="89.5" y="682.6999999999999" font-size="9.6" text-anchor="end" font-family="Liberation Sans, Arial, sans-serif" font-weight="normal" fill="#222">CD4 Naive</text>
<line x1="93.7" y1="692.04" x2="96.2" y2="692.04" stroke="#555" stroke-width="0.8"/>
<text x="89.5" y="693.3399999999999" font-size="9.6" text-anchor="end" font-family="Liberation Sans, Arial, sans-serif" font-weight="normal" fill="#222">CD4 TCM</text>
<line x1="93.7" y1="702.68" x2="96.2" y2="702.68" stroke="#555" stroke-width="0.8"/>
<text x="89.5" y="703.9799999999999" font-size="9.6" text-anchor="end" font-family="Liberation Sans, Arial, sans-serif" font-weight="normal" fill="#222">CD4 TEM</text>
<line x1="93.7" y1="713.3199999999999" x2="96.2" y2="713.3199999999999" stroke="#555" stroke-width="0.8"/>
<text x="89.5" y="714.6199999999999" font-size="9.6" text-anchor="end" font-family="Liberation Sans, Arial, sans-serif" font-weight="normal" fill="#222">CD8 Naive</text>
<line x1="93.7" y1="723.96" x2="96.2" y2="723.96" stroke="#555" stroke-width="0.8"/>
<text x="89.5" y="725.26" font-size="9.6" text-anchor="end" font-family="Liberation Sans, Arial, sans-serif" font-weight="normal" fill="#222">CD8 &#160; TCM</text>
<line x1="93.7" y1="734.6" x2="96.2" y2="734.6" stroke="#555" stroke-width="0.8"/>
<text x="89.5" y="735.9" font-size="9.6" text-anchor="end" font-family="Liberation Sans, Arial, sans-serif" font-weight="normal" fill="#222">CD8 TEM</text>
<line x1="93.7" y1="745.24" x2="96.2" y2="745.24" stroke="#555" stroke-width="0.8"/>
<text x="89.5" y="746.54" font-size="9.6" text-anchor="end" font-family="Liberation Sans, Arial, sans-serif" font-weight="normal" fill="#222">CD14 Mono</text>
<line x1="93.7" y1="755.88" x2="96.2" y2="755.88" stroke="#555" stroke-width="0.8"/>
<text x="89.5" y="757.18" font-size="9.6" text-anchor="end" font-family="Liberation Sans, Arial, sans-serif" font-weight="normal" fill="#222">CD16 Mono</text>
<line x1="93.7" y1="766.52" x2="96.2" y2="766.52" stroke="#555" stroke-width="0.8"/>
<text x="89.5" y="767.8199999999999" font-size="9.6" text-anchor="end" font-family="Liberation Sans, Arial, sans-serif" font-weight="normal" fill="#222">cDC2</text>
<line x1="93.7" y1="777.16" x2="96.2" y2="777.16" stroke="#555" stroke-width="0.8"/>
<text x="89.5" y="778.4599999999999" font-size="9.6" text-anchor="end" font-family="Liberation Sans, Arial, sans-serif" font-weight="normal" fill="#222">B naive</text>
<line x1="93.7" y1="787.8" x2="96.2" y2="787.8" stroke="#555" stroke-width="0.8"/>
<text x="89.5" y="789.0999999999999" font-size="9.6" text-anchor="end" font-family="Liberation Sans, Arial, sans-serif" font-weight="normal" fill="#222">B intermediate</text>
<line x1="93.7" y1="798.4399999999999" x2="96.2" y2="798.4399999999999" stroke="#555" stroke-width="0.8"/>
<text x="89.5" y="799.7399999999999" font-size="9.6" text-anchor="end" font-family="Liberation Sans, Arial, sans-serif" font-weight="normal" fill="#222">B memory</text>
<line x1="93.7" y1="809.0799999999999" x2="96.2" y2="809.0799999999999" stroke="#555" stroke-width="0.8"/>
<text x="89.5" y="810.3799999999999" font-size="9.6" text-anchor="end" font-family="Liberation Sans, Arial, sans-serif" font-weight="normal" fill="#222">gdT</text>
<line x1="93.7" y1="819.72" x2="96.2" y2="819.72" stroke="#555" stroke-width="0.8"/>
<text x="89.5" y="821.02" font-size="9.6" text-anchor="end" font-family="Liberation Sans, Arial, sans-serif" font-weight="normal" fill="#222">MAIT</text>
<line x1="93.7" y1="830.36" x2="96.2" y2="830.36" stroke="#555" stroke-width="0.8"/>
<text x="89.5" y="831.66" font-size="9.6" text-anchor="end" font-family="Liberation Sans, Arial, sans-serif" font-weight="normal" fill="#222">NK</text>
<line x1="93.7" y1="841.0" x2="96.2" y2="841.0" stroke="#555" stroke-width="0.8"/>
<text x="89.5" y="842.3" font-size="9.6" text-anchor="end" font-family="Liberation Sans, Arial, sans-serif" font-weight="normal" fill="#222">NK-CD56bright</text>
<line x1="100.0" y1="847" x2="100.0" y2="849.3" stroke="#555" stroke-width="0.8"/>
<text x="0" y="0" font-size="6.3" font-style="italic" text-anchor="end" font-family="Liberation Sans, Arial, sans-serif" fill="#333" transform="translate(102.2,861.3) rotate(-90)">GZMA</text>
<line x1="107.207" y1="847" x2="107.207" y2="849.3" stroke="#555" stroke-width="0.8"/>
<text x="0" y="0" font-size="6.3" font-style="italic" text-anchor="end" font-family="Liberation Sans, Arial, sans-serif" fill="#333" transform="translate(109.407,861.3) rotate(-90)">GZMB</text>
<line x1="114.414" y1="847" x2="114.414" y2="849.3" stroke="#555" stroke-width="0.8"/>
<text x="0" y="0" font-size="6.3" font-style="italic" text-anchor="end" font-family="Liberation Sans, Arial, sans-serif" fill="#333" transform="translate(116.614,861.3) rotate(-90)">GZMH</text>
<line x1="121.621" y1="847" x2="121.621" y2="849.3" stroke="#555" stroke-width="0.8"/>
<text x="0" y="0" font-size="6.3" font-style="italic" text-anchor="end" font-family="Liberation Sans, Arial, sans-serif" fill="#333" transform="translate(123.821,861.3) rotate(-90)">BATF3</text>
<line x1="128.828" y1="847" x2="128.828" y2="849.3" stroke="#555" stroke-width="0.8"/>
<text x="0" y="0" font-size="6.3" font-style="italic" text-anchor="end" font-family="Liberation Sans, Arial, sans-serif" fill="#333" transform="translate(131.028,861.3) rotate(-90)">BST2</text>
<line x1="136.035" y1="847" x2="136.035" y2="849.3" stroke="#555" stroke-width="0.8"/>
<text x="0" y="0" font-size="6.3" font-style="italic" text-anchor="end" font-family="Liberation Sans, Arial, sans-serif" fill="#333" transform="translate(138.23499999999999,861.3) rotate(-90)">CCL5</text>
<line x1="143.242" y1="847" x2="143.242" y2="849.3" stroke="#555" stroke-width="0.8"/>
<text x="0" y="0" font-size="6.3" font-style="italic" text-anchor="end" font-family="Liberation Sans, Arial, sans-serif" fill="#333" transform="translate(145.44199999999998,861.3) rotate(-90)">CCR7</text>
<line x1="150.449" y1="847" x2="150.449" y2="849.3" stroke="#555" stroke-width="0.8"/>
<text x="0" y="0" font-size="6.3" font-style="italic" text-anchor="end" font-family="Liberation Sans, Arial, sans-serif" fill="#333" transform="translate(152.649,861.3) rotate(-90)">CD14</text>
<line x1="157.656" y1="847" x2="157.656" y2="849.3" stroke="#555" stroke-width="0.8"/>
<text x="0" y="0" font-size="6.3" font-style="italic" text-anchor="end" font-family="Liberation Sans, Arial, sans-serif" fill="#333" transform="translate(159.856,861.3) rotate(-90)">CD1C</text>
<line x1="164.863" y1="847" x2="164.863" y2="849.3" stroke="#555" stroke-width="0.8"/>
<text x="0" y="0" font-size="6.3" font-style="italic" text-anchor="end" font-family="Liberation Sans, Arial, sans-serif" fill="#333" transform="translate(167.063,861.3) rotate(-90)">CD22</text>
<line x1="172.07" y1="847" x2="172.07" y2="849.3" stroke="#555" stroke-width="0.8"/>
<text x="0" y="0" font-size="6.3" font-style="italic" text-anchor="end" font-family="Liberation Sans, Arial, sans-serif" fill="#333" transform="translate(174.26999999999998,861.3) rotate(-90)">CD27</text>
<line x1="179.277" y1="847" x2="179.277" y2="849.3" stroke="#555" stroke-width="0.8"/>
<text x="0" y="0" font-size="6.3" font-style="italic" text-anchor="end" font-family="Liberation Sans, Arial, sans-serif" fill="#333" transform="translate(181.47699999999998,861.3) rotate(-90)">CD34</text>
<line x1="186.48399999999998" y1="847" x2="186.48399999999998" y2="849.3" stroke="#555" stroke-width="0.8"/>
<text x="0" y="0" font-size="6.3" font-style="italic" text-anchor="end" font-family="Liberation Sans, Arial, sans-serif" fill="#333" transform="translate(188.68399999999997,861.3) rotate(-90)">CD38</text>
<line x1="193.691" y1="847" x2="193.691" y2="849.3" stroke="#555" stroke-width="0.8"/>
<text x="0" y="0" font-size="6.3" font-style="italic" text-anchor="end" font-family="Liberation Sans, Arial, sans-serif" fill="#333" transform="translate(195.891,861.3) rotate(-90)">CD3D</text>
<line x1="200.898" y1="847" x2="200.898" y2="849.3" stroke="#555" stroke-width="0.8"/>
<text x="0" y="0" font-size="6.3" font-style="italic" text-anchor="end" font-family="Liberation Sans, Arial, sans-serif" fill="#333" transform="translate(203.09799999999998,861.3) rotate(-90)">CD4</text>
<line x1="208.10500000000002" y1="847" x2="208.10500000000002" y2="849.3" stroke="#555" stroke-width="0.8"/>
<text x="0" y="0" font-size="6.3" font-style="italic" text-anchor="end" font-family="Liberation Sans, Arial, sans-serif" fill="#333" transform="translate(210.305,861.3) rotate(-90)">CD79A</text>
<line x1="215.312" y1="847" x2="215.312" y2="849.3" stroke="#555" stroke-width="0.8"/>
<text x="0" y="0" font-size="6.3" font-style="italic" text-anchor="end" font-family="Liberation Sans, Arial, sans-serif" fill="#333" transform="translate(217.512,861.3) rotate(-90)">CD80</text>
<line x1="222.519" y1="847" x2="222.519" y2="849.3" stroke="#555" stroke-width="0.8"/>
<text x="0" y="0" font-size="6.3" font-style="italic" text-anchor="end" font-family="Liberation Sans, Arial, sans-serif" fill="#333" transform="translate(224.719,861.3) rotate(-90)">CD8A</text>
<line x1="229.726" y1="847" x2="229.726" y2="849.3" stroke="#555" stroke-width="0.8"/>
<text x="0" y="0" font-size="6.3" font-style="italic" text-anchor="end" font-family="Liberation Sans, Arial, sans-serif" fill="#333" transform="translate(231.926,861.3) rotate(-90)">CLEC4C</text>
<line x1="236.933" y1="847" x2="236.933" y2="849.3" stroke="#555" stroke-width="0.8"/>
<text x="0" y="0" font-size="6.3" font-style="italic" text-anchor="end" font-family="Liberation Sans, Arial, sans-serif" fill="#333" transform="translate(239.13299999999998,861.3) rotate(-90)">CTLA4</text>
<line x1="244.14" y1="847" x2="244.14" y2="849.3" stroke="#555" stroke-width="0.8"/>
<text x="0" y="0" font-size="6.3" font-style="italic" text-anchor="end" font-family="Liberation Sans, Arial, sans-serif" fill="#333" transform="translate(246.33999999999997,861.3) rotate(-90)">DPP4</text>
<line x1="251.347" y1="847" x2="251.347" y2="849.3" stroke="#555" stroke-width="0.8"/>
<text x="0" y="0" font-size="6.3" font-style="italic" text-anchor="end" font-family="Liberation Sans, Arial, sans-serif" fill="#333" transform="translate(253.547,861.3) rotate(-90)">FCGR3A</text>
<line x1="258.554" y1="847" x2="258.554" y2="849.3" stroke="#555" stroke-width="0.8"/>
<text x="0" y="0" font-size="6.3" font-style="italic" text-anchor="end" font-family="Liberation Sans, Arial, sans-serif" fill="#333" transform="translate(260.75399999999996,861.3) rotate(-90)">FOXP3</text>
<line x1="265.76099999999997" y1="847" x2="265.76099999999997" y2="849.3" stroke="#555" stroke-width="0.8"/>
<text x="0" y="0" font-size="6.3" font-style="italic" text-anchor="end" font-family="Liberation Sans, Arial, sans-serif" fill="#333" transform="translate(267.96099999999996,861.3) rotate(-90)">GNLY</text>
<line x1="272.96799999999996" y1="847" x2="272.96799999999996" y2="849.3" stroke="#555" stroke-width="0.8"/>
<text x="0" y="0" font-size="6.3" font-style="italic" text-anchor="end" font-family="Liberation Sans, Arial, sans-serif" fill="#333" transform="translate(275.16799999999995,861.3) rotate(-90)">HAVCR2</text>
<line x1="280.17499999999995" y1="847" x2="280.17499999999995" y2="849.3" stroke="#555" stroke-width="0.8"/>
<text x="0" y="0" font-size="6.3" font-style="italic" text-anchor="end" font-family="Liberation Sans, Arial, sans-serif" fill="#333" transform="translate(282.37499999999994,861.3) rotate(-90)">HBA1</text>
<line x1="287.382" y1="847" x2="287.382" y2="849.3" stroke="#555" stroke-width="0.8"/>
<text x="0" y="0" font-size="6.3" font-style="italic" text-anchor="end" font-family="Liberation Sans, Arial, sans-serif" fill="#333" transform="translate(289.582,861.3) rotate(-90)">HBA2</text>
<line x1="294.589" y1="847" x2="294.589" y2="849.3" stroke="#555" stroke-width="0.8"/>
<text x="0" y="0" font-size="6.3" font-style="italic" text-anchor="end" font-family="Liberation Sans, Arial, sans-serif" fill="#333" transform="translate(296.789,861.3) rotate(-90)">HBB</text>
<line x1="301.796" y1="847" x2="301.796" y2="849.3" stroke="#555" stroke-width="0.8"/>
<text x="0" y="0" font-size="6.3" font-style="italic" text-anchor="end" font-family="Liberation Sans, Arial, sans-serif" fill="#333" transform="translate(303.996,861.3) rotate(-90)">IL2RA</text>
<line x1="309.003" y1="847" x2="309.003" y2="849.3" stroke="#555" stroke-width="0.8"/>
<text x="0" y="0" font-size="6.3" font-style="italic" text-anchor="end" font-family="Liberation Sans, Arial, sans-serif" fill="#333" transform="translate(311.203,861.3) rotate(-90)">IL2RB</text>
<line x1="316.21000000000004" y1="847" x2="316.21000000000004" y2="849.3" stroke="#555" stroke-width="0.8"/>
<text x="0" y="0" font-size="6.3" font-style="italic" text-anchor="end" font-family="Liberation Sans, Arial, sans-serif" fill="#333" transform="translate(318.41,861.3) rotate(-90)">IL7R</text>
<line x1="323.41700000000003" y1="847" x2="323.41700000000003" y2="849.3" stroke="#555" stroke-width="0.8"/>
<text x="0" y="0" font-size="6.3" font-style="italic" text-anchor="end" font-family="Liberation Sans, Arial, sans-serif" fill="#333" transform="translate(325.617,861.3) rotate(-90)">IRF4</text>
<line x1="330.624" y1="847" x2="330.624" y2="849.3" stroke="#555" stroke-width="0.8"/>
<text x="0" y="0" font-size="6.3" font-style="italic" text-anchor="end" font-family="Liberation Sans, Arial, sans-serif" fill="#333" transform="translate(332.824,861.3) rotate(-90)">IRF8</text>
<line x1="337.831" y1="847" x2="337.831" y2="849.3" stroke="#555" stroke-width="0.8"/>
<text x="0" y="0" font-size="6.3" font-style="italic" text-anchor="end" font-family="Liberation Sans, Arial, sans-serif" fill="#333" transform="translate(340.031,861.3) rotate(-90)">ITGAE</text>
<line x1="345.038" y1="847" x2="345.038" y2="849.3" stroke="#555" stroke-width="0.8"/>
<text x="0" y="0" font-size="6.3" font-style="italic" text-anchor="end" font-family="Liberation Sans, Arial, sans-serif" fill="#333" transform="translate(347.238,861.3) rotate(-90)">ITGAM</text>
<line x1="352.245" y1="847" x2="352.245" y2="849.3" stroke="#555" stroke-width="0.8"/>
<text x="0" y="0" font-size="6.3" font-style="italic" text-anchor="end" font-family="Liberation Sans, Arial, sans-serif" fill="#333" transform="translate(354.445,861.3) rotate(-90)">ITGAX</text>
<line x1="359.452" y1="847" x2="359.452" y2="849.3" stroke="#555" stroke-width="0.8"/>
<text x="0" y="0" font-size="6.3" font-style="italic" text-anchor="end" font-family="Liberation Sans, Arial, sans-serif" fill="#333" transform="translate(361.652,861.3) rotate(-90)">KLRC1</text>
<line x1="366.659" y1="847" x2="366.659" y2="849.3" stroke="#555" stroke-width="0.8"/>
<text x="0" y="0" font-size="6.3" font-style="italic" text-anchor="end" font-family="Liberation Sans, Arial, sans-serif" fill="#333" transform="translate(368.859,861.3) rotate(-90)">KLRF1</text>
<line x1="373.866" y1="847" x2="373.866" y2="849.3" stroke="#555" stroke-width="0.8"/>
<text x="0" y="0" font-size="6.3" font-style="italic" text-anchor="end" font-family="Liberation Sans, Arial, sans-serif" fill="#333" transform="translate(376.066,861.3) rotate(-90)">LEF1</text>
<line x1="381.073" y1="847" x2="381.073" y2="849.3" stroke="#555" stroke-width="0.8"/>
<text x="0" y="0" font-size="6.3" font-style="italic" text-anchor="end" font-family="Liberation Sans, Arial, sans-serif" fill="#333" transform="translate(383.27299999999997,861.3) rotate(-90)">LILRA4</text>
<line x1="388.28" y1="847" x2="388.28" y2="849.3" stroke="#555" stroke-width="0.8"/>
<text x="0" y="0" font-size="6.3" font-style="italic" text-anchor="end" font-family="Liberation Sans, Arial, sans-serif" fill="#333" transform="translate(390.47999999999996,861.3) rotate(-90)">LYZ</text>
<line x1="395.48699999999997" y1="847" x2="395.48699999999997" y2="849.3" stroke="#555" stroke-width="0.8"/>
<text x="0" y="0" font-size="6.3" font-style="italic" text-anchor="end" font-family="Liberation Sans, Arial, sans-serif" fill="#333" transform="translate(397.68699999999995,861.3) rotate(-90)">MS4A1</text>
<line x1="402.694" y1="847" x2="402.694" y2="849.3" stroke="#555" stroke-width="0.8"/>
<text x="0" y="0" font-size="6.3" font-style="italic" text-anchor="end" font-family="Liberation Sans, Arial, sans-serif" fill="#333" transform="translate(404.894,861.3) rotate(-90)">MZB1</text>
<line x1="409.901" y1="847" x2="409.901" y2="849.3" stroke="#555" stroke-width="0.8"/>
<text x="0" y="0" font-size="6.3" font-style="italic" text-anchor="end" font-family="Liberation Sans, Arial, sans-serif" fill="#333" transform="translate(412.101,861.3) rotate(-90)">NKG7</text>
<line x1="417.108" y1="847" x2="417.108" y2="849.3" stroke="#555" stroke-width="0.8"/>
<text x="0" y="0" font-size="6.3" font-style="italic" text-anchor="end" font-family="Liberation Sans, Arial, sans-serif" fill="#333" transform="translate(419.308,861.3) rotate(-90)">PPBP</text>
<line x1="424.315" y1="847" x2="424.315" y2="849.3" stroke="#555" stroke-width="0.8"/>
<text x="0" y="0" font-size="6.3" font-style="italic" text-anchor="end" font-family="Liberation Sans, Arial, sans-serif" fill="#333" transform="translate(426.515,861.3) rotate(-90)">PRF1</text>
<line x1="431.522" y1="847" x2="431.522" y2="849.3" stroke="#555" stroke-width="0.8"/>
<text x="0" y="0" font-size="6.3" font-style="italic" text-anchor="end" font-family="Liberation Sans, Arial, sans-serif" fill="#333" transform="translate(433.722,861.3) rotate(-90)">PTCRA</text>
<line x1="438.729" y1="847" x2="438.729" y2="849.3" stroke="#555" stroke-width="0.8"/>
<text x="0" y="0" font-size="6.3" font-style="italic" text-anchor="end" font-family="Liberation Sans, Arial, sans-serif" fill="#333" transform="translate(440.929,861.3) rotate(-90)">PTPRC</text>
<line x1="445.936" y1="847" x2="445.936" y2="849.3" stroke="#555" stroke-width="0.8"/>
<text x="0" y="0" font-size="6.3" font-style="italic" text-anchor="end" font-family="Liberation Sans, Arial, sans-serif" fill="#333" transform="translate(448.13599999999997,861.3) rotate(-90)">SELL</text>
<line x1="453.143" y1="847" x2="453.143" y2="849.3" stroke="#555" stroke-width="0.8"/>
<text x="0" y="0" font-size="6.3" font-style="italic" text-anchor="end" font-family="Liberation Sans, Arial, sans-serif" fill="#333" transform="translate(455.34299999999996,861.3) rotate(-90)">SIRPA</text>
<line x1="460.34999999999997" y1="847" x2="460.34999999999997" y2="849.3" stroke="#555" stroke-width="0.8"/>
<text x="0" y="0" font-size="6.3" font-style="italic" text-anchor="end" font-family="Liberation Sans, Arial, sans-serif" fill="#333" transform="translate(462.54999999999995,861.3) rotate(-90)">SLC4A10</text>
<line x1="467.557" y1="847" x2="467.557" y2="849.3" stroke="#555" stroke-width="0.8"/>
<text x="0" y="0" font-size="6.3" font-style="italic" text-anchor="end" font-family="Liberation Sans, Arial, sans-serif" fill="#333" transform="translate(469.757,861.3) rotate(-90)">TBX21</text>
<line x1="474.764" y1="847" x2="474.764" y2="849.3" stroke="#555" stroke-width="0.8"/>
<text x="0" y="0" font-size="6.3" font-style="italic" text-anchor="end" font-family="Liberation Sans, Arial, sans-serif" fill="#333" transform="translate(476.964,861.3) rotate(-90)">TCF7</text>
<line x1="481.971" y1="847" x2="481.971" y2="849.3" stroke="#555" stroke-width="0.8"/>
<text x="0" y="0" font-size="6.3" font-style="italic" text-anchor="end" font-family="Liberation Sans, Arial, sans-serif" fill="#333" transform="translate(484.171,861.3) rotate(-90)">TNFRSF13B</text>
<line x1="489.178" y1="847" x2="489.178" y2="849.3" stroke="#555" stroke-width="0.8"/>
<text x="0" y="0" font-size="6.3" font-style="italic" text-anchor="end" font-family="Liberation Sans, Arial, sans-serif" fill="#333" transform="translate(491.378,861.3) rotate(-90)">TNFRSF13C</text>
<line x1="496.385" y1="847" x2="496.385" y2="849.3" stroke="#555" stroke-width="0.8"/>
<text x="0" y="0" font-size="6.3" font-style="italic" text-anchor="end" font-family="Liberation Sans, Arial, sans-serif" fill="#333" transform="translate(498.585,861.3) rotate(-90)">VCAN</text>
<line x1="503.592" y1="847" x2="503.592" y2="849.3" stroke="#555" stroke-width="0.8"/>
<text x="0" y="0" font-size="6.3" font-style="italic" text-anchor="end" font-family="Liberation Sans, Arial, sans-serif" fill="#333" transform="translate(505.792,861.3) rotate(-90)">XCR1</text>
<text x="308.7" y="900.2" font-size="11.3" text-anchor="middle" font-family="Liberation Sans, Arial, sans-serif" font-weight="normal" fill="#222">Features</text>
<text x="0" y="0" font-size="11.3" text-anchor="middle" font-family="Liberation Sans, Arial, sans-serif" fill="#222" transform="translate(31.6,740.8) rotate(-90)">Intensity</text>
<circle cx="100.0" cy="681.4" r="0.75" fill="#e6e4ee"/>
<circle cx="107.2" cy="681.4" r="0.75" fill="#e6e4ee"/>
<circle cx="114.4" cy="681.4" r="0.75" fill="#e6e4ee"/>
<circle cx="121.6" cy="681.4" r="0.75" fill="#e6e4ee"/>
<circle cx="128.8" cy="681.4" r="1.35" fill="#c2b8f0"/>
<circle cx="136.0" cy="681.4" r="0.75" fill="#e6e4ee"/>
<circle cx="143.2" cy="681.4" r="2.9" fill="#2a12f8"/>
<circle cx="150.4" cy="681.4" r="0.75" fill="#e6e4ee"/>
<circle cx="157.7" cy="681.4" r="0.75" fill="#e6e4ee"/>
<circle cx="164.9" cy="681.4" r="0.75" fill="#e6e4ee"/>
<circle cx="172.1" cy="681.4" r="2.1" fill="#7d62f5"/>
<circle cx="179.3" cy="681.4" r="0.75" fill="#e6e4ee"/>
<circle cx="186.5" cy="681.4" r="0.75" fill="#e6e4ee"/>
<circle cx="193.7" cy="681.4" r="2.9" fill="#ab9cf2"/>
<circle cx="200.9" cy="681.4" r="1.35" fill="#7d62f5"/>
<circle cx="208.1" cy="681.4" r="0.75" fill="#e6e4ee"/>
<circle cx="215.3" cy="681.4" r="0.75" fill="#e6e4ee"/>
<circle cx="222.5" cy="681.4" r="0.75" fill="#e6e4ee"/>
<circle cx="229.7" cy="681.4" r="0.75" fill="#e6e4ee"/>
<circle cx="236.9" cy="681.4" r="0.75" fill="#e6e4ee"/>
<circle cx="244.1" cy="681.4" r="0.75" fill="#e6e4ee"/>
<circle cx="251.3" cy="681.4" r="0.75" fill="#e6e4ee"/>
<circle cx="258.6" cy="681.4" r="0.75" fill="#e6e4ee"/>
<circle cx="265.8" cy="681.4" r="1.35" fill="#c2b8f0"/>
<circle cx="273.0" cy="681.4" r="0.75" fill="#e6e4ee"/>
<circle cx="280.2" cy="681.4" r="1.35" fill="#c2b8f0"/>
<circle cx="287.4" cy="681.4" r="1.35" fill="#c2b8f0"/>
<circle cx="294.6" cy="681.4" r="1.35" fill="#c2b8f0"/>
<circle cx="301.8" cy="681.4" r="0.75" fill="#e6e4ee"/>
<circle cx="309.0" cy="681.4" r="0.75" fill="#e6e4ee"/>
<circle cx="316.2" cy="681.4" r="2.9" fill="#ab9cf2"/>
<circle cx="323.4" cy="681.4" r="0.75" fill="#e6e4ee"/>
<circle cx="330.6" cy="681.4" r="0.75" fill="#e6e4ee"/>
<circle cx="337.8" cy="681.4" r="0.75" fill="#e6e4ee"/>
<circle cx="345.0" cy="681.4" r="0.75" fill="#e6e4ee"/>
<circle cx="352.2" cy="681.4" r="0.75" fill="#e6e4ee"/>
<circle cx="359.5" cy="681.4" r="0.75" fill="#e6e4ee"/>
<circle cx="366.7" cy="681.4" r="0.75" fill="#e6e4ee"/>
<circle cx="373.9" cy="681.4" r="2.1" fill="#2a12f8"/>
<circle cx="381.1" cy="681.4" r="0.75" fill="#e6e4ee"/>
<circle cx="388.3" cy="681.4" r="1.35" fill="#c2b8f0"/>
<circle cx="395.5" cy="681.4" r="0.75" fill="#e6e4ee"/>
<circle cx="402.7" cy="681.4" r="0.75" fill="#e6e4ee"/>
<circle cx="409.9" cy="681.4" r="1.35" fill="#c2b8f0"/>
<circle cx="417.1" cy="681.4" r="0.75" fill="#e6e4ee"/>
<circle cx="424.3" cy="681.4" r="0.75" fill="#e6e4ee"/>
<circle cx="431.5" cy="681.4" r="0.75" fill="#e6e4ee"/>
<circle cx="438.7" cy="681.4" r="2.9" fill="#ab9cf2"/>
<circle cx="445.9" cy="681.4" r="2.9" fill="#7d62f5"/>
<circle cx="453.1" cy="681.4" r="0.75" fill="#e6e4ee"/>
<circle cx="460.3" cy="681.4" r="0.75" fill="#e6e4ee"/>
<circle cx="467.6" cy="681.4" r="0.75" fill="#e6e4ee"/>
<circle cx="474.8" cy="681.4" r="2.1" fill="#2a12f8"/>
<circle cx="482.0" cy="681.4" r="0.75" fill="#e6e4ee"/>
<circle cx="489.2" cy="681.4" r="0.75" fill="#e6e4ee"/>
<circle cx="496.4" cy="681.4" r="0.75" fill="#e6e4ee"/>
<circle cx="503.6" cy="681.4" r="0.75" fill="#e6e4ee"/>
<circle cx="100.0" cy="692.0" r="0.75" fill="#e6e4ee"/>
<circle cx="107.2" cy="692.0" r="0.75" fill="#e6e4ee"/>
<circle cx="114.4" cy="692.0" r="0.75" fill="#e6e4ee"/>
<circle cx="121.6" cy="692.0" r="0.75" fill="#e6e4ee"/>
<circle cx="128.8" cy="692.0" r="1.35" fill="#c2b8f0"/>
<circle cx="136.0" cy="692.0" r="1.35" fill="#c2b8f0"/>
<circle cx="143.2" cy="692.0" r="2.1" fill="#7d62f5"/>
<circle cx="150.4" cy="692.0" r="0.75" fill="#e6e4ee"/>
<circle cx="157.7" cy="692.0" r="0.75" fill="#e6e4ee"/>
<circle cx="164.9" cy="692.0" r="0.75" fill="#e6e4ee"/>
<circle cx="172.1" cy="692.0" r="2.1" fill="#7d62f5"/>
<circle cx="179.3" cy="692.0" r="0.75" fill="#e6e4ee"/>
<circle cx="186.5" cy="692.0" r="0.75" fill="#e6e4ee"/>
<circle cx="193.7" cy="692.0" r="2.9" fill="#ab9cf2"/>
<circle cx="200.9" cy="692.0" r="1.35" fill="#7d62f5"/>
<circle cx="208.1" cy="692.0" r="0.75" fill="#e6e4ee"/>
<circle cx="215.3" cy="692.0" r="0.75" fill="#e6e4ee"/>
<circle cx="222.5" cy="692.0" r="0.75" fill="#e6e4ee"/>
<circle cx="229.7" cy="692.0" r="0.75" fill="#e6e4ee"/>
<circle cx="236.9" cy="692.0" r="1.35" fill="#c2b8f0"/>
<circle cx="244.1" cy="692.0" r="1.35" fill="#c2b8f0"/>
<circle cx="251.3" cy="692.0" r="0.75" fill="#e6e4ee"/>
<circle cx="258.6" cy="692.0" r="0.75" fill="#e6e4ee"/>
<circle cx="265.8" cy="692.0" r="1.35" fill="#c2b8f0"/>
<circle cx="273.0" cy="692.0" r="0.75" fill="#e6e4ee"/>
<circle cx="280.2" cy="692.0" r="1.35" fill="#c2b8f0"/>
<circle cx="287.4" cy="692.0" r="1.35" fill="#c2b8f0"/>
<circle cx="294.6" cy="692.0" r="1.35" fill="#c2b8f0"/>
<circle cx="301.8" cy="692.0" r="1.35" fill="#c2b8f0"/>
<circle cx="309.0" cy="692.0" r="0.75" fill="#e6e4ee"/>
<circle cx="316.2" cy="692.0" r="2.9" fill="#7d62f5"/>
<circle cx="323.4" cy="692.0" r="0.75" fill="#e6e4ee"/>
<circle cx="330.6" cy="692.0" r="0.75" fill="#e6e4ee"/>
<circle cx="337.8" cy="692.0" r="0.75" fill="#e6e4ee"/>
<circle cx="345.0" cy="692.0" r="0.75" fill="#e6e4ee"/>
<circle cx="352.2" cy="692.0" r="0.75" fill="#e6e4ee"/>
<circle cx="359.5" cy="692.0" r="0.75" fill="#e6e4ee"/>
<circle cx="366.7" cy="692.0" r="0.75" fill="#e6e4ee"/>
<circle cx="373.9" cy="692.0" r="1.35" fill="#7d62f5"/>
<circle cx="381.1" cy="692.0" r="0.75" fill="#e6e4ee"/>
<circle cx="388.3" cy="692.0" r="1.35" fill="#c2b8f0"/>
<circle cx="395.5" cy="692.0" r="0.75" fill="#e6e4ee"/>
<circle cx="402.7" cy="692.0" r="0.75" fill="#e6e4ee"/>
<circle cx="409.9" cy="692.0" r="0.75" fill="#e6e4ee"/>
<circle cx="417.1" cy="692.0" r="0.75" fill="#e6e4ee"/>
<circle cx="424.3" cy="692.0" r="0.75" fill="#e6e4ee"/>
<circle cx="431.5" cy="692.0" r="0.75" fill="#e6e4ee"/>
<circle cx="438.7" cy="692.0" r="2.9" fill="#ab9cf2"/>
<circle cx="445.9" cy="692.0" r="2.1" fill="#7d62f5"/>
<circle cx="453.1" cy="692.0" r="0.75" fill="#e6e4ee"/>
<circle cx="460.3" cy="692.0" r="0.75" fill="#e6e4ee"/>
<circle cx="467.6" cy="692.0" r="0.75" fill="#e6e4ee"/>
<circle cx="474.8" cy="692.0" r="2.1" fill="#7d62f5"/>
<circle cx="482.0" cy="692.0" r="0.75" fill="#e6e4ee"/>
<circle cx="489.2" cy="692.0" r="0.75" fill="#e6e4ee"/>
<circle cx="496.4" cy="692.0" r="0.75" fill="#e6e4ee"/>
<circle cx="503.6" cy="692.0" r="0.75" fill="#e6e4ee"/>
<circle cx="100.0" cy="702.7" r="2.1" fill="#7d62f5"/>
<circle cx="107.2" cy="702.7" r="0.75" fill="#e6e4ee"/>
<circle cx="114.4" cy="702.7" r="0.75" fill="#e6e4ee"/>
<circle cx="121.6" cy="702.7" r="0.75" fill="#e6e4ee"/>
<circle cx="128.8" cy="702.7" r="1.35" fill="#c2b8f0"/>
<circle cx="136.0" cy="702.7" r="2.9" fill="#ab9cf2"/>
<circle cx="143.2" cy="702.7" r="0.75" fill="#e6e4ee"/>
<circle cx="150.4" cy="702.7" r="0.75" fill="#e6e4ee"/>
<circle cx="157.7" cy="702.7" r="0.75" fill="#e6e4ee"/>
<circle cx="164.9" cy="702.7" r="0.75" fill="#e6e4ee"/>
<circle cx="172.1" cy="702.7" r="0.75" fill="#e6e4ee"/>
<circle cx="179.3" cy="702.7" r="0.75" fill="#e6e4ee"/>
<circle cx="186.5" cy="702.7" r="0.75" fill="#e6e4ee"/>
<circle cx="193.7" cy="702.7" r="2.1" fill="#ab9cf2"/>
<circle cx="200.9" cy="702.7" r="1.35" fill="#c2b8f0"/>
<circle cx="208.1" cy="702.7" r="0.75" fill="#e6e4ee"/>
<circle cx="215.3" cy="702.7" r="0.75" fill="#e6e4ee"/>
<circle cx="222.5" cy="702.7" r="0.75" fill="#e6e4ee"/>
<circle cx="229.7" cy="702.7" r="0.75" fill="#e6e4ee"/>
<circle cx="236.9" cy="702.7" r="0.75" fill="#e6e4ee"/>
<circle cx="244.1" cy="702.7" r="1.35" fill="#2a12f8"/>
<circle cx="251.3" cy="702.7" r="0.75" fill="#e6e4ee"/>
<circle cx="258.6" cy="702.7" r="0.75" fill="#e6e4ee"/>
<circle cx="265.8" cy="702.7" r="1.35" fill="#7d62f5"/>
<circle cx="273.0" cy="702.7" r="0.75" fill="#e6e4ee"/>
<circle cx="280.2" cy="702.7" r="1.35" fill="#c2b8f0"/>
<circle cx="287.4" cy="702.7" r="1.35" fill="#c2b8f0"/>
<circle cx="294.6" cy="702.7" r="1.35" fill="#c2b8f0"/>
<circle cx="301.8" cy="702.7" r="0.75" fill="#e6e4ee"/>
<circle cx="309.0" cy="702.7" r="0.75" fill="#e6e4ee"/>
<circle cx="316.2" cy="702.7" r="2.9" fill="#7d62f5"/>
<circle cx="323.4" cy="702.7" r="0.75" fill="#e6e4ee"/>
<circle cx="330.6" cy="702.7" r="0.75" fill="#e6e4ee"/>
<circle cx="337.8" cy="702.7" r="0.75" fill="#e6e4ee"/>
<circle cx="345.0" cy="702.7" r="0.75" fill="#e6e4ee"/>
<circle cx="352.2" cy="702.7" r="0.75" fill="#e6e4ee"/>
<circle cx="359.5" cy="702.7" r="0.75" fill="#e6e4ee"/>
<circle cx="366.7" cy="702.7" r="0.75" fill="#e6e4ee"/>
<circle cx="373.9" cy="702.7" r="0.75" fill="#e6e4ee"/>
<circle cx="381.1" cy="702.7" r="0.75" fill="#e6e4ee"/>
<circle cx="388.3" cy="702.7" r="1.35" fill="#7d62f5"/>
<circle cx="395.5" cy="702.7" r="0.75" fill="#e6e4ee"/>
<circle cx="402.7" cy="702.7" r="0.75" fill="#e6e4ee"/>
<circle cx="409.9" cy="702.7" r="2.1" fill="#ab9cf2"/>
<circle cx="417.1" cy="702.7" r="0.75" fill="#e6e4ee"/>
<circle cx="424.3" cy="702.7" r="0.75" fill="#e6e4ee"/>
<circle cx="431.5" cy="702.7" r="0.75" fill="#e6e4ee"/>
<circle cx="438.7" cy="702.7" r="2.9" fill="#ab9cf2"/>
<circle cx="445.9" cy="702.7" r="1.35" fill="#c2b8f0"/>
<circle cx="453.1" cy="702.7" r="0.75" fill="#e6e4ee"/>
<circle cx="460.3" cy="702.7" r="0.75" fill="#e6e4ee"/>
<circle cx="467.6" cy="702.7" r="0.75" fill="#e6e4ee"/>
<circle cx="474.8" cy="702.7" r="1.35" fill="#7d62f5"/>
<circle cx="482.0" cy="702.7" r="0.75" fill="#e6e4ee"/>
<circle cx="489.2" cy="702.7" r="0.75" fill="#e6e4ee"/>
<circle cx="496.4" cy="702.7" r="0.75" fill="#e6e4ee"/>
<circle cx="503.6" cy="702.7" r="0.75" fill="#e6e4ee"/>
<circle cx="100.0" cy="713.3" r="0.75" fill="#e6e4ee"/>
<circle cx="107.2" cy="713.3" r="0.75" fill="#e6e4ee"/>
<circle cx="114.4" cy="713.3" r="0.75" fill="#e6e4ee"/>
<circle cx="121.6" cy="713.3" r="0.75" fill="#e6e4ee"/>
<circle cx="128.8" cy="713.3" r="1.35" fill="#c2b8f0"/>
<circle cx="136.0" cy="713.3" r="0.75" fill="#e6e4ee"/>
<circle cx="143.2" cy="713.3" r="2.9" fill="#2a12f8"/>
<circle cx="150.4" cy="713.3" r="0.75" fill="#e6e4ee"/>
<circle cx="157.7" cy="713.3" r="0.75" fill="#e6e4ee"/>
<circle cx="164.9" cy="713.3" r="0.75" fill="#e6e4ee"/>
<circle cx="172.1" cy="713.3" r="2.1" fill="#2a12f8"/>
<circle cx="179.3" cy="713.3" r="0.75" fill="#e6e4ee"/>
<circle cx="186.5" cy="713.3" r="0.75" fill="#e6e4ee"/>
<circle cx="193.7" cy="713.3" r="2.9" fill="#ab9cf2"/>
<circle cx="200.9" cy="713.3" r="0.75" fill="#e6e4ee"/>
<circle cx="208.1" cy="713.3" r="0.75" fill="#e6e4ee"/>
<circle cx="215.3" cy="713.3" r="0.75" fill="#e6e4ee"/>
<circle cx="222.5" cy="713.3" r="2.9" fill="#7d62f5"/>
<circle cx="229.7" cy="713.3" r="0.75" fill="#e6e4ee"/>
<circle cx="236.9" cy="713.3" r="0.75" fill="#e6e4ee"/>
<circle cx="244.1" cy="713.3" r="0.75" fill="#e6e4ee"/>
<circle cx="251.3" cy="713.3" r="0.75" fill="#e6e4ee"/>
<circle cx="258.6" cy="713.3" r="0.75" fill="#e6e4ee"/>
<circle cx="265.8" cy="713.3" r="0.75" fill="#e6e4ee"/>
<circle cx="273.0" cy="713.3" r="0.75" fill="#e6e4ee"/>
<circle cx="280.2" cy="713.3" r="0.75" fill="#e6e4ee"/>
<circle cx="287.4" cy="713.3" r="0.75" fill="#e6e4ee"/>
<circle cx="294.6" cy="713.3" r="0.75" fill="#e6e4ee"/>
<circle cx="301.8" cy="713.3" r="0.75" fill="#e6e4ee"/>
<circle cx="309.0" cy="713.3" r="0.75" fill="#e6e4ee"/>
<circle cx="316.2" cy="713.3" r="2.9" fill="#ab9cf2"/>
<circle cx="323.4" cy="713.3" r="0.75" fill="#e6e4ee"/>
<circle cx="330.6" cy="713.3" r="0.75" fill="#e6e4ee"/>
<circle cx="337.8" cy="713.3" r="0.75" fill="#e6e4ee"/>
<circle cx="345.0" cy="713.3" r="0.75" fill="#e6e4ee"/>
<circle cx="352.2" cy="713.3" r="0.75" fill="#e6e4ee"/>
<circle cx="359.5" cy="713.3" r="0.75" fill="#e6e4ee"/>
<circle cx="366.7" cy="713.3" r="0.75" fill="#e6e4ee"/>
<circle cx="373.9" cy="713.3" r="2.1" fill="#2a12f8"/>
<circle cx="381.1" cy="713.3" r="0.75" fill="#e6e4ee"/>
<circle cx="388.3" cy="713.3" r="0.75" fill="#e6e4ee"/>
<circle cx="395.5" cy="713.3" r="0.75" fill="#e6e4ee"/>
<circle cx="402.7" cy="713.3" r="0.75" fill="#e6e4ee"/>
<circle cx="409.9" cy="713.3" r="0.75" fill="#e6e4ee"/>
<circle cx="417.1" cy="713.3" r="0.75" fill="#e6e4ee"/>
<circle cx="424.3" cy="713.3" r="0.75" fill="#e6e4ee"/>
<circle cx="431.5" cy="713.3" r="0.75" fill="#e6e4ee"/>
<circle cx="438.7" cy="713.3" r="2.9" fill="#ab9cf2"/>
<circle cx="445.9" cy="713.3" r="2.9" fill="#7d62f5"/>
<circle cx="453.1" cy="713.3" r="0.75" fill="#e6e4ee"/>
<circle cx="460.3" cy="713.3" r="0.75" fill="#e6e4ee"/>
<circle cx="467.6" cy="713.3" r="0.75" fill="#e6e4ee"/>
<circle cx="474.8" cy="713.3" r="2.9" fill="#2a12f8"/>
<circle cx="482.0" cy="713.3" r="0.75" fill="#e6e4ee"/>
<circle cx="489.2" cy="713.3" r="0.75" fill="#e6e4ee"/>
<circle cx="496.4" cy="713.3" r="0.75" fill="#e6e4ee"/>
<circle cx="503.6" cy="713.3" r="0.75" fill="#e6e4ee"/>
<circle cx="100.0" cy="724.0" r="0.75" fill="#e6e4ee"/>
<circle cx="107.2" cy="724.0" r="0.75" fill="#e6e4ee"/>
<circle cx="114.4" cy="724.0" r="0.75" fill="#e6e4ee"/>
<circle cx="121.6" cy="724.0" r="0.75" fill="#e6e4ee"/>
<circle cx="128.8" cy="724.0" r="1.35" fill="#c2b8f0"/>
<circle cx="136.0" cy="724.0" r="2.1" fill="#7d62f5"/>
<circle cx="143.2" cy="724.0" r="1.35" fill="#7d62f5"/>
<circle cx="150.4" cy="724.0" r="0.75" fill="#e6e4ee"/>
<circle cx="157.7" cy="724.0" r="0.75" fill="#e6e4ee"/>
<circle cx="164.9" cy="724.0" r="0.75" fill="#e6e4ee"/>
<circle cx="172.1" cy="724.0" r="2.1" fill="#2a12f8"/>
<circle cx="179.3" cy="724.0" r="0.75" fill="#e6e4ee"/>
<circle cx="186.5" cy="724.0" r="0.75" fill="#e6e4ee"/>
<circle cx="193.7" cy="724.0" r="2.9" fill="#ab9cf2"/>
<circle cx="200.9" cy="724.0" r="0.75" fill="#e6e4ee"/>
<circle cx="208.1" cy="724.0" r="0.75" fill="#e6e4ee"/>
<circle cx="215.3" cy="724.0" r="0.75" fill="#e6e4ee"/>
<circle cx="222.5" cy="724.0" r="2.9" fill="#2a12f8"/>
<circle cx="229.7" cy="724.0" r="0.75" fill="#e6e4ee"/>
<circle cx="236.9" cy="724.0" r="0.75" fill="#e6e4ee"/>
<circle cx="244.1" cy="724.0" r="0.75" fill="#e6e4ee"/>
<circle cx="251.3" cy="724.0" r="0.75" fill="#e6e4ee"/>
<circle cx="258.6" cy="724.0" r="0.75" fill="#e6e4ee"/>
<circle cx="265.8" cy="724.0" r="0.75" fill="#e6e4ee"/>
<circle cx="273.0" cy="724.0" r="0.75" fill="#e6e4ee"/>
<circle cx="280.2" cy="724.0" r="1.35" fill="#c2b8f0"/>
<circle cx="287.4" cy="724.0" r="1.35" fill="#c2b8f0"/>
<circle cx="294.6" cy="724.0" r="1.35" fill="#c2b8f0"/>
<circle cx="301.8" cy="724.0" r="1.35" fill="#c2b8f0"/>
<circle cx="309.0" cy="724.0" r="0.75" fill="#e6e4ee"/>
<circle cx="316.2" cy="724.0" r="2.9" fill="#7d62f5"/>
<circle cx="323.4" cy="724.0" r="0.75" fill="#e6e4ee"/>
<circle cx="330.6" cy="724.0" r="0.75" fill="#e6e4ee"/>
<circle cx="337.8" cy="724.0" r="1.35" fill="#c2b8f0"/>
<circle cx="345.0" cy="724.0" r="0.75" fill="#e6e4ee"/>
<circle cx="352.2" cy="724.0" r="0.75" fill="#e6e4ee"/>
<circle cx="359.5" cy="724.0" r="0.75" fill="#e6e4ee"/>
<circle cx="366.7" cy="724.0" r="0.75" fill="#e6e4ee"/>
<circle cx="373.9" cy="724.0" r="1.35" fill="#7d62f5"/>
<circle cx="381.1" cy="724.0" r="0.75" fill="#e6e4ee"/>
<circle cx="388.3" cy="724.0" r="0.75" fill="#e6e4ee"/>
<circle cx="395.5" cy="724.0" r="0.75" fill="#e6e4ee"/>
<circle cx="402.7" cy="724.0" r="0.75" fill="#e6e4ee"/>
<circle cx="409.9" cy="724.0" r="1.35" fill="#c2b8f0"/>
<circle cx="417.1" cy="724.0" r="0.75" fill="#e6e4ee"/>
<circle cx="424.3" cy="724.0" r="0.75" fill="#e6e4ee"/>
<circle cx="431.5" cy="724.0" r="0.75" fill="#e6e4ee"/>
<circle cx="438.7" cy="724.0" r="2.9" fill="#ab9cf2"/>
<circle cx="445.9" cy="724.0" r="2.1" fill="#7d62f5"/>
<circle cx="453.1" cy="724.0" r="0.75" fill="#e6e4ee"/>
<circle cx="460.3" cy="724.0" r="0.75" fill="#e6e4ee"/>
<circle cx="467.6" cy="724.0" r="0.75" fill="#e6e4ee"/>
<circle cx="474.8" cy="724.0" r="2.1" fill="#7d62f5"/>
<circle cx="482.0" cy="724.0" r="0.75" fill="#e6e4ee"/>
<circle cx="489.2" cy="724.0" r="0.75" fill="#e6e4ee"/>
<circle cx="496.4" cy="724.0" r="0.75" fill="#e6e4ee"/>
<circle cx="503.6" cy="724.0" r="0.75" fill="#e6e4ee"/>
<circle cx="100.0" cy="734.6" r="2.9" fill="#7d62f5"/>
<circle cx="107.2" cy="734.6" r="2.1" fill="#7d62f5"/>
<circle cx="114.4" cy="734.6" r="2.9" fill="#2a12f8"/>
<circle cx="121.6" cy="734.6" r="0.75" fill="#e6e4ee"/>
<circle cx="128.8" cy="734.6" r="1.35" fill="#c2b8f0"/>
<circle cx="136.0" cy="734.6" r="3.6" fill="#7d62f5"/>
<circle cx="143.2" cy="734.6" r="0.75" fill="#e6e4ee"/>
<circle cx="150.4" cy="734.6" r="0.75" fill="#e6e4ee"/>
<circle cx="157.7" cy="734.6" r="0.75" fill="#e6e4ee"/>
<circle cx="164.9" cy="734.6" r="0.75" fill="#e6e4ee"/>
<circle cx="172.1" cy="734.6" r="1.35" fill="#c2b8f0"/>
<circle cx="179.3" cy="734.6" r="0.75" fill="#e6e4ee"/>
<circle cx="186.5" cy="734.6" r="0.75" fill="#e6e4ee"/>
<circle cx="193.7" cy="734.6" r="2.9" fill="#ab9cf2"/>
<circle cx="200.9" cy="734.6" r="0.75" fill="#e6e4ee"/>
<circle cx="208.1" cy="734.6" r="0.75" fill="#e6e4ee"/>
<circle cx="215.3" cy="734.6" r="0.75" fill="#e6e4ee"/>
<circle cx="222.5" cy="734.6" r="2.1" fill="#2a12f8"/>
<circle cx="229.7" cy="734.6" r="0.75" fill="#e6e4ee"/>
<circle cx="236.9" cy="734.6" r="0.75" fill="#e6e4ee"/>
<circle cx="244.1" cy="734.6" r="0.75" fill="#e6e4ee"/>
<circle cx="251.3" cy="734.6" r="1.35" fill="#7d62f5"/>
<circle cx="258.6" cy="734.6" r="0.75" fill="#e6e4ee"/>
<circle cx="265.8" cy="734.6" r="2.1" fill="#ab9cf2"/>
<circle cx="273.0" cy="734.6" r="1.35" fill="#c2b8f0"/>
<circle cx="280.2" cy="734.6" r="1.35" fill="#c2b8f0"/>
<circle cx="287.4" cy="734.6" r="1.35" fill="#c2b8f0"/>
<circle cx="294.6" cy="734.6" r="1.35" fill="#c2b8f0"/>
<circle cx="301.8" cy="734.6" r="0.75" fill="#e6e4ee"/>
<circle cx="309.0" cy="734.6" r="1.35" fill="#7d62f5"/>
<circle cx="316.2" cy="734.6" r="2.1" fill="#ab9cf2"/>
<circle cx="323.4" cy="734.6" r="0.75" fill="#e6e4ee"/>
<circle cx="330.6" cy="734.6" r="0.75" fill="#e6e4ee"/>
<circle cx="337.8" cy="734.6" r="0.75" fill="#e6e4ee"/>
<circle cx="345.0" cy="734.6" r="1.35" fill="#c2b8f0"/>
<circle cx="352.2" cy="734.6" r="0.75" fill="#e6e4ee"/>
<circle cx="359.5" cy="734.6" r="0.75" fill="#e6e4ee"/>
<circle cx="366.7" cy="734.6" r="1.35" fill="#c2b8f0"/>
<circle cx="373.9" cy="734.6" r="0.75" fill="#e6e4ee"/>
<circle cx="381.1" cy="734.6" r="0.75" fill="#e6e4ee"/>
<circle cx="388.3" cy="734.6" r="0.75" fill="#e6e4ee"/>
<circle cx="395.5" cy="734.6" r="0.75" fill="#e6e4ee"/>
<circle cx="402.7" cy="734.6" r="0.75" fill="#e6e4ee"/>
<circle cx="409.9" cy="734.6" r="2.9" fill="#7d62f5"/>
<circle cx="417.1" cy="734.6" r="0.75" fill="#e6e4ee"/>
<circle cx="424.3" cy="734.6" r="2.1" fill="#7d62f5"/>
<circle cx="431.5" cy="734.6" r="0.75" fill="#e6e4ee"/>
<circle cx="438.7" cy="734.6" r="2.9" fill="#7d62f5"/>
<circle cx="445.9" cy="734.6" r="1.35" fill="#c2b8f0"/>
<circle cx="453.1" cy="734.6" r="0.75" fill="#e6e4ee"/>
<circle cx="460.3" cy="734.6" r="0.75" fill="#e6e4ee"/>
<circle cx="467.6" cy="734.6" r="1.35" fill="#c2b8f0"/>
<circle cx="474.8" cy="734.6" r="0.75" fill="#e6e4ee"/>
<circle cx="482.0" cy="734.6" r="0.75" fill="#e6e4ee"/>
<circle cx="489.2" cy="734.6" r="0.75" fill="#e6e4ee"/>
<circle cx="496.4" cy="734.6" r="0.75" fill="#e6e4ee"/>
<circle cx="503.6" cy="734.6" r="0.75" fill="#e6e4ee"/>
<circle cx="100.0" cy="745.2" r="0.75" fill="#e6e4ee"/>
<circle cx="107.2" cy="745.2" r="0.75" fill="#e6e4ee"/>
<circle cx="114.4" cy="745.2" r="0.75" fill="#e6e4ee"/>
<circle cx="121.6" cy="745.2" r="0.75" fill="#e6e4ee"/>
<circle cx="128.8" cy="745.2" r="2.1" fill="#7d62f5"/>
<circle cx="136.0" cy="745.2" r="0.75" fill="#e6e4ee"/>
<circle cx="143.2" cy="745.2" r="0.75" fill="#e6e4ee"/>
<circle cx="150.4" cy="745.2" r="2.9" fill="#2a12f8"/>
<circle cx="157.7" cy="745.2" r="0.75" fill="#e6e4ee"/>
<circle cx="164.9" cy="745.2" r="0.75" fill="#e6e4ee"/>
<circle cx="172.1" cy="745.2" r="0.75" fill="#e6e4ee"/>
<circle cx="179.3" cy="745.2" r="0.75" fill="#e6e4ee"/>
<circle cx="186.5" cy="745.2" r="0.75" fill="#e6e4ee"/>
<circle cx="193.7" cy="745.2" r="0.75" fill="#e6e4ee"/>
<circle cx="200.9" cy="745.2" r="2.1" fill="#2a12f8"/>
<circle cx="208.1" cy="745.2" r="0.75" fill="#e6e4ee"/>
<circle cx="215.3" cy="745.2" r="0.75" fill="#e6e4ee"/>
<circle cx="222.5" cy="745.2" r="0.75" fill="#e6e4ee"/>
<circle cx="229.7" cy="745.2" r="0.75" fill="#e6e4ee"/>
<circle cx="236.9" cy="745.2" r="0.75" fill="#e6e4ee"/>
<circle cx="244.1" cy="745.2" r="0.75" fill="#e6e4ee"/>
<circle cx="251.3" cy="745.2" r="0.75" fill="#e6e4ee"/>
<circle cx="258.6" cy="745.2" r="0.75" fill="#e6e4ee"/>
<circle cx="265.8" cy="745.2" r="0.75" fill="#e6e4ee"/>
<circle cx="273.0" cy="745.2" r="1.35" fill="#c2b8f0"/>
<circle cx="280.2" cy="745.2" r="1.35" fill="#c2b8f0"/>
<circle cx="287.4" cy="745.2" r="1.35" fill="#c2b8f0"/>
<circle cx="294.6" cy="745.2" r="1.35" fill="#c2b8f0"/>
<circle cx="301.8" cy="745.2" r="0.75" fill="#e6e4ee"/>
<circle cx="309.0" cy="745.2" r="0.75" fill="#e6e4ee"/>
<circle cx="316.2" cy="745.2" r="0.75" fill="#e6e4ee"/>
<circle cx="323.4" cy="745.2" r="0.75" fill="#e6e4ee"/>
<circle cx="330.6" cy="745.2" r="1.35" fill="#c2b8f0"/>
<circle cx="337.8" cy="745.2" r="1.35" fill="#c2b8f0"/>
<circle cx="345.0" cy="745.2" r="1.35" fill="#c2b8f0"/>
<circle cx="352.2" cy="745.2" r="1.35" fill="#c2b8f0"/>
<circle cx="359.5" cy="745.2" r="0.75" fill="#e6e4ee"/>
<circle cx="366.7" cy="745.2" r="0.75" fill="#e6e4ee"/>
<circle cx="373.9" cy="745.2" r="0.75" fill="#e6e4ee"/>
<circle cx="381.1" cy="745.2" r="0.75" fill="#e6e4ee"/>
<circle cx="388.3" cy="745.2" r="2.9" fill="#2a12f8"/>
<circle cx="395.5" cy="745.2" r="0.75" fill="#e6e4ee"/>
<circle cx="402.7" cy="745.2" r="0.75" fill="#e6e4ee"/>
<circle cx="409.9" cy="745.2" r="0.75" fill="#e6e4ee"/>
<circle cx="417.1" cy="745.2" r="1.35" fill="#2a12f8"/>
<circle cx="424.3" cy="745.2" r="0.75" fill="#e6e4ee"/>
<circle cx="431.5" cy="745.2" r="0.75" fill="#e6e4ee"/>
<circle cx="438.7" cy="745.2" r="2.9" fill="#c9c3e3"/>
<circle cx="445.9" cy="745.2" r="1.35" fill="#c2b8f0"/>
<circle cx="453.1" cy="745.2" r="1.35" fill="#2a12f8"/>
<circle cx="460.3" cy="745.2" r="0.75" fill="#e6e4ee"/>
<circle cx="467.6" cy="745.2" r="0.75" fill="#e6e4ee"/>
<circle cx="474.8" cy="745.2" r="0.75" fill="#e6e4ee"/>
<circle cx="482.0" cy="745.2" r="0.75" fill="#e6e4ee"/>
<circle cx="489.2" cy="745.2" r="0.75" fill="#e6e4ee"/>
<circle cx="496.4" cy="745.2" r="2.9" fill="#2a12f8"/>
<circle cx="503.6" cy="745.2" r="0.75" fill="#e6e4ee"/>
<circle cx="100.0" cy="755.9" r="0.75" fill="#e6e4ee"/>
<circle cx="107.2" cy="755.9" r="0.75" fill="#e6e4ee"/>
<circle cx="114.4" cy="755.9" r="0.75" fill="#e6e4ee"/>
<circle cx="121.6" cy="755.9" r="1.35" fill="#2a12f8"/>
<circle cx="128.8" cy="755.9" r="2.1" fill="#2a12f8"/>
<circle cx="136.0" cy="755.9" r="0.75" fill="#e6e4ee"/>
<circle cx="143.2" cy="755.9" r="0.75" fill="#e6e4ee"/>
<circle cx="150.4" cy="755.9" r="1.35" fill="#c2b8f0"/>
<circle cx="157.7" cy="755.9" r="0.75" fill="#e6e4ee"/>
<circle cx="164.9" cy="755.9" r="0.75" fill="#e6e4ee"/>
<circle cx="172.1" cy="755.9" r="0.75" fill="#e6e4ee"/>
<circle cx="179.3" cy="755.9" r="0.75" fill="#e6e4ee"/>
<circle cx="186.5" cy="755.9" r="0.75" fill="#e6e4ee"/>
<circle cx="193.7" cy="755.9" r="0.75" fill="#e6e4ee"/>
<circle cx="200.9" cy="755.9" r="2.9" fill="#2a12f8"/>
<circle cx="208.1" cy="755.9" r="0.75" fill="#e6e4ee"/>
<circle cx="215.3" cy="755.9" r="0.75" fill="#e6e4ee"/>
<circle cx="222.5" cy="755.9" r="0.75" fill="#e6e4ee"/>
<circle cx="229.7" cy="755.9" r="0.75" fill="#e6e4ee"/>
<circle cx="236.9" cy="755.9" r="0.75" fill="#e6e4ee"/>
<circle cx="244.1" cy="755.9" r="0.75" fill="#e6e4ee"/>
<circle cx="251.3" cy="755.9" r="2.9" fill="#2a12f8"/>
<circle cx="258.6" cy="755.9" r="0.75" fill="#e6e4ee"/>
<circle cx="265.8" cy="755.9" r="0.75" fill="#e6e4ee"/>
<circle cx="273.0" cy="755.9" r="1.35" fill="#c2b8f0"/>
<circle cx="280.2" cy="755.9" r="0.75" fill="#e6e4ee"/>
<circle cx="287.4" cy="755.9" r="1.35" fill="#c2b8f0"/>
<circle cx="294.6" cy="755.9" r="1.35" fill="#c2b8f0"/>
<circle cx="301.8" cy="755.9" r="0.75" fill="#e6e4ee"/>
<circle cx="309.0" cy="755.9" r="0.75" fill="#e6e4ee"/>
<circle cx="316.2" cy="755.9" r="0.75" fill="#e6e4ee"/>
<circle cx="323.4" cy="755.9" r="0.75" fill="#e6e4ee"/>
<circle cx="330.6" cy="755.9" r="1.35" fill="#c2b8f0"/>
<circle cx="337.8" cy="755.9" r="0.75" fill="#e6e4ee"/>
<circle cx="345.0" cy="755.9" r="0.75" fill="#e6e4ee"/>
<circle cx="352.2" cy="755.9" r="2.1" fill="#2a12f8"/>
<circle cx="359.5" cy="755.9" r="0.75" fill="#e6e4ee"/>
<circle cx="366.7" cy="755.9" r="0.75" fill="#e6e4ee"/>
<circle cx="373.9" cy="755.9" r="0.75" fill="#e6e4ee"/>
<circle cx="381.1" cy="755.9" r="0.75" fill="#e6e4ee"/>
<circle cx="388.3" cy="755.9" r="2.1" fill="#ab9cf2"/>
<circle cx="395.5" cy="755.9" r="0.75" fill="#e6e4ee"/>
<circle cx="402.7" cy="755.9" r="0.75" fill="#e6e4ee"/>
<circle cx="409.9" cy="755.9" r="0.75" fill="#e6e4ee"/>
<circle cx="417.1" cy="755.9" r="0.75" fill="#e6e4ee"/>
<circle cx="424.3" cy="755.9" r="0.75" fill="#e6e4ee"/>
<circle cx="431.5" cy="755.9" r="0.75" fill="#e6e4ee"/>
<circle cx="438.7" cy="755.9" r="2.9" fill="#7d62f5"/>
<circle cx="445.9" cy="755.9" r="0.75" fill="#e6e4ee"/>
<circle cx="453.1" cy="755.9" r="0.75" fill="#e6e4ee"/>
<circle cx="460.3" cy="755.9" r="0.75" fill="#e6e4ee"/>
<circle cx="467.6" cy="755.9" r="0.75" fill="#e6e4ee"/>
<circle cx="474.8" cy="755.9" r="0.75" fill="#e6e4ee"/>
<circle cx="482.0" cy="755.9" r="0.75" fill="#e6e4ee"/>
<circle cx="489.2" cy="755.9" r="0.75" fill="#e6e4ee"/>
<circle cx="496.4" cy="755.9" r="1.35" fill="#c2b8f0"/>
<circle cx="503.6" cy="755.9" r="0.75" fill="#e6e4ee"/>
<circle cx="100.0" cy="766.5" r="0.75" fill="#e6e4ee"/>
<circle cx="107.2" cy="766.5" r="0.75" fill="#e6e4ee"/>
<circle cx="114.4" cy="766.5" r="0.75" fill="#e6e4ee"/>
<circle cx="121.6" cy="766.5" r="1.35" fill="#2a12f8"/>
<circle cx="128.8" cy="766.5" r="2.1" fill="#7d62f5"/>
<circle cx="136.0" cy="766.5" r="0.75" fill="#e6e4ee"/>
<circle cx="143.2" cy="766.5" r="0.75" fill="#e6e4ee"/>
<circle cx="150.4" cy="766.5" r="1.35" fill="#c2b8f0"/>
<circle cx="157.7" cy="766.5" r="2.9" fill="#2a12f8"/>
<circle cx="164.9" cy="766.5" r="0.75" fill="#e6e4ee"/>
<circle cx="172.1" cy="766.5" r="0.75" fill="#e6e4ee"/>
<circle cx="179.3" cy="766.5" r="0.75" fill="#e6e4ee"/>
<circle cx="186.5" cy="766.5" r="0.75" fill="#e6e4ee"/>
<circle cx="193.7" cy="766.5" r="0.75" fill="#e6e4ee"/>
<circle cx="200.9" cy="766.5" r="2.1" fill="#2a12f8"/>
<circle cx="208.1" cy="766.5" r="0.75" fill="#e6e4ee"/>
<circle cx="215.3" cy="766.5" r="0.75" fill="#e6e4ee"/>
<circle cx="222.5" cy="766.5" r="0.75" fill="#e6e4ee"/>
<circle cx="229.7" cy="766.5" r="0.75" fill="#e6e4ee"/>
<circle cx="236.9" cy="766.5" r="0.75" fill="#e6e4ee"/>
<circle cx="244.1" cy="766.5" r="0.75" fill="#e6e4ee"/>
<circle cx="251.3" cy="766.5" r="0.75" fill="#e6e4ee"/>
<circle cx="258.6" cy="766.5" r="0.75" fill="#e6e4ee"/>
<circle cx="265.8" cy="766.5" r="0.75" fill="#e6e4ee"/>
<circle cx="273.0" cy="766.5" r="1.35" fill="#2a12f8"/>
<circle cx="280.2" cy="766.5" r="1.35" fill="#c2b8f0"/>
<circle cx="287.4" cy="766.5" r="1.35" fill="#c2b8f0"/>
<circle cx="294.6" cy="766.5" r="1.35" fill="#c2b8f0"/>
<circle cx="301.8" cy="766.5" r="0.75" fill="#e6e4ee"/>
<circle cx="309.0" cy="766.5" r="0.75" fill="#e6e4ee"/>
<circle cx="316.2" cy="766.5" r="0.75" fill="#e6e4ee"/>
<circle cx="323.4" cy="766.5" r="1.35" fill="#2a12f8"/>
<circle cx="330.6" cy="766.5" r="1.35" fill="#c2b8f0"/>
<circle cx="337.8" cy="766.5" r="1.35" fill="#c2b8f0"/>
<circle cx="345.0" cy="766.5" r="0.75" fill="#e6e4ee"/>
<circle cx="352.2" cy="766.5" r="2.1" fill="#7d62f5"/>
<circle cx="359.5" cy="766.5" r="0.75" fill="#e6e4ee"/>
<circle cx="366.7" cy="766.5" r="0.75" fill="#e6e4ee"/>
<circle cx="373.9" cy="766.5" r="0.75" fill="#e6e4ee"/>
<circle cx="381.1" cy="766.5" r="0.75" fill="#e6e4ee"/>
<circle cx="388.3" cy="766.5" r="2.9" fill="#2a12f8"/>
<circle cx="395.5" cy="766.5" r="0.75" fill="#e6e4ee"/>
<circle cx="402.7" cy="766.5" r="0.75" fill="#e6e4ee"/>
<circle cx="409.9" cy="766.5" r="0.75" fill="#e6e4ee"/>
<circle cx="417.1" cy="766.5" r="0.75" fill="#e6e4ee"/>
<circle cx="424.3" cy="766.5" r="0.75" fill="#e6e4ee"/>
<circle cx="431.5" cy="766.5" r="0.75" fill="#e6e4ee"/>
<circle cx="438.7" cy="766.5" r="2.9" fill="#c9c3e3"/>
<circle cx="445.9" cy="766.5" r="2.1" fill="#7d62f5"/>
<circle cx="453.1" cy="766.5" r="1.35" fill="#2a12f8"/>
<circle cx="460.3" cy="766.5" r="0.75" fill="#e6e4ee"/>
<circle cx="467.6" cy="766.5" r="0.75" fill="#e6e4ee"/>
<circle cx="474.8" cy="766.5" r="0.75" fill="#e6e4ee"/>
<circle cx="482.0" cy="766.5" r="0.75" fill="#e6e4ee"/>
<circle cx="489.2" cy="766.5" r="0.75" fill="#e6e4ee"/>
<circle cx="496.4" cy="766.5" r="2.1" fill="#7d62f5"/>
<circle cx="503.6" cy="766.5" r="0.75" fill="#e6e4ee"/>
<circle cx="100.0" cy="777.2" r="0.75" fill="#e6e4ee"/>
<circle cx="107.2" cy="777.2" r="0.75" fill="#e6e4ee"/>
<circle cx="114.4" cy="777.2" r="0.75" fill="#e6e4ee"/>
<circle cx="121.6" cy="777.2" r="0.75" fill="#e6e4ee"/>
<circle cx="128.8" cy="777.2" r="0.75" fill="#e6e4ee"/>
<circle cx="136.0" cy="777.2" r="0.75" fill="#e6e4ee"/>
<circle cx="143.2" cy="777.2" r="2.1" fill="#7d62f5"/>
<circle cx="150.4" cy="777.2" r="0.75" fill="#e6e4ee"/>
<circle cx="157.7" cy="777.2" r="0.75" fill="#e6e4ee"/>
<circle cx="164.9" cy="777.2" r="2.1" fill="#2a12f8"/>
<circle cx="172.1" cy="777.2" r="0.75" fill="#e6e4ee"/>
<circle cx="179.3" cy="777.2" r="0.75" fill="#e6e4ee"/>
<circle cx="186.5" cy="777.2" r="0.75" fill="#e6e4ee"/>
<circle cx="193.7" cy="777.2" r="0.75" fill="#e6e4ee"/>
<circle cx="200.9" cy="777.2" r="0.75" fill="#e6e4ee"/>
<circle cx="208.1" cy="777.2" r="2.9" fill="#7d62f5"/>
<circle cx="215.3" cy="777.2" r="0.75" fill="#e6e4ee"/>
<circle cx="222.5" cy="777.2" r="0.75" fill="#e6e4ee"/>
<circle cx="229.7" cy="777.2" r="0.75" fill="#e6e4ee"/>
<circle cx="236.9" cy="777.2" r="0.75" fill="#e6e4ee"/>
<circle cx="244.1" cy="777.2" r="0.75" fill="#e6e4ee"/>
<circle cx="251.3" cy="777.2" r="0.75" fill="#e6e4ee"/>
<circle cx="258.6" cy="777.2" r="0.75" fill="#e6e4ee"/>
<circle cx="265.8" cy="777.2" r="0.75" fill="#e6e4ee"/>
<circle cx="273.0" cy="777.2" r="0.75" fill="#e6e4ee"/>
<circle cx="280.2" cy="777.2" r="1.35" fill="#c2b8f0"/>
<circle cx="287.4" cy="777.2" r="1.35" fill="#c2b8f0"/>
<circle cx="294.6" cy="777.2" r="1.35" fill="#c2b8f0"/>
<circle cx="301.8" cy="777.2" r="0.75" fill="#e6e4ee"/>
<circle cx="309.0" cy="777.2" r="0.75" fill="#e6e4ee"/>
<circle cx="316.2" cy="777.2" r="0.75" fill="#e6e4ee"/>
<circle cx="323.4" cy="777.2" r="1.35" fill="#c2b8f0"/>
<circle cx="330.6" cy="777.2" r="2.1" fill="#2a12f8"/>
<circle cx="337.8" cy="777.2" r="1.35" fill="#c2b8f0"/>
<circle cx="345.0" cy="777.2" r="0.75" fill="#e6e4ee"/>
<circle cx="352.2" cy="777.2" r="0.75" fill="#e6e4ee"/>
<circle cx="359.5" cy="777.2" r="0.75" fill="#e6e4ee"/>
<circle cx="366.7" cy="777.2" r="0.75" fill="#e6e4ee"/>
<circle cx="373.9" cy="777.2" r="0.75" fill="#e6e4ee"/>
<circle cx="381.1" cy="777.2" r="0.75" fill="#e6e4ee"/>
<circle cx="388.3" cy="777.2" r="0.75" fill="#e6e4ee"/>
<circle cx="395.5" cy="777.2" r="2.9" fill="#7d62f5"/>
<circle cx="402.7" cy="777.2" r="1.35" fill="#2a12f8"/>
<circle cx="409.9" cy="777.2" r="0.75" fill="#e6e4ee"/>
<circle cx="417.1" cy="777.2" r="0.75" fill="#e6e4ee"/>
<circle cx="424.3" cy="777.2" r="0.75" fill="#e6e4ee"/>
<circle cx="431.5" cy="777.2" r="0.75" fill="#e6e4ee"/>
<circle cx="438.7" cy="777.2" r="2.9" fill="#ab9cf2"/>
<circle cx="445.9" cy="777.2" r="2.1" fill="#7d62f5"/>
<circle cx="453.1" cy="777.2" r="0.75" fill="#e6e4ee"/>
<circle cx="460.3" cy="777.2" r="0.75" fill="#e6e4ee"/>
<circle cx="467.6" cy="777.2" r="0.75" fill="#e6e4ee"/>
<circle cx="474.8" cy="777.2" r="0.75" fill="#e6e4ee"/>
<circle cx="482.0" cy="777.2" r="0.75" fill="#e6e4ee"/>
<circle cx="489.2" cy="777.2" r="1.35" fill="#2a12f8"/>
<circle cx="496.4" cy="777.2" r="0.75" fill="#e6e4ee"/>
<circle cx="503.6" cy="777.2" r="0.75" fill="#e6e4ee"/>
<circle cx="100.0" cy="787.8" r="0.75" fill="#e6e4ee"/>
<circle cx="107.2" cy="787.8" r="0.75" fill="#e6e4ee"/>
<circle cx="114.4" cy="787.8" r="0.75" fill="#e6e4ee"/>
<circle cx="121.6" cy="787.8" r="0.75" fill="#e6e4ee"/>
<circle cx="128.8" cy="787.8" r="1.35" fill="#c2b8f0"/>
<circle cx="136.0" cy="787.8" r="0.75" fill="#e6e4ee"/>
<circle cx="143.2" cy="787.8" r="1.35" fill="#c2b8f0"/>
<circle cx="150.4" cy="787.8" r="0.75" fill="#e6e4ee"/>
<circle cx="157.7" cy="787.8" r="1.35" fill="#7d62f5"/>
<circle cx="164.9" cy="787.8" r="2.1" fill="#2a12f8"/>
<circle cx="172.1" cy="787.8" r="2.1" fill="#7d62f5"/>
<circle cx="179.3" cy="787.8" r="0.75" fill="#e6e4ee"/>
<circle cx="186.5" cy="787.8" r="0.75" fill="#e6e4ee"/>
<circle cx="193.7" cy="787.8" r="0.75" fill="#e6e4ee"/>
<circle cx="200.9" cy="787.8" r="0.75" fill="#e6e4ee"/>
<circle cx="208.1" cy="787.8" r="2.9" fill="#2a12f8"/>
<circle cx="215.3" cy="787.8" r="0.75" fill="#e6e4ee"/>
<circle cx="222.5" cy="787.8" r="0.75" fill="#e6e4ee"/>
<circle cx="229.7" cy="787.8" r="0.75" fill="#e6e4ee"/>
<circle cx="236.9" cy="787.8" r="0.75" fill="#e6e4ee"/>
<circle cx="244.1" cy="787.8" r="0.75" fill="#e6e4ee"/>
<circle cx="251.3" cy="787.8" r="0.75" fill="#e6e4ee"/>
<circle cx="258.6" cy="787.8" r="0.75" fill="#e6e4ee"/>
<circle cx="265.8" cy="787.8" r="0.75" fill="#e6e4ee"/>
<circle cx="273.0" cy="787.8" r="0.75" fill="#e6e4ee"/>
<circle cx="280.2" cy="787.8" r="1.35" fill="#c2b8f0"/>
<circle cx="287.4" cy="787.8" r="1.35" fill="#c2b8f0"/>
<circle cx="294.6" cy="787.8" r="1.35" fill="#c2b8f0"/>
<circle cx="301.8" cy="787.8" r="0.75" fill="#e6e4ee"/>
<circle cx="309.0" cy="787.8" r="0.75" fill="#e6e4ee"/>
<circle cx="316.2" cy="787.8" r="0.75" fill="#e6e4ee"/>
<circle cx="323.4" cy="787.8" r="1.35" fill="#c2b8f0"/>
<circle cx="330.6" cy="787.8" r="2.1" fill="#2a12f8"/>
<circle cx="337.8" cy="787.8" r="1.35" fill="#2a12f8"/>
<circle cx="345.0" cy="787.8" r="0.75" fill="#e6e4ee"/>
<circle cx="352.2" cy="787.8" r="0.75" fill="#e6e4ee"/>
<circle cx="359.5" cy="787.8" r="0.75" fill="#e6e4ee"/>
<circle cx="366.7" cy="787.8" r="0.75" fill="#e6e4ee"/>
<circle cx="373.9" cy="787.8" r="0.75" fill="#e6e4ee"/>
<circle cx="381.1" cy="787.8" r="0.75" fill="#e6e4ee"/>
<circle cx="388.3" cy="787.8" r="0.75" fill="#e6e4ee"/>
<circle cx="395.5" cy="787.8" r="3.6" fill="#2a12f8"/>
<circle cx="402.7" cy="787.8" r="1.35" fill="#2a12f8"/>
<circle cx="409.9" cy="787.8" r="0.75" fill="#e6e4ee"/>
<circle cx="417.1" cy="787.8" r="0.75" fill="#e6e4ee"/>
<circle cx="424.3" cy="787.8" r="0.75" fill="#e6e4ee"/>
<circle cx="431.5" cy="787.8" r="0.75" fill="#e6e4ee"/>
<circle cx="438.7" cy="787.8" r="2.9" fill="#ab9cf2"/>
<circle cx="445.9" cy="787.8" r="1.35" fill="#7d62f5"/>
<circle cx="453.1" cy="787.8" r="0.75" fill="#e6e4ee"/>
<circle cx="460.3" cy="787.8" r="0.75" fill="#e6e4ee"/>
<circle cx="467.6" cy="787.8" r="0.75" fill="#e6e4ee"/>
<circle cx="474.8" cy="787.8" r="0.75" fill="#e6e4ee"/>
<circle cx="482.0" cy="787.8" r="1.35" fill="#2a12f8"/>
<circle cx="489.2" cy="787.8" r="1.35" fill="#2a12f8"/>
<circle cx="496.4" cy="787.8" r="0.75" fill="#e6e4ee"/>
<circle cx="503.6" cy="787.8" r="0.75" fill="#e6e4ee"/>
<circle cx="100.0" cy="798.4" r="0.75" fill="#e6e4ee"/>
<circle cx="107.2" cy="798.4" r="0.75" fill="#e6e4ee"/>
<circle cx="114.4" cy="798.4" r="0.75" fill="#e6e4ee"/>
<circle cx="121.6" cy="798.4" r="0.75" fill="#e6e4ee"/>
<circle cx="128.8" cy="798.4" r="1.35" fill="#c2b8f0"/>
<circle cx="136.0" cy="798.4" r="0.75" fill="#e6e4ee"/>
<circle cx="143.2" cy="798.4" r="1.35" fill="#c2b8f0"/>
<circle cx="150.4" cy="798.4" r="0.75" fill="#e6e4ee"/>
<circle cx="157.7" cy="798.4" r="0.75" fill="#e6e4ee"/>
<circle cx="164.9" cy="798.4" r="1.35" fill="#2a12f8"/>
<circle cx="172.1" cy="798.4" r="2.1" fill="#7d62f5"/>
<circle cx="179.3" cy="798.4" r="0.75" fill="#e6e4ee"/>
<circle cx="186.5" cy="798.4" r="0.75" fill="#e6e4ee"/>
<circle cx="193.7" cy="798.4" r="0.75" fill="#e6e4ee"/>
<circle cx="200.9" cy="798.4" r="0.75" fill="#e6e4ee"/>
<circle cx="208.1" cy="798.4" r="2.1" fill="#7d62f5"/>
<circle cx="215.3" cy="798.4" r="0.75" fill="#e6e4ee"/>
<circle cx="222.5" cy="798.4" r="0.75" fill="#e6e4ee"/>
<circle cx="229.7" cy="798.4" r="0.75" fill="#e6e4ee"/>
<circle cx="236.9" cy="798.4" r="0.75" fill="#e6e4ee"/>
<circle cx="244.1" cy="798.4" r="0.75" fill="#e6e4ee"/>
<circle cx="251.3" cy="798.4" r="0.75" fill="#e6e4ee"/>
<circle cx="258.6" cy="798.4" r="0.75" fill="#e6e4ee"/>
<circle cx="265.8" cy="798.4" r="0.75" fill="#e6e4ee"/>
<circle cx="273.0" cy="798.4" r="0.75" fill="#e6e4ee"/>
<circle cx="280.2" cy="798.4" r="1.35" fill="#c2b8f0"/>
<circle cx="287.4" cy="798.4" r="0.75" fill="#e6e4ee"/>
<circle cx="294.6" cy="798.4" r="1.35" fill="#c2b8f0"/>
<circle cx="301.8" cy="798.4" r="0.75" fill="#e6e4ee"/>
<circle cx="309.0" cy="798.4" r="0.75" fill="#e6e4ee"/>
<circle cx="316.2" cy="798.4" r="0.75" fill="#e6e4ee"/>
<circle cx="323.4" cy="798.4" r="1.35" fill="#c2b8f0"/>
<circle cx="330.6" cy="798.4" r="2.1" fill="#7d62f5"/>
<circle cx="337.8" cy="798.4" r="1.35" fill="#2a12f8"/>
<circle cx="345.0" cy="798.4" r="0.75" fill="#e6e4ee"/>
<circle cx="352.2" cy="798.4" r="0.75" fill="#e6e4ee"/>
<circle cx="359.5" cy="798.4" r="0.75" fill="#e6e4ee"/>
<circle cx="366.7" cy="798.4" r="0.75" fill="#e6e4ee"/>
<circle cx="373.9" cy="798.4" r="0.75" fill="#e6e4ee"/>
<circle cx="381.1" cy="798.4" r="0.75" fill="#e6e4ee"/>
<circle cx="388.3" cy="798.4" r="1.35" fill="#c2b8f0"/>
<circle cx="395.5" cy="798.4" r="2.1" fill="#7d62f5"/>
<circle cx="402.7" cy="798.4" r="1.35" fill="#c2b8f0"/>
<circle cx="409.9" cy="798.4" r="0.75" fill="#e6e4ee"/>
<circle cx="417.1" cy="798.4" r="0.75" fill="#e6e4ee"/>
<circle cx="424.3" cy="798.4" r="0.75" fill="#e6e4ee"/>
<circle cx="431.5" cy="798.4" r="0.75" fill="#e6e4ee"/>
<circle cx="438.7" cy="798.4" r="2.9" fill="#c9c3e3"/>
<circle cx="445.9" cy="798.4" r="1.35" fill="#7d62f5"/>
<circle cx="453.1" cy="798.4" r="0.75" fill="#e6e4ee"/>
<circle cx="460.3" cy="798.4" r="0.75" fill="#e6e4ee"/>
<circle cx="467.6" cy="798.4" r="0.75" fill="#e6e4ee"/>
<circle cx="474.8" cy="798.4" r="0.75" fill="#e6e4ee"/>
<circle cx="482.0" cy="798.4" r="1.35" fill="#2a12f8"/>
<circle cx="489.2" cy="798.4" r="1.35" fill="#2a12f8"/>
<circle cx="496.4" cy="798.4" r="0.75" fill="#e6e4ee"/>
<circle cx="503.6" cy="798.4" r="0.75" fill="#e6e4ee"/>
<circle cx="100.0" cy="809.1" r="2.9" fill="#7d62f5"/>
<circle cx="107.2" cy="809.1" r="1.35" fill="#7d62f5"/>
<circle cx="114.4" cy="809.1" r="2.1" fill="#7d62f5"/>
<circle cx="121.6" cy="809.1" r="0.75" fill="#e6e4ee"/>
<circle cx="128.8" cy="809.1" r="1.35" fill="#c2b8f0"/>
<circle cx="136.0" cy="809.1" r="2.9" fill="#7d62f5"/>
<circle cx="143.2" cy="809.1" r="0.75" fill="#e6e4ee"/>
<circle cx="150.4" cy="809.1" r="0.75" fill="#e6e4ee"/>
<circle cx="157.7" cy="809.1" r="0.75" fill="#e6e4ee"/>
<circle cx="164.9" cy="809.1" r="0.75" fill="#e6e4ee"/>
<circle cx="172.1" cy="809.1" r="1.35" fill="#c2b8f0"/>
<circle cx="179.3" cy="809.1" r="0.75" fill="#e6e4ee"/>
<circle cx="186.5" cy="809.1" r="0.75" fill="#e6e4ee"/>
<circle cx="193.7" cy="809.1" r="2.9" fill="#7d62f5"/>
<circle cx="200.9" cy="809.1" r="0.75" fill="#e6e4ee"/>
<circle cx="208.1" cy="809.1" r="0.75" fill="#e6e4ee"/>
<circle cx="215.3" cy="809.1" r="0.75" fill="#e6e4ee"/>
<circle cx="222.5" cy="809.1" r="0.75" fill="#e6e4ee"/>
<circle cx="229.7" cy="809.1" r="0.75" fill="#e6e4ee"/>
<circle cx="236.9" cy="809.1" r="0.75" fill="#e6e4ee"/>
<circle cx="244.1" cy="809.1" r="0.75" fill="#e6e4ee"/>
<circle cx="251.3" cy="809.1" r="1.35" fill="#7d62f5"/>
<circle cx="258.6" cy="809.1" r="0.75" fill="#e6e4ee"/>
<circle cx="265.8" cy="809.1" r="2.1" fill="#ab9cf2"/>
<circle cx="273.0" cy="809.1" r="0.75" fill="#e6e4ee"/>
<circle cx="280.2" cy="809.1" r="1.35" fill="#c2b8f0"/>
<circle cx="287.4" cy="809.1" r="1.35" fill="#c2b8f0"/>
<circle cx="294.6" cy="809.1" r="1.35" fill="#c2b8f0"/>
<circle cx="301.8" cy="809.1" r="0.75" fill="#e6e4ee"/>
<circle cx="309.0" cy="809.1" r="1.35" fill="#c2b8f0"/>
<circle cx="316.2" cy="809.1" r="2.1" fill="#ab9cf2"/>
<circle cx="323.4" cy="809.1" r="0.75" fill="#e6e4ee"/>
<circle cx="330.6" cy="809.1" r="0.75" fill="#e6e4ee"/>
<circle cx="337.8" cy="809.1" r="0.75" fill="#e6e4ee"/>
<circle cx="345.0" cy="809.1" r="0.75" fill="#e6e4ee"/>
<circle cx="352.2" cy="809.1" r="0.75" fill="#e6e4ee"/>
<circle cx="359.5" cy="809.1" r="1.35" fill="#2a12f8"/>
<circle cx="366.7" cy="809.1" r="0.75" fill="#e6e4ee"/>
<circle cx="373.9" cy="809.1" r="0.75" fill="#e6e4ee"/>
<circle cx="381.1" cy="809.1" r="0.75" fill="#e6e4ee"/>
<circle cx="388.3" cy="809.1" r="0.75" fill="#e6e4ee"/>
<circle cx="395.5" cy="809.1" r="0.75" fill="#e6e4ee"/>
<circle cx="402.7" cy="809.1" r="0.75" fill="#e6e4ee"/>
<circle cx="409.9" cy="809.1" r="2.9" fill="#7d62f5"/>
<circle cx="417.1" cy="809.1" r="0.75" fill="#e6e4ee"/>
<circle cx="424.3" cy="809.1" r="2.1" fill="#7d62f5"/>
<circle cx="431.5" cy="809.1" r="0.75" fill="#e6e4ee"/>
<circle cx="438.7" cy="809.1" r="2.9" fill="#7d62f5"/>
<circle cx="445.9" cy="809.1" r="1.35" fill="#c2b8f0"/>
<circle cx="453.1" cy="809.1" r="0.75" fill="#e6e4ee"/>
<circle cx="460.3" cy="809.1" r="0.75" fill="#e6e4ee"/>
<circle cx="467.6" cy="809.1" r="1.35" fill="#2a12f8"/>
<circle cx="474.8" cy="809.1" r="0.75" fill="#e6e4ee"/>
<circle cx="482.0" cy="809.1" r="0.75" fill="#e6e4ee"/>
<circle cx="489.2" cy="809.1" r="0.75" fill="#e6e4ee"/>
<circle cx="496.4" cy="809.1" r="0.75" fill="#e6e4ee"/>
<circle cx="503.6" cy="809.1" r="0.75" fill="#e6e4ee"/>
<circle cx="100.0" cy="819.7" r="2.9" fill="#7d62f5"/>
<circle cx="107.2" cy="819.7" r="0.75" fill="#e6e4ee"/>
<circle cx="114.4" cy="819.7" r="0.75" fill="#e6e4ee"/>
<circle cx="121.6" cy="819.7" r="0.75" fill="#e6e4ee"/>
<circle cx="128.8" cy="819.7" r="1.35" fill="#c2b8f0"/>
<circle cx="136.0" cy="819.7" r="2.9" fill="#ab9cf2"/>
<circle cx="143.2" cy="819.7" r="0.75" fill="#e6e4ee"/>
<circle cx="150.4" cy="819.7" r="0.75" fill="#e6e4ee"/>
<circle cx="157.7" cy="819.7" r="0.75" fill="#e6e4ee"/>
<circle cx="164.9" cy="819.7" r="0.75" fill="#e6e4ee"/>
<circle cx="172.1" cy="819.7" r="1.35" fill="#c2b8f0"/>
<circle cx="179.3" cy="819.7" r="0.75" fill="#e6e4ee"/>
<circle cx="186.5" cy="819.7" r="0.75" fill="#e6e4ee"/>
<circle cx="193.7" cy="819.7" r="2.9" fill="#ab9cf2"/>
<circle cx="200.9" cy="819.7" r="0.75" fill="#e6e4ee"/>
<circle cx="208.1" cy="819.7" r="0.75" fill="#e6e4ee"/>
<circle cx="215.3" cy="819.7" r="0.75" fill="#e6e4ee"/>
<circle cx="222.5" cy="819.7" r="2.1" fill="#7d62f5"/>
<circle cx="229.7" cy="819.7" r="0.75" fill="#e6e4ee"/>
<circle cx="236.9" cy="819.7" r="0.75" fill="#e6e4ee"/>
<circle cx="244.1" cy="819.7" r="1.35" fill="#2a12f8"/>
<circle cx="251.3" cy="819.7" r="0.75" fill="#e6e4ee"/>
<circle cx="258.6" cy="819.7" r="0.75" fill="#e6e4ee"/>
<circle cx="265.8" cy="819.7" r="1.35" fill="#c2b8f0"/>
<circle cx="273.0" cy="819.7" r="0.75" fill="#e6e4ee"/>
<circle cx="280.2" cy="819.7" r="0.75" fill="#e6e4ee"/>
<circle cx="287.4" cy="819.7" r="0.75" fill="#e6e4ee"/>
<circle cx="294.6" cy="819.7" r="0.75" fill="#e6e4ee"/>
<circle cx="301.8" cy="819.7" r="0.75" fill="#e6e4ee"/>
<circle cx="309.0" cy="819.7" r="0.75" fill="#e6e4ee"/>
<circle cx="316.2" cy="819.7" r="2.9" fill="#2a12f8"/>
<circle cx="323.4" cy="819.7" r="0.75" fill="#e6e4ee"/>
<circle cx="330.6" cy="819.7" r="0.75" fill="#e6e4ee"/>
<circle cx="337.8" cy="819.7" r="0.75" fill="#e6e4ee"/>
<circle cx="345.0" cy="819.7" r="0.75" fill="#e6e4ee"/>
<circle cx="352.2" cy="819.7" r="0.75" fill="#e6e4ee"/>
<circle cx="359.5" cy="819.7" r="0.75" fill="#e6e4ee"/>
<circle cx="366.7" cy="819.7" r="0.75" fill="#e6e4ee"/>
<circle cx="373.9" cy="819.7" r="0.75" fill="#e6e4ee"/>
<circle cx="381.1" cy="819.7" r="0.75" fill="#e6e4ee"/>
<circle cx="388.3" cy="819.7" r="0.75" fill="#e6e4ee"/>
<circle cx="395.5" cy="819.7" r="0.75" fill="#e6e4ee"/>
<circle cx="402.7" cy="819.7" r="0.75" fill="#e6e4ee"/>
<circle cx="409.9" cy="819.7" r="2.9" fill="#ab9cf2"/>
<circle cx="417.1" cy="819.7" r="0.75" fill="#e6e4ee"/>
<circle cx="424.3" cy="819.7" r="2.1" fill="#7d62f5"/>
<circle cx="431.5" cy="819.7" r="0.75" fill="#e6e4ee"/>
<circle cx="438.7" cy="819.7" r="2.9" fill="#ab9cf2"/>
<circle cx="445.9" cy="819.7" r="0.75" fill="#e6e4ee"/>
<circle cx="453.1" cy="819.7" r="0.75" fill="#e6e4ee"/>
<circle cx="460.3" cy="819.7" r="2.1" fill="#2a12f8"/>
<circle cx="467.6" cy="819.7" r="0.75" fill="#e6e4ee"/>
<circle cx="474.8" cy="819.7" r="0.75" fill="#e6e4ee"/>
<circle cx="482.0" cy="819.7" r="0.75" fill="#e6e4ee"/>
<circle cx="489.2" cy="819.7" r="0.75" fill="#e6e4ee"/>
<circle cx="496.4" cy="819.7" r="0.75" fill="#e6e4ee"/>
<circle cx="503.6" cy="819.7" r="0.75" fill="#e6e4ee"/>
<circle cx="100.0" cy="830.4" r="2.9" fill="#2a12f8"/>
<circle cx="107.2" cy="830.4" r="3.6" fill="#2a12f8"/>
<circle cx="114.4" cy="830.4" r="2.1" fill="#7d62f5"/>
<circle cx="121.6" cy="830.4" r="0.75" fill="#e6e4ee"/>
<circle cx="128.8" cy="830.4" r="1.35" fill="#c2b8f0"/>
<circle cx="136.0" cy="830.4" r="2.9" fill="#7d62f5"/>
<circle cx="143.2" cy="830.4" r="0.75" fill="#e6e4ee"/>
<circle cx="150.4" cy="830.4" r="0.75" fill="#e6e4ee"/>
<circle cx="157.7" cy="830.4" r="0.75" fill="#e6e4ee"/>
<circle cx="164.9" cy="830.4" r="0.75" fill="#e6e4ee"/>
<circle cx="172.1" cy="830.4" r="0.75" fill="#e6e4ee"/>
<circle cx="179.3" cy="830.4" r="0.75" fill="#e6e4ee"/>
<circle cx="186.5" cy="830.4" r="1.35" fill="#2a12f8"/>
<circle cx="193.7" cy="830.4" r="0.75" fill="#e6e4ee"/>
<circle cx="200.9" cy="830.4" r="0.75" fill="#e6e4ee"/>
<circle cx="208.1" cy="830.4" r="0.75" fill="#e6e4ee"/>
<circle cx="215.3" cy="830.4" r="0.75" fill="#e6e4ee"/>
<circle cx="222.5" cy="830.4" r="0.75" fill="#e6e4ee"/>
<circle cx="229.7" cy="830.4" r="0.75" fill="#e6e4ee"/>
<circle cx="236.9" cy="830.4" r="0.75" fill="#e6e4ee"/>
<circle cx="244.1" cy="830.4" r="0.75" fill="#e6e4ee"/>
<circle cx="251.3" cy="830.4" r="2.1" fill="#7d62f5"/>
<circle cx="258.6" cy="830.4" r="0.75" fill="#e6e4ee"/>
<circle cx="265.8" cy="830.4" r="2.9" fill="#7d62f5"/>
<circle cx="273.0" cy="830.4" r="1.35" fill="#c2b8f0"/>
<circle cx="280.2" cy="830.4" r="1.35" fill="#c2b8f0"/>
<circle cx="287.4" cy="830.4" r="1.35" fill="#c2b8f0"/>
<circle cx="294.6" cy="830.4" r="1.35" fill="#c2b8f0"/>
<circle cx="301.8" cy="830.4" r="0.75" fill="#e6e4ee"/>
<circle cx="309.0" cy="830.4" r="1.35" fill="#2a12f8"/>
<circle cx="316.2" cy="830.4" r="0.75" fill="#e6e4ee"/>
<circle cx="323.4" cy="830.4" r="0.75" fill="#e6e4ee"/>
<circle cx="330.6" cy="830.4" r="0.75" fill="#e6e4ee"/>
<circle cx="337.8" cy="830.4" r="0.75" fill="#e6e4ee"/>
<circle cx="345.0" cy="830.4" r="1.35" fill="#2a12f8"/>
<circle cx="352.2" cy="830.4" r="0.75" fill="#e6e4ee"/>
<circle cx="359.5" cy="830.4" r="1.35" fill="#c2b8f0"/>
<circle cx="366.7" cy="830.4" r="1.35" fill="#2a12f8"/>
<circle cx="373.9" cy="830.4" r="0.75" fill="#e6e4ee"/>
<circle cx="381.1" cy="830.4" r="0.75" fill="#e6e4ee"/>
<circle cx="388.3" cy="830.4" r="0.75" fill="#e6e4ee"/>
<circle cx="395.5" cy="830.4" r="0.75" fill="#e6e4ee"/>
<circle cx="402.7" cy="830.4" r="0.75" fill="#e6e4ee"/>
<circle cx="409.9" cy="830.4" r="2.9" fill="#2a12f8"/>
<circle cx="417.1" cy="830.4" r="0.75" fill="#e6e4ee"/>
<circle cx="424.3" cy="830.4" r="2.9" fill="#2a12f8"/>
<circle cx="431.5" cy="830.4" r="0.75" fill="#e6e4ee"/>
<circle cx="438.7" cy="830.4" r="2.9" fill="#7d62f5"/>
<circle cx="445.9" cy="830.4" r="0.75" fill="#e6e4ee"/>
<circle cx="453.1" cy="830.4" r="0.75" fill="#e6e4ee"/>
<circle cx="460.3" cy="830.4" r="0.75" fill="#e6e4ee"/>
<circle cx="467.6" cy="830.4" r="1.35" fill="#2a12f8"/>
<circle cx="474.8" cy="830.4" r="0.75" fill="#e6e4ee"/>
<circle cx="482.0" cy="830.4" r="0.75" fill="#e6e4ee"/>
<circle cx="489.2" cy="830.4" r="0.75" fill="#e6e4ee"/>
<circle cx="496.4" cy="830.4" r="0.75" fill="#e6e4ee"/>
<circle cx="503.6" cy="830.4" r="0.75" fill="#e6e4ee"/>
<circle cx="100.0" cy="841.0" r="2.1" fill="#7d62f5"/>
<circle cx="107.2" cy="841.0" r="1.35" fill="#c2b8f0"/>
<circle cx="114.4" cy="841.0" r="0.75" fill="#e6e4ee"/>
<circle cx="121.6" cy="841.0" r="0.75" fill="#e6e4ee"/>
<circle cx="128.8" cy="841.0" r="2.9" fill="#2a12f8"/>
<circle cx="136.0" cy="841.0" r="2.1" fill="#ab9cf2"/>
<circle cx="143.2" cy="841.0" r="0.75" fill="#e6e4ee"/>
<circle cx="150.4" cy="841.0" r="0.75" fill="#e6e4ee"/>
<circle cx="157.7" cy="841.0" r="0.75" fill="#e6e4ee"/>
<circle cx="164.9" cy="841.0" r="0.75" fill="#e6e4ee"/>
<circle cx="172.1" cy="841.0" r="0.75" fill="#e6e4ee"/>
<circle cx="179.3" cy="841.0" r="0.75" fill="#e6e4ee"/>
<circle cx="186.5" cy="841.0" r="1.35" fill="#7d62f5"/>
<circle cx="193.7" cy="841.0" r="0.75" fill="#e6e4ee"/>
<circle cx="200.9" cy="841.0" r="0.75" fill="#e6e4ee"/>
<circle cx="208.1" cy="841.0" r="0.75" fill="#e6e4ee"/>
<circle cx="215.3" cy="841.0" r="0.75" fill="#e6e4ee"/>
<circle cx="222.5" cy="841.0" r="0.75" fill="#e6e4ee"/>
<circle cx="229.7" cy="841.0" r="0.75" fill="#e6e4ee"/>
<circle cx="236.9" cy="841.0" r="0.75" fill="#e6e4ee"/>
<circle cx="244.1" cy="841.0" r="0.75" fill="#e6e4ee"/>
<circle cx="251.3" cy="841.0" r="1.35" fill="#c2b8f0"/>
<circle cx="258.6" cy="841.0" r="0.75" fill="#e6e4ee"/>
<circle cx="265.8" cy="841.0" r="2.9" fill="#2a12f8"/>
<circle cx="273.0" cy="841.0" r="0.75" fill="#e6e4ee"/>
<circle cx="280.2" cy="841.0" r="0.75" fill="#e6e4ee"/>
<circle cx="287.4" cy="841.0" r="0.75" fill="#e6e4ee"/>
<circle cx="294.6" cy="841.0" r="0.75" fill="#e6e4ee"/>
<circle cx="301.8" cy="841.0" r="0.75" fill="#e6e4ee"/>
<circle cx="309.0" cy="841.0" r="2.1" fill="#2a12f8"/>
<circle cx="316.2" cy="841.0" r="2.1" fill="#ab9cf2"/>
<circle cx="323.4" cy="841.0" r="0.75" fill="#e6e4ee"/>
<circle cx="330.6" cy="841.0" r="0.75" fill="#e6e4ee"/>
<circle cx="337.8" cy="841.0" r="0.75" fill="#e6e4ee"/>
<circle cx="345.0" cy="841.0" r="1.35" fill="#2a12f8"/>
<circle cx="352.2" cy="841.0" r="2.1" fill="#2a12f8"/>
<circle cx="359.5" cy="841.0" r="2.1" fill="#2a12f8"/>
<circle cx="366.7" cy="841.0" r="2.1" fill="#2a12f8"/>
<circle cx="373.9" cy="841.0" r="0.75" fill="#e6e4ee"/>
<circle cx="381.1" cy="841.0" r="0.75" fill="#e6e4ee"/>
<circle cx="388.3" cy="841.0" r="0.75" fill="#e6e4ee"/>
<circle cx="395.5" cy="841.0" r="0.75" fill="#e6e4ee"/>
<circle cx="402.7" cy="841.0" r="0.75" fill="#e6e4ee"/>
<circle cx="409.9" cy="841.0" r="2.9" fill="#7d62f5"/>
<circle cx="417.1" cy="841.0" r="0.75" fill="#e6e4ee"/>
<circle cx="424.3" cy="841.0" r="2.1" fill="#7d62f5"/>
<circle cx="431.5" cy="841.0" r="0.75" fill="#e6e4ee"/>
<circle cx="438.7" cy="841.0" r="2.9" fill="#ab9cf2"/>
<circle cx="445.9" cy="841.0" r="2.9" fill="#2a12f8"/>
<circle cx="453.1" cy="841.0" r="0.75" fill="#e6e4ee"/>
<circle cx="460.3" cy="841.0" r="0.75" fill="#e6e4ee"/>
<circle cx="467.6" cy="841.0" r="1.35" fill="#c2b8f0"/>
<circle cx="474.8" cy="841.0" r="1.35" fill="#c2b8f0"/>
<circle cx="482.0" cy="841.0" r="0.75" fill="#e6e4ee"/>
<circle cx="489.2" cy="841.0" r="0.75" fill="#e6e4ee"/>
<circle cx="496.4" cy="841.0" r="0.75" fill="#e6e4ee"/>
<circle cx="503.6" cy="841.0" r="0.75" fill="#e6e4ee"/>
<text x="521.5" y="717.4" font-size="7.1" text-anchor="middle" font-family="Liberation Sans, Arial, sans-serif" font-weight="normal" fill="#333">Average</text>
<text x="522.5" y="725.6" font-size="7.1" text-anchor="middle" font-family="Liberation Sans, Arial, sans-serif" font-weight="normal" fill="#333">Expression</text>
<defs><linearGradient id="ag" x1="0" y1="1" x2="0" y2="0"><stop offset="0" stop-color="#d6d2e6"/><stop offset="1" stop-color="#3a1ef5"/></linearGradient></defs>
<rect x="514" y="728.5" width="6" height="32.2" fill="url(#ag)"/>
<text x="528.8" y="735.9" font-size="7" text-anchor="end" font-family="Liberation Sans, Arial, sans-serif" font-weight="normal" fill="#333">2</text>
<text x="528.8" y="743.6" font-size="7" text-anchor="end" font-family="Liberation Sans, Arial, sans-serif" font-weight="normal" fill="#333">1</text>
<text x="528.8" y="751.6999999999999" font-size="7" text-anchor="end" font-family="Liberation Sans, Arial, sans-serif" font-weight="normal" fill="#333">0</text>
<text x="528.8" y="760.4" font-size="7" text-anchor="end" font-family="Liberation Sans, Arial, sans-serif" font-weight="normal" fill="#333">-1</text>
<text x="521.5" y="767.6" font-size="7.1" text-anchor="middle" font-family="Liberation Sans, Arial, sans-serif" font-weight="normal" fill="#333">Percent</text>
<text x="522.5" y="775.6" font-size="7.1" text-anchor="middle" font-family="Liberation Sans, Arial, sans-serif" font-weight="normal" fill="#333">Expressed</text>
<circle cx="517" cy="780.2" r="0.3" fill="#111"/>
<text x="528.8" y="782.6" font-size="7" text-anchor="end" font-family="Liberation Sans, Arial, sans-serif" font-weight="normal" fill="#333">0</text>
<circle cx="517" cy="786.6" r="0.8" fill="#111"/>
<text x="528.8" y="789.0" font-size="7" text-anchor="end" font-family="Liberation Sans, Arial, sans-serif" font-weight="normal" fill="#333">25</text>
<circle cx="517" cy="793.2" r="1.6" fill="#111"/>
<text x="528.8" y="795.6" font-size="7" text-anchor="end" font-family="Liberation Sans, Arial, sans-serif" font-weight="normal" fill="#333">50</text>
<circle cx="517" cy="799.8" r="2.3" fill="#111"/>
<text x="528.8" y="802.1999999999999" font-size="7" text-anchor="end" font-family="Liberation Sans, Arial, sans-serif" font-weight="normal" fill="#333">75</text>
<text x="9.7" y="945.1" font-size="12.5" text-anchor="start" font-family="Liberation Sans, Arial, sans-serif" font-weight="bold" fill="#111" textLength="8.8" lengthAdjust="spacingAndGlyphs">D</text>
<text x="93" y="932" font-size="11.35" font-family="Liberation Sans, Arial, sans-serif" fill="#222"><tspan font-style="italic">JUP</tspan> in CD16<tspan font-size="6.5" dy="-3.5">+</tspan><tspan dy="3.5"> monocytes</tspan></text>
<text x="351.4" y="931" font-size="11.35" font-family="Liberation Sans, Arial, sans-serif" fill="#222"><tspan font-style="italic">JUP</tspan> in CD16<tspan font-size="6.5" dy="-3.5">+</tspan><tspan dy="3.5"> monocytes</tspan></text>
<line x1="52.7" y1="957" x2="52.7" y2="1029.2" stroke="#333" stroke-width="1"/>
<line x1="52.7" y1="1029.2" x2="249.3" y2="1029.2" stroke="#333" stroke-width="1"/>
<line x1="50.3" y1="1026.4" x2="52.7" y2="1026.4" stroke="#333" stroke-width="0.8"/>
<text x="49.6" y="1029.9" font-size="10" text-anchor="end" font-family="Liberation Sans, Arial, sans-serif" font-weight="normal" fill="#333">0</text>
<line x1="50.3" y1="1009.6" x2="52.7" y2="1009.6" stroke="#333" stroke-width="0.8"/>
<text x="49.6" y="1013.1" font-size="10" text-anchor="end" font-family="Liberation Sans, Arial, sans-serif" font-weight="normal" fill="#333">1</text>
<line x1="50.3" y1="993.0" x2="52.7" y2="993.0" stroke="#333" stroke-width="0.8"/>
<text x="49.6" y="996.5" font-size="10" text-anchor="end" font-family="Liberation Sans, Arial, sans-serif" font-weight="normal" fill="#333">2</text>
<line x1="50.3" y1="976.4" x2="52.7" y2="976.4" stroke="#333" stroke-width="0.8"/>
<text x="49.6" y="979.9" font-size="10" text-anchor="end" font-family="Liberation Sans, Arial, sans-serif" font-weight="normal" fill="#333">3</text>
<line x1="50.3" y1="959.4" x2="52.7" y2="959.4" stroke="#333" stroke-width="0.8"/>
<text x="49.6" y="962.9" font-size="10" text-anchor="end" font-family="Liberation Sans, Arial, sans-serif" font-weight="normal" fill="#333">4</text>
<line x1="106.4" y1="1029.2" x2="106.4" y2="1031.6" stroke="#333" stroke-width="0.8"/>
<line x1="195.5" y1="1029.2" x2="195.5" y2="1031.6" stroke="#333" stroke-width="0.8"/>
<text x="105.5" y="1051.2" font-size="10" text-anchor="middle" font-family="Liberation Sans, Arial, sans-serif" font-weight="normal" fill="#222">CTL</text>
<text x="195.6" y="1051.2" font-size="10" text-anchor="middle" font-family="Liberation Sans, Arial, sans-serif" font-weight="normal" fill="#222">Endo</text>
<text x="0" y="0" font-size="9.6" text-anchor="middle" font-family="Liberation Sans, Arial, sans-serif" fill="#222" transform="translate(36.5,992) rotate(-90)">Expression Level</text>
<line x1="70.5" y1="1026.4" x2="145" y2="1026.4" stroke="#2a2a2a" stroke-width="1.4"/>
<line x1="71" y1="1009.6" x2="143" y2="1009.6" stroke="#333" stroke-width="1.2" stroke-dasharray="2.5,0.5"/>
<circle cx="74" cy="993" r="0.7" fill="#444"/>
<circle cx="76" cy="993" r="0.7" fill="#444"/>
<circle cx="81" cy="993" r="0.7" fill="#444"/>
<circle cx="88" cy="993" r="0.7" fill="#444"/>
<circle cx="93" cy="993" r="0.7" fill="#444"/>
<circle cx="97" cy="993" r="0.7" fill="#444"/>
<circle cx="100" cy="993" r="0.7" fill="#444"/>
<circle cx="117" cy="993" r="0.7" fill="#444"/>
<circle cx="121" cy="993" r="0.7" fill="#444"/>
<circle cx="124" cy="993" r="0.7" fill="#444"/>
<circle cx="127" cy="993" r="0.7" fill="#444"/>
<circle cx="130" cy="993" r="0.7" fill="#444"/>
<circle cx="134" cy="993" r="0.7" fill="#444"/>
<circle cx="138" cy="993" r="0.7" fill="#444"/>
<circle cx="141" cy="993" r="0.7" fill="#444"/>
<circle cx="92" cy="976.4" r="0.5" fill="#777"/>
<circle cx="93.5" cy="976.4" r="0.5" fill="#777"/>
<line x1="106.4" y1="976.4" x2="106.4" y2="1026.4" stroke="#333" stroke-width="0.9"/>
<path d="M195.7,959.6 L195.9,965.0 L196.0,972.0 L196.7,974.5 L197.3,976.4 L196.5,978.5 L196.0,982.0 L196.1,987.0 L196.5,989.0 L198.0,991.0 L199.2,993.1 L198.0,995.2 L196.4,997.3 L196.1,1000.0 L196.3,1003.0 L197.0,1004.6 L203.5,1006.3 L209.5,1007.9 L213.9,1009.5 L208.5,1011.2 L202.5,1012.8 L197.5,1014.5 L196.5,1015.5 L196.7,1018.5 L199.5,1020.0 L205.5,1021.5 L219.5,1023.5 L235.5,1025.6 L236.0,1026.4 L155.0,1026.4 L155.5,1025.6 L171.5,1023.5 L185.5,1021.5 L191.5,1020.0 L194.3,1018.5 L194.5,1015.5 L193.5,1014.5 L188.5,1012.8 L182.5,1011.2 L177.1,1009.5 L181.5,1007.9 L187.5,1006.3 L194.0,1004.6 L194.7,1003.0 L194.9,1000.0 L194.6,997.3 L193.0,995.2 L191.8,993.1 L193.0,991.0 L194.5,989.0 L194.9,987.0 L195.0,982.0 L194.5,978.5 L193.7,976.4 L194.3,974.5 L195.0,972.0 L195.1,965.0 L195.3,959.6Z" fill="#c4c4c4" stroke="#333" stroke-width="0.7" stroke-linejoin="round"/>
<line x1="155" y1="1026.4" x2="236" y2="1026.4" stroke="#2a2a2a" stroke-width="1.4"/>
<line x1="159" y1="1009.6" x2="232" y2="1009.6" stroke="#333" stroke-width="1.2" stroke-dasharray="3,0.4"/>
<line x1="160" y1="993.1" x2="232" y2="993.1" stroke="#444" stroke-width="1" stroke-dasharray="2.2,0.8,1,1.5"/>
<circle cx="160" cy="976.4" r="0.55" fill="#555"/>
<circle cx="161.5" cy="976.4" r="0.55" fill="#555"/>
<circle cx="163" cy="976.4" r="0.55" fill="#555"/>
<circle cx="164.5" cy="976.4" r="0.55" fill="#555"/>
<circle cx="167" cy="976.4" r="0.55" fill="#555"/>
<circle cx="172" cy="976.4" r="0.55" fill="#555"/>
<circle cx="175" cy="976.4" r="0.55" fill="#555"/>
<circle cx="178" cy="976.4" r="0.55" fill="#555"/>
<circle cx="184" cy="976.4" r="0.55" fill="#555"/>
<circle cx="186" cy="976.4" r="0.55" fill="#555"/>
<circle cx="189" cy="976.4" r="0.55" fill="#555"/>
<circle cx="201" cy="976.4" r="0.55" fill="#555"/>
<circle cx="203" cy="976.4" r="0.55" fill="#555"/>
<circle cx="208" cy="976.4" r="0.55" fill="#555"/>
<circle cx="210" cy="976.4" r="0.55" fill="#555"/>
<circle cx="212" cy="976.4" r="0.55" fill="#555"/>
<circle cx="215" cy="976.4" r="0.55" fill="#555"/>
<circle cx="218" cy="976.4" r="0.55" fill="#555"/>
<circle cx="220" cy="976.4" r="0.55" fill="#555"/>
<circle cx="222" cy="976.4" r="0.55" fill="#555"/>
<circle cx="226" cy="976.4" r="0.55" fill="#555"/>
<circle cx="229" cy="976.4" r="0.55" fill="#555"/>
<circle cx="231" cy="976.4" r="0.55" fill="#555"/>
<circle cx="161" cy="959.6" r="0.6" fill="#777"/>
<circle cx="186" cy="959.6" r="0.6" fill="#777"/>
<circle cx="198" cy="959.6" r="0.6" fill="#777"/>
<circle cx="230" cy="959.6" r="0.6" fill="#777"/>
<line x1="305.4" y1="957.3" x2="305.4" y2="1029.3" stroke="#333" stroke-width="1"/>
<line x1="305.4" y1="1029.3" x2="383.0" y2="1029.3" stroke="#333" stroke-width="1"/>
<line x1="303.0" y1="978.2" x2="305.4" y2="978.2" stroke="#333" stroke-width="0.8"/>
<text x="301.79999999999995" y="981.4000000000001" font-size="9" text-anchor="end" font-family="Liberation Sans, Arial, sans-serif" font-weight="normal" fill="#333">5</text>
<line x1="303.0" y1="1000.3" x2="305.4" y2="1000.3" stroke="#333" stroke-width="0.8"/>
<text x="301.79999999999995" y="1003.5" font-size="9" text-anchor="end" font-family="Liberation Sans, Arial, sans-serif" font-weight="normal" fill="#333">0</text>
<line x1="303.0" y1="1022" x2="305.4" y2="1022" stroke="#333" stroke-width="0.8"/>
<text x="301.79999999999995" y="1025.2" font-size="9" text-anchor="end" font-family="Liberation Sans, Arial, sans-serif" font-weight="normal" fill="#333">-5</text>
<line x1="308.79999999999995" y1="1029.3" x2="308.79999999999995" y2="1031.7" stroke="#333" stroke-width="0.8"/>
<text x="308.79999999999995" y="1041.2" font-size="9" text-anchor="middle" font-family="Liberation Sans, Arial, sans-serif" font-weight="normal" fill="#333">6</text>
<line x1="332.4" y1="1029.3" x2="332.4" y2="1031.7" stroke="#333" stroke-width="0.8"/>
<text x="332.4" y="1041.2" font-size="9" text-anchor="middle" font-family="Liberation Sans, Arial, sans-serif" font-weight="normal" fill="#333">8</text>
<line x1="355.99999999999994" y1="1029.3" x2="355.99999999999994" y2="1031.7" stroke="#333" stroke-width="0.8"/>
<text x="355.99999999999994" y="1041.2" font-size="9" text-anchor="middle" font-family="Liberation Sans, Arial, sans-serif" font-weight="normal" fill="#333">10</text>
<line x1="379.59999999999997" y1="1029.3" x2="379.59999999999997" y2="1031.7" stroke="#333" stroke-width="0.8"/>
<text x="379.59999999999997" y="1041.2" font-size="9" text-anchor="middle" font-family="Liberation Sans, Arial, sans-serif" font-weight="normal" fill="#333">12</text>
<text x="329.7" y="1051.4" font-size="10.4" font-family="Liberation Sans, Arial, sans-serif" fill="#222" textLength="35" lengthAdjust="spacingAndGlyphs">UMAP-1</text>
<text x="-19.2" y="0" font-size="10.4" font-family="Liberation Sans, Arial, sans-serif" fill="#222" textLength="38" lengthAdjust="spacingAndGlyphs" transform="translate(291.4,990.6) rotate(-90)">UMAP-2</text>
<text x="344.5" y="949" font-size="10.1" text-anchor="middle" font-family="Liberation Sans, Arial, sans-serif" font-weight="normal" fill="#222">CTL</text>
<line x1="429" y1="957.3" x2="429" y2="1029.3" stroke="#333" stroke-width="1"/>
<line x1="429" y1="1029.3" x2="506.6" y2="1029.3" stroke="#333" stroke-width="1"/>
<line x1="426.6" y1="978.2" x2="429" y2="978.2" stroke="#333" stroke-width="0.8"/>
<text x="425.4" y="981.4000000000001" font-size="9" text-anchor="end" font-family="Liberation Sans, Arial, sans-serif" font-weight="normal" fill="#333">5</text>
<line x1="426.6" y1="1000.3" x2="429" y2="1000.3" stroke="#333" stroke-width="0.8"/>
<text x="425.4" y="1003.5" font-size="9" text-anchor="end" font-family="Liberation Sans, Arial, sans-serif" font-weight="normal" fill="#333">0</text>
<line x1="426.6" y1="1022" x2="429" y2="1022" stroke="#333" stroke-width="0.8"/>
<text x="425.4" y="1025.2" font-size="9" text-anchor="end" font-family="Liberation Sans, Arial, sans-serif" font-weight="normal" fill="#333">-5</text>
<line x1="432.4" y1="1029.3" x2="432.4" y2="1031.7" stroke="#333" stroke-width="0.8"/>
<text x="432.4" y="1041.2" font-size="9" text-anchor="middle" font-family="Liberation Sans, Arial, sans-serif" font-weight="normal" fill="#333">6</text>
<line x1="456.0" y1="1029.3" x2="456.0" y2="1031.7" stroke="#333" stroke-width="0.8"/>
<text x="456.0" y="1041.2" font-size="9" text-anchor="middle" font-family="Liberation Sans, Arial, sans-serif" font-weight="normal" fill="#333">8</text>
<line x1="479.59999999999997" y1="1029.3" x2="479.59999999999997" y2="1031.7" stroke="#333" stroke-width="0.8"/>
<text x="479.59999999999997" y="1041.2" font-size="9" text-anchor="middle" font-family="Liberation Sans, Arial, sans-serif" font-weight="normal" fill="#333">10</text>
<line x1="503.2" y1="1029.3" x2="503.2" y2="1031.7" stroke="#333" stroke-width="0.8"/>
<text x="503.2" y="1041.2" font-size="9" text-anchor="middle" font-family="Liberation Sans, Arial, sans-serif" font-weight="normal" fill="#333">12</text>
<text x="453.3" y="1051.4" font-size="10.4" font-family="Liberation Sans, Arial, sans-serif" fill="#222" textLength="35" lengthAdjust="spacingAndGlyphs">UMAP-1</text>
<text x="-19.2" y="0" font-size="10.4" font-family="Liberation Sans, Arial, sans-serif" fill="#222" textLength="38" lengthAdjust="spacingAndGlyphs" transform="translate(415,990.6) rotate(-90)">UMAP-2</text>
<text x="470.3" y="949" font-size="10.1" text-anchor="middle" font-family="Liberation Sans, Arial, sans-serif" font-weight="normal" fill="#222">Endo</text>
<circle cx="320.1" cy="966.6" r="0.75" fill="rgb(181,181,181)" fill-opacity="0.8"/>
<circle cx="323.6" cy="965.0" r="0.75" fill="rgb(163,163,163)" fill-opacity="0.8"/>
<circle cx="329.7" cy="970.1" r="0.75" fill="rgb(139,139,139)" fill-opacity="0.8"/>
<circle cx="328.8" cy="967.3" r="0.75" fill="rgb(86,86,86)" fill-opacity="0.8"/>
<circle cx="331.2" cy="969.3" r="0.75" fill="rgb(140,140,140)" fill-opacity="0.8"/>
<circle cx="333.0" cy="967.6" r="0.75" fill="rgb(93,93,93)" fill-opacity="0.8"/>
<circle cx="326.5" cy="970.3" r="0.75" fill="rgb(107,107,107)" fill-opacity="0.8"/>
<circle cx="323.3" cy="972.1" r="0.75" fill="rgb(178,178,178)" fill-opacity="0.8"/>
<circle cx="319.4" cy="974.3" r="0.75" fill="rgb(119,119,119)" fill-opacity="0.8"/>
<circle cx="334.1" cy="974.6" r="0.75" fill="rgb(126,126,126)" fill-opacity="0.8"/>
<circle cx="336.1" cy="975.4" r="0.75" fill="rgb(110,110,110)" fill-opacity="0.8"/>
<circle cx="329.3" cy="973.6" r="0.75" fill="rgb(131,131,131)" fill-opacity="0.8"/>
<circle cx="332.5" cy="968.0" r="0.75" fill="rgb(105,105,105)" fill-opacity="0.8"/>
<circle cx="317.8" cy="969.3" r="0.75" fill="rgb(106,106,106)" fill-opacity="0.8"/>
<circle cx="332.9" cy="976.5" r="0.75" fill="rgb(135,135,135)" fill-opacity="0.8"/>
<circle cx="339.4" cy="969.3" r="0.75" fill="rgb(118,118,118)" fill-opacity="0.8"/>
<circle cx="335.8" cy="971.2" r="0.75" fill="rgb(98,98,98)" fill-opacity="0.8"/>
<circle cx="327.2" cy="974.4" r="0.75" fill="rgb(214,214,214)" fill-opacity="0.8"/>
<circle cx="327.2" cy="970.4" r="0.75" fill="rgb(166,166,166)" fill-opacity="0.8"/>
<circle cx="327.0" cy="969.0" r="0.75" fill="rgb(125,125,125)" fill-opacity="0.8"/>
<circle cx="331.4" cy="966.4" r="0.75" fill="rgb(120,120,120)" fill-opacity="0.8"/>
<circle cx="331.2" cy="974.8" r="0.75" fill="rgb(132,132,132)" fill-opacity="0.8"/>
<circle cx="339.4" cy="972.9" r="0.75" fill="rgb(82,82,82)" fill-opacity="0.8"/>
<circle cx="334.9" cy="969.4" r="0.75" fill="rgb(131,131,131)" fill-opacity="0.8"/>
<circle cx="338.8" cy="971.3" r="0.75" fill="rgb(126,126,126)" fill-opacity="0.8"/>
<circle cx="319.6" cy="974.8" r="0.75" fill="rgb(167,167,167)" fill-opacity="0.8"/>
<circle cx="332.9" cy="971.4" r="0.75" fill="rgb(105,105,105)" fill-opacity="0.8"/>
<circle cx="332.3" cy="972.8" r="0.75" fill="rgb(184,184,184)" fill-opacity="0.8"/>
<circle cx="334.7" cy="969.2" r="0.75" fill="rgb(125,125,125)" fill-opacity="0.8"/>
<circle cx="332.7" cy="968.5" r="0.75" fill="rgb(139,139,139)" fill-opacity="0.8"/>
<circle cx="336.2" cy="974.2" r="0.75" fill="rgb(212,212,212)" fill-opacity="0.8"/>
<circle cx="323.2" cy="973.3" r="0.75" fill="rgb(165,165,165)" fill-opacity="0.8"/>
<circle cx="331.4" cy="969.9" r="0.75" fill="rgb(123,123,123)" fill-opacity="0.8"/>
<circle cx="320.3" cy="970.3" r="0.75" fill="rgb(98,98,98)" fill-opacity="0.8"/>
<circle cx="321.4" cy="976.0" r="0.75" fill="rgb(179,179,179)" fill-opacity="0.8"/>
<circle cx="336.5" cy="973.6" r="0.75" fill="rgb(149,149,149)" fill-opacity="0.8"/>
<circle cx="329.3" cy="972.3" r="0.75" fill="rgb(99,99,99)" fill-opacity="0.8"/>
<circle cx="326.5" cy="967.0" r="0.75" fill="rgb(141,141,141)" fill-opacity="0.8"/>
<circle cx="329.3" cy="971.8" r="0.75" fill="rgb(156,156,156)" fill-opacity="0.8"/>
<circle cx="320.0" cy="969.7" r="0.75" fill="rgb(110,110,110)" fill-opacity="0.8"/>
<circle cx="327.4" cy="966.7" r="0.75" fill="rgb(112,112,112)" fill-opacity="0.8"/>
<circle cx="320.0" cy="971.8" r="0.75" fill="rgb(87,87,87)" fill-opacity="0.8"/>
<circle cx="337.7" cy="969.9" r="0.75" fill="rgb(182,182,182)" fill-opacity="0.8"/>
<circle cx="316.4" cy="970.8" r="0.75" fill="rgb(96,96,96)" fill-opacity="0.8"/>
<circle cx="337.1" cy="970.0" r="0.75" fill="rgb(96,96,96)" fill-opacity="0.8"/>
<circle cx="320.2" cy="966.3" r="0.75" fill="rgb(93,93,93)" fill-opacity="0.8"/>
<circle cx="331.5" cy="974.1" r="0.75" fill="rgb(117,117,117)" fill-opacity="0.8"/>
<circle cx="331.6" cy="967.6" r="0.75" fill="rgb(138,138,138)" fill-opacity="0.8"/>
<circle cx="336.5" cy="968.2" r="0.75" fill="rgb(101,101,101)" fill-opacity="0.8"/>
<circle cx="336.1" cy="969.9" r="0.75" fill="rgb(142,142,142)" fill-opacity="0.8"/>
<circle cx="325.2" cy="967.2" r="0.75" fill="rgb(115,115,115)" fill-opacity="0.8"/>
<circle cx="325.8" cy="974.7" r="0.75" fill="rgb(128,128,128)" fill-opacity="0.8"/>
<circle cx="336.4" cy="974.5" r="0.75" fill="rgb(178,178,178)" fill-opacity="0.8"/>
<circle cx="337.4" cy="969.3" r="0.75" fill="rgb(143,143,143)" fill-opacity="0.8"/>
<circle cx="331.4" cy="968.5" r="0.75" fill="rgb(142,142,142)" fill-opacity="0.8"/>
<circle cx="326.3" cy="976.4" r="0.75" fill="rgb(174,174,174)" fill-opacity="0.8"/>
<circle cx="320.7" cy="975.1" r="0.75" fill="rgb(209,209,209)" fill-opacity="0.8"/>
<circle cx="321.9" cy="974.6" r="0.75" fill="rgb(114,114,114)" fill-opacity="0.8"/>
<circle cx="328.3" cy="966.6" r="0.75" fill="rgb(170,170,170)" fill-opacity="0.8"/>
<circle cx="322.2" cy="965.3" r="0.75" fill="rgb(113,113,113)" fill-opacity="0.8"/>
<circle cx="329.1" cy="965.2" r="0.75" fill="rgb(117,117,117)" fill-opacity="0.8"/>
<circle cx="334.8" cy="969.6" r="0.75" fill="rgb(102,102,102)" fill-opacity="0.8"/>
<circle cx="326.6" cy="970.3" r="0.75" fill="rgb(150,150,150)" fill-opacity="0.8"/>
<circle cx="328.9" cy="966.9" r="0.75" fill="rgb(115,115,115)" fill-opacity="0.8"/>
<circle cx="316.8" cy="972.0" r="0.75" fill="rgb(162,162,162)" fill-opacity="0.8"/>
<circle cx="324.4" cy="967.1" r="0.75" fill="rgb(115,115,115)" fill-opacity="0.8"/>
<circle cx="321.2" cy="966.1" r="0.75" fill="rgb(186,186,186)" fill-opacity="0.8"/>
<circle cx="317.7" cy="974.0" r="0.75" fill="rgb(132,132,132)" fill-opacity="0.8"/>
<circle cx="334.9" cy="966.6" r="0.75" fill="rgb(126,126,126)" fill-opacity="0.8"/>
<circle cx="336.5" cy="969.3" r="0.75" fill="rgb(147,147,147)" fill-opacity="0.8"/>
<circle cx="333.3" cy="970.2" r="0.75" fill="rgb(126,126,126)" fill-opacity="0.8"/>
<circle cx="335.8" cy="968.9" r="0.75" fill="rgb(168,168,168)" fill-opacity="0.8"/>
<circle cx="336.8" cy="973.2" r="0.75" fill="rgb(163,163,163)" fill-opacity="0.8"/>
<circle cx="333.0" cy="975.7" r="0.75" fill="rgb(184,184,184)" fill-opacity="0.8"/>
<circle cx="315.8" cy="969.9" r="0.75" fill="rgb(118,118,118)" fill-opacity="0.8"/>
<circle cx="320.0" cy="966.5" r="0.75" fill="rgb(161,161,161)" fill-opacity="0.8"/>
<circle cx="326.2" cy="977.1" r="0.75" fill="rgb(135,135,135)" fill-opacity="0.8"/>
<circle cx="332.2" cy="974.3" r="0.75" fill="rgb(193,193,193)" fill-opacity="0.8"/>
<circle cx="332.4" cy="975.8" r="0.75" fill="rgb(133,133,133)" fill-opacity="0.8"/>
<circle cx="326.1" cy="969.6" r="0.75" fill="rgb(140,140,140)" fill-opacity="0.8"/>
<circle cx="332.8" cy="970.3" r="0.75" fill="rgb(97,97,97)" fill-opacity="0.8"/>
<circle cx="337.2" cy="974.8" r="0.75" fill="rgb(171,171,171)" fill-opacity="0.8"/>
<circle cx="328.6" cy="971.8" r="0.75" fill="rgb(139,139,139)" fill-opacity="0.8"/>
<circle cx="321.8" cy="974.9" r="0.75" fill="rgb(119,119,119)" fill-opacity="0.8"/>
<circle cx="322.7" cy="968.9" r="0.75" fill="rgb(127,127,127)" fill-opacity="0.8"/>
<circle cx="335.8" cy="970.6" r="0.75" fill="rgb(115,115,115)" fill-opacity="0.8"/>
<circle cx="335.0" cy="965.8" r="0.75" fill="rgb(168,168,168)" fill-opacity="0.8"/>
<circle cx="331.5" cy="967.1" r="0.75" fill="rgb(84,84,84)" fill-opacity="0.8"/>
<circle cx="321.3" cy="969.5" r="0.75" fill="rgb(117,117,117)" fill-opacity="0.8"/>
<circle cx="320.8" cy="969.5" r="0.75" fill="rgb(154,154,154)" fill-opacity="0.8"/>
<circle cx="325.8" cy="974.4" r="0.75" fill="rgb(126,126,126)" fill-opacity="0.8"/>
<circle cx="318.0" cy="973.5" r="0.75" fill="rgb(192,192,192)" fill-opacity="0.8"/>
<circle cx="319.5" cy="969.5" r="0.75" fill="rgb(100,100,100)" fill-opacity="0.8"/>
<circle cx="320.1" cy="967.8" r="0.75" fill="rgb(105,105,105)" fill-opacity="0.8"/>
<circle cx="337.4" cy="969.6" r="0.75" fill="rgb(124,124,124)" fill-opacity="0.8"/>
<circle cx="332.2" cy="965.8" r="0.75" fill="rgb(128,128,128)" fill-opacity="0.8"/>
<circle cx="335.1" cy="973.7" r="0.75" fill="rgb(188,188,188)" fill-opacity="0.8"/>
<circle cx="320.9" cy="969.7" r="0.75" fill="rgb(152,152,152)" fill-opacity="0.8"/>
<circle cx="322.0" cy="973.6" r="0.75" fill="rgb(138,138,138)" fill-opacity="0.8"/>
<circle cx="319.2" cy="970.8" r="0.75" fill="rgb(170,170,170)" fill-opacity="0.8"/>
<circle cx="318.9" cy="975.0" r="0.75" fill="rgb(130,130,130)" fill-opacity="0.8"/>
<circle cx="322.5" cy="968.7" r="0.75" fill="rgb(118,118,118)" fill-opacity="0.8"/>
<circle cx="319.7" cy="970.7" r="0.75" fill="rgb(120,120,120)" fill-opacity="0.8"/>
<circle cx="334.3" cy="969.4" r="0.75" fill="rgb(116,116,116)" fill-opacity="0.8"/>
<circle cx="329.0" cy="971.4" r="0.75" fill="rgb(164,164,164)" fill-opacity="0.8"/>
<circle cx="321.8" cy="967.6" r="0.75" fill="rgb(117,117,117)" fill-opacity="0.8"/>
<circle cx="332.3" cy="971.2" r="0.75" fill="rgb(130,130,130)" fill-opacity="0.8"/>
<circle cx="336.9" cy="971.0" r="0.75" fill="rgb(115,115,115)" fill-opacity="0.8"/>
<circle cx="328.2" cy="975.1" r="0.75" fill="rgb(114,114,114)" fill-opacity="0.8"/>
<circle cx="328.0" cy="974.0" r="0.75" fill="rgb(129,129,129)" fill-opacity="0.8"/>
<circle cx="326.6" cy="967.1" r="0.75" fill="rgb(143,143,143)" fill-opacity="0.8"/>
<circle cx="321.1" cy="967.7" r="0.75" fill="rgb(162,162,162)" fill-opacity="0.8"/>
<circle cx="335.5" cy="965.9" r="0.75" fill="rgb(95,95,95)" fill-opacity="0.8"/>
<circle cx="332.2" cy="970.8" r="0.75" fill="rgb(116,116,116)" fill-opacity="0.8"/>
<circle cx="320.7" cy="969.8" r="0.75" fill="rgb(117,117,117)" fill-opacity="0.8"/>
<circle cx="327.6" cy="969.5" r="0.75" fill="rgb(124,124,124)" fill-opacity="0.8"/>
<circle cx="320.9" cy="975.0" r="0.75" fill="rgb(185,185,185)" fill-opacity="0.8"/>
<circle cx="328.2" cy="970.9" r="0.75" fill="rgb(150,150,150)" fill-opacity="0.8"/>
<circle cx="316.3" cy="972.3" r="0.75" fill="rgb(167,167,167)" fill-opacity="0.8"/>
<circle cx="326.4" cy="970.4" r="0.75" fill="rgb(179,179,179)" fill-opacity="0.8"/>
<circle cx="331.2" cy="965.8" r="0.75" fill="rgb(168,168,168)" fill-opacity="0.8"/>
<circle cx="325.2" cy="965.5" r="0.75" fill="rgb(141,141,141)" fill-opacity="0.8"/>
<circle cx="335.0" cy="965.9" r="0.75" fill="rgb(140,140,140)" fill-opacity="0.8"/>
<circle cx="318.8" cy="974.4" r="0.75" fill="rgb(135,135,135)" fill-opacity="0.8"/>
<circle cx="334.7" cy="967.9" r="0.75" fill="rgb(177,177,177)" fill-opacity="0.8"/>
<circle cx="338.3" cy="973.0" r="0.75" fill="rgb(198,198,198)" fill-opacity="0.8"/>
<circle cx="329.5" cy="965.6" r="0.75" fill="rgb(162,162,162)" fill-opacity="0.8"/>
<circle cx="330.1" cy="964.4" r="0.75" fill="rgb(98,98,98)" fill-opacity="0.8"/>
<circle cx="333.1" cy="975.3" r="0.75" fill="rgb(173,173,173)" fill-opacity="0.8"/>
<circle cx="336.8" cy="969.8" r="0.75" fill="rgb(134,134,134)" fill-opacity="0.8"/>
<circle cx="318.1" cy="967.5" r="0.75" fill="rgb(88,88,88)" fill-opacity="0.8"/>
<circle cx="327.1" cy="967.2" r="0.75" fill="rgb(90,90,90)" fill-opacity="0.8"/>
<circle cx="330.4" cy="965.4" r="0.75" fill="rgb(83,83,83)" fill-opacity="0.8"/>
<circle cx="323.7" cy="974.3" r="0.75" fill="rgb(118,118,118)" fill-opacity="0.8"/>
<circle cx="338.3" cy="970.5" r="0.75" fill="rgb(86,86,86)" fill-opacity="0.8"/>
<circle cx="330.9" cy="972.2" r="0.75" fill="rgb(158,158,158)" fill-opacity="0.8"/>
<circle cx="320.4" cy="965.5" r="0.75" fill="rgb(171,171,171)" fill-opacity="0.8"/>
<circle cx="337.6" cy="966.6" r="0.75" fill="rgb(170,170,170)" fill-opacity="0.8"/>
<circle cx="332.0" cy="969.3" r="0.75" fill="rgb(158,158,158)" fill-opacity="0.8"/>
<circle cx="332.2" cy="976.0" r="0.75" fill="rgb(118,118,118)" fill-opacity="0.8"/>
<circle cx="325.9" cy="969.6" r="0.75" fill="rgb(93,93,93)" fill-opacity="0.8"/>
<circle cx="322.0" cy="965.8" r="0.75" fill="rgb(115,115,115)" fill-opacity="0.8"/>
<circle cx="336.7" cy="972.4" r="0.75" fill="rgb(175,175,175)" fill-opacity="0.8"/>
<circle cx="319.9" cy="973.7" r="0.75" fill="rgb(111,111,111)" fill-opacity="0.8"/>
<circle cx="321.4" cy="972.1" r="0.75" fill="rgb(156,156,156)" fill-opacity="0.8"/>
<circle cx="320.4" cy="970.9" r="0.75" fill="rgb(163,163,163)" fill-opacity="0.8"/>
<circle cx="325.7" cy="971.7" r="0.75" fill="rgb(169,169,169)" fill-opacity="0.8"/>
<circle cx="325.2" cy="975.4" r="0.75" fill="rgb(196,196,196)" fill-opacity="0.8"/>
<circle cx="315.9" cy="970.4" r="0.75" fill="rgb(151,151,151)" fill-opacity="0.8"/>
<circle cx="322.2" cy="969.6" r="0.75" fill="rgb(88,88,88)" fill-opacity="0.8"/>
<circle cx="321.8" cy="969.5" r="0.75" fill="rgb(176,176,176)" fill-opacity="0.8"/>
<circle cx="325.2" cy="977.0" r="0.75" fill="rgb(213,213,213)" fill-opacity="0.8"/>
<circle cx="328.5" cy="974.6" r="0.75" fill="rgb(204,204,204)" fill-opacity="0.8"/>
<circle cx="324.3" cy="972.1" r="0.75" fill="rgb(82,82,82)" fill-opacity="0.8"/>
<circle cx="325.7" cy="969.0" r="0.75" fill="rgb(165,165,165)" fill-opacity="0.8"/>
<circle cx="339.1" cy="972.0" r="0.75" fill="rgb(144,144,144)" fill-opacity="0.8"/>
<circle cx="322.7" cy="968.8" r="0.75" fill="rgb(139,139,139)" fill-opacity="0.8"/>
<circle cx="320.7" cy="971.1" r="0.75" fill="rgb(181,181,181)" fill-opacity="0.8"/>
<circle cx="318.8" cy="969.7" r="0.75" fill="rgb(129,129,129)" fill-opacity="0.8"/>
<circle cx="332.4" cy="971.4" r="0.75" fill="rgb(134,134,134)" fill-opacity="0.8"/>
<circle cx="325.3" cy="967.8" r="0.75" fill="rgb(94,94,94)" fill-opacity="0.8"/>
<circle cx="338.1" cy="973.8" r="0.75" fill="rgb(172,172,172)" fill-opacity="0.8"/>
<circle cx="329.8" cy="968.4" r="0.75" fill="rgb(159,159,159)" fill-opacity="0.8"/>
<circle cx="319.7" cy="974.8" r="0.75" fill="rgb(147,147,147)" fill-opacity="0.8"/>
<circle cx="322.9" cy="975.1" r="0.75" fill="rgb(154,154,154)" fill-opacity="0.8"/>
<circle cx="330.0" cy="966.7" r="0.75" fill="rgb(172,172,172)" fill-opacity="0.8"/>
<circle cx="332.7" cy="966.0" r="0.75" fill="rgb(182,182,182)" fill-opacity="0.8"/>
<circle cx="319.5" cy="965.8" r="0.75" fill="rgb(126,126,126)" fill-opacity="0.8"/>
<circle cx="318.2" cy="970.0" r="0.75" fill="rgb(153,153,153)" fill-opacity="0.8"/>
<circle cx="329.0" cy="973.3" r="0.75" fill="rgb(118,118,118)" fill-opacity="0.8"/>
<circle cx="329.7" cy="971.3" r="0.75" fill="rgb(105,105,105)" fill-opacity="0.8"/>
<circle cx="330.7" cy="975.0" r="0.75" fill="rgb(171,171,171)" fill-opacity="0.8"/>
<circle cx="323.9" cy="967.3" r="0.75" fill="rgb(134,134,134)" fill-opacity="0.8"/>
<circle cx="316.2" cy="971.8" r="0.75" fill="rgb(159,159,159)" fill-opacity="0.8"/>
<circle cx="334.1" cy="968.8" r="0.75" fill="rgb(139,139,139)" fill-opacity="0.8"/>
<circle cx="331.8" cy="972.1" r="0.75" fill="rgb(100,100,100)" fill-opacity="0.8"/>
<circle cx="338.3" cy="973.3" r="0.75" fill="rgb(170,170,170)" fill-opacity="0.8"/>
<circle cx="331.4" cy="973.3" r="0.75" fill="rgb(145,145,145)" fill-opacity="0.8"/>
<circle cx="332.3" cy="965.4" r="0.75" fill="rgb(166,166,166)" fill-opacity="0.8"/>
<circle cx="328.6" cy="975.2" r="0.75" fill="rgb(114,114,114)" fill-opacity="0.8"/>
<circle cx="321.7" cy="975.3" r="0.75" fill="rgb(150,150,150)" fill-opacity="0.8"/>
<circle cx="337.4" cy="968.5" r="0.75" fill="rgb(166,166,166)" fill-opacity="0.8"/>
<circle cx="316.7" cy="972.2" r="0.75" fill="rgb(99,99,99)" fill-opacity="0.8"/>
<circle cx="335.3" cy="974.2" r="0.75" fill="rgb(147,147,147)" fill-opacity="0.8"/>
<circle cx="321.9" cy="971.5" r="0.75" fill="rgb(100,100,100)" fill-opacity="0.8"/>
<circle cx="338.1" cy="971.8" r="0.75" fill="rgb(153,153,153)" fill-opacity="0.8"/>
<circle cx="328.2" cy="972.4" r="0.75" fill="rgb(131,131,131)" fill-opacity="0.8"/>
<circle cx="336.7" cy="967.7" r="0.75" fill="rgb(167,167,167)" fill-opacity="0.8"/>
<circle cx="324.6" cy="974.8" r="0.75" fill="rgb(146,146,146)" fill-opacity="0.8"/>
<circle cx="339.2" cy="973.3" r="0.75" fill="rgb(169,169,169)" fill-opacity="0.8"/>
<circle cx="331.0" cy="973.4" r="0.75" fill="rgb(196,196,196)" fill-opacity="0.8"/>
<circle cx="328.5" cy="971.9" r="0.75" fill="rgb(157,157,157)" fill-opacity="0.8"/>
<circle cx="316.6" cy="973.4" r="0.75" fill="rgb(110,110,110)" fill-opacity="0.8"/>
<circle cx="319.6" cy="971.7" r="0.75" fill="rgb(167,167,167)" fill-opacity="0.8"/>
<circle cx="325.6" cy="971.3" r="0.75" fill="rgb(150,150,150)" fill-opacity="0.8"/>
<circle cx="333.7" cy="965.4" r="0.75" fill="rgb(152,152,152)" fill-opacity="0.8"/>
<circle cx="325.5" cy="972.2" r="0.75" fill="rgb(89,89,89)" fill-opacity="0.8"/>
<circle cx="328.7" cy="976.5" r="0.75" fill="rgb(121,121,121)" fill-opacity="0.8"/>
<circle cx="330.5" cy="970.0" r="0.75" fill="rgb(111,111,111)" fill-opacity="0.8"/>
<circle cx="322.4" cy="966.9" r="0.75" fill="rgb(180,180,180)" fill-opacity="0.8"/>
<circle cx="333.7" cy="971.8" r="0.75" fill="rgb(132,132,132)" fill-opacity="0.8"/>
<circle cx="318.4" cy="972.4" r="0.75" fill="rgb(84,84,84)" fill-opacity="0.8"/>
<circle cx="333.0" cy="969.7" r="0.75" fill="rgb(169,169,169)" fill-opacity="0.8"/>
<circle cx="319.9" cy="970.4" r="0.75" fill="rgb(148,148,148)" fill-opacity="0.8"/>
<circle cx="329.0" cy="976.9" r="0.75" fill="rgb(211,211,211)" fill-opacity="0.8"/>
<circle cx="335.0" cy="973.6" r="0.75" fill="rgb(130,130,130)" fill-opacity="0.8"/>
<circle cx="318.4" cy="967.1" r="0.75" fill="rgb(107,107,107)" fill-opacity="0.8"/>
<circle cx="321.9" cy="967.5" r="0.75" fill="rgb(125,125,125)" fill-opacity="0.8"/>
<circle cx="318.4" cy="971.0" r="0.75" fill="rgb(128,128,128)" fill-opacity="0.8"/>
<circle cx="323.3" cy="970.3" r="0.75" fill="rgb(81,81,81)" fill-opacity="0.8"/>
<circle cx="333.7" cy="968.7" r="0.75" fill="rgb(137,137,137)" fill-opacity="0.8"/>
<circle cx="337.5" cy="966.4" r="0.75" fill="rgb(150,150,150)" fill-opacity="0.8"/>
<circle cx="333.0" cy="973.0" r="0.75" fill="rgb(121,121,121)" fill-opacity="0.8"/>
<circle cx="329.0" cy="967.3" r="0.75" fill="rgb(131,131,131)" fill-opacity="0.8"/>
<circle cx="326.1" cy="972.8" r="0.75" fill="rgb(90,90,90)" fill-opacity="0.8"/>
<circle cx="317.5" cy="971.6" r="0.75" fill="rgb(182,182,182)" fill-opacity="0.8"/>
<circle cx="319.2" cy="972.8" r="0.75" fill="rgb(111,111,111)" fill-opacity="0.8"/>
<circle cx="326.4" cy="975.2" r="0.75" fill="rgb(141,141,141)" fill-opacity="0.8"/>
<circle cx="333.1" cy="971.5" r="0.75" fill="rgb(116,116,116)" fill-opacity="0.8"/>
<circle cx="336.5" cy="966.4" r="0.75" fill="rgb(89,89,89)" fill-opacity="0.8"/>
<circle cx="321.7" cy="972.4" r="0.75" fill="rgb(176,176,176)" fill-opacity="0.8"/>
<circle cx="327.8" cy="970.5" r="0.75" fill="rgb(116,116,116)" fill-opacity="0.8"/>
<circle cx="321.6" cy="965.9" r="0.75" fill="rgb(153,153,153)" fill-opacity="0.8"/>
<circle cx="332.5" cy="971.0" r="0.75" fill="rgb(168,168,168)" fill-opacity="0.8"/>
<circle cx="321.0" cy="965.3" r="0.75" fill="rgb(173,173,173)" fill-opacity="0.8"/>
<circle cx="335.6" cy="971.9" r="0.75" fill="rgb(93,93,93)" fill-opacity="0.8"/>
<circle cx="330.7" cy="966.8" r="0.75" fill="rgb(96,96,96)" fill-opacity="0.8"/>
<circle cx="324.8" cy="973.9" r="0.75" fill="rgb(127,127,127)" fill-opacity="0.8"/>
<circle cx="327.0" cy="976.0" r="0.75" fill="rgb(146,146,146)" fill-opacity="0.8"/>
<circle cx="336.8" cy="971.6" r="0.75" fill="rgb(174,174,174)" fill-opacity="0.8"/>
<circle cx="325.9" cy="970.2" r="0.75" fill="rgb(86,86,86)" fill-opacity="0.8"/>
<circle cx="339.0" cy="969.5" r="0.75" fill="rgb(135,135,135)" fill-opacity="0.8"/>
<circle cx="335.6" cy="965.6" r="0.75" fill="rgb(158,158,158)" fill-opacity="0.8"/>
<circle cx="336.8" cy="971.1" r="0.75" fill="rgb(96,96,96)" fill-opacity="0.8"/>
<circle cx="323.1" cy="973.5" r="0.75" fill="rgb(111,111,111)" fill-opacity="0.8"/>
<circle cx="332.9" cy="975.0" r="0.75" fill="rgb(130,130,130)" fill-opacity="0.8"/>
<circle cx="327.2" cy="968.6" r="0.75" fill="rgb(147,147,147)" fill-opacity="0.8"/>
<circle cx="320.0" cy="967.4" r="0.75" fill="rgb(98,98,98)" fill-opacity="0.8"/>
<circle cx="316.4" cy="972.7" r="0.75" fill="rgb(181,181,181)" fill-opacity="0.8"/>
<circle cx="321.3" cy="972.2" r="0.75" fill="rgb(137,137,137)" fill-opacity="0.8"/>
<circle cx="335.1" cy="968.3" r="0.75" fill="rgb(135,135,135)" fill-opacity="0.8"/>
<circle cx="329.1" cy="971.9" r="0.75" fill="rgb(165,165,165)" fill-opacity="0.8"/>
<circle cx="336.2" cy="968.7" r="0.75" fill="rgb(142,142,142)" fill-opacity="0.8"/>
<circle cx="324.5" cy="969.4" r="0.75" fill="rgb(184,184,184)" fill-opacity="0.8"/>
<circle cx="333.9" cy="966.2" r="0.75" fill="rgb(106,106,106)" fill-opacity="0.8"/>
<circle cx="330.0" cy="970.4" r="0.75" fill="rgb(153,153,153)" fill-opacity="0.8"/>
<circle cx="328.7" cy="976.1" r="0.75" fill="rgb(155,155,155)" fill-opacity="0.8"/>
<circle cx="323.3" cy="972.5" r="0.75" fill="rgb(115,115,115)" fill-opacity="0.8"/>
<circle cx="330.8" cy="967.3" r="0.75" fill="rgb(146,146,146)" fill-opacity="0.8"/>
<circle cx="321.1" cy="975.1" r="0.75" fill="rgb(140,140,140)" fill-opacity="0.8"/>
<circle cx="320.3" cy="975.0" r="0.75" fill="rgb(214,214,214)" fill-opacity="0.8"/>
<circle cx="339.2" cy="969.9" r="0.75" fill="rgb(188,188,188)" fill-opacity="0.8"/>
<circle cx="335.9" cy="972.4" r="0.75" fill="rgb(124,124,124)" fill-opacity="0.8"/>
<circle cx="334.9" cy="975.3" r="0.75" fill="rgb(172,172,172)" fill-opacity="0.8"/>
<circle cx="325.0" cy="972.0" r="0.75" fill="rgb(130,130,130)" fill-opacity="0.8"/>
<circle cx="336.4" cy="973.9" r="0.75" fill="rgb(135,135,135)" fill-opacity="0.8"/>
<circle cx="330.9" cy="965.1" r="0.75" fill="rgb(141,141,141)" fill-opacity="0.8"/>
<circle cx="323.0" cy="965.0" r="0.75" fill="rgb(159,159,159)" fill-opacity="0.8"/>
<circle cx="332.5" cy="972.2" r="0.75" fill="rgb(168,168,168)" fill-opacity="0.8"/>
<circle cx="336.7" cy="970.9" r="0.75" fill="rgb(155,155,155)" fill-opacity="0.8"/>
<circle cx="338.9" cy="986.9" r="0.75" fill="rgb(206,206,206)" fill-opacity="0.8"/>
<circle cx="334.0" cy="977.6" r="0.75" fill="rgb(180,180,180)" fill-opacity="0.8"/>
<circle cx="337.6" cy="984.6" r="0.75" fill="rgb(194,194,194)" fill-opacity="0.8"/>
<circle cx="340.0" cy="991.0" r="0.75" fill="rgb(188,188,188)" fill-opacity="0.8"/>
<circle cx="331.9" cy="980.2" r="0.75" fill="rgb(122,122,122)" fill-opacity="0.8"/>
<circle cx="337.9" cy="988.1" r="0.75" fill="rgb(129,129,129)" fill-opacity="0.8"/>
<circle cx="334.9" cy="974.9" r="0.75" fill="rgb(172,172,172)" fill-opacity="0.8"/>
<circle cx="337.7" cy="981.1" r="0.75" fill="rgb(150,150,150)" fill-opacity="0.8"/>
<circle cx="335.0" cy="975.5" r="0.75" fill="rgb(158,158,158)" fill-opacity="0.8"/>
<circle cx="339.5" cy="990.0" r="0.75" fill="rgb(197,197,197)" fill-opacity="0.8"/>
<circle cx="339.2" cy="988.4" r="0.75" fill="rgb(135,135,135)" fill-opacity="0.8"/>
<circle cx="338.1" cy="980.1" r="0.75" fill="rgb(170,170,170)" fill-opacity="0.8"/>
<circle cx="340.4" cy="992.4" r="0.75" fill="rgb(203,203,203)" fill-opacity="0.8"/>
<circle cx="338.7" cy="987.3" r="0.75" fill="rgb(161,161,161)" fill-opacity="0.8"/>
<circle cx="339.0" cy="984.1" r="0.75" fill="rgb(190,190,190)" fill-opacity="0.8"/>
<circle cx="340.4" cy="988.3" r="0.75" fill="rgb(132,132,132)" fill-opacity="0.8"/>
<circle cx="335.5" cy="980.7" r="0.75" fill="rgb(199,199,199)" fill-opacity="0.8"/>
<circle cx="335.6" cy="977.3" r="0.75" fill="rgb(172,172,172)" fill-opacity="0.8"/>
<circle cx="339.9" cy="990.2" r="0.75" fill="rgb(192,192,192)" fill-opacity="0.8"/>
<circle cx="337.5" cy="986.1" r="0.75" fill="rgb(172,172,172)" fill-opacity="0.8"/>
<circle cx="335.6" cy="984.2" r="0.75" fill="rgb(151,151,151)" fill-opacity="0.8"/>
<circle cx="336.1" cy="983.0" r="0.75" fill="rgb(162,162,162)" fill-opacity="0.8"/>
<circle cx="336.5" cy="979.5" r="0.75" fill="rgb(192,192,192)" fill-opacity="0.8"/>
<circle cx="336.7" cy="985.5" r="0.75" fill="rgb(161,161,161)" fill-opacity="0.8"/>
<circle cx="337.1" cy="985.2" r="0.75" fill="rgb(129,129,129)" fill-opacity="0.8"/>
<circle cx="331.8" cy="977.3" r="0.75" fill="rgb(129,129,129)" fill-opacity="0.8"/>
<circle cx="338.0" cy="980.3" r="0.75" fill="rgb(149,149,149)" fill-opacity="0.8"/>
<circle cx="338.5" cy="990.7" r="0.75" fill="rgb(132,132,132)" fill-opacity="0.8"/>
<circle cx="334.0" cy="975.5" r="0.75" fill="rgb(162,162,162)" fill-opacity="0.8"/>
<circle cx="334.9" cy="978.4" r="0.75" fill="rgb(176,176,176)" fill-opacity="0.8"/>
<circle cx="340.7" cy="987.3" r="0.75" fill="rgb(190,190,190)" fill-opacity="0.8"/>
<circle cx="338.2" cy="991.0" r="0.75" fill="rgb(133,133,133)" fill-opacity="0.8"/>
<circle cx="337.4" cy="981.8" r="0.75" fill="rgb(161,161,161)" fill-opacity="0.8"/>
<circle cx="334.7" cy="983.2" r="0.75" fill="rgb(130,130,130)" fill-opacity="0.8"/>
<circle cx="337.8" cy="979.9" r="0.75" fill="rgb(120,120,120)" fill-opacity="0.8"/>
<circle cx="334.0" cy="977.5" r="0.75" fill="rgb(207,207,207)" fill-opacity="0.8"/>
<circle cx="333.3" cy="976.8" r="0.75" fill="rgb(129,129,129)" fill-opacity="0.8"/>
<circle cx="340.2" cy="984.1" r="0.75" fill="rgb(122,122,122)" fill-opacity="0.8"/>
<circle cx="333.7" cy="978.3" r="0.75" fill="rgb(145,145,145)" fill-opacity="0.8"/>
<circle cx="339.9" cy="993.2" r="0.75" fill="rgb(183,183,183)" fill-opacity="0.8"/>
<circle cx="339.0" cy="987.1" r="0.75" fill="rgb(134,134,134)" fill-opacity="0.8"/>
<circle cx="334.9" cy="983.3" r="0.75" fill="rgb(186,186,186)" fill-opacity="0.8"/>
<circle cx="338.3" cy="987.2" r="0.75" fill="rgb(154,154,154)" fill-opacity="0.8"/>
<circle cx="340.2" cy="988.4" r="0.75" fill="rgb(132,132,132)" fill-opacity="0.8"/>
<circle cx="337.4" cy="986.3" r="0.75" fill="rgb(169,169,169)" fill-opacity="0.8"/>
<circle cx="340.4" cy="992.7" r="0.75" fill="rgb(136,136,136)" fill-opacity="0.8"/>
<circle cx="342.8" cy="990.7" r="0.75" fill="rgb(166,166,166)" fill-opacity="0.8"/>
<circle cx="342.1" cy="990.8" r="0.75" fill="rgb(169,169,169)" fill-opacity="0.8"/>
<circle cx="344.2" cy="993.1" r="0.75" fill="rgb(144,144,144)" fill-opacity="0.8"/>
<circle cx="339.5" cy="994.0" r="0.75" fill="rgb(130,130,130)" fill-opacity="0.8"/>
<circle cx="338.6" cy="991.9" r="0.75" fill="rgb(180,180,180)" fill-opacity="0.8"/>
<circle cx="339.5" cy="985.5" r="0.75" fill="rgb(184,184,184)" fill-opacity="0.8"/>
<circle cx="334.6" cy="982.4" r="0.75" fill="rgb(202,202,202)" fill-opacity="0.8"/>
<circle cx="337.8" cy="986.7" r="0.75" fill="rgb(173,173,173)" fill-opacity="0.8"/>
<circle cx="337.0" cy="991.1" r="0.75" fill="rgb(175,175,175)" fill-opacity="0.8"/>
<circle cx="336.5" cy="995.6" r="0.75" fill="rgb(141,141,141)" fill-opacity="0.8"/>
<circle cx="342.3" cy="993.7" r="0.75" fill="rgb(174,174,174)" fill-opacity="0.8"/>
<circle cx="341.6" cy="991.6" r="0.75" fill="rgb(170,170,170)" fill-opacity="0.8"/>
<circle cx="337.1" cy="984.9" r="0.75" fill="rgb(156,156,156)" fill-opacity="0.8"/>
<circle cx="332.6" cy="974.5" r="0.75" fill="rgb(178,178,178)" fill-opacity="0.8"/>
<circle cx="334.8" cy="977.1" r="0.75" fill="rgb(172,172,172)" fill-opacity="0.8"/>
<circle cx="340.7" cy="992.2" r="0.75" fill="rgb(183,183,183)" fill-opacity="0.8"/>
<circle cx="340.4" cy="992.9" r="0.75" fill="rgb(150,150,150)" fill-opacity="0.8"/>
<circle cx="333.5" cy="978.6" r="0.75" fill="rgb(121,121,121)" fill-opacity="0.8"/>
<circle cx="334.6" cy="979.7" r="0.75" fill="rgb(203,203,203)" fill-opacity="0.8"/>
<circle cx="337.2" cy="982.0" r="0.75" fill="rgb(186,186,186)" fill-opacity="0.8"/>
<circle cx="342.3" cy="991.2" r="0.75" fill="rgb(156,156,156)" fill-opacity="0.8"/>
<circle cx="334.2" cy="977.1" r="0.75" fill="rgb(167,167,167)" fill-opacity="0.8"/>
<circle cx="339.1" cy="991.9" r="0.75" fill="rgb(150,150,150)" fill-opacity="0.8"/>
<circle cx="341.3" cy="993.5" r="0.75" fill="rgb(121,121,121)" fill-opacity="0.8"/>
<circle cx="340.7" cy="990.2" r="0.75" fill="rgb(210,210,210)" fill-opacity="0.8"/>
<circle cx="335.9" cy="977.1" r="0.75" fill="rgb(149,149,149)" fill-opacity="0.8"/>
<circle cx="335.7" cy="983.7" r="0.75" fill="rgb(127,127,127)" fill-opacity="0.8"/>
<circle cx="340.2" cy="992.3" r="0.75" fill="rgb(164,164,164)" fill-opacity="0.8"/>
<circle cx="338.2" cy="989.5" r="0.75" fill="rgb(133,133,133)" fill-opacity="0.8"/>
<circle cx="340.4" cy="987.3" r="0.75" fill="rgb(187,187,187)" fill-opacity="0.8"/>
<circle cx="334.5" cy="980.2" r="0.75" fill="rgb(169,169,169)" fill-opacity="0.8"/>
<circle cx="341.0" cy="994.5" r="0.75" fill="rgb(207,207,207)" fill-opacity="0.8"/>
<circle cx="332.5" cy="978.0" r="0.75" fill="rgb(187,187,187)" fill-opacity="0.8"/>
<circle cx="340.3" cy="988.0" r="0.75" fill="rgb(190,190,190)" fill-opacity="0.8"/>
<circle cx="335.5" cy="983.4" r="0.75" fill="rgb(128,128,128)" fill-opacity="0.8"/>
<circle cx="336.9" cy="984.6" r="0.75" fill="rgb(178,178,178)" fill-opacity="0.8"/>
<circle cx="334.7" cy="976.2" r="0.75" fill="rgb(138,138,138)" fill-opacity="0.8"/>
<circle cx="335.4" cy="984.6" r="0.75" fill="rgb(181,181,181)" fill-opacity="0.8"/>
<circle cx="339.8" cy="989.2" r="0.75" fill="rgb(123,123,123)" fill-opacity="0.8"/>
<circle cx="337.1" cy="988.4" r="0.75" fill="rgb(151,151,151)" fill-opacity="0.8"/>
<circle cx="336.6" cy="987.3" r="0.75" fill="rgb(142,142,142)" fill-opacity="0.8"/>
<circle cx="335.4" cy="985.7" r="0.75" fill="rgb(165,165,165)" fill-opacity="0.8"/>
<circle cx="338.8" cy="986.1" r="0.75" fill="rgb(198,198,198)" fill-opacity="0.8"/>
<circle cx="338.2" cy="984.7" r="0.75" fill="rgb(195,195,195)" fill-opacity="0.8"/>
<circle cx="318.1" cy="1019.0" r="1" fill="#888"/>
<circle cx="353.0" cy="990.0" r="1" fill="#bbb"/>
<circle cx="369.7" cy="986.3" r="1" fill="#aaa"/>
<circle cx="371.2" cy="1024.8" r="1" fill="#ccc"/>
<circle cx="325.4" cy="961.0" r="1" fill="#999"/>
<circle cx="443.2" cy="972.8" r="0.75" fill="rgb(92,92,92)" fill-opacity="0.8"/>
<circle cx="442.5" cy="967.3" r="0.75" fill="rgb(53,53,53)" fill-opacity="0.8"/>
<circle cx="439.8" cy="969.4" r="0.75" fill="rgb(115,115,115)" fill-opacity="0.8"/>
<circle cx="459.5" cy="972.7" r="0.75" fill="rgb(36,36,36)" fill-opacity="0.8"/>
<circle cx="460.2" cy="972.1" r="0.75" fill="rgb(63,63,63)" fill-opacity="0.8"/>
<circle cx="443.0" cy="965.6" r="0.75" fill="rgb(117,117,117)" fill-opacity="0.8"/>
<circle cx="456.5" cy="965.1" r="0.75" fill="rgb(112,112,112)" fill-opacity="0.8"/>
<circle cx="452.4" cy="968.7" r="0.75" fill="rgb(64,64,64)" fill-opacity="0.8"/>
<circle cx="449.6" cy="974.2" r="0.75" fill="rgb(55,55,55)" fill-opacity="0.8"/>
<circle cx="455.1" cy="968.0" r="0.75" fill="rgb(109,109,109)" fill-opacity="0.8"/>
<circle cx="457.0" cy="968.0" r="0.75" fill="rgb(44,44,44)" fill-opacity="0.8"/>
<circle cx="443.2" cy="965.3" r="0.75" fill="rgb(65,65,65)" fill-opacity="0.8"/>
<circle cx="455.3" cy="969.6" r="0.75" fill="rgb(36,36,36)" fill-opacity="0.8"/>
<circle cx="457.3" cy="975.9" r="0.75" fill="rgb(136,136,136)" fill-opacity="0.8"/>
<circle cx="441.2" cy="973.0" r="0.75" fill="rgb(108,108,108)" fill-opacity="0.8"/>
<circle cx="445.6" cy="972.4" r="0.75" fill="rgb(87,87,87)" fill-opacity="0.8"/>
<circle cx="454.3" cy="974.7" r="0.75" fill="rgb(128,128,128)" fill-opacity="0.8"/>
<circle cx="449.1" cy="971.3" r="0.75" fill="rgb(80,80,80)" fill-opacity="0.8"/>
<circle cx="449.0" cy="975.2" r="0.75" fill="rgb(123,123,123)" fill-opacity="0.8"/>
<circle cx="455.5" cy="969.7" r="0.75" fill="rgb(55,55,55)" fill-opacity="0.8"/>
<circle cx="445.8" cy="967.0" r="0.75" fill="rgb(57,57,57)" fill-opacity="0.8"/>
<circle cx="453.5" cy="967.5" r="0.75" fill="rgb(38,38,38)" fill-opacity="0.8"/>
<circle cx="452.7" cy="974.7" r="0.75" fill="rgb(121,121,121)" fill-opacity="0.8"/>
<circle cx="449.1" cy="975.8" r="0.75" fill="rgb(137,137,137)" fill-opacity="0.8"/>
<circle cx="459.7" cy="973.7" r="0.75" fill="rgb(143,143,143)" fill-opacity="0.8"/>
<circle cx="450.9" cy="966.8" r="0.75" fill="rgb(38,38,38)" fill-opacity="0.8"/>
<circle cx="454.6" cy="968.0" r="0.75" fill="rgb(99,99,99)" fill-opacity="0.8"/>
<circle cx="454.8" cy="975.8" r="0.75" fill="rgb(124,124,124)" fill-opacity="0.8"/>
<circle cx="442.6" cy="974.1" r="0.75" fill="rgb(147,147,147)" fill-opacity="0.8"/>
<circle cx="450.4" cy="968.5" r="0.75" fill="rgb(67,67,67)" fill-opacity="0.8"/>
<circle cx="455.2" cy="968.1" r="0.75" fill="rgb(62,62,62)" fill-opacity="0.8"/>
<circle cx="448.3" cy="966.5" r="0.75" fill="rgb(77,77,77)" fill-opacity="0.8"/>
<circle cx="456.3" cy="972.0" r="0.75" fill="rgb(48,48,48)" fill-opacity="0.8"/>
<circle cx="453.7" cy="971.1" r="0.75" fill="rgb(119,119,119)" fill-opacity="0.8"/>
<circle cx="457.1" cy="967.8" r="0.75" fill="rgb(38,38,38)" fill-opacity="0.8"/>
<circle cx="446.7" cy="971.0" r="0.75" fill="rgb(78,78,78)" fill-opacity="0.8"/>
<circle cx="459.3" cy="971.4" r="0.75" fill="rgb(62,62,62)" fill-opacity="0.8"/>
<circle cx="444.0" cy="966.2" r="0.75" fill="rgb(66,66,66)" fill-opacity="0.8"/>
<circle cx="461.1" cy="968.0" r="0.75" fill="rgb(84,84,84)" fill-opacity="0.8"/>
<circle cx="446.2" cy="972.5" r="0.75" fill="rgb(56,56,56)" fill-opacity="0.8"/>
<circle cx="456.9" cy="973.8" r="0.75" fill="rgb(65,65,65)" fill-opacity="0.8"/>
<circle cx="444.3" cy="966.2" r="0.75" fill="rgb(73,73,73)" fill-opacity="0.8"/>
<circle cx="444.0" cy="971.9" r="0.75" fill="rgb(95,95,95)" fill-opacity="0.8"/>
<circle cx="439.1" cy="972.3" r="0.75" fill="rgb(30,30,30)" fill-opacity="0.8"/>
<circle cx="452.3" cy="975.2" r="0.75" fill="rgb(72,72,72)" fill-opacity="0.8"/>
<circle cx="442.7" cy="974.2" r="0.75" fill="rgb(79,79,79)" fill-opacity="0.8"/>
<circle cx="444.8" cy="975.9" r="0.75" fill="rgb(122,122,122)" fill-opacity="0.8"/>
<circle cx="456.2" cy="972.2" r="0.75" fill="rgb(107,107,107)" fill-opacity="0.8"/>
<circle cx="441.9" cy="971.5" r="0.75" fill="rgb(98,98,98)" fill-opacity="0.8"/>
<circle cx="445.8" cy="968.1" r="0.75" fill="rgb(46,46,46)" fill-opacity="0.8"/>
<circle cx="449.8" cy="967.3" r="0.75" fill="rgb(85,85,85)" fill-opacity="0.8"/>
<circle cx="441.3" cy="973.8" r="0.75" fill="rgb(67,67,67)" fill-opacity="0.8"/>
<circle cx="453.7" cy="972.8" r="0.75" fill="rgb(113,113,113)" fill-opacity="0.8"/>
<circle cx="460.4" cy="968.8" r="0.75" fill="rgb(81,81,81)" fill-opacity="0.8"/>
<circle cx="454.6" cy="970.6" r="0.75" fill="rgb(46,46,46)" fill-opacity="0.8"/>
<circle cx="443.4" cy="966.2" r="0.75" fill="rgb(57,57,57)" fill-opacity="0.8"/>
<circle cx="441.5" cy="966.4" r="0.75" fill="rgb(45,45,45)" fill-opacity="0.8"/>
<circle cx="452.8" cy="966.3" r="0.75" fill="rgb(63,63,63)" fill-opacity="0.8"/>
<circle cx="444.5" cy="969.0" r="0.75" fill="rgb(70,70,70)" fill-opacity="0.8"/>
<circle cx="447.0" cy="966.0" r="0.75" fill="rgb(96,96,96)" fill-opacity="0.8"/>
<circle cx="457.9" cy="974.6" r="0.75" fill="rgb(98,98,98)" fill-opacity="0.8"/>
<circle cx="442.3" cy="968.5" r="0.75" fill="rgb(87,87,87)" fill-opacity="0.8"/>
<circle cx="456.4" cy="967.2" r="0.75" fill="rgb(102,102,102)" fill-opacity="0.8"/>
<circle cx="448.6" cy="974.3" r="0.75" fill="rgb(91,91,91)" fill-opacity="0.8"/>
<circle cx="455.4" cy="973.8" r="0.75" fill="rgb(108,108,108)" fill-opacity="0.8"/>
<circle cx="442.5" cy="974.8" r="0.75" fill="rgb(92,92,92)" fill-opacity="0.8"/>
<circle cx="443.9" cy="965.8" r="0.75" fill="rgb(118,118,118)" fill-opacity="0.8"/>
<circle cx="458.5" cy="971.5" r="0.75" fill="rgb(45,45,45)" fill-opacity="0.8"/>
<circle cx="445.6" cy="976.2" r="0.75" fill="rgb(139,139,139)" fill-opacity="0.8"/>
<circle cx="447.7" cy="976.5" r="0.75" fill="rgb(130,130,130)" fill-opacity="0.8"/>
<circle cx="446.7" cy="967.2" r="0.75" fill="rgb(118,118,118)" fill-opacity="0.8"/>
<circle cx="442.9" cy="970.0" r="0.75" fill="rgb(113,113,113)" fill-opacity="0.8"/>
<circle cx="441.6" cy="966.7" r="0.75" fill="rgb(45,45,45)" fill-opacity="0.8"/>
<circle cx="441.1" cy="968.1" r="0.75" fill="rgb(93,93,93)" fill-opacity="0.8"/>
<circle cx="452.8" cy="965.0" r="0.75" fill="rgb(72,72,72)" fill-opacity="0.8"/>
<circle cx="458.8" cy="971.9" r="0.75" fill="rgb(86,86,86)" fill-opacity="0.8"/>
<circle cx="460.6" cy="969.6" r="0.75" fill="rgb(46,46,46)" fill-opacity="0.8"/>
<circle cx="461.4" cy="969.6" r="0.75" fill="rgb(55,55,55)" fill-opacity="0.8"/>
<circle cx="446.0" cy="967.0" r="0.75" fill="rgb(38,38,38)" fill-opacity="0.8"/>
<circle cx="442.5" cy="974.1" r="0.75" fill="rgb(84,84,84)" fill-opacity="0.8"/>
<circle cx="442.7" cy="965.6" r="0.75" fill="rgb(51,51,51)" fill-opacity="0.8"/>
<circle cx="444.7" cy="966.4" r="0.75" fill="rgb(120,120,120)" fill-opacity="0.8"/>
<circle cx="456.9" cy="968.9" r="0.75" fill="rgb(99,99,99)" fill-opacity="0.8"/>
<circle cx="446.3" cy="975.9" r="0.75" fill="rgb(102,102,102)" fill-opacity="0.8"/>
<circle cx="441.3" cy="968.9" r="0.75" fill="rgb(81,81,81)" fill-opacity="0.8"/>
<circle cx="452.3" cy="965.1" r="0.75" fill="rgb(58,58,58)" fill-opacity="0.8"/>
<circle cx="449.4" cy="970.5" r="0.75" fill="rgb(79,79,79)" fill-opacity="0.8"/>
<circle cx="451.4" cy="970.9" r="0.75" fill="rgb(49,49,49)" fill-opacity="0.8"/>
<circle cx="456.6" cy="973.4" r="0.75" fill="rgb(111,111,111)" fill-opacity="0.8"/>
<circle cx="456.9" cy="967.9" r="0.75" fill="rgb(62,62,62)" fill-opacity="0.8"/>
<circle cx="448.0" cy="970.5" r="0.75" fill="rgb(114,114,114)" fill-opacity="0.8"/>
<circle cx="451.1" cy="965.4" r="0.75" fill="rgb(104,104,104)" fill-opacity="0.8"/>
<circle cx="442.0" cy="966.9" r="0.75" fill="rgb(104,104,104)" fill-opacity="0.8"/>
<circle cx="452.9" cy="975.7" r="0.75" fill="rgb(111,111,111)" fill-opacity="0.8"/>
<circle cx="455.6" cy="970.4" r="0.75" fill="rgb(33,33,33)" fill-opacity="0.8"/>
<circle cx="448.1" cy="967.8" r="0.75" fill="rgb(93,93,93)" fill-opacity="0.8"/>
<circle cx="447.5" cy="972.0" r="0.75" fill="rgb(53,53,53)" fill-opacity="0.8"/>
<circle cx="448.2" cy="971.3" r="0.75" fill="rgb(32,32,32)" fill-opacity="0.8"/>
<circle cx="446.7" cy="976.0" r="0.75" fill="rgb(104,104,104)" fill-opacity="0.8"/>
<circle cx="441.5" cy="974.3" r="0.75" fill="rgb(69,69,69)" fill-opacity="0.8"/>
<circle cx="458.2" cy="967.2" r="0.75" fill="rgb(52,52,52)" fill-opacity="0.8"/>
<circle cx="458.0" cy="975.2" r="0.75" fill="rgb(73,73,73)" fill-opacity="0.8"/>
<circle cx="448.3" cy="971.2" r="0.75" fill="rgb(83,83,83)" fill-opacity="0.8"/>
<circle cx="444.5" cy="970.1" r="0.75" fill="rgb(113,113,113)" fill-opacity="0.8"/>
<circle cx="456.6" cy="966.4" r="0.75" fill="rgb(36,36,36)" fill-opacity="0.8"/>
<circle cx="458.2" cy="966.0" r="0.75" fill="rgb(78,78,78)" fill-opacity="0.8"/>
<circle cx="455.3" cy="965.0" r="0.75" fill="rgb(96,96,96)" fill-opacity="0.8"/>
<circle cx="457.8" cy="966.9" r="0.75" fill="rgb(81,81,81)" fill-opacity="0.8"/>
<circle cx="449.4" cy="967.6" r="0.75" fill="rgb(99,99,99)" fill-opacity="0.8"/>
<circle cx="450.0" cy="976.1" r="0.75" fill="rgb(60,60,60)" fill-opacity="0.8"/>
<circle cx="453.2" cy="975.1" r="0.75" fill="rgb(75,75,75)" fill-opacity="0.8"/>
<circle cx="447.4" cy="972.1" r="0.75" fill="rgb(102,102,102)" fill-opacity="0.8"/>
<circle cx="439.7" cy="973.0" r="0.75" fill="rgb(135,135,135)" fill-opacity="0.8"/>
<circle cx="449.8" cy="971.1" r="0.75" fill="rgb(44,44,44)" fill-opacity="0.8"/>
<circle cx="446.6" cy="964.4" r="0.75" fill="rgb(120,120,120)" fill-opacity="0.8"/>
<circle cx="459.3" cy="970.8" r="0.75" fill="rgb(66,66,66)" fill-opacity="0.8"/>
<circle cx="448.3" cy="964.5" r="0.75" fill="rgb(87,87,87)" fill-opacity="0.8"/>
<circle cx="450.6" cy="971.0" r="0.75" fill="rgb(32,32,32)" fill-opacity="0.8"/>
<circle cx="448.7" cy="966.6" r="0.75" fill="rgb(86,86,86)" fill-opacity="0.8"/>
<circle cx="449.1" cy="975.6" r="0.75" fill="rgb(97,97,97)" fill-opacity="0.8"/>
<circle cx="442.9" cy="967.6" r="0.75" fill="rgb(46,46,46)" fill-opacity="0.8"/>
<circle cx="442.7" cy="973.7" r="0.75" fill="rgb(57,57,57)" fill-opacity="0.8"/>
<circle cx="450.9" cy="974.2" r="0.75" fill="rgb(120,120,120)" fill-opacity="0.8"/>
<circle cx="458.3" cy="972.7" r="0.75" fill="rgb(53,53,53)" fill-opacity="0.8"/>
<circle cx="458.8" cy="973.3" r="0.75" fill="rgb(95,95,95)" fill-opacity="0.8"/>
<circle cx="458.9" cy="973.7" r="0.75" fill="rgb(107,107,107)" fill-opacity="0.8"/>
<circle cx="453.4" cy="974.1" r="0.75" fill="rgb(60,60,60)" fill-opacity="0.8"/>
<circle cx="446.2" cy="975.7" r="0.75" fill="rgb(70,70,70)" fill-opacity="0.8"/>
<circle cx="460.6" cy="967.8" r="0.75" fill="rgb(107,107,107)" fill-opacity="0.8"/>
<circle cx="457.1" cy="966.7" r="0.75" fill="rgb(35,35,35)" fill-opacity="0.8"/>
<circle cx="458.7" cy="971.8" r="0.75" fill="rgb(85,85,85)" fill-opacity="0.8"/>
<circle cx="451.4" cy="974.2" r="0.75" fill="rgb(109,109,109)" fill-opacity="0.8"/>
<circle cx="448.5" cy="975.0" r="0.75" fill="rgb(64,64,64)" fill-opacity="0.8"/>
<circle cx="458.8" cy="969.7" r="0.75" fill="rgb(62,62,62)" fill-opacity="0.8"/>
<circle cx="454.7" cy="966.2" r="0.75" fill="rgb(34,34,34)" fill-opacity="0.8"/>
<circle cx="456.1" cy="969.1" r="0.75" fill="rgb(37,37,37)" fill-opacity="0.8"/>
<circle cx="455.3" cy="975.0" r="0.75" fill="rgb(109,109,109)" fill-opacity="0.8"/>
<circle cx="456.2" cy="972.6" r="0.75" fill="rgb(51,51,51)" fill-opacity="0.8"/>
<circle cx="447.5" cy="972.3" r="0.75" fill="rgb(66,66,66)" fill-opacity="0.8"/>
<circle cx="459.5" cy="974.1" r="0.75" fill="rgb(96,96,96)" fill-opacity="0.8"/>
<circle cx="462.0" cy="972.0" r="0.75" fill="rgb(114,114,114)" fill-opacity="0.8"/>
<circle cx="452.1" cy="969.5" r="0.75" fill="rgb(54,54,54)" fill-opacity="0.8"/>
<circle cx="455.3" cy="968.2" r="0.75" fill="rgb(83,83,83)" fill-opacity="0.8"/>
<circle cx="453.9" cy="966.4" r="0.75" fill="rgb(69,69,69)" fill-opacity="0.8"/>
<circle cx="446.2" cy="970.4" r="0.75" fill="rgb(90,90,90)" fill-opacity="0.8"/>
<circle cx="442.4" cy="968.7" r="0.75" fill="rgb(109,109,109)" fill-opacity="0.8"/>
<circle cx="453.5" cy="975.9" r="0.75" fill="rgb(109,109,109)" fill-opacity="0.8"/>
<circle cx="452.2" cy="971.8" r="0.75" fill="rgb(66,66,66)" fill-opacity="0.8"/>
<circle cx="455.0" cy="968.1" r="0.75" fill="rgb(71,71,71)" fill-opacity="0.8"/>
<circle cx="439.3" cy="973.6" r="0.75" fill="rgb(68,68,68)" fill-opacity="0.8"/>
<circle cx="453.8" cy="974.5" r="0.75" fill="rgb(148,148,148)" fill-opacity="0.8"/>
<circle cx="446.8" cy="975.3" r="0.75" fill="rgb(130,130,130)" fill-opacity="0.8"/>
<circle cx="450.4" cy="964.3" r="0.75" fill="rgb(33,33,33)" fill-opacity="0.8"/>
<circle cx="456.0" cy="968.9" r="0.75" fill="rgb(62,62,62)" fill-opacity="0.8"/>
<circle cx="447.8" cy="975.8" r="0.75" fill="rgb(59,59,59)" fill-opacity="0.8"/>
<circle cx="443.8" cy="972.1" r="0.75" fill="rgb(113,113,113)" fill-opacity="0.8"/>
<circle cx="444.9" cy="975.4" r="0.75" fill="rgb(120,120,120)" fill-opacity="0.8"/>
<circle cx="442.8" cy="969.0" r="0.75" fill="rgb(84,84,84)" fill-opacity="0.8"/>
<circle cx="441.6" cy="966.5" r="0.75" fill="rgb(47,47,47)" fill-opacity="0.8"/>
<circle cx="441.7" cy="975.5" r="0.75" fill="rgb(134,134,134)" fill-opacity="0.8"/>
<circle cx="457.0" cy="972.9" r="0.75" fill="rgb(59,59,59)" fill-opacity="0.8"/>
<circle cx="442.4" cy="974.8" r="0.75" fill="rgb(135,135,135)" fill-opacity="0.8"/>
<circle cx="457.3" cy="969.1" r="0.75" fill="rgb(82,82,82)" fill-opacity="0.8"/>
<circle cx="454.5" cy="970.6" r="0.75" fill="rgb(120,120,120)" fill-opacity="0.8"/>
<circle cx="452.9" cy="966.0" r="0.75" fill="rgb(70,70,70)" fill-opacity="0.8"/>
<circle cx="449.1" cy="973.3" r="0.75" fill="rgb(107,107,107)" fill-opacity="0.8"/>
<circle cx="460.3" cy="970.9" r="0.75" fill="rgb(65,65,65)" fill-opacity="0.8"/>
<circle cx="449.7" cy="975.8" r="0.75" fill="rgb(110,110,110)" fill-opacity="0.8"/>
<circle cx="457.6" cy="968.1" r="0.75" fill="rgb(40,40,40)" fill-opacity="0.8"/>
<circle cx="449.5" cy="971.8" r="0.75" fill="rgb(49,49,49)" fill-opacity="0.8"/>
<circle cx="446.7" cy="967.9" r="0.75" fill="rgb(88,88,88)" fill-opacity="0.8"/>
<circle cx="457.2" cy="966.8" r="0.75" fill="rgb(28,28,28)" fill-opacity="0.8"/>
<circle cx="459.0" cy="967.2" r="0.75" fill="rgb(64,64,64)" fill-opacity="0.8"/>
<circle cx="455.9" cy="972.8" r="0.75" fill="rgb(69,69,69)" fill-opacity="0.8"/>
<circle cx="456.3" cy="976.0" r="0.75" fill="rgb(60,60,60)" fill-opacity="0.8"/>
<circle cx="450.8" cy="971.7" r="0.75" fill="rgb(85,85,85)" fill-opacity="0.8"/>
<circle cx="447.4" cy="970.4" r="0.75" fill="rgb(53,53,53)" fill-opacity="0.8"/>
<circle cx="457.2" cy="970.4" r="0.75" fill="rgb(65,65,65)" fill-opacity="0.8"/>
<circle cx="451.5" cy="975.0" r="0.75" fill="rgb(59,59,59)" fill-opacity="0.8"/>
<circle cx="446.5" cy="965.1" r="0.75" fill="rgb(38,38,38)" fill-opacity="0.8"/>
<circle cx="456.9" cy="970.2" r="0.75" fill="rgb(56,56,56)" fill-opacity="0.8"/>
<circle cx="458.0" cy="967.5" r="0.75" fill="rgb(119,119,119)" fill-opacity="0.8"/>
<circle cx="439.6" cy="967.4" r="0.75" fill="rgb(69,69,69)" fill-opacity="0.8"/>
<circle cx="451.3" cy="967.3" r="0.75" fill="rgb(46,46,46)" fill-opacity="0.8"/>
<circle cx="451.2" cy="967.0" r="0.75" fill="rgb(75,75,75)" fill-opacity="0.8"/>
<circle cx="454.8" cy="975.6" r="0.75" fill="rgb(117,117,117)" fill-opacity="0.8"/>
<circle cx="455.8" cy="965.7" r="0.75" fill="rgb(85,85,85)" fill-opacity="0.8"/>
<circle cx="456.8" cy="965.7" r="0.75" fill="rgb(118,118,118)" fill-opacity="0.8"/>
<circle cx="449.8" cy="964.9" r="0.75" fill="rgb(96,96,96)" fill-opacity="0.8"/>
<circle cx="452.0" cy="975.9" r="0.75" fill="rgb(67,67,67)" fill-opacity="0.8"/>
<circle cx="449.5" cy="971.8" r="0.75" fill="rgb(58,58,58)" fill-opacity="0.8"/>
<circle cx="454.8" cy="970.7" r="0.75" fill="rgb(119,119,119)" fill-opacity="0.8"/>
<circle cx="455.4" cy="972.2" r="0.75" fill="rgb(72,72,72)" fill-opacity="0.8"/>
<circle cx="450.5" cy="975.8" r="0.75" fill="rgb(55,55,55)" fill-opacity="0.8"/>
<circle cx="455.6" cy="965.7" r="0.75" fill="rgb(100,100,100)" fill-opacity="0.8"/>
<circle cx="458.5" cy="969.0" r="0.75" fill="rgb(70,70,70)" fill-opacity="0.8"/>
<circle cx="445.9" cy="975.4" r="0.75" fill="rgb(129,129,129)" fill-opacity="0.8"/>
<circle cx="448.6" cy="973.0" r="0.75" fill="rgb(56,56,56)" fill-opacity="0.8"/>
<circle cx="445.3" cy="969.0" r="0.75" fill="rgb(25,25,25)" fill-opacity="0.8"/>
<circle cx="446.6" cy="969.8" r="0.75" fill="rgb(55,55,55)" fill-opacity="0.8"/>
<circle cx="452.8" cy="975.8" r="0.75" fill="rgb(129,129,129)" fill-opacity="0.8"/>
<circle cx="452.3" cy="976.5" r="0.75" fill="rgb(72,72,72)" fill-opacity="0.8"/>
<circle cx="453.2" cy="976.7" r="0.75" fill="rgb(70,70,70)" fill-opacity="0.8"/>
<circle cx="442.3" cy="967.4" r="0.75" fill="rgb(118,118,118)" fill-opacity="0.8"/>
<circle cx="445.2" cy="968.8" r="0.75" fill="rgb(81,81,81)" fill-opacity="0.8"/>
<circle cx="442.8" cy="966.6" r="0.75" fill="rgb(35,35,35)" fill-opacity="0.8"/>
<circle cx="442.1" cy="967.7" r="0.75" fill="rgb(94,94,94)" fill-opacity="0.8"/>
<circle cx="444.0" cy="966.2" r="0.75" fill="rgb(106,106,106)" fill-opacity="0.8"/>
<circle cx="445.1" cy="974.3" r="0.75" fill="rgb(121,121,121)" fill-opacity="0.8"/>
<circle cx="451.5" cy="970.6" r="0.75" fill="rgb(26,26,26)" fill-opacity="0.8"/>
<circle cx="441.0" cy="968.7" r="0.75" fill="rgb(108,108,108)" fill-opacity="0.8"/>
<circle cx="451.8" cy="966.6" r="0.75" fill="rgb(85,85,85)" fill-opacity="0.8"/>
<circle cx="455.8" cy="966.5" r="0.75" fill="rgb(68,68,68)" fill-opacity="0.8"/>
<circle cx="455.6" cy="973.9" r="0.75" fill="rgb(126,126,126)" fill-opacity="0.8"/>
<circle cx="442.7" cy="966.4" r="0.75" fill="rgb(103,103,103)" fill-opacity="0.8"/>
<circle cx="451.6" cy="970.2" r="0.75" fill="rgb(88,88,88)" fill-opacity="0.8"/>
<circle cx="453.9" cy="975.0" r="0.75" fill="rgb(80,80,80)" fill-opacity="0.8"/>
<circle cx="449.4" cy="973.2" r="0.75" fill="rgb(106,106,106)" fill-opacity="0.8"/>
<circle cx="453.0" cy="967.6" r="0.75" fill="rgb(106,106,106)" fill-opacity="0.8"/>
<circle cx="443.8" cy="975.0" r="0.75" fill="rgb(134,134,134)" fill-opacity="0.8"/>
<circle cx="450.4" cy="975.7" r="0.75" fill="rgb(90,90,90)" fill-opacity="0.8"/>
<circle cx="452.7" cy="966.8" r="0.75" fill="rgb(57,57,57)" fill-opacity="0.8"/>
<circle cx="457.2" cy="972.3" r="0.75" fill="rgb(44,44,44)" fill-opacity="0.8"/>
<circle cx="440.2" cy="974.1" r="0.75" fill="rgb(116,116,116)" fill-opacity="0.8"/>
<circle cx="452.9" cy="970.0" r="0.75" fill="rgb(75,75,75)" fill-opacity="0.8"/>
<circle cx="448.0" cy="969.7" r="0.75" fill="rgb(89,89,89)" fill-opacity="0.8"/>
<circle cx="450.9" cy="967.3" r="0.75" fill="rgb(89,89,89)" fill-opacity="0.8"/>
<circle cx="447.0" cy="966.9" r="0.75" fill="rgb(103,103,103)" fill-opacity="0.8"/>
<circle cx="453.7" cy="965.5" r="0.75" fill="rgb(45,45,45)" fill-opacity="0.8"/>
<circle cx="459.4" cy="968.1" r="0.75" fill="rgb(115,115,115)" fill-opacity="0.8"/>
<circle cx="457.4" cy="965.6" r="0.75" fill="rgb(97,97,97)" fill-opacity="0.8"/>
<circle cx="442.6" cy="967.2" r="0.75" fill="rgb(32,32,32)" fill-opacity="0.8"/>
<circle cx="447.4" cy="977.0" r="0.75" fill="rgb(108,108,108)" fill-opacity="0.8"/>
<circle cx="441.0" cy="970.8" r="0.75" fill="rgb(117,117,117)" fill-opacity="0.8"/>
<circle cx="455.0" cy="975.9" r="0.75" fill="rgb(116,116,116)" fill-opacity="0.8"/>
<circle cx="457.7" cy="969.0" r="0.75" fill="rgb(97,97,97)" fill-opacity="0.8"/>
<circle cx="450.4" cy="973.8" r="0.75" fill="rgb(145,145,145)" fill-opacity="0.8"/>
<circle cx="447.3" cy="964.3" r="0.75" fill="rgb(35,35,35)" fill-opacity="0.8"/>
<circle cx="456.0" cy="973.7" r="0.75" fill="rgb(114,114,114)" fill-opacity="0.8"/>
<circle cx="439.2" cy="969.2" r="0.75" fill="rgb(111,111,111)" fill-opacity="0.8"/>
<circle cx="455.3" cy="974.3" r="0.75" fill="rgb(133,133,133)" fill-opacity="0.8"/>
<circle cx="448.0" cy="968.4" r="0.75" fill="rgb(39,39,39)" fill-opacity="0.8"/>
<circle cx="453.7" cy="964.9" r="0.75" fill="rgb(33,33,33)" fill-opacity="0.8"/>
<circle cx="454.5" cy="966.9" r="0.75" fill="rgb(48,48,48)" fill-opacity="0.8"/>
<circle cx="460.3" cy="968.7" r="0.75" fill="rgb(67,67,67)" fill-opacity="0.8"/>
<circle cx="452.0" cy="966.4" r="0.75" fill="rgb(110,110,110)" fill-opacity="0.8"/>
<circle cx="439.2" cy="969.9" r="0.75" fill="rgb(68,68,68)" fill-opacity="0.8"/>
<circle cx="447.3" cy="964.3" r="0.75" fill="rgb(88,88,88)" fill-opacity="0.8"/>
<circle cx="438.5" cy="970.1" r="0.75" fill="rgb(96,96,96)" fill-opacity="0.8"/>
<circle cx="445.1" cy="975.8" r="0.75" fill="rgb(130,130,130)" fill-opacity="0.8"/>
<circle cx="446.3" cy="974.8" r="0.75" fill="rgb(60,60,60)" fill-opacity="0.8"/>
<circle cx="452.7" cy="975.3" r="0.75" fill="rgb(87,87,87)" fill-opacity="0.8"/>
<circle cx="448.8" cy="974.2" r="0.75" fill="rgb(140,140,140)" fill-opacity="0.8"/>
<circle cx="450.6" cy="976.0" r="0.75" fill="rgb(127,127,127)" fill-opacity="0.8"/>
<circle cx="438.0" cy="970.7" r="0.75" fill="rgb(54,54,54)" fill-opacity="0.8"/>
<circle cx="447.0" cy="973.6" r="0.75" fill="rgb(101,101,101)" fill-opacity="0.8"/>
<circle cx="443.5" cy="972.0" r="0.75" fill="rgb(44,44,44)" fill-opacity="0.8"/>
<circle cx="450.5" cy="974.1" r="0.75" fill="rgb(85,85,85)" fill-opacity="0.8"/>
<circle cx="457.0" cy="969.2" r="0.75" fill="rgb(56,56,56)" fill-opacity="0.8"/>
<circle cx="454.0" cy="970.5" r="0.75" fill="rgb(96,96,96)" fill-opacity="0.8"/>
<circle cx="445.8" cy="970.9" r="0.75" fill="rgb(92,92,92)" fill-opacity="0.8"/>
<circle cx="448.2" cy="969.6" r="0.75" fill="rgb(110,110,110)" fill-opacity="0.8"/>
<circle cx="450.9" cy="968.5" r="0.75" fill="rgb(81,81,81)" fill-opacity="0.8"/>
<circle cx="448.5" cy="973.0" r="0.75" fill="rgb(53,53,53)" fill-opacity="0.8"/>
<circle cx="445.0" cy="976.5" r="0.75" fill="rgb(60,60,60)" fill-opacity="0.8"/>
<circle cx="440.8" cy="972.8" r="0.75" fill="rgb(74,74,74)" fill-opacity="0.8"/>
<circle cx="456.4" cy="970.7" r="0.75" fill="rgb(92,92,92)" fill-opacity="0.8"/>
<circle cx="447.7" cy="965.1" r="0.75" fill="rgb(37,37,37)" fill-opacity="0.8"/>
<circle cx="456.9" cy="970.7" r="0.75" fill="rgb(84,84,84)" fill-opacity="0.8"/>
<circle cx="456.8" cy="974.9" r="0.75" fill="rgb(135,135,135)" fill-opacity="0.8"/>
<circle cx="457.3" cy="975.9" r="0.75" fill="rgb(125,125,125)" fill-opacity="0.8"/>
<circle cx="454.4" cy="968.0" r="0.75" fill="rgb(80,80,80)" fill-opacity="0.8"/>
<circle cx="441.9" cy="972.7" r="0.75" fill="rgb(83,83,83)" fill-opacity="0.8"/>
<circle cx="439.3" cy="971.3" r="0.75" fill="rgb(85,85,85)" fill-opacity="0.8"/>
<circle cx="457.3" cy="973.4" r="0.75" fill="rgb(64,64,64)" fill-opacity="0.8"/>
<circle cx="450.3" cy="974.9" r="0.75" fill="rgb(68,68,68)" fill-opacity="0.8"/>
<circle cx="441.3" cy="968.0" r="0.75" fill="rgb(89,89,89)" fill-opacity="0.8"/>
<circle cx="443.5" cy="967.3" r="0.75" fill="rgb(111,111,111)" fill-opacity="0.8"/>
<circle cx="446.0" cy="966.6" r="0.75" fill="rgb(91,91,91)" fill-opacity="0.8"/>
<circle cx="446.8" cy="972.5" r="0.75" fill="rgb(28,28,28)" fill-opacity="0.8"/>
<circle cx="459.7" cy="971.4" r="0.75" fill="rgb(77,77,77)" fill-opacity="0.8"/>
<circle cx="460.2" cy="970.9" r="0.75" fill="rgb(68,68,68)" fill-opacity="0.8"/>
<circle cx="439.0" cy="968.3" r="0.75" fill="rgb(88,88,88)" fill-opacity="0.8"/>
<circle cx="449.7" cy="973.7" r="0.75" fill="rgb(117,117,117)" fill-opacity="0.8"/>
<circle cx="446.7" cy="970.8" r="0.75" fill="rgb(35,35,35)" fill-opacity="0.8"/>
<circle cx="440.8" cy="966.3" r="0.75" fill="rgb(95,95,95)" fill-opacity="0.8"/>
<circle cx="447.3" cy="976.0" r="0.75" fill="rgb(60,60,60)" fill-opacity="0.8"/>
<circle cx="446.0" cy="966.6" r="0.75" fill="rgb(31,31,31)" fill-opacity="0.8"/>
<circle cx="448.6" cy="969.3" r="0.75" fill="rgb(79,79,79)" fill-opacity="0.8"/>
<circle cx="438.4" cy="969.9" r="0.75" fill="rgb(44,44,44)" fill-opacity="0.8"/>
<circle cx="451.5" cy="973.7" r="0.75" fill="rgb(63,63,63)" fill-opacity="0.8"/>
<circle cx="451.3" cy="966.3" r="0.75" fill="rgb(53,53,53)" fill-opacity="0.8"/>
<circle cx="438.9" cy="972.7" r="0.75" fill="rgb(107,107,107)" fill-opacity="0.8"/>
<circle cx="438.9" cy="970.9" r="0.75" fill="rgb(42,42,42)" fill-opacity="0.8"/>
<circle cx="445.3" cy="971.5" r="0.75" fill="rgb(71,71,71)" fill-opacity="0.8"/>
<circle cx="438.3" cy="971.3" r="0.75" fill="rgb(63,63,63)" fill-opacity="0.8"/>
<circle cx="457.6" cy="972.6" r="0.75" fill="rgb(110,110,110)" fill-opacity="0.8"/>
<circle cx="460.2" cy="967.8" r="0.75" fill="rgb(118,118,118)" fill-opacity="0.8"/>
<circle cx="450.3" cy="975.3" r="0.75" fill="rgb(139,139,139)" fill-opacity="0.8"/>
<circle cx="443.3" cy="965.4" r="0.75" fill="rgb(112,112,112)" fill-opacity="0.8"/>
<circle cx="439.3" cy="969.9" r="0.75" fill="rgb(72,72,72)" fill-opacity="0.8"/>
<circle cx="447.1" cy="972.9" r="0.75" fill="rgb(53,53,53)" fill-opacity="0.8"/>
<circle cx="444.1" cy="973.5" r="0.75" fill="rgb(132,132,132)" fill-opacity="0.8"/>
<circle cx="449.1" cy="974.8" r="0.75" fill="rgb(83,83,83)" fill-opacity="0.8"/>
<circle cx="441.1" cy="967.3" r="0.75" fill="rgb(28,28,28)" fill-opacity="0.8"/>
<circle cx="448.6" cy="971.8" r="0.75" fill="rgb(50,50,50)" fill-opacity="0.8"/>
<circle cx="456.9" cy="968.3" r="0.75" fill="rgb(92,92,92)" fill-opacity="0.8"/>
<circle cx="443.5" cy="967.6" r="0.75" fill="rgb(117,117,117)" fill-opacity="0.8"/>
<circle cx="459.4" cy="974.9" r="0.75" fill="rgb(102,102,102)" fill-opacity="0.8"/>
<circle cx="450.8" cy="972.8" r="0.75" fill="rgb(29,29,29)" fill-opacity="0.8"/>
<circle cx="444.9" cy="973.2" r="0.75" fill="rgb(84,84,84)" fill-opacity="0.8"/>
<circle cx="445.3" cy="974.1" r="0.75" fill="rgb(90,90,90)" fill-opacity="0.8"/>
<circle cx="453.7" cy="967.5" r="0.75" fill="rgb(66,66,66)" fill-opacity="0.8"/>
<circle cx="455.6" cy="976.0" r="0.75" fill="rgb(60,60,60)" fill-opacity="0.8"/>
<circle cx="450.3" cy="966.8" r="0.75" fill="rgb(36,36,36)" fill-opacity="0.8"/>
<circle cx="445.2" cy="967.6" r="0.75" fill="rgb(63,63,63)" fill-opacity="0.8"/>
<circle cx="454.1" cy="972.0" r="0.75" fill="rgb(67,67,67)" fill-opacity="0.8"/>
<circle cx="441.3" cy="970.5" r="0.75" fill="rgb(112,112,112)" fill-opacity="0.8"/>
<circle cx="452.8" cy="973.1" r="0.75" fill="rgb(105,105,105)" fill-opacity="0.8"/>
<circle cx="439.7" cy="972.8" r="0.75" fill="rgb(107,107,107)" fill-opacity="0.8"/>
<circle cx="443.1" cy="967.1" r="0.75" fill="rgb(116,116,116)" fill-opacity="0.8"/>
<circle cx="446.7" cy="969.4" r="0.75" fill="rgb(45,45,45)" fill-opacity="0.8"/>
<circle cx="439.5" cy="970.1" r="0.75" fill="rgb(98,98,98)" fill-opacity="0.8"/>
<circle cx="447.0" cy="973.5" r="0.75" fill="rgb(58,58,58)" fill-opacity="0.8"/>
<circle cx="456.7" cy="965.6" r="0.75" fill="rgb(96,96,96)" fill-opacity="0.8"/>
<circle cx="444.8" cy="974.0" r="0.75" fill="rgb(141,141,141)" fill-opacity="0.8"/>
<circle cx="453.3" cy="969.2" r="0.75" fill="rgb(92,92,92)" fill-opacity="0.8"/>
<circle cx="452.4" cy="977.0" r="0.75" fill="rgb(78,78,78)" fill-opacity="0.8"/>
<circle cx="445.5" cy="964.5" r="0.75" fill="rgb(65,65,65)" fill-opacity="0.8"/>
<circle cx="447.3" cy="976.7" r="0.75" fill="rgb(133,133,133)" fill-opacity="0.8"/>
<circle cx="446.0" cy="972.2" r="0.75" fill="rgb(102,102,102)" fill-opacity="0.8"/>
<circle cx="453.3" cy="967.5" r="0.75" fill="rgb(104,104,104)" fill-opacity="0.8"/>
<circle cx="443.3" cy="973.3" r="0.75" fill="rgb(146,146,146)" fill-opacity="0.8"/>
<circle cx="449.3" cy="974.4" r="0.75" fill="rgb(91,91,91)" fill-opacity="0.8"/>
<circle cx="445.3" cy="966.8" r="0.75" fill="rgb(96,96,96)" fill-opacity="0.8"/>
<circle cx="451.0" cy="967.4" r="0.75" fill="rgb(34,34,34)" fill-opacity="0.8"/>
<circle cx="451.1" cy="968.8" r="0.75" fill="rgb(38,38,38)" fill-opacity="0.8"/>
<circle cx="439.9" cy="966.8" r="0.75" fill="rgb(104,104,104)" fill-opacity="0.8"/>
<circle cx="455.9" cy="973.1" r="0.75" fill="rgb(72,72,72)" fill-opacity="0.8"/>
<circle cx="441.9" cy="970.7" r="0.75" fill="rgb(85,85,85)" fill-opacity="0.8"/>
<circle cx="444.3" cy="968.4" r="0.75" fill="rgb(109,109,109)" fill-opacity="0.8"/>
<circle cx="446.1" cy="969.5" r="0.75" fill="rgb(92,92,92)" fill-opacity="0.8"/>
<circle cx="452.4" cy="965.5" r="0.75" fill="rgb(49,49,49)" fill-opacity="0.8"/>
<circle cx="441.9" cy="968.0" r="0.75" fill="rgb(39,39,39)" fill-opacity="0.8"/>
<circle cx="438.1" cy="970.7" r="0.75" fill="rgb(33,33,33)" fill-opacity="0.8"/>
<circle cx="447.4" cy="972.5" r="0.75" fill="rgb(101,101,101)" fill-opacity="0.8"/>
<circle cx="449.9" cy="964.8" r="0.75" fill="rgb(74,74,74)" fill-opacity="0.8"/>
<circle cx="456.5" cy="973.4" r="0.75" fill="rgb(64,64,64)" fill-opacity="0.8"/>
<circle cx="452.2" cy="975.9" r="0.75" fill="rgb(144,144,144)" fill-opacity="0.8"/>
<circle cx="459.6" cy="973.2" r="0.75" fill="rgb(67,67,67)" fill-opacity="0.8"/>
<circle cx="440.6" cy="967.4" r="0.75" fill="rgb(100,100,100)" fill-opacity="0.8"/>
<circle cx="441.9" cy="967.3" r="0.75" fill="rgb(99,99,99)" fill-opacity="0.8"/>
<circle cx="449.0" cy="966.3" r="0.75" fill="rgb(99,99,99)" fill-opacity="0.8"/>
<circle cx="445.9" cy="970.6" r="0.75" fill="rgb(42,42,42)" fill-opacity="0.8"/>
<circle cx="440.7" cy="969.1" r="0.75" fill="rgb(108,108,108)" fill-opacity="0.8"/>
<circle cx="443.0" cy="967.8" r="0.75" fill="rgb(108,108,108)" fill-opacity="0.8"/>
<circle cx="457.5" cy="975.3" r="0.75" fill="rgb(135,135,135)" fill-opacity="0.8"/>
<circle cx="448.9" cy="976.0" r="0.75" fill="rgb(104,104,104)" fill-opacity="0.8"/>
<circle cx="450.1" cy="966.3" r="0.75" fill="rgb(70,70,70)" fill-opacity="0.8"/>
<circle cx="442.9" cy="968.2" r="0.75" fill="rgb(86,86,86)" fill-opacity="0.8"/>
<circle cx="438.7" cy="971.0" r="0.75" fill="rgb(66,66,66)" fill-opacity="0.8"/>
<circle cx="453.6" cy="966.5" r="0.75" fill="rgb(111,111,111)" fill-opacity="0.8"/>
<circle cx="454.2" cy="970.1" r="0.75" fill="rgb(117,117,117)" fill-opacity="0.8"/>
<circle cx="459.0" cy="971.4" r="0.75" fill="rgb(113,113,113)" fill-opacity="0.8"/>
<circle cx="454.0" cy="968.6" r="0.75" fill="rgb(117,117,117)" fill-opacity="0.8"/>
<circle cx="438.2" cy="969.3" r="0.75" fill="rgb(67,67,67)" fill-opacity="0.8"/>
<circle cx="444.5" cy="976.1" r="0.75" fill="rgb(107,107,107)" fill-opacity="0.8"/>
<circle cx="457.3" cy="970.4" r="0.75" fill="rgb(74,74,74)" fill-opacity="0.8"/>
<circle cx="453.1" cy="971.4" r="0.75" fill="rgb(34,34,34)" fill-opacity="0.8"/>
<circle cx="460.4" cy="973.2" r="0.75" fill="rgb(73,73,73)" fill-opacity="0.8"/>
<circle cx="460.6" cy="973.4" r="0.75" fill="rgb(118,118,118)" fill-opacity="0.8"/>
<circle cx="439.5" cy="972.9" r="0.75" fill="rgb(73,73,73)" fill-opacity="0.8"/>
<circle cx="450.4" cy="974.6" r="0.75" fill="rgb(79,79,79)" fill-opacity="0.8"/>
<circle cx="458.8" cy="973.3" r="0.75" fill="rgb(142,142,142)" fill-opacity="0.8"/>
<circle cx="449.1" cy="971.7" r="0.75" fill="rgb(77,77,77)" fill-opacity="0.8"/>
<circle cx="458.0" cy="967.7" r="0.75" fill="rgb(53,53,53)" fill-opacity="0.8"/>
<circle cx="455.0" cy="967.9" r="0.75" fill="rgb(41,41,41)" fill-opacity="0.8"/>
<circle cx="445.9" cy="969.2" r="0.75" fill="rgb(50,50,50)" fill-opacity="0.8"/>
<circle cx="444.8" cy="971.7" r="0.75" fill="rgb(25,25,25)" fill-opacity="0.8"/>
<circle cx="445.1" cy="965.4" r="0.75" fill="rgb(88,88,88)" fill-opacity="0.8"/>
<circle cx="465.3" cy="986.6" r="0.75" fill="rgb(126,126,126)" fill-opacity="0.8"/>
<circle cx="468.9" cy="995.3" r="0.75" fill="rgb(45,45,45)" fill-opacity="0.8"/>
<circle cx="464.7" cy="991.0" r="0.75" fill="rgb(112,112,112)" fill-opacity="0.8"/>
<circle cx="464.6" cy="982.3" r="0.75" fill="rgb(100,100,100)" fill-opacity="0.8"/>
<circle cx="467.6" cy="993.2" r="0.75" fill="rgb(70,70,70)" fill-opacity="0.8"/>
<circle cx="466.2" cy="986.7" r="0.75" fill="rgb(88,88,88)" fill-opacity="0.8"/>
<circle cx="462.6" cy="983.2" r="0.75" fill="rgb(65,65,65)" fill-opacity="0.8"/>
<circle cx="463.0" cy="986.5" r="0.75" fill="rgb(112,112,112)" fill-opacity="0.8"/>
<circle cx="464.3" cy="988.7" r="0.75" fill="rgb(62,62,62)" fill-opacity="0.8"/>
<circle cx="469.2" cy="994.8" r="0.75" fill="rgb(120,120,120)" fill-opacity="0.8"/>
<circle cx="462.7" cy="984.6" r="0.75" fill="rgb(116,116,116)" fill-opacity="0.8"/>
<circle cx="463.6" cy="985.6" r="0.75" fill="rgb(135,135,135)" fill-opacity="0.8"/>
<circle cx="463.4" cy="984.1" r="0.75" fill="rgb(73,73,73)" fill-opacity="0.8"/>
<circle cx="457.5" cy="979.1" r="0.75" fill="rgb(73,73,73)" fill-opacity="0.8"/>
<circle cx="466.8" cy="997.4" r="0.75" fill="rgb(124,124,124)" fill-opacity="0.8"/>
<circle cx="466.3" cy="991.1" r="0.75" fill="rgb(61,61,61)" fill-opacity="0.8"/>
<circle cx="463.6" cy="985.4" r="0.75" fill="rgb(127,127,127)" fill-opacity="0.8"/>
<circle cx="463.4" cy="993.7" r="0.75" fill="rgb(58,58,58)" fill-opacity="0.8"/>
<circle cx="472.2" cy="993.7" r="0.75" fill="rgb(55,55,55)" fill-opacity="0.8"/>
<circle cx="463.7" cy="988.5" r="0.75" fill="rgb(74,74,74)" fill-opacity="0.8"/>
<circle cx="455.7" cy="978.0" r="0.75" fill="rgb(69,69,69)" fill-opacity="0.8"/>
<circle cx="467.1" cy="987.6" r="0.75" fill="rgb(69,69,69)" fill-opacity="0.8"/>
<circle cx="461.9" cy="985.0" r="0.75" fill="rgb(136,136,136)" fill-opacity="0.8"/>
<circle cx="464.6" cy="988.6" r="0.75" fill="rgb(124,124,124)" fill-opacity="0.8"/>
<circle cx="464.0" cy="984.8" r="0.75" fill="rgb(93,93,93)" fill-opacity="0.8"/>
<circle cx="463.1" cy="982.2" r="0.75" fill="rgb(131,131,131)" fill-opacity="0.8"/>
<circle cx="466.2" cy="983.5" r="0.75" fill="rgb(128,128,128)" fill-opacity="0.8"/>
<circle cx="464.1" cy="985.7" r="0.75" fill="rgb(83,83,83)" fill-opacity="0.8"/>
<circle cx="464.9" cy="992.1" r="0.75" fill="rgb(138,138,138)" fill-opacity="0.8"/>
<circle cx="463.0" cy="986.4" r="0.75" fill="rgb(125,125,125)" fill-opacity="0.8"/>
<circle cx="464.9" cy="987.0" r="0.75" fill="rgb(94,94,94)" fill-opacity="0.8"/>
<circle cx="469.4" cy="995.8" r="0.75" fill="rgb(49,49,49)" fill-opacity="0.8"/>
<circle cx="460.6" cy="983.8" r="0.75" fill="rgb(72,72,72)" fill-opacity="0.8"/>
<circle cx="462.9" cy="979.5" r="0.75" fill="rgb(73,73,73)" fill-opacity="0.8"/>
<circle cx="459.5" cy="978.1" r="0.75" fill="rgb(61,61,61)" fill-opacity="0.8"/>
<circle cx="465.3" cy="984.6" r="0.75" fill="rgb(111,111,111)" fill-opacity="0.8"/>
<circle cx="467.0" cy="987.7" r="0.75" fill="rgb(133,133,133)" fill-opacity="0.8"/>
<circle cx="466.6" cy="992.1" r="0.75" fill="rgb(76,76,76)" fill-opacity="0.8"/>
<circle cx="463.8" cy="983.2" r="0.75" fill="rgb(120,120,120)" fill-opacity="0.8"/>
<circle cx="471.0" cy="996.7" r="0.75" fill="rgb(87,87,87)" fill-opacity="0.8"/>
<circle cx="466.8" cy="992.7" r="0.75" fill="rgb(88,88,88)" fill-opacity="0.8"/>
<circle cx="458.0" cy="981.1" r="0.75" fill="rgb(89,89,89)" fill-opacity="0.8"/>
<circle cx="464.4" cy="989.2" r="0.75" fill="rgb(104,104,104)" fill-opacity="0.8"/>
<circle cx="460.2" cy="980.7" r="0.75" fill="rgb(127,127,127)" fill-opacity="0.8"/>
<circle cx="467.5" cy="987.2" r="0.75" fill="rgb(116,116,116)" fill-opacity="0.8"/>
<circle cx="467.2" cy="989.8" r="0.75" fill="rgb(77,77,77)" fill-opacity="0.8"/>
<circle cx="458.1" cy="979.2" r="0.75" fill="rgb(65,65,65)" fill-opacity="0.8"/>
<circle cx="457.6" cy="976.3" r="0.75" fill="rgb(82,82,82)" fill-opacity="0.8"/>
<circle cx="461.8" cy="984.3" r="0.75" fill="rgb(110,110,110)" fill-opacity="0.8"/>
<circle cx="458.5" cy="976.6" r="0.75" fill="rgb(138,138,138)" fill-opacity="0.8"/>
<circle cx="466.0" cy="987.7" r="0.75" fill="rgb(108,108,108)" fill-opacity="0.8"/>
<circle cx="460.6" cy="978.4" r="0.75" fill="rgb(120,120,120)" fill-opacity="0.8"/>
<circle cx="461.5" cy="980.6" r="0.75" fill="rgb(127,127,127)" fill-opacity="0.8"/>
<circle cx="457.9" cy="980.4" r="0.75" fill="rgb(131,131,131)" fill-opacity="0.8"/>
<circle cx="462.4" cy="983.5" r="0.75" fill="rgb(44,44,44)" fill-opacity="0.8"/>
<circle cx="468.8" cy="995.2" r="0.75" fill="rgb(115,115,115)" fill-opacity="0.8"/>
<circle cx="460.9" cy="976.6" r="0.75" fill="rgb(66,66,66)" fill-opacity="0.8"/>
<circle cx="469.5" cy="992.7" r="0.75" fill="rgb(116,116,116)" fill-opacity="0.8"/>
<circle cx="464.8" cy="988.1" r="0.75" fill="rgb(121,121,121)" fill-opacity="0.8"/>
<circle cx="462.6" cy="984.2" r="0.75" fill="rgb(51,51,51)" fill-opacity="0.8"/>
<circle cx="464.5" cy="990.6" r="0.75" fill="rgb(60,60,60)" fill-opacity="0.8"/>
<circle cx="457.2" cy="973.8" r="0.75" fill="rgb(140,140,140)" fill-opacity="0.8"/>
<circle cx="468.3" cy="992.6" r="0.75" fill="rgb(127,127,127)" fill-opacity="0.8"/>
<circle cx="467.6" cy="994.5" r="0.75" fill="rgb(58,58,58)" fill-opacity="0.8"/>
<circle cx="465.9" cy="990.9" r="0.75" fill="rgb(58,58,58)" fill-opacity="0.8"/>
<circle cx="460.1" cy="978.2" r="0.75" fill="rgb(99,99,99)" fill-opacity="0.8"/>
<circle cx="463.4" cy="979.5" r="0.75" fill="rgb(127,127,127)" fill-opacity="0.8"/>
<circle cx="464.3" cy="991.1" r="0.75" fill="rgb(90,90,90)" fill-opacity="0.8"/>
<circle cx="466.9" cy="993.9" r="0.75" fill="rgb(41,41,41)" fill-opacity="0.8"/>
<circle cx="468.9" cy="994.6" r="0.75" fill="rgb(125,125,125)" fill-opacity="0.8"/>
<circle cx="466.8" cy="995.6" r="0.75" fill="rgb(117,117,117)" fill-opacity="0.8"/>
<circle cx="470.4" cy="995.5" r="0.75" fill="rgb(88,88,88)" fill-opacity="0.8"/>
<circle cx="462.2" cy="981.3" r="0.75" fill="rgb(116,116,116)" fill-opacity="0.8"/>
<circle cx="465.9" cy="988.0" r="0.75" fill="rgb(95,95,95)" fill-opacity="0.8"/>
<circle cx="463.5" cy="985.8" r="0.75" fill="rgb(113,113,113)" fill-opacity="0.8"/>
<circle cx="468.3" cy="992.7" r="0.75" fill="rgb(107,107,107)" fill-opacity="0.8"/>
<circle cx="466.8" cy="989.4" r="0.75" fill="rgb(109,109,109)" fill-opacity="0.8"/>
<circle cx="463.2" cy="984.1" r="0.75" fill="rgb(73,73,73)" fill-opacity="0.8"/>
<circle cx="468.2" cy="994.4" r="0.75" fill="rgb(127,127,127)" fill-opacity="0.8"/>
<circle cx="467.8" cy="995.3" r="0.75" fill="rgb(46,46,46)" fill-opacity="0.8"/>
<circle cx="462.4" cy="982.4" r="0.75" fill="rgb(78,78,78)" fill-opacity="0.8"/>
<circle cx="469.0" cy="993.7" r="0.75" fill="rgb(57,57,57)" fill-opacity="0.8"/>
<circle cx="469.3" cy="993.5" r="0.75" fill="rgb(70,70,70)" fill-opacity="0.8"/>
<circle cx="460.8" cy="983.3" r="0.75" fill="rgb(112,112,112)" fill-opacity="0.8"/>
<circle cx="460.5" cy="982.1" r="0.75" fill="rgb(66,66,66)" fill-opacity="0.8"/>
<circle cx="463.9" cy="987.2" r="0.75" fill="rgb(131,131,131)" fill-opacity="0.8"/>
<circle cx="463.5" cy="990.6" r="0.75" fill="rgb(44,44,44)" fill-opacity="0.8"/>
<circle cx="464.9" cy="991.4" r="0.75" fill="rgb(83,83,83)" fill-opacity="0.8"/>
<circle cx="460.0" cy="978.2" r="0.75" fill="rgb(136,136,136)" fill-opacity="0.8"/>
<circle cx="454.3" cy="976.9" r="0.75" fill="rgb(59,59,59)" fill-opacity="0.8"/>
<circle cx="461.2" cy="987.9" r="0.75" fill="rgb(61,61,61)" fill-opacity="0.8"/>
<circle cx="460.5" cy="982.8" r="0.75" fill="rgb(43,43,43)" fill-opacity="0.8"/>
<circle cx="460.1" cy="979.6" r="0.75" fill="rgb(83,83,83)" fill-opacity="0.8"/>
<circle cx="462.7" cy="988.5" r="0.75" fill="rgb(75,75,75)" fill-opacity="0.8"/>
<circle cx="462.6" cy="987.2" r="0.75" fill="rgb(45,45,45)" fill-opacity="0.8"/>
<circle cx="466.3" cy="994.6" r="0.75" fill="rgb(61,61,61)" fill-opacity="0.8"/>
<circle cx="460.6" cy="978.7" r="0.75" fill="rgb(135,135,135)" fill-opacity="0.8"/>
<circle cx="458.7" cy="977.9" r="0.75" fill="rgb(51,51,51)" fill-opacity="0.8"/>
<circle cx="461.9" cy="981.5" r="0.75" fill="rgb(111,111,111)" fill-opacity="0.8"/>
<circle cx="459.4" cy="983.3" r="0.75" fill="rgb(77,77,77)" fill-opacity="0.8"/>
<circle cx="459.3" cy="976.6" r="0.75" fill="rgb(77,77,77)" fill-opacity="0.8"/>
<circle cx="472.5" cy="992.2" r="0.75" fill="rgb(71,71,71)" fill-opacity="0.8"/>
<circle cx="464.0" cy="985.6" r="0.75" fill="rgb(70,70,70)" fill-opacity="0.8"/>
<circle cx="465.4" cy="993.5" r="0.75" fill="rgb(102,102,102)" fill-opacity="0.8"/>
<circle cx="464.2" cy="991.8" r="0.75" fill="rgb(68,68,68)" fill-opacity="0.8"/>
<circle cx="461.8" cy="979.3" r="0.75" fill="rgb(140,140,140)" fill-opacity="0.8"/>
<circle cx="459.1" cy="976.6" r="0.75" fill="rgb(136,136,136)" fill-opacity="0.8"/>
<circle cx="457.9" cy="982.1" r="0.75" fill="rgb(108,108,108)" fill-opacity="0.8"/>
<circle cx="467.8" cy="994.4" r="0.75" fill="rgb(122,122,122)" fill-opacity="0.8"/>
<circle cx="458.9" cy="979.1" r="0.75" fill="rgb(98,98,98)" fill-opacity="0.8"/>
<circle cx="441.7" cy="1019.0" r="1" fill="#888"/>
<text x="145.2" y="375.2" font-size="9.5" text-anchor="middle" font-family="DejaVu Sans, sans-serif" font-weight="normal" fill="#111">CD16 Mono</text>
<text x="225" y="383.59999999999997" font-size="9.5" text-anchor="middle" font-family="DejaVu Sans, sans-serif" font-weight="normal" fill="#111">CD14 Mono</text>
<text x="170.4" y="403.4" font-size="9.5" text-anchor="middle" font-family="DejaVu Sans, sans-serif" font-weight="normal" fill="#111">cDC2</text>
<text x="225" y="437.59999999999997" font-size="9.5" text-anchor="middle" font-family="DejaVu Sans, sans-serif" font-weight="normal" fill="#111">Platelet</text>
<text x="126.5" y="446.0" font-size="9.5" text-anchor="middle" font-family="DejaVu Sans, sans-serif" font-weight="normal" fill="#111">HSPC</text>
<text x="93" y="460.4" font-size="9.5" text-anchor="middle" font-family="DejaVu Sans, sans-serif" font-weight="normal" fill="#111">pDC</text>
<text x="185.4" y="461.59999999999997" font-size="9.5" text-anchor="middle" font-family="DejaVu Sans, sans-serif" font-weight="normal" fill="#111">other</text>
<text x="275.4" y="462.79999999999995" font-size="9.5" text-anchor="middle" font-family="DejaVu Sans, sans-serif" font-weight="normal" fill="#111">CD8 Naive</text>
<text x="201" y="480.79999999999995" font-size="9.5" text-anchor="middle" font-family="DejaVu Sans, sans-serif" font-weight="normal" fill="#111">Eryth</text>
<text x="271.7" y="486.79999999999995" font-size="9.5" text-anchor="middle" font-family="DejaVu Sans, sans-serif" font-weight="normal" fill="#111">CD4 Naive</text>
<text x="254.4" y="498.79999999999995" font-size="9.5" text-anchor="middle" font-family="DejaVu Sans, sans-serif" font-weight="normal" fill="#111">Treg</text>
<text x="85.5" y="505.4" font-size="9.5" text-anchor="middle" font-family="DejaVu Sans, sans-serif" font-weight="normal" fill="#111">Plasmablast</text>
<text x="81" y="516.8" font-size="9.5" text-anchor="middle" font-family="DejaVu Sans, sans-serif" font-weight="normal" fill="#111">B memory</text>
<text x="235" y="512.6" font-size="9.5" text-anchor="middle" font-family="DejaVu Sans, sans-serif" font-weight="normal" fill="#111">dnT</text>
<text x="300" y="512.6" font-size="9.5" text-anchor="middle" font-family="DejaVu Sans, sans-serif" font-weight="normal" fill="#111">CD4 TCM</text>
<text x="298.4" y="525.8" font-size="9.5" text-anchor="middle" font-family="DejaVu Sans, sans-serif" font-weight="normal" fill="#111">CD8 TCM</text>
<text x="249" y="530.0" font-size="9.5" text-anchor="middle" font-family="DejaVu Sans, sans-serif" font-weight="normal" fill="#111">CD4 TEM</text>
<text x="92.4" y="533.0" font-size="9.5" text-anchor="middle" font-family="DejaVu Sans, sans-serif" font-weight="normal" fill="#111">B intermediate</text>
<text x="267.5" y="547.4" font-size="9.5" text-anchor="middle" font-family="DejaVu Sans, sans-serif" font-weight="normal" fill="#111">gdT</text>
<text x="234.5" y="550.4" font-size="9.5" text-anchor="middle" font-family="DejaVu Sans, sans-serif" font-weight="normal" fill="#111">MAIT</text>
<text x="78" y="552.1999999999999" font-size="9.5" text-anchor="middle" font-family="DejaVu Sans, sans-serif" font-weight="normal" fill="#111">B naive</text>
<text x="237.5" y="566.0" font-size="9.5" text-anchor="middle" font-family="DejaVu Sans, sans-serif" font-weight="normal" fill="#111">CD4 CTL</text>
<text x="285.5" y="572.6" font-size="9.5" text-anchor="middle" font-family="DejaVu Sans, sans-serif" font-weight="normal" fill="#111">CD8 TEM</text>
<text x="211" y="592.4" font-size="9.5" text-anchor="middle" font-family="DejaVu Sans, sans-serif" font-weight="normal" fill="#111">NK-CD56bright</text>
<text x="260" y="592.4" font-size="9.5" text-anchor="middle" font-family="DejaVu Sans, sans-serif" font-weight="normal" fill="#111">NK</text>
<text x="260.5" y="614.0" font-size="9.5" text-anchor="middle" font-family="DejaVu Sans, sans-serif" font-weight="normal" fill="#111">NK Proliferating</text>
</svg></body></html>
